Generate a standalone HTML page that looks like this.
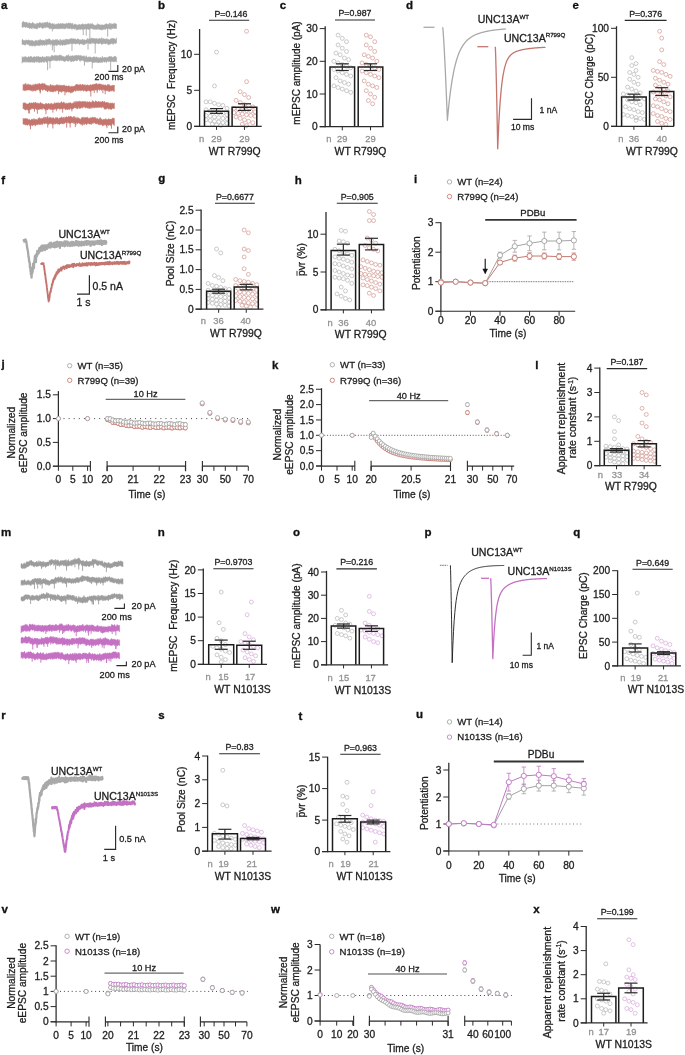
<!DOCTYPE html>
<html><head><meta charset="utf-8"><title>Figure</title>
<style>html,body{margin:0;padding:0;background:#fff;}svg{display:block;filter:blur(0.35px);}text{font-family:"Liberation Sans", Arial, sans-serif;fill:#1e1e1e;stroke:#1e1e1e;stroke-width:0.3px;}</style>
</head><body>
<svg width="685" height="1055" viewBox="0 0 685 1055">
<rect width="685" height="1055" fill="#fff"/>
<text x="1" y="9.4" font-size="11.5" style="fill:#111;stroke:#111" font-weight="bold">a</text>
<path d="M22,22.58 L22.59,22.62 L23.19,21.16 L23.78,21.73 L24.38,22.29 L24.97,22.09 L25.57,22.65 L26.16,22.44 L26.76,21.82 L27.35,23.11 L27.95,23.44 L28.54,23.29 L29.14,22.62 L29.73,22.84 L30.33,23.47 L30.92,23.42 L31.52,23.53 L32.11,22.78 L32.71,22.35 L33.3,22.89 L33.9,23.49 L34.49,23.78 L35.09,24.66 L35.68,23.79 L36.28,23.8 L36.87,23.43 L37.47,23.19 L38.06,23.59 L38.66,23.32 L39.25,22.87 L39.85,22.48 L40.44,22.88 L41.04,22.75 L41.63,23.54 L42.23,23.43 L42.82,22.41 L43.42,23.44 L44.01,22.53 L44.61,22.8 L45.2,23.34 L45.8,22.12 L46.39,22.79 L46.99,22.13 L47.58,21.83 L48.18,23.47 L48.77,23.09 L49.37,22.8 L49.96,22.54 L50.56,23.2 L51.15,24.19 L51.75,23.83 L52.34,23.55 L52.94,23.63 L53.53,24.14 L54.13,23.4 L54.72,24.83 L55.32,24.38 L55.91,24.7 L56.51,23.76 L57.1,24.37 L57.7,24.29 L58.29,23.15 L58.89,24.05 L59.48,24.05 L60.08,23.47 L60.67,23.57 L61.27,23.95 L61.86,23.73 L62.46,23.12 L63.05,24.04 L63.65,23.87 L64.24,24.02 L64.84,23.79 L65.43,23.97 L66.03,23.54 L66.62,23.14 L67.22,23.33 L67.81,24.23 L68.41,22.68 L69,23.95 L69.6,23.08 L70.19,22.98 L70.79,23.22 L71.38,23.58 L71.98,24.29 L72.57,23.05 L73.17,24.89 L73.76,24.88 L74.36,24.31 L74.95,24.22 L75.55,23.99 L76.14,25.01 L76.74,24.69 L77.33,25.39 L77.93,24.42 L78.52,24.97 L79.12,24.64 L79.71,24.03 L80.31,25.35 L80.9,24.53 L81.5,24.6 L82.09,23.81 L82.69,23.9 L83.28,24.43 L83.88,24.14 L84.47,24.59 L85.07,24.48 L85.66,23.81 L86.26,24.42 L86.85,24.18 L87.45,23.99 L88.04,23.5 L88.64,23.59 L89.23,24.15 L89.83,24.42 L90.42,23.38 L91.02,24.48 L91.61,23.94 L92.21,23.37 L92.8,24.37 L93.4,24.78 L93.99,24.66 L94.59,25.85 L95.18,25.01 L95.78,25.39 L96.37,24.89 L96.97,25.31 L97.56,23.57 L98.16,24.27 L98.75,24.55 L99.35,24.8 L99.94,24.59 L100.54,25.14 L101.13,24.83 L101.73,24.9 L102.32,24.75 L102.92,24.92 L103.51,25.11 L104.11,24.91 L104.7,24.86 L105.3,24.12 L105.89,23.82 L106.49,23.79 L107.08,24.18 L107.68,24.76 L108.27,24.11 L108.87,24.18 L109.46,22.97 L110.06,25.25 L110.65,23.38 L111.25,24.77 L111.84,23.49 L112.44,24.16 L113.03,24.11 L113.63,23.72 L114.22,23.39 L114.82,23.13 L115.41,23.61 L116.01,24.27 L116.6,23.92 L116.6,28.13 L116.01,29.04 L115.41,28 L114.82,28.89 L114.22,27.9 L113.63,28.57 L113.03,27.45 L112.44,28.92 L111.84,28.23 L111.25,29.43 L110.65,29.51 L110.06,28.52 L109.46,29.07 L108.87,28.91 L108.27,28.01 L107.68,28.74 L107.08,29.19 L106.49,28.19 L105.89,28.64 L105.3,29.8 L104.7,29.1 L104.11,29.13 L103.51,29.16 L102.92,29.14 L102.32,30.18 L101.73,29.27 L101.13,30.18 L100.54,29.42 L99.94,29.57 L99.35,29.45 L98.75,29.58 L98.16,28.79 L97.56,29.12 L96.97,29.63 L96.37,29.24 L95.78,29.64 L95.18,29.1 L94.59,29.22 L93.99,29.31 L93.4,29.17 L92.8,29.34 L92.21,27.96 L91.61,28.6 L91.02,28.58 L90.42,28.22 L89.83,28.97 L89.23,30.04 L88.64,29.07 L88.04,29.56 L87.45,28.95 L86.85,29.25 L86.26,28.91 L85.66,28.77 L85.07,29.35 L84.47,29.25 L83.88,28.73 L83.28,28.94 L82.69,29.45 L82.09,29.54 L81.5,28.99 L80.9,29.47 L80.31,29.47 L79.71,29.21 L79.12,29.21 L78.52,29.61 L77.93,30.02 L77.33,29.39 L76.74,29.22 L76.14,30.25 L75.55,27.66 L74.95,28.91 L74.36,29.14 L73.76,28.81 L73.17,28.41 L72.57,28.76 L71.98,29.43 L71.38,28.73 L70.79,27.7 L70.19,28.8 L69.6,28.7 L69,27.87 L68.41,28.72 L67.81,28.39 L67.22,28.36 L66.62,27.69 L66.03,27.97 L65.43,28.94 L64.84,28.8 L64.24,28.84 L63.65,28.76 L63.05,28.49 L62.46,28.54 L61.86,28.51 L61.27,28.72 L60.67,28.69 L60.08,28.47 L59.48,28.67 L58.89,29.16 L58.29,28.54 L57.7,28.43 L57.1,29.16 L56.51,28.53 L55.91,29.11 L55.32,28.43 L54.72,28.47 L54.13,28.99 L53.53,29.12 L52.94,29.08 L52.34,27.44 L51.75,28.75 L51.15,27.63 L50.56,28.65 L49.96,29.23 L49.37,28.02 L48.77,27.75 L48.18,27.87 L47.58,27.49 L46.99,26.87 L46.39,27.26 L45.8,27.83 L45.2,27.57 L44.61,27.63 L44.01,27.62 L43.42,27.92 L42.82,28.41 L42.23,28.39 L41.63,28.03 L41.04,26.9 L40.44,27.11 L39.85,27.71 L39.25,27.89 L38.66,27.13 L38.06,27.87 L37.47,28.78 L36.87,28.39 L36.28,29.22 L35.68,28.25 L35.09,28.54 L34.49,28.54 L33.9,27.86 L33.3,28.34 L32.71,28.43 L32.11,26.73 L31.52,28.76 L30.92,28.51 L30.33,28.04 L29.73,28.27 L29.14,28.38 L28.54,27.44 L27.95,28.07 L27.35,27.34 L26.76,26.72 L26.16,27.27 L25.57,27.86 L24.97,26.89 L24.38,26.81 L23.78,27.24 L23.19,26.51 L22.59,27.67 L22,26.71Z" fill="#a9a9a9" stroke="#a9a9a9" stroke-width="0.5"/>
<line x1="52.34" y1="26.44" x2="52.34" y2="31.47" stroke="#a9a9a9" stroke-width="0.9"/>
<line x1="83.28" y1="27.94" x2="83.28" y2="35.01" stroke="#a9a9a9" stroke-width="0.9"/>
<line x1="107.68" y1="27.74" x2="107.68" y2="36.59" stroke="#a9a9a9" stroke-width="0.9"/>
<line x1="89.83" y1="27.97" x2="89.83" y2="38.42" stroke="#a9a9a9" stroke-width="0.9"/>
<line x1="86.26" y1="27.91" x2="86.26" y2="35.66" stroke="#a9a9a9" stroke-width="0.9"/>
<path d="M22,39.78 L22.59,39.34 L23.19,39.99 L23.78,40.59 L24.38,40.55 L24.97,40.71 L25.57,39.92 L26.16,40.38 L26.76,39.86 L27.35,40.58 L27.95,39.88 L28.54,39.88 L29.14,39.98 L29.73,40.85 L30.33,40.66 L30.92,40.59 L31.52,40.14 L32.11,40.89 L32.71,40.14 L33.3,41.63 L33.9,40.9 L34.49,41.13 L35.09,40.97 L35.68,40.2 L36.28,40.23 L36.87,40.74 L37.47,41.41 L38.06,40.03 L38.66,40.13 L39.25,40.42 L39.85,39.55 L40.44,39.52 L41.04,40.13 L41.63,40.37 L42.23,40.03 L42.82,41.04 L43.42,40.1 L44.01,40.21 L44.61,40.74 L45.2,40.65 L45.8,39.14 L46.39,39.55 L46.99,40.32 L47.58,39.13 L48.18,39.24 L48.77,38.97 L49.37,38.92 L49.96,39.17 L50.56,39.9 L51.15,40.51 L51.75,40.81 L52.34,40.18 L52.94,39.27 L53.53,40.17 L54.13,39.99 L54.72,40.36 L55.32,40.03 L55.91,39.31 L56.51,40.3 L57.1,39.13 L57.7,39.99 L58.29,40.41 L58.89,40.49 L59.48,41.11 L60.08,39.09 L60.67,40.38 L61.27,40.41 L61.86,39.93 L62.46,40.43 L63.05,39.41 L63.65,40.37 L64.24,40.33 L64.84,39.49 L65.43,39.49 L66.03,39.56 L66.62,39.09 L67.22,39.82 L67.81,39.12 L68.41,39.63 L69,39.67 L69.6,39.03 L70.19,38.94 L70.79,38.44 L71.38,38.66 L71.98,38.53 L72.57,38.96 L73.17,38.38 L73.76,38.9 L74.36,39.09 L74.95,38.65 L75.55,38.9 L76.14,39.77 L76.74,39.99 L77.33,38.77 L77.93,39.09 L78.52,39.14 L79.12,39.28 L79.71,40.21 L80.31,39.65 L80.9,40.01 L81.5,40.27 L82.09,39.14 L82.69,39.21 L83.28,39.44 L83.88,40.17 L84.47,39.63 L85.07,40.04 L85.66,40.13 L86.26,39.94 L86.85,39.47 L87.45,38.63 L88.04,38.22 L88.64,39.39 L89.23,39.12 L89.83,38.53 L90.42,38.63 L91.02,38.5 L91.61,37.8 L92.21,38.69 L92.8,38.24 L93.4,38.33 L93.99,38.8 L94.59,38.43 L95.18,38.71 L95.78,38.74 L96.37,38.45 L96.97,38.52 L97.56,39.46 L98.16,38.55 L98.75,39.44 L99.35,38.09 L99.94,39.04 L100.54,38.91 L101.13,38.51 L101.73,37.53 L102.32,39.77 L102.92,38.38 L103.51,38.5 L104.11,39.07 L104.7,39.1 L105.3,39.2 L105.89,38.94 L106.49,38.48 L107.08,39.64 L107.68,38.72 L108.27,39.31 L108.87,39.63 L109.46,39.93 L110.06,39.14 L110.65,38.99 L111.25,38.95 L111.84,38.12 L112.44,38.6 L113.03,38.5 L113.63,38.33 L114.22,38.93 L114.82,38.72 L115.41,39.55 L116.01,39.43 L116.6,37.69 L116.6,43.1 L116.01,43.5 L115.41,43.53 L114.82,43 L114.22,43.46 L113.63,43.84 L113.03,44.62 L112.44,43.44 L111.84,43.18 L111.25,43.75 L110.65,44.09 L110.06,44.23 L109.46,44.2 L108.87,44.11 L108.27,45.21 L107.68,43.68 L107.08,43.59 L106.49,43.35 L105.89,44.12 L105.3,44.02 L104.7,43.1 L104.11,43.63 L103.51,42.95 L102.92,44.27 L102.32,43.76 L101.73,44.47 L101.13,44.05 L100.54,42.52 L99.94,43.66 L99.35,43.1 L98.75,43.93 L98.16,43.47 L97.56,43.44 L96.97,43.29 L96.37,43.03 L95.78,43.98 L95.18,43.78 L94.59,43.66 L93.99,42.73 L93.4,43.14 L92.8,43.56 L92.21,42.67 L91.61,42.53 L91.02,44.24 L90.42,43.52 L89.83,44.06 L89.23,43.39 L88.64,43.26 L88.04,42.77 L87.45,42.78 L86.85,43.59 L86.26,43.59 L85.66,43.85 L85.07,43.57 L84.47,44.81 L83.88,45.09 L83.28,44.43 L82.69,44 L82.09,44.47 L81.5,43.63 L80.9,43.46 L80.31,44.12 L79.71,44.12 L79.12,44.9 L78.52,42.4 L77.93,43.96 L77.33,43.06 L76.74,43.87 L76.14,43.74 L75.55,44.34 L74.95,43.24 L74.36,43.39 L73.76,43.4 L73.17,43.89 L72.57,43.61 L71.98,44.05 L71.38,43.34 L70.79,43.86 L70.19,43.51 L69.6,43.82 L69,44.18 L68.41,44.34 L67.81,44.07 L67.22,44.35 L66.62,44.09 L66.03,45.11 L65.43,44.92 L64.84,44.74 L64.24,45.17 L63.65,44.64 L63.05,44.9 L62.46,45.67 L61.86,44.45 L61.27,44.68 L60.67,44.82 L60.08,45.63 L59.48,44.31 L58.89,44.98 L58.29,44.37 L57.7,44.71 L57.1,45.48 L56.51,45.51 L55.91,45.26 L55.32,44.98 L54.72,44.62 L54.13,45.82 L53.53,45.36 L52.94,45.22 L52.34,45.24 L51.75,43.63 L51.15,43.99 L50.56,45.28 L49.96,44.37 L49.37,43.91 L48.77,44.3 L48.18,44.5 L47.58,44.62 L46.99,44.46 L46.39,45.58 L45.8,44 L45.2,45.02 L44.61,45.25 L44.01,45.13 L43.42,44.75 L42.82,44.38 L42.23,45.72 L41.63,44.95 L41.04,44.56 L40.44,45.33 L39.85,45.84 L39.25,45.27 L38.66,45.86 L38.06,44.71 L37.47,45.38 L36.87,45.68 L36.28,45.28 L35.68,44.98 L35.09,46.61 L34.49,46.06 L33.9,45.1 L33.3,46 L32.71,45.06 L32.11,46.44 L31.52,45.34 L30.92,45.94 L30.33,45.23 L29.73,46.12 L29.14,44.6 L28.54,44.68 L27.95,44.44 L27.35,44.33 L26.76,43.6 L26.16,44.57 L25.57,45.06 L24.97,44.86 L24.38,45.04 L23.78,44.57 L23.19,44.74 L22.59,43.99 L22,44.58Z" fill="#a9a9a9" stroke="#a9a9a9" stroke-width="0.5"/>
<line x1="88.04" y1="41.77" x2="88.04" y2="49.71" stroke="#a9a9a9" stroke-width="0.9"/>
<line x1="52.34" y1="44.24" x2="52.34" y2="50.34" stroke="#a9a9a9" stroke-width="0.9"/>
<line x1="95.18" y1="42.78" x2="95.18" y2="53.48" stroke="#a9a9a9" stroke-width="0.9"/>
<line x1="71.98" y1="43.05" x2="71.98" y2="50.98" stroke="#a9a9a9" stroke-width="0.9"/>
<line x1="54.13" y1="44.82" x2="54.13" y2="52.36" stroke="#a9a9a9" stroke-width="0.9"/>
<path d="M22,56.59 L22.59,57.65 L23.19,57.36 L23.78,56.88 L24.38,56.64 L24.97,57.36 L25.57,56.34 L26.16,57.35 L26.76,57.13 L27.35,57.43 L27.95,57.11 L28.54,56.53 L29.14,57.04 L29.73,56.94 L30.33,56.37 L30.92,56.54 L31.52,56.62 L32.11,57.28 L32.71,57.66 L33.3,57.07 L33.9,56.38 L34.49,56.7 L35.09,57.02 L35.68,57.23 L36.28,56.3 L36.87,57.08 L37.47,56.9 L38.06,56.13 L38.66,56.7 L39.25,57.12 L39.85,57.11 L40.44,57.12 L41.04,56.98 L41.63,57.42 L42.23,56.7 L42.82,56.32 L43.42,57.48 L44.01,56.92 L44.61,57.53 L45.2,56.65 L45.8,57.67 L46.39,56.46 L46.99,56.09 L47.58,56.96 L48.18,57.45 L48.77,56.16 L49.37,57.18 L49.96,57.05 L50.56,56.87 L51.15,56.24 L51.75,55.17 L52.34,55.3 L52.94,55.68 L53.53,56.13 L54.13,55.72 L54.72,55.47 L55.32,55.79 L55.91,54.98 L56.51,56.02 L57.1,55.36 L57.7,56.31 L58.29,55.8 L58.89,55.29 L59.48,55.31 L60.08,54.76 L60.67,55.7 L61.27,55.34 L61.86,55.65 L62.46,56.49 L63.05,56.31 L63.65,56.4 L64.24,57.48 L64.84,56.41 L65.43,56.73 L66.03,55.89 L66.62,55.23 L67.22,55.99 L67.81,55.34 L68.41,54.59 L69,56.38 L69.6,56.2 L70.19,55.62 L70.79,56.77 L71.38,56.08 L71.98,55.72 L72.57,55.43 L73.17,56.56 L73.76,55.78 L74.36,55.77 L74.95,55.67 L75.55,55.57 L76.14,55.08 L76.74,55.55 L77.33,55.41 L77.93,56.08 L78.52,55.05 L79.12,55.99 L79.71,55.49 L80.31,55.37 L80.9,55.66 L81.5,55.81 L82.09,55.91 L82.69,56.39 L83.28,56.22 L83.88,55.52 L84.47,56.01 L85.07,57.41 L85.66,56.75 L86.26,55.55 L86.85,56.89 L87.45,57.56 L88.04,57.49 L88.64,56.85 L89.23,56.86 L89.83,57.24 L90.42,57.06 L91.02,57.08 L91.61,58.14 L92.21,57.24 L92.8,58.12 L93.4,56.75 L93.99,57 L94.59,56.8 L95.18,57.65 L95.78,57.09 L96.37,57.01 L96.97,56.92 L97.56,57.66 L98.16,58.13 L98.75,57.31 L99.35,58.12 L99.94,57.76 L100.54,57.36 L101.13,57.75 L101.73,58.25 L102.32,56.25 L102.92,57.55 L103.51,58.15 L104.11,57.21 L104.7,57.57 L105.3,57.6 L105.89,57.39 L106.49,57.39 L107.08,57.76 L107.68,57.46 L108.27,56.97 L108.87,57.09 L109.46,56.16 L110.06,56.44 L110.65,56.66 L111.25,56.74 L111.84,56.46 L112.44,57.41 L113.03,57.06 L113.63,57.37 L114.22,56.18 L114.82,56.58 L115.41,56.35 L116.01,56.7 L116.6,57.59 L116.6,61.83 L116.01,61.76 L115.41,61.61 L114.82,61.32 L114.22,61.89 L113.63,61.76 L113.03,61.91 L112.44,61.13 L111.84,61.67 L111.25,61.28 L110.65,61.77 L110.06,61.86 L109.46,61.37 L108.87,61.48 L108.27,62.05 L107.68,60.43 L107.08,61.46 L106.49,62.6 L105.89,62.19 L105.3,61.25 L104.7,62.34 L104.11,61.89 L103.51,61.45 L102.92,60.97 L102.32,62.99 L101.73,61.94 L101.13,62.32 L100.54,62.19 L99.94,62.95 L99.35,61.8 L98.75,62.88 L98.16,62.4 L97.56,62.42 L96.97,62.35 L96.37,62.26 L95.78,62.37 L95.18,61.9 L94.59,62.17 L93.99,63.07 L93.4,62.25 L92.8,62.73 L92.21,62.2 L91.61,61.53 L91.02,62.11 L90.42,61.25 L89.83,62.06 L89.23,61.44 L88.64,61.78 L88.04,61.81 L87.45,61.81 L86.85,62.44 L86.26,60.94 L85.66,61.52 L85.07,62.01 L84.47,61.21 L83.88,60.71 L83.28,61.08 L82.69,60.4 L82.09,59.87 L81.5,60.43 L80.9,60.22 L80.31,61.53 L79.71,60.99 L79.12,59.9 L78.52,59.51 L77.93,59.86 L77.33,60.66 L76.74,60.76 L76.14,61.07 L75.55,60.06 L74.95,60.45 L74.36,60.94 L73.76,61.06 L73.17,61.8 L72.57,60.64 L71.98,61.48 L71.38,61.49 L70.79,62 L70.19,60.36 L69.6,60.41 L69,60.68 L68.41,61.25 L67.81,61.16 L67.22,60.82 L66.62,60.56 L66.03,60.54 L65.43,61.32 L64.84,61.11 L64.24,61.7 L63.65,60.69 L63.05,61.15 L62.46,60.62 L61.86,59.94 L61.27,60.68 L60.67,59.99 L60.08,60.8 L59.48,60.79 L58.89,60.3 L58.29,59.94 L57.7,60.96 L57.1,60.04 L56.51,61.18 L55.91,60.19 L55.32,60.59 L54.72,60.73 L54.13,60.26 L53.53,60.21 L52.94,60.18 L52.34,60.33 L51.75,60.77 L51.15,61.16 L50.56,60.99 L49.96,60.88 L49.37,61.33 L48.77,61.07 L48.18,60.78 L47.58,61.06 L46.99,61.8 L46.39,62.44 L45.8,61.52 L45.2,61.36 L44.61,61.85 L44.01,62.74 L43.42,61.71 L42.82,61.69 L42.23,61.69 L41.63,62.26 L41.04,62.73 L40.44,61.75 L39.85,62.28 L39.25,62.59 L38.66,62.76 L38.06,61.4 L37.47,61.53 L36.87,62.43 L36.28,61.65 L35.68,61.75 L35.09,61.46 L34.49,62.79 L33.9,61.98 L33.3,62.15 L32.71,62.22 L32.11,62.26 L31.52,61.89 L30.92,61.88 L30.33,62.35 L29.73,62.24 L29.14,62.23 L28.54,62.04 L27.95,62.13 L27.35,61.79 L26.76,62.39 L26.16,61.43 L25.57,61.83 L24.97,62.43 L24.38,61.61 L23.78,61.9 L23.19,62.03 L22.59,62.02 L22,63.23Z" fill="#a9a9a9" stroke="#a9a9a9" stroke-width="0.5"/>
<line x1="49.96" y1="59.88" x2="49.96" y2="68.44" stroke="#a9a9a9" stroke-width="0.9"/>
<line x1="110.65" y1="60.77" x2="110.65" y2="70.18" stroke="#a9a9a9" stroke-width="0.9"/>
<line x1="47.58" y1="60.06" x2="47.58" y2="70.26" stroke="#a9a9a9" stroke-width="0.9"/>
<line x1="84.47" y1="60.21" x2="84.47" y2="65.6" stroke="#a9a9a9" stroke-width="0.9"/>
<line x1="92.21" y1="61.2" x2="92.21" y2="68.45" stroke="#a9a9a9" stroke-width="0.9"/>
<path d="M23,84.28 L23.57,84.89 L24.15,84.42 L24.72,84.26 L25.3,84.29 L25.87,83.07 L26.45,85.6 L27.02,84.46 L27.6,84.98 L28.17,83.69 L28.75,85.26 L29.32,84.64 L29.9,84.73 L30.47,84.9 L31.05,84.55 L31.62,85.65 L32.2,86.01 L32.77,84.47 L33.35,84.79 L33.92,84.89 L34.5,85.28 L35.07,83.68 L35.65,84.37 L36.22,85.11 L36.8,84.03 L37.37,83.8 L37.95,84.66 L38.52,83.91 L39.1,83.2 L39.67,83.82 L40.25,84.34 L40.82,83.92 L41.39,83.89 L41.97,83.55 L42.54,83.15 L43.12,83.42 L43.69,83.98 L44.27,84.07 L44.84,83.42 L45.42,85.28 L45.99,84.68 L46.57,85.27 L47.14,85.37 L47.72,85.91 L48.29,85.33 L48.87,86.53 L49.44,86.31 L50.02,85.37 L50.59,84.14 L51.17,85.25 L51.74,85.79 L52.32,85.44 L52.89,84.92 L53.47,86.02 L54.04,85.3 L54.62,86.38 L55.19,85.19 L55.77,85.99 L56.34,85.33 L56.92,84.43 L57.49,85.1 L58.07,85.08 L58.64,85.95 L59.22,84.63 L59.79,86.02 L60.36,85.45 L60.94,84.91 L61.51,85.69 L62.09,85.05 L62.66,85.67 L63.24,85.24 L63.81,85.25 L64.39,84.92 L64.96,86.13 L65.54,85.96 L66.11,85.92 L66.69,85.84 L67.26,86.61 L67.84,85.94 L68.41,85.84 L68.99,86.05 L69.56,85.88 L70.14,87.14 L70.71,86.62 L71.29,86.26 L71.86,86.22 L72.44,86.21 L73.01,86.72 L73.59,86.36 L74.16,86.12 L74.74,86.35 L75.31,85.15 L75.89,84.55 L76.46,84.34 L77.04,84.44 L77.61,84.59 L78.18,85.32 L78.76,84.45 L79.33,84.96 L79.91,84.47 L80.48,84.15 L81.06,85.37 L81.63,85.38 L82.21,83.97 L82.78,84.56 L83.36,85.3 L83.93,84.58 L84.51,85.47 L85.08,84.53 L85.66,86.17 L86.23,84.83 L86.81,85.48 L87.38,85.04 L87.96,84.66 L88.53,85.51 L89.11,85.7 L89.68,84.94 L90.26,84.52 L90.83,85 L91.41,85.16 L91.98,84.64 L92.56,84.5 L93.13,84.41 L93.71,84.5 L94.28,83.88 L94.86,84.5 L95.43,83.82 L96.01,84.02 L96.58,83.29 L97.15,84.32 L97.73,84.42 L98.3,84.57 L98.88,83.61 L99.45,83.95 L100.03,83.9 L100.6,84.18 L101.18,84.38 L101.75,84.26 L102.33,84.85 L102.9,85.27 L103.48,84.89 L104.05,84.46 L104.63,85.7 L105.2,84.79 L105.78,85.03 L106.35,85.8 L106.93,85.9 L107.5,84.54 L108.08,84.06 L108.65,85.59 L109.23,84.62 L109.8,85.46 L110.38,85.89 L110.95,85.66 L111.53,85.79 L112.1,85.51 L112.68,85.29 L113.25,85.31 L113.83,85.6 L114.4,85.04 L114.4,91.35 L113.83,91.85 L113.25,90.54 L112.68,90.77 L112.1,90.21 L111.53,91.34 L110.95,90.55 L110.38,90.87 L109.8,91.65 L109.23,91.32 L108.65,91.55 L108.08,89.86 L107.5,90.99 L106.93,90.75 L106.35,90.73 L105.78,90.65 L105.2,89.73 L104.63,90.39 L104.05,90.03 L103.48,89.62 L102.9,89.47 L102.33,89.51 L101.75,90.27 L101.18,90.25 L100.6,89.55 L100.03,89.59 L99.45,90.51 L98.88,89.73 L98.3,89.02 L97.73,89.92 L97.15,90.76 L96.58,89.67 L96.01,89.73 L95.43,90.35 L94.86,89.64 L94.28,89.27 L93.71,90.28 L93.13,90.38 L92.56,90.6 L91.98,90.86 L91.41,90.37 L90.83,91.13 L90.26,91.55 L89.68,90.52 L89.11,91.07 L88.53,90.15 L87.96,91.04 L87.38,90.68 L86.81,91.49 L86.23,91.2 L85.66,91.06 L85.08,90.74 L84.51,90.5 L83.93,89.91 L83.36,91.46 L82.78,90.1 L82.21,90.36 L81.63,90.56 L81.06,90.7 L80.48,90.75 L79.91,90.32 L79.33,90.49 L78.76,91.12 L78.18,89.7 L77.61,91.06 L77.04,89.87 L76.46,90.05 L75.89,91.49 L75.31,90.99 L74.74,90.22 L74.16,91.02 L73.59,91.13 L73.01,92.47 L72.44,92.01 L71.86,92.54 L71.29,92.48 L70.71,93.3 L70.14,91.98 L69.56,92.04 L68.99,92.35 L68.41,92.09 L67.84,92.04 L67.26,91.41 L66.69,91.69 L66.11,92.68 L65.54,91.89 L64.96,90.93 L64.39,91.28 L63.81,91.25 L63.24,91.12 L62.66,91.45 L62.09,91.23 L61.51,92.5 L60.94,91.1 L60.36,91.8 L59.79,90.57 L59.22,91.95 L58.64,91.32 L58.07,90.98 L57.49,90.45 L56.92,90.29 L56.34,90.67 L55.77,91.65 L55.19,90.73 L54.62,90.89 L54.04,91.55 L53.47,92.05 L52.89,91.8 L52.32,91.68 L51.74,92.01 L51.17,90.81 L50.59,91.43 L50.02,92.05 L49.44,90.33 L48.87,90.63 L48.29,90.76 L47.72,91.92 L47.14,91.65 L46.57,89.84 L45.99,90.84 L45.42,90.16 L44.84,89.7 L44.27,89.53 L43.69,90 L43.12,89.13 L42.54,90.57 L41.97,89.25 L41.39,89.26 L40.82,89.92 L40.25,89.59 L39.67,90.84 L39.1,89.93 L38.52,89.33 L37.95,90.19 L37.37,89.92 L36.8,89.21 L36.22,90.7 L35.65,90.8 L35.07,90.83 L34.5,90.38 L33.92,90.25 L33.35,91.21 L32.77,89.6 L32.2,91.51 L31.62,90.77 L31.05,90.23 L30.47,90.51 L29.9,89.88 L29.32,90.17 L28.75,89.9 L28.17,89.83 L27.6,89.88 L27.02,90.17 L26.45,90.32 L25.87,90.76 L25.3,89.85 L24.72,90.79 L24.15,90.52 L23.57,89.85 L23,90.62Z" fill="#c4756e" stroke="#c4756e" stroke-width="0.5"/>
<line x1="40.25" y1="88.59" x2="40.25" y2="93.44" stroke="#c4756e" stroke-width="0.9"/>
<line x1="105.2" y1="88.73" x2="105.2" y2="94.26" stroke="#c4756e" stroke-width="0.9"/>
<line x1="58.64" y1="90.32" x2="58.64" y2="94.25" stroke="#c4756e" stroke-width="0.9"/>
<line x1="94.28" y1="88.27" x2="94.28" y2="92.93" stroke="#c4756e" stroke-width="0.9"/>
<line x1="90.83" y1="90.13" x2="90.83" y2="96.58" stroke="#c4756e" stroke-width="0.9"/>
<line x1="97.15" y1="89.76" x2="97.15" y2="92.86" stroke="#c4756e" stroke-width="0.9"/>
<line x1="102.9" y1="88.47" x2="102.9" y2="93.2" stroke="#c4756e" stroke-width="0.9"/>
<line x1="40.25" y1="88.59" x2="40.25" y2="92.33" stroke="#c4756e" stroke-width="0.9"/>
<line x1="64.96" y1="89.93" x2="64.96" y2="95.37" stroke="#c4756e" stroke-width="0.9"/>
<path d="M23,102.81 L23.57,103.53 L24.15,102.49 L24.72,103.08 L25.3,103.04 L25.87,103.48 L26.45,103.69 L27.02,104.12 L27.6,103.94 L28.17,103.96 L28.75,103.76 L29.32,102.84 L29.9,102.73 L30.47,103.83 L31.05,102.64 L31.62,102.98 L32.2,103.36 L32.77,102.96 L33.35,102.62 L33.92,102.37 L34.5,102.82 L35.07,103.57 L35.65,101.91 L36.22,102.8 L36.8,103.45 L37.37,103.23 L37.95,102.97 L38.52,103.39 L39.1,103.49 L39.67,103.68 L40.25,102.35 L40.82,102.84 L41.39,103.42 L41.97,103.56 L42.54,103.63 L43.12,103.93 L43.69,104.25 L44.27,104.01 L44.84,105.21 L45.42,103.54 L45.99,103.8 L46.57,103.18 L47.14,104.29 L47.72,104.02 L48.29,103.86 L48.87,103.08 L49.44,104.68 L50.02,103.87 L50.59,104.1 L51.17,102.95 L51.74,103.69 L52.32,103.85 L52.89,104.45 L53.47,103.77 L54.04,103.89 L54.62,102.44 L55.19,103.2 L55.77,103.28 L56.34,103.1 L56.92,102.81 L57.49,102.74 L58.07,103.54 L58.64,102.51 L59.22,103.07 L59.79,103.14 L60.36,102.63 L60.94,102.93 L61.51,101.52 L62.09,102.46 L62.66,103.34 L63.24,102.38 L63.81,101.79 L64.39,103.64 L64.96,102.58 L65.54,104.21 L66.11,103.54 L66.69,102.9 L67.26,102.98 L67.84,103.89 L68.41,102.98 L68.99,102.84 L69.56,103.02 L70.14,102.82 L70.71,102.63 L71.29,103.47 L71.86,103.75 L72.44,102.83 L73.01,103.44 L73.59,102.95 L74.16,101.48 L74.74,102.6 L75.31,102.95 L75.89,100.98 L76.46,101.95 L77.04,102.33 L77.61,101.34 L78.18,101.83 L78.76,101.53 L79.33,101.14 L79.91,101.43 L80.48,101.44 L81.06,101.76 L81.63,101.67 L82.21,101.44 L82.78,101.39 L83.36,101.45 L83.93,101.99 L84.51,101.19 L85.08,102.58 L85.66,101.29 L86.23,102.96 L86.81,101.82 L87.38,101.77 L87.96,101.72 L88.53,102.28 L89.11,102.12 L89.68,101.43 L90.26,102.16 L90.83,102.2 L91.41,102.06 L91.98,102.61 L92.56,100.49 L93.13,101.64 L93.71,101.28 L94.28,101.92 L94.86,102.72 L95.43,100.85 L96.01,101.07 L96.58,101.39 L97.15,102.06 L97.73,102.16 L98.3,101.08 L98.88,102.08 L99.45,101.67 L100.03,102.35 L100.6,101.83 L101.18,102.02 L101.75,101.81 L102.33,101.2 L102.9,101.26 L103.48,102.18 L104.05,101.57 L104.63,101.65 L105.2,102.11 L105.78,102.69 L106.35,102.83 L106.93,102.06 L107.5,102.49 L108.08,102.99 L108.65,102.64 L109.23,103.55 L109.8,103.18 L110.38,102.76 L110.95,103.55 L111.53,103.04 L112.1,103.74 L112.68,102.69 L113.25,103.54 L113.83,103.81 L114.4,102.91 L114.4,108.91 L113.83,108.35 L113.25,108.55 L112.68,108.29 L112.1,108.6 L111.53,109.57 L110.95,109.04 L110.38,109.44 L109.8,108.44 L109.23,109 L108.65,109.4 L108.08,107.88 L107.5,108.22 L106.93,108.03 L106.35,109.17 L105.78,109.21 L105.2,108.99 L104.63,109.31 L104.05,108.28 L103.48,107.41 L102.9,107.33 L102.33,106.79 L101.75,107.6 L101.18,107.7 L100.6,107.2 L100.03,107.33 L99.45,107.04 L98.88,108.02 L98.3,106.78 L97.73,107.31 L97.15,107.76 L96.58,107.77 L96.01,107.01 L95.43,107.59 L94.86,107.51 L94.28,108.05 L93.71,107.85 L93.13,107.34 L92.56,107.68 L91.98,107.33 L91.41,108.32 L90.83,108.4 L90.26,107.3 L89.68,108.93 L89.11,107.21 L88.53,108.32 L87.96,107.96 L87.38,108.13 L86.81,107.46 L86.23,107.54 L85.66,108.03 L85.08,107.62 L84.51,107.27 L83.93,106.61 L83.36,107.1 L82.78,108.17 L82.21,107.16 L81.63,107.07 L81.06,108.45 L80.48,108.2 L79.91,107.64 L79.33,108.75 L78.76,106.56 L78.18,107.86 L77.61,109.23 L77.04,108.03 L76.46,108.53 L75.89,107.33 L75.31,108.24 L74.74,107.07 L74.16,108.02 L73.59,108.46 L73.01,108.59 L72.44,109.19 L71.86,108.64 L71.29,109.23 L70.71,108.75 L70.14,107.72 L69.56,109.51 L68.99,109.78 L68.41,108.66 L67.84,109.83 L67.26,109.52 L66.69,109.35 L66.11,109.2 L65.54,109.78 L64.96,109.53 L64.39,108.12 L63.81,108.53 L63.24,108.55 L62.66,108.18 L62.09,109.17 L61.51,108.71 L60.94,108.67 L60.36,108.93 L59.79,109.4 L59.22,108.7 L58.64,108.3 L58.07,108.74 L57.49,108.93 L56.92,108.66 L56.34,109.08 L55.77,108.17 L55.19,109.2 L54.62,109.23 L54.04,109.34 L53.47,109.22 L52.89,109.39 L52.32,109.84 L51.74,108.81 L51.17,109.74 L50.59,109.2 L50.02,109.67 L49.44,108.78 L48.87,108.44 L48.29,108.89 L47.72,109.97 L47.14,109.72 L46.57,109.44 L45.99,109.2 L45.42,110.46 L44.84,108.81 L44.27,109.11 L43.69,108.74 L43.12,107.69 L42.54,108.75 L41.97,109.86 L41.39,108.4 L40.82,108.91 L40.25,108.89 L39.67,109.47 L39.1,108.68 L38.52,109.72 L37.95,109.4 L37.37,107.97 L36.8,109.41 L36.22,109.48 L35.65,108.38 L35.07,108.24 L34.5,109.09 L33.92,108.87 L33.35,108.91 L32.77,108.08 L32.2,108.99 L31.62,108.82 L31.05,108.85 L30.47,109.8 L29.9,108.88 L29.32,109.8 L28.75,110.22 L28.17,110.57 L27.6,109.2 L27.02,110.13 L26.45,108.73 L25.87,109.89 L25.3,110.16 L24.72,109.41 L24.15,108.96 L23.57,108.62 L23,109.12Z" fill="#c4756e" stroke="#c4756e" stroke-width="0.5"/>
<line x1="34.5" y1="108.09" x2="34.5" y2="111.69" stroke="#c4756e" stroke-width="0.9"/>
<line x1="28.75" y1="109.22" x2="28.75" y2="113.42" stroke="#c4756e" stroke-width="0.9"/>
<line x1="52.89" y1="108.39" x2="52.89" y2="112.63" stroke="#c4756e" stroke-width="0.9"/>
<line x1="62.66" y1="107.18" x2="62.66" y2="112.65" stroke="#c4756e" stroke-width="0.9"/>
<line x1="37.37" y1="106.97" x2="37.37" y2="113.78" stroke="#c4756e" stroke-width="0.9"/>
<line x1="71.86" y1="107.64" x2="71.86" y2="111.3" stroke="#c4756e" stroke-width="0.9"/>
<line x1="29.32" y1="108.8" x2="29.32" y2="113.43" stroke="#c4756e" stroke-width="0.9"/>
<line x1="45.99" y1="108.2" x2="45.99" y2="114.25" stroke="#c4756e" stroke-width="0.9"/>
<line x1="56.34" y1="108.08" x2="56.34" y2="111.22" stroke="#c4756e" stroke-width="0.9"/>
<path d="M23,118.13 L23.57,119.46 L24.15,118.54 L24.72,118.86 L25.3,118.81 L25.87,118.22 L26.45,118.77 L27.02,118.66 L27.6,118.77 L28.17,119.76 L28.75,119.63 L29.32,119.27 L29.9,119.66 L30.47,120.23 L31.05,119.6 L31.62,119.23 L32.2,119.78 L32.77,119.01 L33.35,118.6 L33.92,120.44 L34.5,118.65 L35.07,119.45 L35.65,119.52 L36.22,119.03 L36.8,120.28 L37.37,120.02 L37.95,119.06 L38.52,117.85 L39.1,118.84 L39.67,117.56 L40.25,118.6 L40.82,118.82 L41.39,118.45 L41.97,118.83 L42.54,118.26 L43.12,117.54 L43.69,117.66 L44.27,118.63 L44.84,116.7 L45.42,118.06 L45.99,116.99 L46.57,119.04 L47.14,116.88 L47.72,116.25 L48.29,118.14 L48.87,118.18 L49.44,117.36 L50.02,117.7 L50.59,117.14 L51.17,117.85 L51.74,118.34 L52.32,118.06 L52.89,117.83 L53.47,117.54 L54.04,118.51 L54.62,118.86 L55.19,118.66 L55.77,117.25 L56.34,118.06 L56.92,117.45 L57.49,117.68 L58.07,118.2 L58.64,119.55 L59.22,118.04 L59.79,118 L60.36,117.64 L60.94,118.12 L61.51,116.73 L62.09,118.01 L62.66,118 L63.24,116.91 L63.81,118.28 L64.39,118.61 L64.96,116.78 L65.54,117.6 L66.11,116.85 L66.69,116.67 L67.26,117.57 L67.84,117.26 L68.41,116.32 L68.99,116.2 L69.56,117.15 L70.14,116.22 L70.71,116.19 L71.29,116.94 L71.86,116.7 L72.44,117.18 L73.01,118.14 L73.59,116.26 L74.16,118.04 L74.74,116.42 L75.31,117.5 L75.89,118.24 L76.46,119 L77.04,116.87 L77.61,118.77 L78.18,117.86 L78.76,118.08 L79.33,118.28 L79.91,119.16 L80.48,119.42 L81.06,118.31 L81.63,117.85 L82.21,117.67 L82.78,116.89 L83.36,117.31 L83.93,118.81 L84.51,117.3 L85.08,117.3 L85.66,117.7 L86.23,117.6 L86.81,117.48 L87.38,117.28 L87.96,117.42 L88.53,118.8 L89.11,118.41 L89.68,118.09 L90.26,117.52 L90.83,118.13 L91.41,118.11 L91.98,117.29 L92.56,117.09 L93.13,117.91 L93.71,117.39 L94.28,117.2 L94.86,117.81 L95.43,117.85 L96.01,117.62 L96.58,119.16 L97.15,118.57 L97.73,118.48 L98.3,119.07 L98.88,119.53 L99.45,118.71 L100.03,117.42 L100.6,118.11 L101.18,118.91 L101.75,119.17 L102.33,120.11 L102.9,119.56 L103.48,119.17 L104.05,119.85 L104.63,119.03 L105.2,119.88 L105.78,118.33 L106.35,120.22 L106.93,119.16 L107.5,119.99 L108.08,119.31 L108.65,118.59 L109.23,119.31 L109.8,119.35 L110.38,119.34 L110.95,119.11 L111.53,119.32 L112.1,118.66 L112.68,117.85 L113.25,118.57 L113.83,118.01 L114.4,118.55 L114.4,125.6 L113.83,125.11 L113.25,124.69 L112.68,122.73 L112.1,124.53 L111.53,124.8 L110.95,124.75 L110.38,125.66 L109.8,124.91 L109.23,124.86 L108.65,125.32 L108.08,125.43 L107.5,124.62 L106.93,125.68 L106.35,126.01 L105.78,125.06 L105.2,124.84 L104.63,124.99 L104.05,124.54 L103.48,125.59 L102.9,125.86 L102.33,125.65 L101.75,124.73 L101.18,124.43 L100.6,124.97 L100.03,124.28 L99.45,124.71 L98.88,124.53 L98.3,124.53 L97.73,124.14 L97.15,122.92 L96.58,123.96 L96.01,123.63 L95.43,123.71 L94.86,123.18 L94.28,122.43 L93.71,123.5 L93.13,122.36 L92.56,123.45 L91.98,123.37 L91.41,124.6 L90.83,124.03 L90.26,123.89 L89.68,123.81 L89.11,124.16 L88.53,123.45 L87.96,122.95 L87.38,123.63 L86.81,124.66 L86.23,124.56 L85.66,123.78 L85.08,123.49 L84.51,124.31 L83.93,125 L83.36,123.36 L82.78,123.89 L82.21,125.66 L81.63,123.65 L81.06,124.47 L80.48,124.13 L79.91,123 L79.33,123.71 L78.76,122.77 L78.18,122.85 L77.61,123.63 L77.04,123.49 L76.46,122.82 L75.89,123.14 L75.31,122.94 L74.74,123.81 L74.16,122.34 L73.59,123.52 L73.01,122.22 L72.44,123.05 L71.86,122.53 L71.29,122.89 L70.71,123.35 L70.14,123.05 L69.56,123.46 L68.99,123.09 L68.41,123.04 L67.84,121.43 L67.26,122.97 L66.69,122.56 L66.11,122.1 L65.54,122.81 L64.96,123.33 L64.39,123.24 L63.81,124.07 L63.24,123.56 L62.66,123.7 L62.09,123.68 L61.51,123.32 L60.94,124.02 L60.36,123.46 L59.79,124.22 L59.22,124.7 L58.64,123.78 L58.07,124.26 L57.49,123.92 L56.92,123.36 L56.34,123.62 L55.77,124.2 L55.19,123.82 L54.62,123.36 L54.04,124.57 L53.47,123.5 L52.89,124.35 L52.32,124.61 L51.74,123.6 L51.17,123.87 L50.59,123.51 L50.02,123.69 L49.44,123.24 L48.87,124.64 L48.29,124.36 L47.72,123.61 L47.14,123.39 L46.57,123.46 L45.99,123.39 L45.42,123.32 L44.84,123.9 L44.27,123.86 L43.69,122.96 L43.12,123.24 L42.54,124.45 L41.97,124.78 L41.39,123.58 L40.82,124.64 L40.25,124.27 L39.67,124.22 L39.1,124.87 L38.52,123.98 L37.95,124.2 L37.37,125.02 L36.8,124.66 L36.22,124.44 L35.65,125.44 L35.07,126.24 L34.5,124.07 L33.92,125.15 L33.35,124.87 L32.77,125.29 L32.2,125.95 L31.62,124.86 L31.05,125.42 L30.47,123.9 L29.9,126.15 L29.32,124.78 L28.75,123.75 L28.17,124.95 L27.6,125.26 L27.02,125.2 L26.45,124.8 L25.87,124.94 L25.3,124.77 L24.72,124.7 L24.15,124.03 L23.57,124.27 L23,124.11Z" fill="#c4756e" stroke="#c4756e" stroke-width="0.5"/>
<line x1="106.93" y1="124.68" x2="106.93" y2="128.21" stroke="#c4756e" stroke-width="0.9"/>
<line x1="111.53" y1="123.8" x2="111.53" y2="128.67" stroke="#c4756e" stroke-width="0.9"/>
<line x1="52.89" y1="123.35" x2="52.89" y2="128.52" stroke="#c4756e" stroke-width="0.9"/>
<line x1="75.31" y1="121.94" x2="75.31" y2="127.1" stroke="#c4756e" stroke-width="0.9"/>
<line x1="70.14" y1="122.05" x2="70.14" y2="127.54" stroke="#c4756e" stroke-width="0.9"/>
<line x1="75.89" y1="122.14" x2="75.89" y2="125.31" stroke="#c4756e" stroke-width="0.9"/>
<line x1="30.47" y1="122.9" x2="30.47" y2="129.31" stroke="#c4756e" stroke-width="0.9"/>
<line x1="66.69" y1="121.56" x2="66.69" y2="127.62" stroke="#c4756e" stroke-width="0.9"/>
<line x1="47.72" y1="122.61" x2="47.72" y2="127.55" stroke="#c4756e" stroke-width="0.9"/>
<path d="M108.4,71.4H117.8V65.1" fill="none" stroke="#2b2b2b" stroke-width="1.15"/>
<text x="122" y="71.8" font-size="8.8">20 pA</text>
<text x="94.6" y="79.7" font-size="8.8">200 ms</text>
<path d="M108.4,132.7H117.8V126.4" fill="none" stroke="#2b2b2b" stroke-width="1.15"/>
<text x="122" y="131.6" font-size="8.8">20 pA</text>
<text x="94.6" y="142.7" font-size="8.8">200 ms</text>
<text x="158" y="9.3" font-size="11.5" style="fill:#111;stroke:#111" font-weight="bold">b</text>
<line x1="199.6" y1="29" x2="199.6" y2="126.9" stroke="#2b2b2b" stroke-width="1.3" />
<line x1="194.1" y1="126.3" x2="199.6" y2="126.3" stroke="#2b2b2b" stroke-width="1" />
<text x="192.1" y="129.97" font-size="10.2" text-anchor="end">0</text>
<line x1="194.1" y1="90.3" x2="199.6" y2="90.3" stroke="#2b2b2b" stroke-width="1" />
<text x="192.1" y="93.97" font-size="10.2" text-anchor="end">5</text>
<line x1="194.1" y1="54.3" x2="199.6" y2="54.3" stroke="#2b2b2b" stroke-width="1" />
<text x="192.1" y="57.97" font-size="10.2" text-anchor="end">10</text>
<rect x="204.5" y="111.18" width="24.1" height="15.12" fill="#fff" stroke="none" stroke-width="0"/>
<rect x="232.1" y="107.29" width="24.7" height="19.01" fill="#fff" stroke="none" stroke-width="0"/>
<circle cx="216.55" cy="52.14" r="1.95" fill="none" stroke="#bdbdbd" stroke-width="0.8"/>
<circle cx="214.44" cy="85.98" r="1.95" fill="none" stroke="#bdbdbd" stroke-width="0.8"/>
<circle cx="206.02" cy="101.82" r="1.95" fill="none" stroke="#bdbdbd" stroke-width="0.8"/>
<circle cx="210.23" cy="101.82" r="1.95" fill="none" stroke="#bdbdbd" stroke-width="0.8"/>
<circle cx="214.44" cy="103.26" r="1.95" fill="none" stroke="#bdbdbd" stroke-width="0.8"/>
<circle cx="218.66" cy="104.7" r="1.95" fill="none" stroke="#bdbdbd" stroke-width="0.8"/>
<circle cx="222.87" cy="105.42" r="1.95" fill="none" stroke="#bdbdbd" stroke-width="0.8"/>
<circle cx="227.08" cy="108.3" r="1.95" fill="none" stroke="#bdbdbd" stroke-width="0.8"/>
<circle cx="206.02" cy="109.74" r="1.95" fill="none" stroke="#bdbdbd" stroke-width="0.8"/>
<circle cx="210.23" cy="111.18" r="1.95" fill="none" stroke="#bdbdbd" stroke-width="0.8"/>
<circle cx="214.44" cy="111.9" r="1.95" fill="none" stroke="#bdbdbd" stroke-width="0.8"/>
<circle cx="218.66" cy="112.62" r="1.95" fill="none" stroke="#bdbdbd" stroke-width="0.8"/>
<circle cx="222.87" cy="113.34" r="1.95" fill="none" stroke="#bdbdbd" stroke-width="0.8"/>
<circle cx="227.08" cy="114.78" r="1.95" fill="none" stroke="#bdbdbd" stroke-width="0.8"/>
<circle cx="206.02" cy="115.5" r="1.95" fill="none" stroke="#bdbdbd" stroke-width="0.8"/>
<circle cx="210.23" cy="116.22" r="1.95" fill="none" stroke="#bdbdbd" stroke-width="0.8"/>
<circle cx="214.44" cy="116.94" r="1.95" fill="none" stroke="#bdbdbd" stroke-width="0.8"/>
<circle cx="218.66" cy="117.66" r="1.95" fill="none" stroke="#bdbdbd" stroke-width="0.8"/>
<circle cx="222.87" cy="118.38" r="1.95" fill="none" stroke="#bdbdbd" stroke-width="0.8"/>
<circle cx="227.08" cy="119.1" r="1.95" fill="none" stroke="#bdbdbd" stroke-width="0.8"/>
<circle cx="206.02" cy="119.82" r="1.95" fill="none" stroke="#bdbdbd" stroke-width="0.8"/>
<circle cx="210.23" cy="120.54" r="1.95" fill="none" stroke="#bdbdbd" stroke-width="0.8"/>
<circle cx="214.44" cy="121.26" r="1.95" fill="none" stroke="#bdbdbd" stroke-width="0.8"/>
<circle cx="218.66" cy="121.98" r="1.95" fill="none" stroke="#bdbdbd" stroke-width="0.8"/>
<circle cx="222.87" cy="122.7" r="1.95" fill="none" stroke="#bdbdbd" stroke-width="0.8"/>
<circle cx="227.08" cy="123.42" r="1.95" fill="none" stroke="#bdbdbd" stroke-width="0.8"/>
<circle cx="212.34" cy="124.14" r="1.95" fill="none" stroke="#bdbdbd" stroke-width="0.8"/>
<circle cx="216.55" cy="124.86" r="1.95" fill="none" stroke="#bdbdbd" stroke-width="0.8"/>
<circle cx="220.76" cy="125.58" r="1.95" fill="none" stroke="#bdbdbd" stroke-width="0.8"/>
<circle cx="246.56" cy="31.26" r="1.95" fill="none" stroke="#d6a29c" stroke-width="0.8"/>
<circle cx="246.56" cy="81.66" r="1.95" fill="none" stroke="#d6a29c" stroke-width="0.8"/>
<circle cx="240.24" cy="91.74" r="1.95" fill="none" stroke="#d6a29c" stroke-width="0.8"/>
<circle cx="244.45" cy="94.62" r="1.95" fill="none" stroke="#d6a29c" stroke-width="0.8"/>
<circle cx="248.66" cy="97.5" r="1.95" fill="none" stroke="#d6a29c" stroke-width="0.8"/>
<circle cx="236.03" cy="100.38" r="1.95" fill="none" stroke="#d6a29c" stroke-width="0.8"/>
<circle cx="240.24" cy="102.54" r="1.95" fill="none" stroke="#d6a29c" stroke-width="0.8"/>
<circle cx="244.45" cy="104.7" r="1.95" fill="none" stroke="#d6a29c" stroke-width="0.8"/>
<circle cx="248.66" cy="105.42" r="1.95" fill="none" stroke="#d6a29c" stroke-width="0.8"/>
<circle cx="252.87" cy="106.86" r="1.95" fill="none" stroke="#d6a29c" stroke-width="0.8"/>
<circle cx="233.92" cy="108.3" r="1.95" fill="none" stroke="#d6a29c" stroke-width="0.8"/>
<circle cx="238.13" cy="109.02" r="1.95" fill="none" stroke="#d6a29c" stroke-width="0.8"/>
<circle cx="242.34" cy="109.74" r="1.95" fill="none" stroke="#d6a29c" stroke-width="0.8"/>
<circle cx="246.56" cy="110.46" r="1.95" fill="none" stroke="#d6a29c" stroke-width="0.8"/>
<circle cx="250.77" cy="111.18" r="1.95" fill="none" stroke="#d6a29c" stroke-width="0.8"/>
<circle cx="254.98" cy="111.9" r="1.95" fill="none" stroke="#d6a29c" stroke-width="0.8"/>
<circle cx="233.92" cy="112.62" r="1.95" fill="none" stroke="#d6a29c" stroke-width="0.8"/>
<circle cx="238.13" cy="113.34" r="1.95" fill="none" stroke="#d6a29c" stroke-width="0.8"/>
<circle cx="242.34" cy="114.06" r="1.95" fill="none" stroke="#d6a29c" stroke-width="0.8"/>
<circle cx="246.56" cy="114.78" r="1.95" fill="none" stroke="#d6a29c" stroke-width="0.8"/>
<circle cx="250.77" cy="115.5" r="1.95" fill="none" stroke="#d6a29c" stroke-width="0.8"/>
<circle cx="254.98" cy="116.22" r="1.95" fill="none" stroke="#d6a29c" stroke-width="0.8"/>
<circle cx="236.03" cy="116.94" r="1.95" fill="none" stroke="#d6a29c" stroke-width="0.8"/>
<circle cx="240.24" cy="118.38" r="1.95" fill="none" stroke="#d6a29c" stroke-width="0.8"/>
<circle cx="244.45" cy="119.82" r="1.95" fill="none" stroke="#d6a29c" stroke-width="0.8"/>
<circle cx="248.66" cy="121.26" r="1.95" fill="none" stroke="#d6a29c" stroke-width="0.8"/>
<circle cx="252.87" cy="122.7" r="1.95" fill="none" stroke="#d6a29c" stroke-width="0.8"/>
<circle cx="242.34" cy="124.14" r="1.95" fill="none" stroke="#d6a29c" stroke-width="0.8"/>
<circle cx="246.56" cy="125.58" r="1.95" fill="none" stroke="#d6a29c" stroke-width="0.8"/>
<path d="M204.5,126.3V111.18H228.6V126.3" fill="none" stroke="#1c1c1c" stroke-width="1.5"/>
<line x1="216.55" y1="113.34" x2="216.55" y2="108.59" stroke="#2b2b2b" stroke-width="1.2" />
<line x1="210.05" y1="108.59" x2="223.05" y2="108.59" stroke="#2b2b2b" stroke-width="1.2" />
<line x1="210.05" y1="113.34" x2="223.05" y2="113.34" stroke="#2b2b2b" stroke-width="1.2" />
<line x1="216.55" y1="126.3" x2="216.55" y2="129.9" stroke="#2b2b2b" stroke-width="1" />
<path d="M232.1,126.3V107.29H256.8V126.3" fill="none" stroke="#1c1c1c" stroke-width="1.5"/>
<line x1="244.45" y1="110.39" x2="244.45" y2="103.76" stroke="#2b2b2b" stroke-width="1.2" />
<line x1="237.95" y1="103.76" x2="250.95" y2="103.76" stroke="#2b2b2b" stroke-width="1.2" />
<line x1="237.95" y1="110.39" x2="250.95" y2="110.39" stroke="#2b2b2b" stroke-width="1.2" />
<line x1="244.45" y1="126.3" x2="244.45" y2="129.9" stroke="#2b2b2b" stroke-width="1" />
<line x1="194.1" y1="126.3" x2="261.7" y2="126.3" stroke="#2b2b2b" stroke-width="1.3" />
<line x1="209" y1="20.3" x2="249.2" y2="20.3" stroke="#2b2b2b" stroke-width="1.1" />
<text x="230.9" y="16.6" font-size="8.8" text-anchor="middle">P=0.146</text>
<text x="199" y="142.18" font-size="9.4" style="fill:#929292;stroke:#929292">n</text>
<text x="216.5" y="142.18" font-size="9.4" text-anchor="middle" style="fill:#929292;stroke:#929292">29</text>
<text x="244.5" y="142.18" font-size="9.4" text-anchor="middle" style="fill:#929292;stroke:#929292">29</text>
<text x="234.7" y="154.95" font-size="10.4" text-anchor="middle">WT R799Q</text>
<text x="174.6" y="75" font-size="10" text-anchor="middle" transform="rotate(-90 174.6 75)">mEPSC&#160; Frequency (Hz)</text>
<text x="279.7" y="9.3" font-size="11.5" style="fill:#111;stroke:#111" font-weight="bold">c</text>
<line x1="325.2" y1="26.2" x2="325.2" y2="127.3" stroke="#2b2b2b" stroke-width="1.3" />
<line x1="319.7" y1="126.7" x2="325.2" y2="126.7" stroke="#2b2b2b" stroke-width="1" />
<text x="317.7" y="130.37" font-size="10.2" text-anchor="end">0</text>
<line x1="319.7" y1="94" x2="325.2" y2="94" stroke="#2b2b2b" stroke-width="1" />
<text x="317.7" y="97.67" font-size="10.2" text-anchor="end">10</text>
<line x1="319.7" y1="61.3" x2="325.2" y2="61.3" stroke="#2b2b2b" stroke-width="1" />
<text x="317.7" y="64.97" font-size="10.2" text-anchor="end">20</text>
<line x1="319.7" y1="28.6" x2="325.2" y2="28.6" stroke="#2b2b2b" stroke-width="1" />
<text x="317.7" y="32.27" font-size="10.2" text-anchor="end">30</text>
<rect x="330" y="66.99" width="24.6" height="59.71" fill="#fff" stroke="none" stroke-width="0"/>
<rect x="358.2" y="66.99" width="24.6" height="59.71" fill="#fff" stroke="none" stroke-width="0"/>
<circle cx="338.09" cy="35.14" r="1.95" fill="none" stroke="#bdbdbd" stroke-width="0.8"/>
<circle cx="342.3" cy="38.41" r="1.95" fill="none" stroke="#bdbdbd" stroke-width="0.8"/>
<circle cx="346.51" cy="41.68" r="1.95" fill="none" stroke="#bdbdbd" stroke-width="0.8"/>
<circle cx="338.09" cy="44.95" r="1.95" fill="none" stroke="#bdbdbd" stroke-width="0.8"/>
<circle cx="342.3" cy="48.22" r="1.95" fill="none" stroke="#bdbdbd" stroke-width="0.8"/>
<circle cx="346.51" cy="51.49" r="1.95" fill="none" stroke="#bdbdbd" stroke-width="0.8"/>
<circle cx="335.98" cy="53.12" r="1.95" fill="none" stroke="#bdbdbd" stroke-width="0.8"/>
<circle cx="340.19" cy="54.76" r="1.95" fill="none" stroke="#bdbdbd" stroke-width="0.8"/>
<circle cx="344.41" cy="58.03" r="1.95" fill="none" stroke="#bdbdbd" stroke-width="0.8"/>
<circle cx="348.62" cy="59.67" r="1.95" fill="none" stroke="#bdbdbd" stroke-width="0.8"/>
<circle cx="333.88" cy="61.3" r="1.95" fill="none" stroke="#bdbdbd" stroke-width="0.8"/>
<circle cx="338.09" cy="62.94" r="1.95" fill="none" stroke="#bdbdbd" stroke-width="0.8"/>
<circle cx="342.3" cy="64.57" r="1.95" fill="none" stroke="#bdbdbd" stroke-width="0.8"/>
<circle cx="346.51" cy="66.21" r="1.95" fill="none" stroke="#bdbdbd" stroke-width="0.8"/>
<circle cx="350.72" cy="67.84" r="1.95" fill="none" stroke="#bdbdbd" stroke-width="0.8"/>
<circle cx="333.88" cy="69.47" r="1.95" fill="none" stroke="#bdbdbd" stroke-width="0.8"/>
<circle cx="338.09" cy="71.11" r="1.95" fill="none" stroke="#bdbdbd" stroke-width="0.8"/>
<circle cx="342.3" cy="72.75" r="1.95" fill="none" stroke="#bdbdbd" stroke-width="0.8"/>
<circle cx="346.51" cy="74.38" r="1.95" fill="none" stroke="#bdbdbd" stroke-width="0.8"/>
<circle cx="350.72" cy="76.02" r="1.95" fill="none" stroke="#bdbdbd" stroke-width="0.8"/>
<circle cx="335.98" cy="77.65" r="1.95" fill="none" stroke="#bdbdbd" stroke-width="0.8"/>
<circle cx="340.19" cy="80.92" r="1.95" fill="none" stroke="#bdbdbd" stroke-width="0.8"/>
<circle cx="344.41" cy="82.56" r="1.95" fill="none" stroke="#bdbdbd" stroke-width="0.8"/>
<circle cx="348.62" cy="84.19" r="1.95" fill="none" stroke="#bdbdbd" stroke-width="0.8"/>
<circle cx="333.88" cy="85.83" r="1.95" fill="none" stroke="#bdbdbd" stroke-width="0.8"/>
<circle cx="338.09" cy="87.46" r="1.95" fill="none" stroke="#bdbdbd" stroke-width="0.8"/>
<circle cx="342.3" cy="89.09" r="1.95" fill="none" stroke="#bdbdbd" stroke-width="0.8"/>
<circle cx="346.51" cy="90.73" r="1.95" fill="none" stroke="#bdbdbd" stroke-width="0.8"/>
<circle cx="350.72" cy="92.37" r="1.95" fill="none" stroke="#bdbdbd" stroke-width="0.8"/>
<circle cx="366.29" cy="35.14" r="1.95" fill="none" stroke="#d6a29c" stroke-width="0.8"/>
<circle cx="370.5" cy="36.78" r="1.95" fill="none" stroke="#d6a29c" stroke-width="0.8"/>
<circle cx="374.71" cy="41.68" r="1.95" fill="none" stroke="#d6a29c" stroke-width="0.8"/>
<circle cx="366.29" cy="44.95" r="1.95" fill="none" stroke="#d6a29c" stroke-width="0.8"/>
<circle cx="370.5" cy="48.22" r="1.95" fill="none" stroke="#d6a29c" stroke-width="0.8"/>
<circle cx="374.71" cy="51.49" r="1.95" fill="none" stroke="#d6a29c" stroke-width="0.8"/>
<circle cx="364.18" cy="54.76" r="1.95" fill="none" stroke="#d6a29c" stroke-width="0.8"/>
<circle cx="368.39" cy="56.39" r="1.95" fill="none" stroke="#d6a29c" stroke-width="0.8"/>
<circle cx="372.61" cy="58.03" r="1.95" fill="none" stroke="#d6a29c" stroke-width="0.8"/>
<circle cx="376.82" cy="61.3" r="1.95" fill="none" stroke="#d6a29c" stroke-width="0.8"/>
<circle cx="362.08" cy="62.94" r="1.95" fill="none" stroke="#d6a29c" stroke-width="0.8"/>
<circle cx="366.29" cy="64.57" r="1.95" fill="none" stroke="#d6a29c" stroke-width="0.8"/>
<circle cx="370.5" cy="66.21" r="1.95" fill="none" stroke="#d6a29c" stroke-width="0.8"/>
<circle cx="374.71" cy="67.84" r="1.95" fill="none" stroke="#d6a29c" stroke-width="0.8"/>
<circle cx="378.92" cy="69.47" r="1.95" fill="none" stroke="#d6a29c" stroke-width="0.8"/>
<circle cx="362.08" cy="71.11" r="1.95" fill="none" stroke="#d6a29c" stroke-width="0.8"/>
<circle cx="366.29" cy="72.75" r="1.95" fill="none" stroke="#d6a29c" stroke-width="0.8"/>
<circle cx="370.5" cy="74.38" r="1.95" fill="none" stroke="#d6a29c" stroke-width="0.8"/>
<circle cx="374.71" cy="76.02" r="1.95" fill="none" stroke="#d6a29c" stroke-width="0.8"/>
<circle cx="378.92" cy="77.65" r="1.95" fill="none" stroke="#d6a29c" stroke-width="0.8"/>
<circle cx="364.18" cy="80.92" r="1.95" fill="none" stroke="#d6a29c" stroke-width="0.8"/>
<circle cx="368.39" cy="84.19" r="1.95" fill="none" stroke="#d6a29c" stroke-width="0.8"/>
<circle cx="372.61" cy="85.83" r="1.95" fill="none" stroke="#d6a29c" stroke-width="0.8"/>
<circle cx="376.82" cy="87.46" r="1.95" fill="none" stroke="#d6a29c" stroke-width="0.8"/>
<circle cx="366.29" cy="90.73" r="1.95" fill="none" stroke="#d6a29c" stroke-width="0.8"/>
<circle cx="370.5" cy="94" r="1.95" fill="none" stroke="#d6a29c" stroke-width="0.8"/>
<circle cx="374.71" cy="97.27" r="1.95" fill="none" stroke="#d6a29c" stroke-width="0.8"/>
<circle cx="368.39" cy="100.54" r="1.95" fill="none" stroke="#d6a29c" stroke-width="0.8"/>
<circle cx="372.61" cy="103.81" r="1.95" fill="none" stroke="#d6a29c" stroke-width="0.8"/>
<path d="M330,126.7V66.99H354.6V126.7" fill="none" stroke="#1c1c1c" stroke-width="1.5"/>
<line x1="342.3" y1="70.49" x2="342.3" y2="63.79" stroke="#2b2b2b" stroke-width="1.2" />
<line x1="335.8" y1="63.79" x2="348.8" y2="63.79" stroke="#2b2b2b" stroke-width="1.2" />
<line x1="335.8" y1="70.49" x2="348.8" y2="70.49" stroke="#2b2b2b" stroke-width="1.2" />
<line x1="342.3" y1="126.7" x2="342.3" y2="130.3" stroke="#2b2b2b" stroke-width="1" />
<path d="M358.2,126.7V66.99H382.8V126.7" fill="none" stroke="#1c1c1c" stroke-width="1.5"/>
<line x1="370.5" y1="70.49" x2="370.5" y2="63.79" stroke="#2b2b2b" stroke-width="1.2" />
<line x1="364" y1="63.79" x2="377" y2="63.79" stroke="#2b2b2b" stroke-width="1.2" />
<line x1="364" y1="70.49" x2="377" y2="70.49" stroke="#2b2b2b" stroke-width="1.2" />
<line x1="370.5" y1="126.7" x2="370.5" y2="130.3" stroke="#2b2b2b" stroke-width="1" />
<line x1="319.7" y1="126.7" x2="383.6" y2="126.7" stroke="#2b2b2b" stroke-width="1.3" />
<line x1="335" y1="20" x2="375" y2="20" stroke="#2b2b2b" stroke-width="1.1" />
<text x="355" y="16.3" font-size="8.8" text-anchor="middle">P=0.987</text>
<text x="326.3" y="142.38" font-size="9.4" style="fill:#929292;stroke:#929292">n</text>
<text x="342.3" y="142.38" font-size="9.4" text-anchor="middle" style="fill:#929292;stroke:#929292">29</text>
<text x="370.5" y="142.38" font-size="9.4" text-anchor="middle" style="fill:#929292;stroke:#929292">29</text>
<text x="360.5" y="154.95" font-size="10.4" text-anchor="middle">WT R799Q</text>
<text x="299.6" y="73" font-size="10" text-anchor="middle" transform="rotate(-90 299.6 73)">mEPSC amplitude (pA)</text>
<text x="406" y="9.3" font-size="11.5" style="fill:#111;stroke:#111" font-weight="bold">d</text>
<polyline points="423.5,27.3 434.5,27.3" fill="none" stroke="#a9a9a9" stroke-width="1.3" stroke-linejoin="round" />
<polyline points="442.7,27.3 443.13,31.42 443.55,37.44 443.98,44.48 444.41,52.27 444.84,60.67 445.26,69.59 445.69,78.98 446.12,88.77 446.55,98.95 446.97,109.46 447.4,120.3 447.4,120.3 448.14,112.14 448.88,104.79 449.62,98.16 450.36,92.19 451.1,86.79 451.84,81.92 452.57,77.52 453.31,73.54 454.05,69.94 454.79,66.67 455.53,63.71 456.27,61.02 457.01,58.58 457.75,56.36 458.49,54.34 459.23,52.5 459.97,50.82 460.71,49.29 461.45,47.88 462.18,46.6 462.92,45.42 463.66,44.34 464.4,43.34 465.14,42.42 465.88,41.58 466.62,40.8 467.36,40.07 468.1,39.4 468.84,38.78 469.58,38.21 470.32,37.67 471.06,37.17 471.79,36.7 472.53,36.27 473.27,35.86 474.01,35.47 474.75,35.11 475.49,34.77 476.23,34.45 476.97,34.15 477.71,33.87 478.45,33.6 479.19,33.35 479.93,33.11 480.67,32.88 481.41,32.66 482.14,32.45 482.88,32.26 483.62,32.07 484.36,31.89 485.1,31.72 485.84,31.56 486.58,31.4 487.32,31.25 488.06,31.11 488.8,30.97 489.54,30.84 490.28,30.72 491.02,30.6 491.75,30.48 492.49,30.37 493.23,30.26 493.97,30.16 494.71,30.06 495.45,29.97 496.19,29.87 496.93,29.79 497.67,29.7 498.41,29.62 499.15,29.54 499.89,29.46 500.63,29.39 501.36,29.32 502.1,29.25 502.84,29.19 503.58,29.12 504.32,29.06 505.06,29 505.8,28.95" fill="none" stroke="#a9a9a9" stroke-width="1.3" stroke-linejoin="round" />
<polyline points="477.3,46.7 488.3,46.7" fill="none" stroke="#c4756e" stroke-width="1.3" stroke-linejoin="round" />
<polyline points="495.3,46.7 495.52,51.22 495.74,57.83 495.95,65.56 496.17,74.11 496.39,83.33 496.61,93.13 496.83,103.43 497.05,114.19 497.26,125.36 497.48,136.9 497.7,148.8 497.7,148.8 498.31,134.05 498.91,121.62 499.52,111.15 500.12,102.32 500.73,94.86 501.33,88.56 501.94,83.22 502.54,78.69 503.15,74.85 503.75,71.57 504.36,68.78 504.96,66.39 505.57,64.35 506.17,62.59 506.78,61.08 507.38,59.77 507.99,58.63 508.59,57.64 509.2,56.77 509.8,56.01 510.41,55.33 511.01,54.74 511.62,54.2 512.22,53.73 512.83,53.3 513.43,52.92 514.04,52.56 514.64,52.24 515.25,51.95 515.85,51.68 516.46,51.43 517.06,51.2 517.67,50.99 518.27,50.79 518.88,50.6 519.48,50.43 520.09,50.26 520.69,50.11 521.3,49.96 521.9,49.82 522.51,49.69 523.11,49.56 523.72,49.44 524.32,49.33 524.93,49.22 525.53,49.12 526.14,49.02 526.74,48.93 527.35,48.84 527.95,48.75 528.56,48.67 529.16,48.59 529.77,48.51 530.37,48.44 530.98,48.37 531.58,48.3 532.19,48.24 532.79,48.18 533.4,48.12 534,48.06 534.61,48.01 535.21,47.96 535.82,47.91 536.42,47.86 537.03,47.81 537.63,47.77 538.24,47.73 538.84,47.69 539.45,47.65 540.05,47.61 540.66,47.57 541.26,47.54 541.87,47.51 542.47,47.47 543.08,47.44 543.68,47.41 544.29,47.39 544.89,47.36 545.5,47.33" fill="none" stroke="#c4756e" stroke-width="1.3" stroke-linejoin="round" />
<text x="477.7" y="22.9" font-size="10.6">UNC13A<tspan font-size="6.2" dy="-4.2">WT</tspan></text>
<text x="503.9" y="41.6" font-size="10.6">UNC13A<tspan font-size="6.2" dy="-4.2">R799Q</tspan></text>
<path d="M513.1,119.3H531.5V98.3" fill="none" stroke="#2b2b2b" stroke-width="1.15"/>
<text x="539.6" y="112.8" font-size="8.6">1 nA</text>
<text x="510.9" y="130.3" font-size="8.6">10 ms</text>
<text x="572.6" y="9.3" font-size="11.5" style="fill:#111;stroke:#111" font-weight="bold">e</text>
<line x1="616.5" y1="26.2" x2="616.5" y2="126.9" stroke="#2b2b2b" stroke-width="1.3" />
<line x1="611" y1="126.3" x2="616.5" y2="126.3" stroke="#2b2b2b" stroke-width="1" />
<text x="609" y="129.97" font-size="10.2" text-anchor="end">0</text>
<line x1="611" y1="77.3" x2="616.5" y2="77.3" stroke="#2b2b2b" stroke-width="1" />
<text x="609" y="80.97" font-size="10.2" text-anchor="end">50</text>
<line x1="611" y1="28.3" x2="616.5" y2="28.3" stroke="#2b2b2b" stroke-width="1" />
<text x="609" y="31.97" font-size="10.2" text-anchor="end">100</text>
<rect x="621.6" y="97.1" width="24.6" height="29.2" fill="#fff" stroke="none" stroke-width="0"/>
<rect x="649.6" y="91.61" width="24.2" height="34.69" fill="#fff" stroke="none" stroke-width="0"/>
<circle cx="631.79" cy="57.7" r="1.95" fill="none" stroke="#bdbdbd" stroke-width="0.8"/>
<circle cx="636.01" cy="63.58" r="1.95" fill="none" stroke="#bdbdbd" stroke-width="0.8"/>
<circle cx="631.79" cy="65.54" r="1.95" fill="none" stroke="#bdbdbd" stroke-width="0.8"/>
<circle cx="636.01" cy="70.44" r="1.95" fill="none" stroke="#bdbdbd" stroke-width="0.8"/>
<circle cx="629.69" cy="72.4" r="1.95" fill="none" stroke="#bdbdbd" stroke-width="0.8"/>
<circle cx="633.9" cy="74.36" r="1.95" fill="none" stroke="#bdbdbd" stroke-width="0.8"/>
<circle cx="638.11" cy="77.3" r="1.95" fill="none" stroke="#bdbdbd" stroke-width="0.8"/>
<circle cx="629.69" cy="79.26" r="1.95" fill="none" stroke="#bdbdbd" stroke-width="0.8"/>
<circle cx="633.9" cy="82.2" r="1.95" fill="none" stroke="#bdbdbd" stroke-width="0.8"/>
<circle cx="638.11" cy="84.16" r="1.95" fill="none" stroke="#bdbdbd" stroke-width="0.8"/>
<circle cx="627.58" cy="87.1" r="1.95" fill="none" stroke="#bdbdbd" stroke-width="0.8"/>
<circle cx="631.79" cy="89.06" r="1.95" fill="none" stroke="#bdbdbd" stroke-width="0.8"/>
<circle cx="636.01" cy="91.02" r="1.95" fill="none" stroke="#bdbdbd" stroke-width="0.8"/>
<circle cx="640.22" cy="92.98" r="1.95" fill="none" stroke="#bdbdbd" stroke-width="0.8"/>
<circle cx="623.37" cy="93.96" r="1.95" fill="none" stroke="#bdbdbd" stroke-width="0.8"/>
<circle cx="627.58" cy="94.94" r="1.95" fill="none" stroke="#bdbdbd" stroke-width="0.8"/>
<circle cx="631.79" cy="95.92" r="1.95" fill="none" stroke="#bdbdbd" stroke-width="0.8"/>
<circle cx="636.01" cy="96.9" r="1.95" fill="none" stroke="#bdbdbd" stroke-width="0.8"/>
<circle cx="640.22" cy="97.88" r="1.95" fill="none" stroke="#bdbdbd" stroke-width="0.8"/>
<circle cx="644.43" cy="98.86" r="1.95" fill="none" stroke="#bdbdbd" stroke-width="0.8"/>
<circle cx="627.58" cy="99.84" r="1.95" fill="none" stroke="#bdbdbd" stroke-width="0.8"/>
<circle cx="631.79" cy="101.8" r="1.95" fill="none" stroke="#bdbdbd" stroke-width="0.8"/>
<circle cx="636.01" cy="102.78" r="1.95" fill="none" stroke="#bdbdbd" stroke-width="0.8"/>
<circle cx="640.22" cy="104.74" r="1.95" fill="none" stroke="#bdbdbd" stroke-width="0.8"/>
<circle cx="625.48" cy="106.7" r="1.95" fill="none" stroke="#bdbdbd" stroke-width="0.8"/>
<circle cx="629.69" cy="108.66" r="1.95" fill="none" stroke="#bdbdbd" stroke-width="0.8"/>
<circle cx="633.9" cy="109.64" r="1.95" fill="none" stroke="#bdbdbd" stroke-width="0.8"/>
<circle cx="638.11" cy="111.6" r="1.95" fill="none" stroke="#bdbdbd" stroke-width="0.8"/>
<circle cx="642.32" cy="112.58" r="1.95" fill="none" stroke="#bdbdbd" stroke-width="0.8"/>
<circle cx="623.37" cy="114.54" r="1.95" fill="none" stroke="#bdbdbd" stroke-width="0.8"/>
<circle cx="627.58" cy="115.52" r="1.95" fill="none" stroke="#bdbdbd" stroke-width="0.8"/>
<circle cx="631.79" cy="116.5" r="1.95" fill="none" stroke="#bdbdbd" stroke-width="0.8"/>
<circle cx="636.01" cy="117.48" r="1.95" fill="none" stroke="#bdbdbd" stroke-width="0.8"/>
<circle cx="640.22" cy="118.46" r="1.95" fill="none" stroke="#bdbdbd" stroke-width="0.8"/>
<circle cx="644.43" cy="119.44" r="1.95" fill="none" stroke="#bdbdbd" stroke-width="0.8"/>
<circle cx="636.01" cy="120.42" r="1.95" fill="none" stroke="#bdbdbd" stroke-width="0.8"/>
<circle cx="659.59" cy="31.24" r="1.95" fill="none" stroke="#d6a29c" stroke-width="0.8"/>
<circle cx="661.7" cy="38.1" r="1.95" fill="none" stroke="#d6a29c" stroke-width="0.8"/>
<circle cx="661.7" cy="49.86" r="1.95" fill="none" stroke="#d6a29c" stroke-width="0.8"/>
<circle cx="659.59" cy="61.62" r="1.95" fill="none" stroke="#d6a29c" stroke-width="0.8"/>
<circle cx="663.81" cy="64.56" r="1.95" fill="none" stroke="#d6a29c" stroke-width="0.8"/>
<circle cx="653.28" cy="70.44" r="1.95" fill="none" stroke="#d6a29c" stroke-width="0.8"/>
<circle cx="657.49" cy="71.42" r="1.95" fill="none" stroke="#d6a29c" stroke-width="0.8"/>
<circle cx="661.7" cy="72.4" r="1.95" fill="none" stroke="#d6a29c" stroke-width="0.8"/>
<circle cx="665.91" cy="74.36" r="1.95" fill="none" stroke="#d6a29c" stroke-width="0.8"/>
<circle cx="670.12" cy="76.32" r="1.95" fill="none" stroke="#d6a29c" stroke-width="0.8"/>
<circle cx="655.38" cy="78.28" r="1.95" fill="none" stroke="#d6a29c" stroke-width="0.8"/>
<circle cx="659.59" cy="80.24" r="1.95" fill="none" stroke="#d6a29c" stroke-width="0.8"/>
<circle cx="663.81" cy="82.2" r="1.95" fill="none" stroke="#d6a29c" stroke-width="0.8"/>
<circle cx="668.02" cy="84.16" r="1.95" fill="none" stroke="#d6a29c" stroke-width="0.8"/>
<circle cx="655.38" cy="85.14" r="1.95" fill="none" stroke="#d6a29c" stroke-width="0.8"/>
<circle cx="659.59" cy="87.1" r="1.95" fill="none" stroke="#d6a29c" stroke-width="0.8"/>
<circle cx="663.81" cy="89.06" r="1.95" fill="none" stroke="#d6a29c" stroke-width="0.8"/>
<circle cx="668.02" cy="91.02" r="1.95" fill="none" stroke="#d6a29c" stroke-width="0.8"/>
<circle cx="653.28" cy="92" r="1.95" fill="none" stroke="#d6a29c" stroke-width="0.8"/>
<circle cx="657.49" cy="92.98" r="1.95" fill="none" stroke="#d6a29c" stroke-width="0.8"/>
<circle cx="661.7" cy="93.96" r="1.95" fill="none" stroke="#d6a29c" stroke-width="0.8"/>
<circle cx="665.91" cy="95.92" r="1.95" fill="none" stroke="#d6a29c" stroke-width="0.8"/>
<circle cx="670.12" cy="96.9" r="1.95" fill="none" stroke="#d6a29c" stroke-width="0.8"/>
<circle cx="655.38" cy="98.86" r="1.95" fill="none" stroke="#d6a29c" stroke-width="0.8"/>
<circle cx="659.59" cy="99.84" r="1.95" fill="none" stroke="#d6a29c" stroke-width="0.8"/>
<circle cx="663.81" cy="101.8" r="1.95" fill="none" stroke="#d6a29c" stroke-width="0.8"/>
<circle cx="668.02" cy="103.76" r="1.95" fill="none" stroke="#d6a29c" stroke-width="0.8"/>
<circle cx="653.28" cy="105.72" r="1.95" fill="none" stroke="#d6a29c" stroke-width="0.8"/>
<circle cx="657.49" cy="106.7" r="1.95" fill="none" stroke="#d6a29c" stroke-width="0.8"/>
<circle cx="661.7" cy="108.66" r="1.95" fill="none" stroke="#d6a29c" stroke-width="0.8"/>
<circle cx="665.91" cy="110.62" r="1.95" fill="none" stroke="#d6a29c" stroke-width="0.8"/>
<circle cx="670.12" cy="111.6" r="1.95" fill="none" stroke="#d6a29c" stroke-width="0.8"/>
<circle cx="653.28" cy="113.56" r="1.95" fill="none" stroke="#d6a29c" stroke-width="0.8"/>
<circle cx="657.49" cy="115.52" r="1.95" fill="none" stroke="#d6a29c" stroke-width="0.8"/>
<circle cx="661.7" cy="116.5" r="1.95" fill="none" stroke="#d6a29c" stroke-width="0.8"/>
<circle cx="665.91" cy="118.46" r="1.95" fill="none" stroke="#d6a29c" stroke-width="0.8"/>
<circle cx="670.12" cy="119.44" r="1.95" fill="none" stroke="#d6a29c" stroke-width="0.8"/>
<circle cx="657.49" cy="121.4" r="1.95" fill="none" stroke="#d6a29c" stroke-width="0.8"/>
<circle cx="661.7" cy="123.36" r="1.95" fill="none" stroke="#d6a29c" stroke-width="0.8"/>
<circle cx="665.91" cy="124.34" r="1.95" fill="none" stroke="#d6a29c" stroke-width="0.8"/>
<path d="M621.6,126.3V97.1H646.2V126.3" fill="none" stroke="#1c1c1c" stroke-width="1.5"/>
<line x1="633.9" y1="100.04" x2="633.9" y2="94.16" stroke="#2b2b2b" stroke-width="1.2" />
<line x1="627.4" y1="94.16" x2="640.4" y2="94.16" stroke="#2b2b2b" stroke-width="1.2" />
<line x1="627.4" y1="100.04" x2="640.4" y2="100.04" stroke="#2b2b2b" stroke-width="1.2" />
<line x1="633.9" y1="126.3" x2="633.9" y2="129.9" stroke="#2b2b2b" stroke-width="1" />
<path d="M649.6,126.3V91.61H673.8V126.3" fill="none" stroke="#1c1c1c" stroke-width="1.5"/>
<line x1="661.7" y1="95.53" x2="661.7" y2="87.69" stroke="#2b2b2b" stroke-width="1.2" />
<line x1="655.2" y1="87.69" x2="668.2" y2="87.69" stroke="#2b2b2b" stroke-width="1.2" />
<line x1="655.2" y1="95.53" x2="668.2" y2="95.53" stroke="#2b2b2b" stroke-width="1.2" />
<line x1="661.7" y1="126.3" x2="661.7" y2="129.9" stroke="#2b2b2b" stroke-width="1" />
<line x1="611" y1="126.3" x2="674" y2="126.3" stroke="#2b2b2b" stroke-width="1.3" />
<line x1="624.7" y1="20.4" x2="666.6" y2="20.4" stroke="#2b2b2b" stroke-width="1.1" />
<text x="645.65" y="16.7" font-size="8.8" text-anchor="middle">P=0.376</text>
<text x="618.2" y="142.38" font-size="9.4" style="fill:#929292;stroke:#929292">n</text>
<text x="633.9" y="142.38" font-size="9.4" text-anchor="middle" style="fill:#929292;stroke:#929292">36</text>
<text x="661.7" y="142.38" font-size="9.4" text-anchor="middle" style="fill:#929292;stroke:#929292">40</text>
<text x="652" y="154.95" font-size="10.4" text-anchor="middle">WT R799Q</text>
<text x="592.6" y="76.1" font-size="10" text-anchor="middle" transform="rotate(-90 592.6 76.1)">EPSC Charge (pC)</text>
<text x="1.2" y="184" font-size="11.5" style="fill:#111;stroke:#111" font-weight="bold">f</text>
<polyline points="23.4,240.26 23.52,240.31 23.64,240.55 23.76,240.05 23.87,240.38 23.99,240.06 24.11,240.06 24.23,241.55 24.35,240.1 24.47,240.45 24.59,240.66 24.7,240.43 24.82,239.94 24.94,239.98 25.06,241.18 25.18,240.31 25.3,239.5 25.42,240.53 25.53,240.17 25.65,240.1 25.77,239.97 25.89,241.37 26.01,242.04 26.13,240.76 26.25,241.6 26.36,242.2 26.48,242.45 26.6,243.75 26.72,244.89 26.84,244.94 26.96,246.27 27.08,247.13 27.2,248.19 27.31,248.03 27.43,248.55 27.55,249.46 27.67,250.38 27.79,250.27 27.91,251.13 28.03,251.92 28.14,253.54 28.26,254.26 28.38,254.61 28.5,257.14 28.62,256.4 28.74,257.15 28.86,257.83 28.97,260.14 29.09,261.06 29.21,260.35 29.33,261.95 29.45,262.91 29.57,262.23 29.69,262.76 29.8,263.81 29.92,267.66 30.04,266.85 30.16,267.72 30.28,268.2 30.4,268.83 30.52,271.45 30.63,270.25 30.75,271.99 30.87,274.39 30.99,273.22 31.11,274.28 31.23,274.96 31.35,275.18 31.46,275.63 31.58,277.71 31.7,273.97 31.82,273.92 31.94,270.77 32.06,267.97 32.18,273.68 32.29,268.33 32.41,269.48 32.53,269.1 32.65,271.99 32.77,266.2 32.89,269.53 33.01,263.82 33.13,268.27 33.24,268.41 33.36,266.29 33.48,265.94 33.6,265.16 33.72,266.06 33.84,262.79 33.96,268.11 34.07,262.05 34.19,262.25 34.31,261.67 34.43,261.55 34.55,259.86 34.67,260.12 34.79,257.18 34.9,256.18 35.02,257.1 35.14,259.62 35.26,261.58 35.38,255.68 35.5,257.95 35.62,255.25 35.73,258.84 35.85,256.65 35.97,262.14 36.09,255.4 36.21,258.57 36.33,255.75 36.45,255.45 36.56,256.68 36.68,253.54 36.8,256.57 36.92,254.03 37.04,255.79 37.16,255.63 37.28,250.86 37.39,252.92 37.51,253.81 37.63,252.56 37.75,254.17 37.87,253.73 37.99,252.51 38.11,253.96 38.22,252.61 38.34,251.46 38.46,253.65 38.58,251.77 38.7,253.19 38.82,250.73 38.94,250.72 39.05,250.66 39.17,251.32 39.29,248.05 39.41,251.37 39.53,250.36 39.65,250.04 39.77,248.36 39.89,250.43 40,250.51 40.12,251.25 40.24,249.71 40.36,250.57 40.48,250.55 40.6,248.89 40.72,249.63 40.83,246.73 40.95,247.38 41.07,249.6 41.19,249.55 41.31,248.57 41.43,248.9 41.55,250.69 41.66,246.9 41.78,249.15 41.9,245.67 42.02,247.36 42.14,248.99 42.26,248.16 42.38,246.58 42.49,250.7 42.61,246.23 42.73,245.67 42.85,248.06 42.97,246.44 43.09,248.85 43.21,247.55 43.32,247.9 43.44,248.21 43.56,249.04 43.68,247.55 43.8,246.83 43.92,246.26 44.04,247.05 44.15,247.97 44.27,247.77 44.39,245.5 44.51,247.48 44.63,245.8 44.75,246.19 44.87,250.19 44.98,245.9 45.1,248.78 45.22,245.74 45.34,248.23 45.46,246.56 45.58,246.8 45.7,249.21 45.82,247.28 45.93,245.82 46.05,245.56 46.17,245.46 46.29,248.39 46.41,247.59 46.53,245.56 46.65,246.39 46.76,248.66 46.88,246.35 47,245.68 47.12,248.78 47.24,246.45 47.36,246.4 47.48,247.96 47.59,248.09 47.71,247.59 47.83,244.99 47.95,244.93 48.07,245.17 48.19,246.33 48.31,244.74 48.42,246.68 48.54,244.4 48.66,245.55 48.78,245.66 48.9,246.55 49.02,244.26 49.14,245.69 49.25,247.32 49.37,246.59 49.49,243.51 49.61,246.61 49.73,247.16 49.85,244.46 49.97,243.35 50.08,244.68 50.2,246.04 50.32,242.87 50.44,245.28 50.56,247.61 50.68,244.56 50.8,246.01 50.91,246.16 51.03,244.81 51.15,242.61 51.27,245.86 51.39,245.3 51.51,246.58 51.63,243.92 51.74,246.45 51.86,245.96 51.98,244.81 52.1,245.93 52.22,244.21 52.34,246.61 52.46,246.11 52.58,246.16 52.69,245.46 52.81,244.78 52.93,243.57 53.05,245.58 53.17,245.73 53.29,245.59 53.41,244.76 53.52,246.85 53.64,243.52 53.76,246.09 53.88,245.09 54,244.25 54.12,242.76 54.24,243.68 54.35,244.38 54.47,244.45 54.59,246.39 54.71,247.34 54.83,244.38 54.95,246.51 55.07,243.49 55.18,244.53 55.3,245.51 55.42,245.78 55.54,244.05 55.66,242.95 55.78,242.29 55.9,242.71 56.01,244.04 56.13,245.42 56.25,246.2 56.37,244.94 56.49,246.86 56.61,243.47 56.73,243.96 56.84,245.8 56.96,244.66 57.08,243.25 57.2,241.7 57.32,244.77 57.44,244.17 57.56,244.64 57.67,242.7 57.79,245.85 57.91,245.34 58.03,244.43 58.15,242.45 58.27,244.24 58.39,246.19 58.51,245.46 58.62,243.33 58.74,245.12 58.86,246.17 58.98,245.47 59.1,243.98 59.22,243.04 59.34,244.69 59.45,244.2 59.57,245.89 59.69,242.27 59.81,242.46 59.93,247.97 60.05,245.33 60.17,245.9 60.28,246.13 60.4,243.01 60.52,242.9 60.64,246.08 60.76,242.87 60.88,245.36 61,244.03 61.11,243.38 61.23,242.15 61.35,245.15 61.47,244.83 61.59,244.45 61.71,243.83 61.83,242.45 61.94,245.14 62.06,242.78 62.18,245.57 62.3,243 62.42,244.02 62.54,244.19 62.66,245.3 62.77,245.46 62.89,244.68 63.01,243.47 63.13,245.09 63.25,242.85 63.37,245.29 63.49,245.45 63.6,243.14 63.72,245.51 63.84,243.37 63.96,242.81 64.08,245.07 64.2,245.37 64.32,243.39 64.43,242.2 64.55,241.31 64.67,246.31 64.79,243.87 64.91,244.75 65.03,245.86 65.15,243.26 65.27,242.12 65.38,244 65.5,244.04 65.62,244.23 65.74,243.44 65.86,244.1 65.98,241.34 66.1,243.65 66.21,243.47 66.33,243.41 66.45,244.36 66.57,243.09 66.69,242.4 66.81,242.75 66.93,244.11 67.04,243.83 67.16,243.68 67.28,243.25 67.4,245.06 67.52,245.82 67.64,241.73 67.76,243.33 67.87,243.87 67.99,243.3 68.11,242.4 68.23,243.63 68.35,242.94 68.47,242.81 68.59,244.36 68.7,245.29 68.82,244.33 68.94,245.02 69.06,242.96 69.18,244.59 69.3,243.91 69.42,243.86 69.53,243.87 69.65,244.98 69.77,242.57 69.89,243.57 70.01,246.02 70.13,243.7 70.25,243.11 70.36,245.45 70.48,242.5 70.6,242.55 70.72,245.69 70.84,243.95 70.96,244.28 71.08,245.4 71.19,244.54 71.31,243.73 71.43,243.92 71.55,244.78 71.67,242.02 71.79,243.96 71.91,242.36 72.03,243.55 72.14,242.49 72.26,245.74 72.38,243.42 72.5,244.97 72.62,243.72 72.74,243.59 72.86,243.61 72.97,241.83 73.09,245.06 73.21,245.24 73.33,244.14 73.45,244.27 73.57,244.04 73.69,244.55 73.8,243.91 73.92,244.34 74.04,242.63 74.16,243.62 74.28,242.94 74.4,244.03 74.52,244.07 74.63,243.21 74.75,245.38 74.87,243.32 74.99,243.23 75.11,243.48 75.23,244.72 75.35,243.73 75.46,243.96 75.58,244.87 75.7,242.52 75.82,241.25 75.94,242.79 76.06,243.25 76.18,244.58 76.29,244.42 76.41,242.96 76.53,242.87 76.65,243.75 76.77,241.49 76.89,245.15 77.01,242.6 77.12,243.27 77.24,242.34 77.36,243 77.48,243.47 77.6,243.62 77.72,245.08 77.84,244.89 77.96,244.88 78.07,243.54 78.19,243.97 78.31,242.88 78.43,243.45 78.55,241.76 78.67,245.75 78.79,242.87 78.9,243.38 79.02,243.51 79.14,243.55 79.26,241.99 79.38,243.97 79.5,243.52 79.62,244.9 79.73,242.22 79.85,243.65 79.97,244.03 80.09,243.74 80.21,244.35 80.33,242.28 80.45,245.1 80.56,243.84 80.68,242.84 80.8,243.51 80.92,244.27 81.04,242.35 81.16,244.55 81.28,245.65 81.39,243.8 81.51,242.3 81.63,241.61 81.75,244.44 81.87,244.42 81.99,242.16 82.11,243.52 82.22,243.69 82.34,243.75 82.46,242.28 82.58,243.08 82.7,242.9 82.82,243.74 82.94,244.98 83.05,242.92 83.17,244.15 83.29,243.48 83.41,243.71 83.53,242.24 83.65,243.86 83.77,244.26 83.88,242.43 84,244.77 84.12,242.54 84.24,245.09 84.36,241.88 84.48,243.83 84.6,244.64 84.72,243.59 84.83,244.31 84.95,243.58 85.07,241.51 85.19,244.02 85.31,243.32 85.43,244.22 85.55,242.12 85.66,241.59 85.78,243.5 85.9,242.37 86.02,244.2 86.14,243.14 86.26,244.25 86.38,242.35 86.49,242.37 86.61,244.77 86.73,241.08 86.85,242.99 86.97,243.87 87.09,243 87.21,241.83 87.32,244.64 87.44,243.29 87.56,243.55 87.68,243.05 87.8,243.83 87.92,241.06 88.04,241.83 88.15,244.31 88.27,242.25 88.39,244.26 88.51,242.44 88.63,241.49 88.75,242.41 88.87,242.8 88.98,243.26 89.1,242.91 89.22,242.8 89.34,243.14 89.46,244.21 89.58,242.15 89.7,241.86 89.81,244.01 89.93,242.89 90.05,243.13 90.17,242.17 90.29,241.86 90.41,243.01 90.53,245.95 90.65,244.21 90.76,243.2 90.88,243.49 91,243.07 91.12,242.65 91.24,241.53 91.36,242.81 91.48,243.18 91.59,243.15 91.71,243.21 91.83,243.2 91.95,242.2 92.07,243.86 92.19,244.41 92.31,243.07 92.42,241.81 92.54,242.39 92.66,243.61 92.78,242.59 92.9,241.45 93.02,244.5 93.14,243.62 93.25,243.45 93.37,241.88 93.49,243.1 93.61,243.11 93.73,243.57 93.85,242.49 93.97,242.58 94.08,244.28 94.2,244.8 94.32,242.83 94.44,244.44 94.56,242.41 94.68,242.57 94.8,243.38 94.91,243.18 95.03,241.41 95.15,242.96 95.27,242.98 95.39,244.18 95.51,241.73 95.63,242 95.74,243.78 95.86,243.43 95.98,242.53 96.1,242.28 96.22,242.91 96.34,242.55 96.46,242.76 96.57,242.09 96.69,241.52 96.81,242.02 96.93,242.89 97.05,241.14 97.17,242.6 97.29,241.4 97.41,241.72 97.52,243.76 97.64,240.94 97.76,243.6 97.88,243.22 98,242.97 98.12,243.58 98.24,243.42 98.35,241.71 98.47,242.73 98.59,242.59 98.71,241.65 98.83,241.38 98.95,242.11 99.07,241.66 99.18,240.95 99.3,243.47 99.42,242.29 99.54,244.08 99.66,241.61 99.78,241.13 99.9,241.16 100.01,242.61 100.13,241.8 100.25,243.63 100.37,242.63 100.49,243.75 100.61,243.29 100.73,243.19 100.84,242.28 100.96,240.34 101.08,243.61 101.2,243.58 101.32,242.72 101.44,242.33 101.56,240.64 101.67,242.99 101.79,241.54 101.91,245.06 102.03,242.83 102.15,243.03 102.27,242.74 102.39,241.74 102.5,241.74 102.62,242.4 102.74,241.39 102.86,241.2 102.98,242.86 103.1,241.23 103.22,244.01 103.34,242.73 103.45,242.76 103.57,241.91 103.69,242.86 103.81,241.87 103.93,241.8 104.05,241.34 104.17,241.97 104.28,241.36 104.4,242.62 104.52,243.35 104.64,240.94 104.76,241.02 104.88,241.85 105,241.95 105.11,243.95 105.23,242.02 105.35,242.39 105.47,242.36 105.59,242.66 105.71,243.97 105.83,241.09 105.94,242.69 106.06,241.88 106.18,242.91 106.3,241.72" fill="none" stroke="#a9a9a9" stroke-width="2.3" stroke-linejoin="round" />
<polyline points="40.9,263.38 41.03,263.82 41.15,263.69 41.28,263.52 41.41,263.76 41.53,263.69 41.66,263.99 41.79,264.05 41.92,263.41 42.04,263.27 42.17,263.27 42.3,264.14 42.42,264.1 42.55,263.65 42.68,263.31 42.8,263.54 42.93,264 43.06,263.62 43.18,263.47 43.31,263.8 43.44,263.67 43.56,263.45 43.69,264.7 43.82,265.11 43.95,266.11 44.07,266.68 44.2,267.53 44.33,268.22 44.45,269.96 44.58,270.66 44.71,270.79 44.83,272.7 44.96,274.55 45.09,273.63 45.21,274.77 45.34,275.03 45.47,276.79 45.6,277.89 45.72,279.36 45.85,279.35 45.98,281.02 46.1,281.28 46.23,282.46 46.36,283.52 46.48,283.72 46.61,285.11 46.74,285.76 46.86,287.9 46.99,288.49 47.12,289.59 47.24,290.5 47.37,290.99 47.5,292.54 47.63,293.42 47.75,293.93 47.88,295.39 48.01,297.21 48.13,298.16 48.26,298.33 48.39,299.47 48.51,299.64 48.64,301.45 48.77,300.19 48.89,299.68 49.02,300.41 49.15,297.58 49.28,299.63 49.4,297.26 49.53,297.68 49.66,296.68 49.78,294.49 49.91,293.99 50.04,292.91 50.16,293.21 50.29,292.07 50.42,291.29 50.54,292.51 50.67,291.81 50.8,291.5 50.92,289.63 51.05,288.45 51.18,289.28 51.31,287.96 51.43,287.38 51.56,288.19 51.69,287.01 51.81,284.98 51.94,283.9 52.07,284.46 52.19,283.92 52.32,284.19 52.45,284.63 52.57,283.29 52.7,282.61 52.83,280.94 52.96,281.31 53.08,282.37 53.21,281.03 53.34,279.55 53.46,280.53 53.59,278.63 53.72,278.84 53.84,278.32 53.97,279.53 54.1,277.86 54.22,278.96 54.35,279.28 54.48,277.69 54.6,277.08 54.73,276.08 54.86,278.37 54.99,276.47 55.11,276.69 55.24,276.02 55.37,275.45 55.49,275.77 55.62,274.17 55.75,276.47 55.87,274.29 56,274.48 56.13,274.32 56.25,273.92 56.38,274.93 56.51,272.22 56.64,273.8 56.76,274.45 56.89,272.83 57.02,272.58 57.14,273.82 57.27,272.46 57.4,271.24 57.52,273.59 57.65,273.2 57.78,271.14 57.9,272.73 58.03,272.01 58.16,271.06 58.28,269.49 58.41,271.45 58.54,272.19 58.67,270.45 58.79,270.24 58.92,270.41 59.05,270.25 59.17,270.84 59.3,271.6 59.43,269.55 59.55,270.43 59.68,270.84 59.81,269.76 59.93,270.5 60.06,269.72 60.19,270.1 60.32,269.08 60.44,268.67 60.57,270.19 60.7,270.02 60.82,268.84 60.95,269.3 61.08,267.57 61.2,268.44 61.33,268.32 61.46,270.62 61.58,268.38 61.71,268.9 61.84,269.47 61.96,268.37 62.09,268.29 62.22,268.32 62.35,268.7 62.47,268.3 62.6,267.67 62.73,267.24 62.85,267.05 62.98,267.51 63.11,267.34 63.23,266.53 63.36,267.99 63.49,267.66 63.61,267.38 63.74,268.2 63.87,268.07 63.99,267.77 64.12,267.33 64.25,267.28 64.38,267.38 64.5,268.94 64.63,266.8 64.76,267.26 64.88,266.98 65.01,267.11 65.14,267.71 65.26,267.08 65.39,267.01 65.52,266.22 65.64,266.19 65.77,266.87 65.9,266.87 66.03,267.39 66.15,265.6 66.28,267.02 66.41,267.02 66.53,265.7 66.66,266.48 66.79,268.19 66.91,266.13 67.04,265.17 67.17,266.37 67.29,265.08 67.42,266.21 67.55,266.31 67.67,266.47 67.8,266.84 67.93,266.43 68.06,266.31 68.18,266 68.31,265.46 68.44,266.64 68.56,265.84 68.69,265.34 68.82,267.15 68.94,265.85 69.07,265.08 69.2,266.51 69.32,265.77 69.45,265.54 69.58,266.93 69.71,266.6 69.83,266.08 69.96,266.19 70.09,265.44 70.21,265.41 70.34,266.63 70.47,266.37 70.59,266.63 70.72,265.69 70.85,266.51 70.97,265.94 71.1,266.48 71.23,265.24 71.35,265.81 71.48,264.83 71.61,265.5 71.74,264.35 71.86,266.21 71.99,265.14 72.12,264.69 72.24,265.39 72.37,265.68 72.5,266.04 72.62,264.06 72.75,266.56 72.88,264.77 73,265.3 73.13,264.57 73.26,267.21 73.39,265.18 73.51,264.58 73.64,264.67 73.77,264.47 73.89,265.77 74.02,265.73 74.15,264.61 74.27,263.78 74.4,265.11 74.53,264.9 74.65,265.7 74.78,264.84 74.91,265.11 75.03,265.15 75.16,264.72 75.29,265.81 75.42,265.63 75.54,265.23 75.67,265 75.8,265.59 75.92,264.99 76.05,265.26 76.18,265.98 76.3,264.99 76.43,264.38 76.56,264.78 76.68,264.96 76.81,263.85 76.94,264.08 77.07,264.49 77.19,265.06 77.32,264.37 77.45,265.41 77.57,265.24 77.7,264.11 77.83,264.37 77.95,264.79 78.08,265.11 78.21,265.01 78.33,265.18 78.46,265.54 78.59,264.86 78.71,265.61 78.84,264.91 78.97,263.94 79.1,264.58 79.22,264.74 79.35,264.79 79.48,263.31 79.6,264.4 79.73,264.74 79.86,264.65 79.98,264.3 80.11,264.16 80.24,266.01 80.36,264.27 80.49,264.36 80.62,264.66 80.75,264.76 80.87,265.15 81,265.51 81.13,264.86 81.25,265.9 81.38,264.63 81.51,264.23 81.63,265.64 81.76,264.67 81.89,264.8 82.01,264.29 82.14,264.73 82.27,265.26 82.39,265.49 82.52,263.28 82.65,264.64 82.78,264.73 82.9,263.56 83.03,264.27 83.16,263.95 83.28,265.57 83.41,264.47 83.54,263.87 83.66,264.88 83.79,265.09 83.92,264.42 84.04,264.01 84.17,263.61 84.3,264.6 84.43,264.68 84.55,264.79 84.68,265.34 84.81,263.39 84.93,264.26 85.06,264.73 85.19,265.37 85.31,264.75 85.44,264.64 85.57,263.88 85.69,264.51 85.82,264.06 85.95,263.32 86.07,263.29 86.2,265.47 86.33,264.38 86.46,263.57 86.58,263.26 86.71,263.3 86.84,264.69 86.96,263.29 87.09,264.18 87.22,265.26 87.34,264.51 87.47,265.56 87.6,263.94 87.72,264.6 87.85,264.47 87.98,264.45 88.11,264.38 88.23,264.69 88.36,264.54 88.49,262.87 88.61,264.43 88.74,264.25 88.87,263.15 88.99,264.42 89.12,264.04 89.25,264.15 89.37,264.2 89.5,264.15 89.63,264.5 89.75,263.9 89.88,263.32 90.01,264.06 90.14,264.58 90.26,263.37 90.39,263.61 90.52,264.02 90.64,263.56 90.77,265.26 90.9,263.93 91.02,262.83 91.15,264.47 91.28,263.63 91.4,263.01 91.53,264.01 91.66,263.84 91.79,263.55 91.91,263.41 92.04,264.44 92.17,263.56 92.29,263.41 92.42,263.75 92.55,263.32 92.67,264.89 92.8,263.98 92.93,263.34 93.05,264.45 93.18,264.21 93.31,264.69 93.43,264.38 93.56,263.26 93.69,264.38 93.82,263.47 93.94,263.93 94.07,264.3 94.2,264.59 94.32,263.93 94.45,262.8 94.58,263.93 94.7,263.86 94.83,264.48 94.96,264.8 95.08,264.27 95.21,263.65 95.34,263.5 95.47,264.75 95.59,264.07 95.72,263.77 95.85,265.5 95.97,264.47 96.1,263.97 96.23,263.35 96.35,262.96 96.48,263.55 96.61,264.16 96.73,264.72 96.86,264.39 96.99,263.37 97.11,264.19 97.24,265.04 97.37,263.5 97.5,264.37 97.62,263.32 97.75,263.83 97.88,264.41 98,265.05 98.13,264.56 98.26,263.22 98.38,263.33 98.51,263.86 98.64,264.5 98.76,263.97 98.89,264.33 99.02,263.45 99.15,264.56 99.27,263.65 99.4,264.05 99.53,262.98 99.65,264.09 99.78,264.49 99.91,263.8 100.03,263.64 100.16,263.21 100.29,263.08 100.41,262.93 100.54,263.22 100.67,264.49 100.79,264.59 100.92,263.51 101.05,264.4 101.18,263.22 101.3,264.21 101.43,264.18 101.56,263.42 101.68,264.09 101.81,263.08 101.94,262.72 102.06,263.28 102.19,263.43 102.32,264.12 102.44,264.16 102.57,264.04 102.7,264.19 102.83,264.21 102.95,264.25 103.08,263.48 103.21,264.06 103.33,263.01 103.46,263.46 103.59,263.4 103.71,264.01 103.84,263.83 103.97,264.05 104.09,262.66 104.22,263.9 104.35,263.96 104.47,263.76 104.6,262.77 104.73,264.64 104.86,263.67 104.98,263.97 105.11,262.9 105.24,263.42 105.36,263.59 105.49,264.15 105.62,262.9 105.74,263.52 105.87,263.48 106,263.87 106.12,262.27 106.25,264.1 106.38,263.26 106.51,263.48 106.63,263.46 106.76,264.31 106.89,263.65 107.01,263.12 107.14,263.17 107.27,262.92 107.39,262.22 107.52,262.04 107.65,263.62 107.77,264.03 107.9,263.24 108.03,264.14 108.15,263.58 108.28,263.76 108.41,263.49 108.54,262.75 108.66,262.84 108.79,264.33 108.92,263.22 109.04,262.87 109.17,263.27 109.3,263.41 109.42,261.72 109.55,263.07 109.68,263.18 109.8,263.7 109.93,264.25 110.06,264.03 110.18,262.54 110.31,264.04 110.44,262.97 110.57,262.29 110.69,262.65 110.82,263.01 110.95,263.04 111.07,263.49 111.2,263.15 111.33,263.53 111.45,263.14 111.58,263.6 111.71,263.64 111.83,263.1 111.96,262.7 112.09,263 112.22,263.61 112.34,264.31 112.47,263.32 112.6,263.91 112.72,262.37 112.85,262.99 112.98,263.3 113.1,262.93 113.23,262.98 113.36,263.69 113.48,263.73 113.61,262.5 113.74,262.73 113.86,262.5 113.99,263.31 114.12,263.83 114.25,262.27 114.37,263.4 114.5,262.5 114.63,263.22 114.75,262.21 114.88,263.77 115.01,262.54 115.13,262.81 115.26,262.61 115.39,262.73 115.51,263.07 115.64,263.85 115.77,263.84 115.9,263.31 116.02,263.23 116.15,262.21 116.28,262.85 116.4,262.67 116.53,263.48 116.66,263.46 116.78,263.7 116.91,263.15 117.04,263.52 117.16,262.57 117.29,261.67 117.42,263.19 117.54,262.5 117.67,263.24 117.8,263.27 117.93,263.43 118.05,262.29 118.18,263.72 118.31,263.22 118.43,263.15 118.56,263.06 118.69,262.16 118.81,263.69 118.94,264.2 119.07,262.26 119.19,263.44 119.32,262.8 119.45,263.76 119.58,263.66 119.7,262.87 119.83,263.45 119.96,263.77 120.08,262.59 120.21,262.83 120.34,262.86 120.46,263.1 120.59,261.9 120.72,263.07 120.84,262.87 120.97,262.82 121.1,262.52 121.22,262.17 121.35,262.62 121.48,263.25 121.61,262.15 121.73,263.73 121.86,261.91 121.99,262.68 122.11,262.6 122.24,263.74 122.37,262.79 122.49,262.86 122.62,262.06 122.75,263.68 122.87,262.47 123,263.28 123.13,263.31 123.26,262.79 123.38,263.79 123.51,261.98 123.64,262.92 123.76,263.72 123.89,262.36 124.02,262.45 124.14,263.77 124.27,262.95 124.4,261.77 124.52,262.52 124.65,263.03 124.78,262.22 124.9,263.11 125.03,262.48 125.16,263.06 125.29,262.97 125.41,262.49 125.54,263.98 125.67,262.19 125.79,262.41 125.92,262.96 126.05,263.27 126.17,262.81 126.3,262.39 126.43,262.7 126.55,262.25 126.68,263.71 126.81,262.1 126.94,262.33 127.06,263.08 127.19,262.83 127.32,262.15 127.44,262.15 127.57,262.98 127.7,262.57 127.82,263.25 127.95,262.85 128.08,262.35 128.2,262.4 128.33,261.8 128.46,262.62 128.58,263.15 128.71,262.7 128.84,262.92 128.97,263.44 129.09,263.39 129.22,262.24 129.35,261.53 129.47,262.71 129.6,262.19" fill="none" stroke="#c4756e" stroke-width="1.9" stroke-linejoin="round" />
<text x="58.4" y="238.3" font-size="10.6">UNC13A<tspan font-size="6.2" dy="-4.2">WT</tspan></text>
<text x="79.9" y="259.3" font-size="10.6">UNC13A<tspan font-size="6.2" dy="-4.2">R799Q</tspan></text>
<path d="M77,294.1H89.4V275.3" fill="none" stroke="#2b2b2b" stroke-width="1.2"/>
<text x="92.6" y="290.2" font-size="10.5">0.5 nA</text>
<text x="76.4" y="306.3" font-size="10.5">1 s</text>
<text x="158.2" y="182.2" font-size="11.5" style="fill:#111;stroke:#111" font-weight="bold">g</text>
<line x1="201.1" y1="209.5" x2="201.1" y2="309.8" stroke="#2b2b2b" stroke-width="1.3" />
<line x1="195.6" y1="309.2" x2="201.1" y2="309.2" stroke="#2b2b2b" stroke-width="1" />
<text x="193.6" y="312.87" font-size="10.2" text-anchor="end">0</text>
<line x1="195.6" y1="289.4" x2="201.1" y2="289.4" stroke="#2b2b2b" stroke-width="1" />
<text x="193.6" y="293.07" font-size="10.2" text-anchor="end">0.5</text>
<line x1="195.6" y1="269.6" x2="201.1" y2="269.6" stroke="#2b2b2b" stroke-width="1" />
<text x="193.6" y="273.27" font-size="10.2" text-anchor="end">1.0</text>
<line x1="195.6" y1="249.8" x2="201.1" y2="249.8" stroke="#2b2b2b" stroke-width="1" />
<text x="193.6" y="253.47" font-size="10.2" text-anchor="end">1.5</text>
<line x1="195.6" y1="230" x2="201.1" y2="230" stroke="#2b2b2b" stroke-width="1" />
<text x="193.6" y="233.67" font-size="10.2" text-anchor="end">2.0</text>
<line x1="195.6" y1="210.2" x2="201.1" y2="210.2" stroke="#2b2b2b" stroke-width="1" />
<text x="193.6" y="213.87" font-size="10.2" text-anchor="end">2.5</text>
<rect x="206.6" y="291.18" width="24.1" height="18.02" fill="#fff" stroke="none" stroke-width="0"/>
<rect x="234.2" y="287.1" width="24.1" height="22.1" fill="#fff" stroke="none" stroke-width="0"/>
<circle cx="216.54" cy="249.01" r="1.95" fill="none" stroke="#bdbdbd" stroke-width="0.8"/>
<circle cx="220.76" cy="252.97" r="1.95" fill="none" stroke="#bdbdbd" stroke-width="0.8"/>
<circle cx="214.44" cy="275.54" r="1.95" fill="none" stroke="#bdbdbd" stroke-width="0.8"/>
<circle cx="218.65" cy="277.52" r="1.95" fill="none" stroke="#bdbdbd" stroke-width="0.8"/>
<circle cx="222.86" cy="280.69" r="1.95" fill="none" stroke="#bdbdbd" stroke-width="0.8"/>
<circle cx="208.12" cy="283.46" r="1.95" fill="none" stroke="#bdbdbd" stroke-width="0.8"/>
<circle cx="212.33" cy="285.44" r="1.95" fill="none" stroke="#bdbdbd" stroke-width="0.8"/>
<circle cx="216.54" cy="286.23" r="1.95" fill="none" stroke="#bdbdbd" stroke-width="0.8"/>
<circle cx="220.76" cy="287.42" r="1.95" fill="none" stroke="#bdbdbd" stroke-width="0.8"/>
<circle cx="224.97" cy="288.61" r="1.95" fill="none" stroke="#bdbdbd" stroke-width="0.8"/>
<circle cx="229.18" cy="289.4" r="1.95" fill="none" stroke="#bdbdbd" stroke-width="0.8"/>
<circle cx="208.12" cy="290.19" r="1.95" fill="none" stroke="#bdbdbd" stroke-width="0.8"/>
<circle cx="212.33" cy="291.38" r="1.95" fill="none" stroke="#bdbdbd" stroke-width="0.8"/>
<circle cx="216.54" cy="292.17" r="1.95" fill="none" stroke="#bdbdbd" stroke-width="0.8"/>
<circle cx="220.76" cy="292.57" r="1.95" fill="none" stroke="#bdbdbd" stroke-width="0.8"/>
<circle cx="224.97" cy="293.36" r="1.95" fill="none" stroke="#bdbdbd" stroke-width="0.8"/>
<circle cx="229.18" cy="294.15" r="1.95" fill="none" stroke="#bdbdbd" stroke-width="0.8"/>
<circle cx="208.12" cy="294.94" r="1.95" fill="none" stroke="#bdbdbd" stroke-width="0.8"/>
<circle cx="212.33" cy="295.34" r="1.95" fill="none" stroke="#bdbdbd" stroke-width="0.8"/>
<circle cx="216.54" cy="296.13" r="1.95" fill="none" stroke="#bdbdbd" stroke-width="0.8"/>
<circle cx="220.76" cy="296.53" r="1.95" fill="none" stroke="#bdbdbd" stroke-width="0.8"/>
<circle cx="224.97" cy="297.32" r="1.95" fill="none" stroke="#bdbdbd" stroke-width="0.8"/>
<circle cx="229.18" cy="298.11" r="1.95" fill="none" stroke="#bdbdbd" stroke-width="0.8"/>
<circle cx="208.12" cy="298.51" r="1.95" fill="none" stroke="#bdbdbd" stroke-width="0.8"/>
<circle cx="212.33" cy="299.3" r="1.95" fill="none" stroke="#bdbdbd" stroke-width="0.8"/>
<circle cx="216.54" cy="300.09" r="1.95" fill="none" stroke="#bdbdbd" stroke-width="0.8"/>
<circle cx="220.76" cy="300.49" r="1.95" fill="none" stroke="#bdbdbd" stroke-width="0.8"/>
<circle cx="224.97" cy="301.28" r="1.95" fill="none" stroke="#bdbdbd" stroke-width="0.8"/>
<circle cx="229.18" cy="302.07" r="1.95" fill="none" stroke="#bdbdbd" stroke-width="0.8"/>
<circle cx="208.12" cy="302.47" r="1.95" fill="none" stroke="#bdbdbd" stroke-width="0.8"/>
<circle cx="212.33" cy="303.26" r="1.95" fill="none" stroke="#bdbdbd" stroke-width="0.8"/>
<circle cx="216.54" cy="304.05" r="1.95" fill="none" stroke="#bdbdbd" stroke-width="0.8"/>
<circle cx="220.76" cy="304.45" r="1.95" fill="none" stroke="#bdbdbd" stroke-width="0.8"/>
<circle cx="224.97" cy="305.24" r="1.95" fill="none" stroke="#bdbdbd" stroke-width="0.8"/>
<circle cx="229.18" cy="306.03" r="1.95" fill="none" stroke="#bdbdbd" stroke-width="0.8"/>
<circle cx="218.65" cy="307.22" r="1.95" fill="none" stroke="#bdbdbd" stroke-width="0.8"/>
<circle cx="244.14" cy="230" r="1.95" fill="none" stroke="#d6a29c" stroke-width="0.8"/>
<circle cx="248.36" cy="232.77" r="1.95" fill="none" stroke="#d6a29c" stroke-width="0.8"/>
<circle cx="244.14" cy="249.01" r="1.95" fill="none" stroke="#d6a29c" stroke-width="0.8"/>
<circle cx="248.36" cy="250.59" r="1.95" fill="none" stroke="#d6a29c" stroke-width="0.8"/>
<circle cx="244.14" cy="256.93" r="1.95" fill="none" stroke="#d6a29c" stroke-width="0.8"/>
<circle cx="244.14" cy="268.81" r="1.95" fill="none" stroke="#d6a29c" stroke-width="0.8"/>
<circle cx="248.36" cy="274.35" r="1.95" fill="none" stroke="#d6a29c" stroke-width="0.8"/>
<circle cx="235.72" cy="279.5" r="1.95" fill="none" stroke="#d6a29c" stroke-width="0.8"/>
<circle cx="239.93" cy="280.69" r="1.95" fill="none" stroke="#d6a29c" stroke-width="0.8"/>
<circle cx="244.14" cy="281.48" r="1.95" fill="none" stroke="#d6a29c" stroke-width="0.8"/>
<circle cx="248.36" cy="282.27" r="1.95" fill="none" stroke="#d6a29c" stroke-width="0.8"/>
<circle cx="252.57" cy="283.46" r="1.95" fill="none" stroke="#d6a29c" stroke-width="0.8"/>
<circle cx="256.78" cy="284.65" r="1.95" fill="none" stroke="#d6a29c" stroke-width="0.8"/>
<circle cx="235.72" cy="285.44" r="1.95" fill="none" stroke="#d6a29c" stroke-width="0.8"/>
<circle cx="239.93" cy="286.23" r="1.95" fill="none" stroke="#d6a29c" stroke-width="0.8"/>
<circle cx="244.14" cy="287.42" r="1.95" fill="none" stroke="#d6a29c" stroke-width="0.8"/>
<circle cx="248.36" cy="288.21" r="1.95" fill="none" stroke="#d6a29c" stroke-width="0.8"/>
<circle cx="252.57" cy="289.4" r="1.95" fill="none" stroke="#d6a29c" stroke-width="0.8"/>
<circle cx="256.78" cy="290.19" r="1.95" fill="none" stroke="#d6a29c" stroke-width="0.8"/>
<circle cx="235.72" cy="290.98" r="1.95" fill="none" stroke="#d6a29c" stroke-width="0.8"/>
<circle cx="239.93" cy="291.78" r="1.95" fill="none" stroke="#d6a29c" stroke-width="0.8"/>
<circle cx="244.14" cy="292.57" r="1.95" fill="none" stroke="#d6a29c" stroke-width="0.8"/>
<circle cx="248.36" cy="293.36" r="1.95" fill="none" stroke="#d6a29c" stroke-width="0.8"/>
<circle cx="252.57" cy="294.15" r="1.95" fill="none" stroke="#d6a29c" stroke-width="0.8"/>
<circle cx="256.78" cy="294.94" r="1.95" fill="none" stroke="#d6a29c" stroke-width="0.8"/>
<circle cx="235.72" cy="295.74" r="1.95" fill="none" stroke="#d6a29c" stroke-width="0.8"/>
<circle cx="239.93" cy="296.53" r="1.95" fill="none" stroke="#d6a29c" stroke-width="0.8"/>
<circle cx="244.14" cy="297.32" r="1.95" fill="none" stroke="#d6a29c" stroke-width="0.8"/>
<circle cx="248.36" cy="298.11" r="1.95" fill="none" stroke="#d6a29c" stroke-width="0.8"/>
<circle cx="252.57" cy="298.9" r="1.95" fill="none" stroke="#d6a29c" stroke-width="0.8"/>
<circle cx="256.78" cy="299.7" r="1.95" fill="none" stroke="#d6a29c" stroke-width="0.8"/>
<circle cx="235.72" cy="300.49" r="1.95" fill="none" stroke="#d6a29c" stroke-width="0.8"/>
<circle cx="239.93" cy="301.28" r="1.95" fill="none" stroke="#d6a29c" stroke-width="0.8"/>
<circle cx="244.14" cy="302.07" r="1.95" fill="none" stroke="#d6a29c" stroke-width="0.8"/>
<circle cx="248.36" cy="302.86" r="1.95" fill="none" stroke="#d6a29c" stroke-width="0.8"/>
<circle cx="252.57" cy="303.66" r="1.95" fill="none" stroke="#d6a29c" stroke-width="0.8"/>
<circle cx="256.78" cy="304.45" r="1.95" fill="none" stroke="#d6a29c" stroke-width="0.8"/>
<circle cx="242.04" cy="305.24" r="1.95" fill="none" stroke="#d6a29c" stroke-width="0.8"/>
<circle cx="246.25" cy="306.03" r="1.95" fill="none" stroke="#d6a29c" stroke-width="0.8"/>
<circle cx="250.46" cy="307.22" r="1.95" fill="none" stroke="#d6a29c" stroke-width="0.8"/>
<path d="M206.6,309.2V291.18H230.7V309.2" fill="none" stroke="#1c1c1c" stroke-width="1.5"/>
<line x1="218.65" y1="293.16" x2="218.65" y2="289.2" stroke="#2b2b2b" stroke-width="1.2" />
<line x1="212.15" y1="289.2" x2="225.15" y2="289.2" stroke="#2b2b2b" stroke-width="1.2" />
<line x1="212.15" y1="293.16" x2="225.15" y2="293.16" stroke="#2b2b2b" stroke-width="1.2" />
<line x1="218.65" y1="309.2" x2="218.65" y2="312.8" stroke="#2b2b2b" stroke-width="1" />
<path d="M234.2,309.2V287.1H258.3V309.2" fill="none" stroke="#1c1c1c" stroke-width="1.5"/>
<line x1="246.25" y1="289.88" x2="246.25" y2="284.33" stroke="#2b2b2b" stroke-width="1.2" />
<line x1="239.75" y1="284.33" x2="252.75" y2="284.33" stroke="#2b2b2b" stroke-width="1.2" />
<line x1="239.75" y1="289.88" x2="252.75" y2="289.88" stroke="#2b2b2b" stroke-width="1.2" />
<line x1="246.25" y1="309.2" x2="246.25" y2="312.8" stroke="#2b2b2b" stroke-width="1" />
<line x1="195.6" y1="309.2" x2="263.4" y2="309.2" stroke="#2b2b2b" stroke-width="1.3" />
<line x1="215" y1="203.3" x2="254.8" y2="203.3" stroke="#2b2b2b" stroke-width="1.1" />
<text x="234.9" y="199.6" font-size="8.8" text-anchor="middle">P=0.6677</text>
<text x="200.7" y="324.28" font-size="9.4" style="fill:#929292;stroke:#929292">n</text>
<text x="218.5" y="324.28" font-size="9.4" text-anchor="middle" style="fill:#929292;stroke:#929292">36</text>
<text x="245.6" y="324.28" font-size="9.4" text-anchor="middle" style="fill:#929292;stroke:#929292">40</text>
<text x="236" y="337.25" font-size="10.4" text-anchor="middle">WT R799Q</text>
<text x="174.07" y="253.5" font-size="10.2" text-anchor="middle" transform="rotate(-90 174.07 253.5)">Pool Size (nC)</text>
<text x="294.7" y="183.5" font-size="11.5" style="fill:#111;stroke:#111" font-weight="bold">h</text>
<line x1="326" y1="212.1" x2="326" y2="310.4" stroke="#2b2b2b" stroke-width="1.3" />
<line x1="320.5" y1="309.8" x2="326" y2="309.8" stroke="#2b2b2b" stroke-width="1" />
<text x="318.5" y="313.47" font-size="10.2" text-anchor="end">0</text>
<line x1="320.5" y1="272" x2="326" y2="272" stroke="#2b2b2b" stroke-width="1" />
<text x="318.5" y="275.67" font-size="10.2" text-anchor="end">5</text>
<line x1="320.5" y1="234.2" x2="326" y2="234.2" stroke="#2b2b2b" stroke-width="1" />
<text x="318.5" y="237.87" font-size="10.2" text-anchor="end">10</text>
<rect x="331.1" y="250.53" width="24.5" height="59.27" fill="#fff" stroke="none" stroke-width="0"/>
<rect x="359.3" y="244.41" width="24.3" height="65.39" fill="#fff" stroke="none" stroke-width="0"/>
<circle cx="341.24" cy="230.42" r="1.95" fill="none" stroke="#bdbdbd" stroke-width="0.8"/>
<circle cx="345.46" cy="231.18" r="1.95" fill="none" stroke="#bdbdbd" stroke-width="0.8"/>
<circle cx="339.14" cy="241" r="1.95" fill="none" stroke="#bdbdbd" stroke-width="0.8"/>
<circle cx="343.35" cy="241.76" r="1.95" fill="none" stroke="#bdbdbd" stroke-width="0.8"/>
<circle cx="347.56" cy="243.27" r="1.95" fill="none" stroke="#bdbdbd" stroke-width="0.8"/>
<circle cx="334.93" cy="249.32" r="1.95" fill="none" stroke="#bdbdbd" stroke-width="0.8"/>
<circle cx="339.14" cy="250.83" r="1.95" fill="none" stroke="#bdbdbd" stroke-width="0.8"/>
<circle cx="343.35" cy="252.34" r="1.95" fill="none" stroke="#bdbdbd" stroke-width="0.8"/>
<circle cx="347.56" cy="253.86" r="1.95" fill="none" stroke="#bdbdbd" stroke-width="0.8"/>
<circle cx="351.77" cy="255.37" r="1.95" fill="none" stroke="#bdbdbd" stroke-width="0.8"/>
<circle cx="334.93" cy="256.88" r="1.95" fill="none" stroke="#bdbdbd" stroke-width="0.8"/>
<circle cx="339.14" cy="258.39" r="1.95" fill="none" stroke="#bdbdbd" stroke-width="0.8"/>
<circle cx="343.35" cy="259.15" r="1.95" fill="none" stroke="#bdbdbd" stroke-width="0.8"/>
<circle cx="347.56" cy="260.66" r="1.95" fill="none" stroke="#bdbdbd" stroke-width="0.8"/>
<circle cx="351.77" cy="262.17" r="1.95" fill="none" stroke="#bdbdbd" stroke-width="0.8"/>
<circle cx="334.93" cy="263.68" r="1.95" fill="none" stroke="#bdbdbd" stroke-width="0.8"/>
<circle cx="339.14" cy="264.44" r="1.95" fill="none" stroke="#bdbdbd" stroke-width="0.8"/>
<circle cx="343.35" cy="265.95" r="1.95" fill="none" stroke="#bdbdbd" stroke-width="0.8"/>
<circle cx="347.56" cy="267.46" r="1.95" fill="none" stroke="#bdbdbd" stroke-width="0.8"/>
<circle cx="351.77" cy="268.98" r="1.95" fill="none" stroke="#bdbdbd" stroke-width="0.8"/>
<circle cx="334.93" cy="270.49" r="1.95" fill="none" stroke="#bdbdbd" stroke-width="0.8"/>
<circle cx="339.14" cy="272" r="1.95" fill="none" stroke="#bdbdbd" stroke-width="0.8"/>
<circle cx="343.35" cy="273.51" r="1.95" fill="none" stroke="#bdbdbd" stroke-width="0.8"/>
<circle cx="347.56" cy="275.02" r="1.95" fill="none" stroke="#bdbdbd" stroke-width="0.8"/>
<circle cx="351.77" cy="275.78" r="1.95" fill="none" stroke="#bdbdbd" stroke-width="0.8"/>
<circle cx="334.93" cy="277.29" r="1.95" fill="none" stroke="#bdbdbd" stroke-width="0.8"/>
<circle cx="339.14" cy="278.05" r="1.95" fill="none" stroke="#bdbdbd" stroke-width="0.8"/>
<circle cx="343.35" cy="278.8" r="1.95" fill="none" stroke="#bdbdbd" stroke-width="0.8"/>
<circle cx="347.56" cy="280.32" r="1.95" fill="none" stroke="#bdbdbd" stroke-width="0.8"/>
<circle cx="351.77" cy="283.34" r="1.95" fill="none" stroke="#bdbdbd" stroke-width="0.8"/>
<circle cx="341.24" cy="287.12" r="1.95" fill="none" stroke="#bdbdbd" stroke-width="0.8"/>
<circle cx="345.46" cy="290.9" r="1.95" fill="none" stroke="#bdbdbd" stroke-width="0.8"/>
<circle cx="337.03" cy="293.92" r="1.95" fill="none" stroke="#bdbdbd" stroke-width="0.8"/>
<circle cx="341.24" cy="296.19" r="1.95" fill="none" stroke="#bdbdbd" stroke-width="0.8"/>
<circle cx="345.46" cy="298.46" r="1.95" fill="none" stroke="#bdbdbd" stroke-width="0.8"/>
<circle cx="349.67" cy="299.97" r="1.95" fill="none" stroke="#bdbdbd" stroke-width="0.8"/>
<circle cx="369.34" cy="211.52" r="1.95" fill="none" stroke="#d6a29c" stroke-width="0.8"/>
<circle cx="373.56" cy="214.54" r="1.95" fill="none" stroke="#d6a29c" stroke-width="0.8"/>
<circle cx="369.34" cy="220.59" r="1.95" fill="none" stroke="#d6a29c" stroke-width="0.8"/>
<circle cx="373.56" cy="220.59" r="1.95" fill="none" stroke="#d6a29c" stroke-width="0.8"/>
<circle cx="367.24" cy="237.98" r="1.95" fill="none" stroke="#d6a29c" stroke-width="0.8"/>
<circle cx="371.45" cy="240.25" r="1.95" fill="none" stroke="#d6a29c" stroke-width="0.8"/>
<circle cx="375.66" cy="243.27" r="1.95" fill="none" stroke="#d6a29c" stroke-width="0.8"/>
<circle cx="365.13" cy="245.54" r="1.95" fill="none" stroke="#d6a29c" stroke-width="0.8"/>
<circle cx="369.34" cy="247.81" r="1.95" fill="none" stroke="#d6a29c" stroke-width="0.8"/>
<circle cx="373.56" cy="249.32" r="1.95" fill="none" stroke="#d6a29c" stroke-width="0.8"/>
<circle cx="377.77" cy="250.83" r="1.95" fill="none" stroke="#d6a29c" stroke-width="0.8"/>
<circle cx="363.03" cy="259.9" r="1.95" fill="none" stroke="#d6a29c" stroke-width="0.8"/>
<circle cx="367.24" cy="261.42" r="1.95" fill="none" stroke="#d6a29c" stroke-width="0.8"/>
<circle cx="371.45" cy="262.93" r="1.95" fill="none" stroke="#d6a29c" stroke-width="0.8"/>
<circle cx="375.66" cy="264.44" r="1.95" fill="none" stroke="#d6a29c" stroke-width="0.8"/>
<circle cx="379.87" cy="265.2" r="1.95" fill="none" stroke="#d6a29c" stroke-width="0.8"/>
<circle cx="360.92" cy="266.71" r="1.95" fill="none" stroke="#d6a29c" stroke-width="0.8"/>
<circle cx="365.13" cy="268.22" r="1.95" fill="none" stroke="#d6a29c" stroke-width="0.8"/>
<circle cx="369.34" cy="269.73" r="1.95" fill="none" stroke="#d6a29c" stroke-width="0.8"/>
<circle cx="373.56" cy="271.24" r="1.95" fill="none" stroke="#d6a29c" stroke-width="0.8"/>
<circle cx="377.77" cy="272" r="1.95" fill="none" stroke="#d6a29c" stroke-width="0.8"/>
<circle cx="381.98" cy="272.76" r="1.95" fill="none" stroke="#d6a29c" stroke-width="0.8"/>
<circle cx="360.92" cy="273.51" r="1.95" fill="none" stroke="#d6a29c" stroke-width="0.8"/>
<circle cx="365.13" cy="274.27" r="1.95" fill="none" stroke="#d6a29c" stroke-width="0.8"/>
<circle cx="369.34" cy="275.02" r="1.95" fill="none" stroke="#d6a29c" stroke-width="0.8"/>
<circle cx="373.56" cy="275.78" r="1.95" fill="none" stroke="#d6a29c" stroke-width="0.8"/>
<circle cx="377.77" cy="276.54" r="1.95" fill="none" stroke="#d6a29c" stroke-width="0.8"/>
<circle cx="381.98" cy="277.29" r="1.95" fill="none" stroke="#d6a29c" stroke-width="0.8"/>
<circle cx="363.03" cy="278.05" r="1.95" fill="none" stroke="#d6a29c" stroke-width="0.8"/>
<circle cx="367.24" cy="279.56" r="1.95" fill="none" stroke="#d6a29c" stroke-width="0.8"/>
<circle cx="371.45" cy="281.07" r="1.95" fill="none" stroke="#d6a29c" stroke-width="0.8"/>
<circle cx="375.66" cy="282.58" r="1.95" fill="none" stroke="#d6a29c" stroke-width="0.8"/>
<circle cx="379.87" cy="284.1" r="1.95" fill="none" stroke="#d6a29c" stroke-width="0.8"/>
<circle cx="363.03" cy="284.85" r="1.95" fill="none" stroke="#d6a29c" stroke-width="0.8"/>
<circle cx="367.24" cy="285.61" r="1.95" fill="none" stroke="#d6a29c" stroke-width="0.8"/>
<circle cx="371.45" cy="287.12" r="1.95" fill="none" stroke="#d6a29c" stroke-width="0.8"/>
<circle cx="375.66" cy="288.63" r="1.95" fill="none" stroke="#d6a29c" stroke-width="0.8"/>
<circle cx="379.87" cy="290.9" r="1.95" fill="none" stroke="#d6a29c" stroke-width="0.8"/>
<circle cx="369.34" cy="293.17" r="1.95" fill="none" stroke="#d6a29c" stroke-width="0.8"/>
<circle cx="373.56" cy="295.44" r="1.95" fill="none" stroke="#d6a29c" stroke-width="0.8"/>
<path d="M331.1,309.8V250.53H355.6V309.8" fill="none" stroke="#1c1c1c" stroke-width="1.5"/>
<line x1="343.35" y1="255.07" x2="343.35" y2="244.18" stroke="#2b2b2b" stroke-width="1.2" />
<line x1="336.85" y1="244.18" x2="349.85" y2="244.18" stroke="#2b2b2b" stroke-width="1.2" />
<line x1="336.85" y1="255.07" x2="349.85" y2="255.07" stroke="#2b2b2b" stroke-width="1.2" />
<line x1="343.35" y1="309.8" x2="343.35" y2="313.4" stroke="#2b2b2b" stroke-width="1" />
<path d="M359.3,309.8V244.41H383.6V309.8" fill="none" stroke="#1c1c1c" stroke-width="1.5"/>
<line x1="371.45" y1="249.92" x2="371.45" y2="238.28" stroke="#2b2b2b" stroke-width="1.2" />
<line x1="364.95" y1="238.28" x2="377.95" y2="238.28" stroke="#2b2b2b" stroke-width="1.2" />
<line x1="364.95" y1="249.92" x2="377.95" y2="249.92" stroke="#2b2b2b" stroke-width="1.2" />
<line x1="371.45" y1="309.8" x2="371.45" y2="313.4" stroke="#2b2b2b" stroke-width="1" />
<line x1="320.5" y1="309.8" x2="384.6" y2="309.8" stroke="#2b2b2b" stroke-width="1.3" />
<line x1="336.8" y1="203.3" x2="377.7" y2="203.3" stroke="#2b2b2b" stroke-width="1.1" />
<text x="357.25" y="199.6" font-size="8.8" text-anchor="middle">P=0.905</text>
<text x="327.4" y="325.88" font-size="9.4" style="fill:#929292;stroke:#929292">n</text>
<text x="343.4" y="325.88" font-size="9.4" text-anchor="middle" style="fill:#929292;stroke:#929292">36</text>
<text x="371" y="325.88" font-size="9.4" text-anchor="middle" style="fill:#929292;stroke:#929292">40</text>
<text x="360.75" y="338.45" font-size="10.4" text-anchor="middle">WT R799Q</text>
<text x="305.17" y="259.6" font-size="10.2" text-anchor="middle" transform="rotate(-90 305.17 259.6)">pvr (%)</text>
<line x1="297.01" y1="275.83" x2="297.01" y2="270.93" stroke="#1e1e1e" stroke-width="0.9" />
<text x="414" y="183.4" font-size="11.5" style="fill:#111;stroke:#111" font-weight="bold">i</text>
<line x1="440.9" y1="222.2" x2="440.9" y2="311.8" stroke="#2b2b2b" stroke-width="1.25" />
<line x1="435.4" y1="311.2" x2="440.9" y2="311.2" stroke="#2b2b2b" stroke-width="1" />
<text x="433.4" y="314.87" font-size="10.2" text-anchor="end">0</text>
<line x1="435.4" y1="281.7" x2="440.9" y2="281.7" stroke="#2b2b2b" stroke-width="1" />
<text x="433.4" y="285.37" font-size="10.2" text-anchor="end">1</text>
<line x1="435.4" y1="252.2" x2="440.9" y2="252.2" stroke="#2b2b2b" stroke-width="1" />
<text x="433.4" y="255.87" font-size="10.2" text-anchor="end">2</text>
<line x1="435.4" y1="222.7" x2="440.9" y2="222.7" stroke="#2b2b2b" stroke-width="1" />
<text x="433.4" y="226.37" font-size="10.2" text-anchor="end">3</text>
<line x1="435.4" y1="311.2" x2="575.2" y2="311.2" stroke="#2b2b2b" stroke-width="1.1" />
<line x1="440.9" y1="311.2" x2="440.9" y2="315.8" stroke="#2b2b2b" stroke-width="1" />
<text x="440.9" y="323.67" font-size="10.2" text-anchor="middle">0</text>
<line x1="470.45" y1="311.2" x2="470.45" y2="315.8" stroke="#2b2b2b" stroke-width="1" />
<text x="470.45" y="323.67" font-size="10.2" text-anchor="middle">20</text>
<line x1="500" y1="311.2" x2="500" y2="315.8" stroke="#2b2b2b" stroke-width="1" />
<text x="500" y="323.67" font-size="10.2" text-anchor="middle">40</text>
<line x1="529.55" y1="311.2" x2="529.55" y2="315.8" stroke="#2b2b2b" stroke-width="1" />
<text x="529.55" y="323.67" font-size="10.2" text-anchor="middle">60</text>
<line x1="559.1" y1="311.2" x2="559.1" y2="315.8" stroke="#2b2b2b" stroke-width="1" />
<text x="559.1" y="323.67" font-size="10.2" text-anchor="middle">80</text>
<text x="508" y="337.1" font-size="10.2" text-anchor="middle">Time (s)</text>
<text x="419.67" y="263.2" font-size="10.2" text-anchor="middle" transform="rotate(-90 419.67 263.2)">Potentiation</text>
<line x1="485.22" y1="281.7" x2="573.88" y2="281.7" stroke="#666" stroke-width="1" stroke-dasharray="0.9 0.8"/>
<line x1="485.22" y1="219.9" x2="576.6" y2="219.9" stroke="#333" stroke-width="1.9" />
<text x="532.8" y="215.9" font-size="9.6" text-anchor="middle">PDBu</text>
<circle cx="449.5" cy="181.9" r="2.2" fill="#fff" stroke="#a3a3a3" stroke-width="0.85"/>
<text x="457.3" y="185.26" font-size="9.6">WT (n=24)</text>
<circle cx="449.5" cy="196.5" r="2.2" fill="#fff" stroke="#c5786f" stroke-width="0.85"/>
<text x="457.3" y="199.86" font-size="9.6">R799Q (n=24)</text>
<polyline points="440.9,281.7 455.67,281.7 470.45,282.58 485.22,283.18 500,255.15 514.77,246.3 529.55,243.35 544.32,240.99 559.1,240.99 573.88,240.4" fill="none" stroke="#a3a3a3" stroke-width="1" stroke-linejoin="round" />
<polyline points="440.9,282.58 455.67,281.7 470.45,282.58 485.22,283.18 500,262.52 514.77,258.1 529.55,256.03 544.32,256.03 559.1,256.62 573.88,256.62" fill="none" stroke="#c5786f" stroke-width="1" stroke-linejoin="round" />
<path d="M440.9,280.81V282.58M438.7,280.81H443.1M438.7,282.58H443.1" stroke="#a3a3a3" stroke-width="0.8" fill="none"/>
<path d="M455.67,281.11V282.29M453.47,281.11H457.87M453.47,282.29H457.87" stroke="#a3a3a3" stroke-width="0.8" fill="none"/>
<path d="M470.45,282V283.18M468.25,282H472.65M468.25,283.18H472.65" stroke="#a3a3a3" stroke-width="0.8" fill="none"/>
<path d="M485.22,282.58V283.76M483.02,282.58H487.42M483.02,283.76H487.42" stroke="#a3a3a3" stroke-width="0.8" fill="none"/>
<path d="M500,252.2V258.1M497.8,252.2H502.2M497.8,258.1H502.2" stroke="#a3a3a3" stroke-width="0.8" fill="none"/>
<path d="M514.77,240.4V252.2M512.57,240.4H516.98M512.57,252.2H516.98" stroke="#a3a3a3" stroke-width="0.8" fill="none"/>
<path d="M529.55,235.97V250.72M527.35,235.97H531.75M527.35,250.72H531.75" stroke="#a3a3a3" stroke-width="0.8" fill="none"/>
<path d="M544.32,232.14V249.84M542.12,232.14H546.52M542.12,249.84H546.52" stroke="#a3a3a3" stroke-width="0.8" fill="none"/>
<path d="M559.1,232.14V249.84M556.9,232.14H561.3M556.9,249.84H561.3" stroke="#a3a3a3" stroke-width="0.8" fill="none"/>
<path d="M573.88,231.55V249.25M571.67,231.55H576.08M571.67,249.25H576.08" stroke="#a3a3a3" stroke-width="0.8" fill="none"/>
<path d="M440.9,281.7V283.47M438.7,281.7H443.1M438.7,283.47H443.1" stroke="#c5786f" stroke-width="0.8" fill="none"/>
<path d="M455.67,281.11V282.29M453.47,281.11H457.87M453.47,282.29H457.87" stroke="#c5786f" stroke-width="0.8" fill="none"/>
<path d="M470.45,282V283.18M468.25,282H472.65M468.25,283.18H472.65" stroke="#c5786f" stroke-width="0.8" fill="none"/>
<path d="M485.22,282.58V283.76M483.02,282.58H487.42M483.02,283.76H487.42" stroke="#c5786f" stroke-width="0.8" fill="none"/>
<path d="M500,260.46V264.59M497.8,260.46H502.2M497.8,264.59H502.2" stroke="#c5786f" stroke-width="0.8" fill="none"/>
<path d="M514.77,255.15V261.05M512.57,255.15H516.98M512.57,261.05H516.98" stroke="#c5786f" stroke-width="0.8" fill="none"/>
<path d="M529.55,252.79V259.28M527.35,252.79H531.75M527.35,259.28H531.75" stroke="#c5786f" stroke-width="0.8" fill="none"/>
<path d="M544.32,253.08V258.99M542.12,253.08H546.52M542.12,258.99H546.52" stroke="#c5786f" stroke-width="0.8" fill="none"/>
<path d="M559.1,253.67V259.57M556.9,253.67H561.3M556.9,259.57H561.3" stroke="#c5786f" stroke-width="0.8" fill="none"/>
<path d="M573.88,253.08V260.16M571.67,253.08H576.08M571.67,260.16H576.08" stroke="#c5786f" stroke-width="0.8" fill="none"/>
<circle cx="440.9" cy="281.7" r="2.6" fill="#fff" stroke="#a3a3a3" stroke-width="0.95"/>
<circle cx="455.67" cy="281.7" r="2.6" fill="#fff" stroke="#a3a3a3" stroke-width="0.95"/>
<circle cx="470.45" cy="282.58" r="2.6" fill="#fff" stroke="#a3a3a3" stroke-width="0.95"/>
<circle cx="485.22" cy="283.18" r="2.6" fill="#fff" stroke="#a3a3a3" stroke-width="0.95"/>
<circle cx="500" cy="255.15" r="2.6" fill="#fff" stroke="#a3a3a3" stroke-width="0.95"/>
<circle cx="514.77" cy="246.3" r="2.6" fill="#fff" stroke="#a3a3a3" stroke-width="0.95"/>
<circle cx="529.55" cy="243.35" r="2.6" fill="#fff" stroke="#a3a3a3" stroke-width="0.95"/>
<circle cx="544.32" cy="240.99" r="2.6" fill="#fff" stroke="#a3a3a3" stroke-width="0.95"/>
<circle cx="559.1" cy="240.99" r="2.6" fill="#fff" stroke="#a3a3a3" stroke-width="0.95"/>
<circle cx="573.88" cy="240.4" r="2.6" fill="#fff" stroke="#a3a3a3" stroke-width="0.95"/>
<circle cx="440.9" cy="282.58" r="2.6" fill="#fff" stroke="#c5786f" stroke-width="0.95"/>
<circle cx="455.67" cy="281.7" r="2.6" fill="#fff" stroke="#c5786f" stroke-width="0.95"/>
<circle cx="470.45" cy="282.58" r="2.6" fill="#fff" stroke="#c5786f" stroke-width="0.95"/>
<circle cx="485.22" cy="283.18" r="2.6" fill="#fff" stroke="#c5786f" stroke-width="0.95"/>
<circle cx="500" cy="262.52" r="2.6" fill="#fff" stroke="#c5786f" stroke-width="0.95"/>
<circle cx="514.77" cy="258.1" r="2.6" fill="#fff" stroke="#c5786f" stroke-width="0.95"/>
<circle cx="529.55" cy="256.03" r="2.6" fill="#fff" stroke="#c5786f" stroke-width="0.95"/>
<circle cx="544.32" cy="256.03" r="2.6" fill="#fff" stroke="#c5786f" stroke-width="0.95"/>
<circle cx="559.1" cy="256.62" r="2.6" fill="#fff" stroke="#c5786f" stroke-width="0.95"/>
<circle cx="573.88" cy="256.62" r="2.6" fill="#fff" stroke="#c5786f" stroke-width="0.95"/>
<line x1="485.2" y1="258.7" x2="485.2" y2="270.9" stroke="#111" stroke-width="1.1" />
<path d="M482.8,268.9L485.2,273.9L487.6,268.9Z" fill="#111" stroke="#111" stroke-width="0.4"/>
<text x="1.5" y="368.3" font-size="11.5" style="fill:#111;stroke:#111" font-weight="bold">j</text>
<line x1="58.4" y1="391.1" x2="58.4" y2="466.8" stroke="#2b2b2b" stroke-width="1.25" />
<line x1="52.9" y1="466.2" x2="58.4" y2="466.2" stroke="#2b2b2b" stroke-width="1" />
<text x="50.9" y="469.87" font-size="10.2" text-anchor="end">0.0</text>
<line x1="52.9" y1="442.4" x2="58.4" y2="442.4" stroke="#2b2b2b" stroke-width="1" />
<text x="50.9" y="446.07" font-size="10.2" text-anchor="end">0.5</text>
<line x1="52.9" y1="418.6" x2="58.4" y2="418.6" stroke="#2b2b2b" stroke-width="1" />
<text x="50.9" y="422.27" font-size="10.2" text-anchor="end">1.0</text>
<line x1="52.9" y1="394.8" x2="58.4" y2="394.8" stroke="#2b2b2b" stroke-width="1" />
<text x="50.9" y="398.47" font-size="10.2" text-anchor="end">1.5</text>
<line x1="52.9" y1="466.2" x2="58.4" y2="466.2" stroke="#2b2b2b" stroke-width="1.1" />
<line x1="58.4" y1="466.2" x2="90.5" y2="466.2" stroke="#2b2b2b" stroke-width="1.25" />
<line x1="90.4" y1="461" x2="90.4" y2="471.2" stroke="#2b2b2b" stroke-width="1.1" />
<line x1="58.4" y1="466.2" x2="58.4" y2="470.8" stroke="#2b2b2b" stroke-width="1" />
<text x="58.4" y="482.57" font-size="10.2" text-anchor="middle">0</text>
<line x1="72.8" y1="466.2" x2="72.8" y2="470.8" stroke="#2b2b2b" stroke-width="1" />
<text x="72.8" y="482.57" font-size="10.2" text-anchor="middle">5</text>
<line x1="87.6" y1="466.2" x2="87.6" y2="470.8" stroke="#2b2b2b" stroke-width="1" />
<text x="87.6" y="482.57" font-size="10.2" text-anchor="middle">10</text>
<line x1="107.1" y1="466.2" x2="185.6" y2="466.2" stroke="#2b2b2b" stroke-width="1.25" />
<line x1="107.1" y1="461" x2="107.1" y2="471.2" stroke="#2b2b2b" stroke-width="1.1" />
<line x1="185.6" y1="461" x2="185.6" y2="471.2" stroke="#2b2b2b" stroke-width="1.1" />
<line x1="107.1" y1="466.2" x2="107.1" y2="470.8" stroke="#2b2b2b" stroke-width="1" />
<text x="107.1" y="482.57" font-size="10.2" text-anchor="middle">20</text>
<line x1="133.1" y1="466.2" x2="133.1" y2="470.8" stroke="#2b2b2b" stroke-width="1" />
<text x="133.1" y="482.57" font-size="10.2" text-anchor="middle">21</text>
<line x1="159.2" y1="466.2" x2="159.2" y2="470.8" stroke="#2b2b2b" stroke-width="1" />
<text x="159.2" y="482.57" font-size="10.2" text-anchor="middle">22</text>
<line x1="185.4" y1="466.2" x2="185.4" y2="470.8" stroke="#2b2b2b" stroke-width="1" />
<text x="185.4" y="482.57" font-size="10.2" text-anchor="middle">23</text>
<line x1="202.4" y1="466.2" x2="248.3" y2="466.2" stroke="#2b2b2b" stroke-width="1.25" />
<line x1="202.4" y1="461" x2="202.4" y2="471.2" stroke="#2b2b2b" stroke-width="1.1" />
<line x1="202.4" y1="466.2" x2="202.4" y2="470.8" stroke="#2b2b2b" stroke-width="1" />
<text x="202.4" y="482.57" font-size="10.2" text-anchor="middle">30</text>
<line x1="213.9" y1="466.2" x2="213.9" y2="470.8" stroke="#2b2b2b" stroke-width="1" />
<line x1="225.3" y1="466.2" x2="225.3" y2="470.8" stroke="#2b2b2b" stroke-width="1" />
<text x="225.3" y="482.57" font-size="10.2" text-anchor="middle">50</text>
<line x1="236.8" y1="466.2" x2="236.8" y2="470.8" stroke="#2b2b2b" stroke-width="1" />
<line x1="248.3" y1="466.2" x2="248.3" y2="470.8" stroke="#2b2b2b" stroke-width="1" />
<text x="248.3" y="482.57" font-size="10.2" text-anchor="middle">70</text>
<text x="147" y="498.3" font-size="10.2" text-anchor="middle">Time (s)</text>
<text x="15.37" y="432.7" font-size="10.2" text-anchor="middle" transform="rotate(-90 15.37 432.7)">Normalized</text>
<text x="27.07" y="432.7" font-size="10.2" text-anchor="middle" transform="rotate(-90 27.07 432.7)">eEPSC amplitude</text>
<line x1="58.4" y1="418.6" x2="252" y2="418.6" stroke="#444" stroke-width="1" stroke-dasharray="1 4.1"/>
<line x1="105.7" y1="399.3" x2="185.4" y2="399.3" stroke="#444" stroke-width="1" />
<text x="145.55" y="397.31" font-size="9.2" text-anchor="middle">10 Hz</text>
<circle cx="69.7" cy="365.7" r="2.2" fill="#fff" stroke="#a3a3a3" stroke-width="0.85"/>
<text x="77.5" y="369.06" font-size="9.6">WT (n=35)</text>
<circle cx="69.7" cy="380.3" r="2.2" fill="#fff" stroke="#c5786f" stroke-width="0.85"/>
<text x="77.5" y="383.66" font-size="9.6">R799Q (n=39)</text>
<path d="M107.4,417.65V421.46M105.9,417.65H108.9M105.9,421.46H108.9" stroke="#c5786f" stroke-width="0.7" fill="none"/>
<path d="M110.09,418.54V422.34M108.59,418.54H111.59M108.59,422.34H111.59" stroke="#c5786f" stroke-width="0.7" fill="none"/>
<path d="M112.78,420.41V424.22M111.28,420.41H114.28M111.28,424.22H114.28" stroke="#c5786f" stroke-width="0.7" fill="none"/>
<path d="M115.47,420.56V424.36M113.97,420.56H116.97M113.97,424.36H116.97" stroke="#c5786f" stroke-width="0.7" fill="none"/>
<path d="M118.16,421.48V425.29M116.66,421.48H119.66M116.66,425.29H119.66" stroke="#c5786f" stroke-width="0.7" fill="none"/>
<path d="M120.85,422.64V426.45M119.35,422.64H122.35M119.35,426.45H122.35" stroke="#c5786f" stroke-width="0.7" fill="none"/>
<path d="M123.54,422.31V426.12M122.04,422.31H125.04M122.04,426.12H125.04" stroke="#c5786f" stroke-width="0.7" fill="none"/>
<path d="M126.23,423.4V427.21M124.73,423.4H127.73M124.73,427.21H127.73" stroke="#c5786f" stroke-width="0.7" fill="none"/>
<path d="M128.92,423.81V427.62M127.42,423.81H130.42M127.42,427.62H130.42" stroke="#c5786f" stroke-width="0.7" fill="none"/>
<path d="M131.61,423.48V427.28M130.11,423.48H133.11M130.11,427.28H133.11" stroke="#c5786f" stroke-width="0.7" fill="none"/>
<path d="M134.3,424.61V428.42M132.8,424.61H135.8M132.8,428.42H135.8" stroke="#c5786f" stroke-width="0.7" fill="none"/>
<path d="M136.99,424.37V428.18M135.49,424.37H138.49M135.49,428.18H138.49" stroke="#c5786f" stroke-width="0.7" fill="none"/>
<path d="M139.68,424.35V428.16M138.18,424.35H141.18M138.18,428.16H141.18" stroke="#c5786f" stroke-width="0.7" fill="none"/>
<path d="M142.37,425.29V429.1M140.87,425.29H143.87M140.87,429.1H143.87" stroke="#c5786f" stroke-width="0.7" fill="none"/>
<path d="M145.06,424.62V428.43M143.56,424.62H146.56M143.56,428.43H146.56" stroke="#c5786f" stroke-width="0.7" fill="none"/>
<path d="M147.74,425.05V428.86M146.24,425.05H149.24M146.24,428.86H149.24" stroke="#c5786f" stroke-width="0.7" fill="none"/>
<path d="M150.43,425.55V429.36M148.93,425.55H151.93M148.93,429.36H151.93" stroke="#c5786f" stroke-width="0.7" fill="none"/>
<path d="M153.12,424.79V428.6M151.62,424.79H154.62M151.62,428.6H154.62" stroke="#c5786f" stroke-width="0.7" fill="none"/>
<path d="M155.81,425.59V429.4M154.31,425.59H157.31M154.31,429.4H157.31" stroke="#c5786f" stroke-width="0.7" fill="none"/>
<path d="M158.5,425.53V429.34M157,425.53H160M157,429.34H160" stroke="#c5786f" stroke-width="0.7" fill="none"/>
<path d="M161.19,425.02V428.83M159.69,425.02H162.69M159.69,428.83H162.69" stroke="#c5786f" stroke-width="0.7" fill="none"/>
<path d="M163.88,425.94V429.74M162.38,425.94H165.38M162.38,429.74H165.38" stroke="#c5786f" stroke-width="0.7" fill="none"/>
<path d="M166.57,425.38V429.18M165.07,425.38H168.07M165.07,429.18H168.07" stroke="#c5786f" stroke-width="0.7" fill="none"/>
<path d="M169.26,425.33V429.14M167.76,425.33H170.76M167.76,429.14H170.76" stroke="#c5786f" stroke-width="0.7" fill="none"/>
<path d="M171.95,426.06V429.86M170.45,426.06H173.45M170.45,429.86H173.45" stroke="#c5786f" stroke-width="0.7" fill="none"/>
<path d="M174.64,425.23V429.03M173.14,425.23H176.14M173.14,429.03H176.14" stroke="#c5786f" stroke-width="0.7" fill="none"/>
<path d="M177.33,425.69V429.49M175.83,425.69H178.83M175.83,429.49H178.83" stroke="#c5786f" stroke-width="0.7" fill="none"/>
<path d="M180.02,425.97V429.78M178.52,425.97H181.52M178.52,429.78H181.52" stroke="#c5786f" stroke-width="0.7" fill="none"/>
<path d="M182.71,425.19V429M181.21,425.19H184.21M181.21,429H184.21" stroke="#c5786f" stroke-width="0.7" fill="none"/>
<path d="M185.4,425.99V429.8M183.9,425.99H186.9M183.9,429.8H186.9" stroke="#c5786f" stroke-width="0.7" fill="none"/>
<path d="M107.4,416.7V420.5M105.9,416.7H108.9M105.9,420.5H108.9" stroke="#a3a3a3" stroke-width="0.7" fill="none"/>
<path d="M110.09,416.9V420.7M108.59,416.9H111.59M108.59,420.7H111.59" stroke="#a3a3a3" stroke-width="0.7" fill="none"/>
<path d="M112.78,418.08V421.89M111.28,418.08H114.28M111.28,421.89H114.28" stroke="#a3a3a3" stroke-width="0.7" fill="none"/>
<path d="M115.47,418.92V422.73M113.97,418.92H116.97M113.97,422.73H116.97" stroke="#a3a3a3" stroke-width="0.7" fill="none"/>
<path d="M118.16,418.71V422.52M116.66,418.71H119.66M116.66,422.52H119.66" stroke="#a3a3a3" stroke-width="0.7" fill="none"/>
<path d="M120.85,418.97V422.78M119.35,418.97H122.35M119.35,422.78H122.35" stroke="#a3a3a3" stroke-width="0.7" fill="none"/>
<path d="M123.54,420.04V423.85M122.04,420.04H125.04M122.04,423.85H125.04" stroke="#a3a3a3" stroke-width="0.7" fill="none"/>
<path d="M126.23,420.32V424.13M124.73,420.32H127.73M124.73,424.13H127.73" stroke="#a3a3a3" stroke-width="0.7" fill="none"/>
<path d="M128.92,419.9V423.71M127.42,419.9H130.42M127.42,423.71H130.42" stroke="#a3a3a3" stroke-width="0.7" fill="none"/>
<path d="M131.61,420.36V424.17M130.11,420.36H133.11M130.11,424.17H133.11" stroke="#a3a3a3" stroke-width="0.7" fill="none"/>
<path d="M134.3,421.23V425.04M132.8,421.23H135.8M132.8,425.04H135.8" stroke="#a3a3a3" stroke-width="0.7" fill="none"/>
<path d="M136.99,421.03V424.84M135.49,421.03H138.49M135.49,424.84H138.49" stroke="#a3a3a3" stroke-width="0.7" fill="none"/>
<path d="M139.68,420.66V424.47M138.18,420.66H141.18M138.18,424.47H141.18" stroke="#a3a3a3" stroke-width="0.7" fill="none"/>
<path d="M142.37,421.33V425.14M140.87,421.33H143.87M140.87,425.14H143.87" stroke="#a3a3a3" stroke-width="0.7" fill="none"/>
<path d="M145.06,421.88V425.69M143.56,421.88H146.56M143.56,425.69H146.56" stroke="#a3a3a3" stroke-width="0.7" fill="none"/>
<path d="M147.74,421.36V425.17M146.24,421.36H149.24M146.24,425.17H149.24" stroke="#a3a3a3" stroke-width="0.7" fill="none"/>
<path d="M150.43,421.22V425.02M148.93,421.22H151.93M148.93,425.02H151.93" stroke="#a3a3a3" stroke-width="0.7" fill="none"/>
<path d="M153.12,422V425.81M151.62,422H154.62M151.62,425.81H154.62" stroke="#a3a3a3" stroke-width="0.7" fill="none"/>
<path d="M155.81,422.15V425.96M154.31,422.15H157.31M154.31,425.96H157.31" stroke="#a3a3a3" stroke-width="0.7" fill="none"/>
<path d="M158.5,421.51V425.32M157,421.51H160M157,425.32H160" stroke="#a3a3a3" stroke-width="0.7" fill="none"/>
<path d="M161.19,421.69V425.5M159.69,421.69H162.69M159.69,425.5H162.69" stroke="#a3a3a3" stroke-width="0.7" fill="none"/>
<path d="M163.88,422.43V426.24M162.38,422.43H165.38M162.38,426.24H165.38" stroke="#a3a3a3" stroke-width="0.7" fill="none"/>
<path d="M166.57,422.18V425.99M165.07,422.18H168.07M165.07,425.99H168.07" stroke="#a3a3a3" stroke-width="0.7" fill="none"/>
<path d="M169.26,421.62V425.42M167.76,421.62H170.76M167.76,425.42H170.76" stroke="#a3a3a3" stroke-width="0.7" fill="none"/>
<path d="M171.95,422.1V425.91M170.45,422.1H173.45M170.45,425.91H173.45" stroke="#a3a3a3" stroke-width="0.7" fill="none"/>
<path d="M174.64,422.63V426.44M173.14,422.63H176.14M173.14,426.44H176.14" stroke="#a3a3a3" stroke-width="0.7" fill="none"/>
<path d="M177.33,422.08V425.89M175.83,422.08H178.83M175.83,425.89H178.83" stroke="#a3a3a3" stroke-width="0.7" fill="none"/>
<path d="M180.02,421.76V425.57M178.52,421.76H181.52M178.52,425.57H181.52" stroke="#a3a3a3" stroke-width="0.7" fill="none"/>
<path d="M182.71,422.45V426.26M181.21,422.45H184.21M181.21,426.26H184.21" stroke="#a3a3a3" stroke-width="0.7" fill="none"/>
<path d="M185.4,422.65V426.46M183.9,422.65H186.9M183.9,426.46H186.9" stroke="#a3a3a3" stroke-width="0.7" fill="none"/>
<path d="M202.2,402.42V405.27M200.7,402.42H203.7M200.7,405.27H203.7" stroke="#c5786f" stroke-width="0.7" fill="none"/>
<path d="M202.2,401.46V404.32M200.7,401.46H203.7M200.7,404.32H203.7" stroke="#a3a3a3" stroke-width="0.7" fill="none"/>
<path d="M209.88,411.94V414.79M208.38,411.94H211.38M208.38,414.79H211.38" stroke="#c5786f" stroke-width="0.7" fill="none"/>
<path d="M209.88,410.98V413.84M208.38,410.98H211.38M208.38,413.84H211.38" stroke="#a3a3a3" stroke-width="0.7" fill="none"/>
<path d="M217.57,417.17V420.03M216.07,417.17H219.07M216.07,420.03H219.07" stroke="#c5786f" stroke-width="0.7" fill="none"/>
<path d="M217.57,416.22V419.08M216.07,416.22H219.07M216.07,419.08H219.07" stroke="#a3a3a3" stroke-width="0.7" fill="none"/>
<path d="M225.25,418.6V421.46M223.75,418.6H226.75M223.75,421.46H226.75" stroke="#c5786f" stroke-width="0.7" fill="none"/>
<path d="M225.25,417.65V420.5M223.75,417.65H226.75M223.75,420.5H226.75" stroke="#a3a3a3" stroke-width="0.7" fill="none"/>
<path d="M232.93,419.08V421.93M231.43,419.08H234.43M231.43,421.93H234.43" stroke="#c5786f" stroke-width="0.7" fill="none"/>
<path d="M232.93,418.12V420.98M231.43,418.12H234.43M231.43,420.98H234.43" stroke="#a3a3a3" stroke-width="0.7" fill="none"/>
<path d="M240.62,420.98V423.84M239.12,420.98H242.12M239.12,423.84H242.12" stroke="#c5786f" stroke-width="0.7" fill="none"/>
<path d="M240.62,420.03V422.88M239.12,420.03H242.12M239.12,422.88H242.12" stroke="#a3a3a3" stroke-width="0.7" fill="none"/>
<path d="M248.3,421.46V424.31M246.8,421.46H249.8M246.8,424.31H249.8" stroke="#c5786f" stroke-width="0.7" fill="none"/>
<path d="M248.3,420.5V423.36M246.8,420.5H249.8M246.8,423.36H249.8" stroke="#a3a3a3" stroke-width="0.7" fill="none"/>
<circle cx="58.4" cy="418.6" r="2.05" fill="#fff" stroke="#c5786f" stroke-width="0.85"/>
<circle cx="58.4" cy="418.6" r="2.05" fill="#fff" stroke="#a3a3a3" stroke-width="0.85"/>
<circle cx="87.6" cy="418.6" r="2.05" fill="#fff" stroke="#c5786f" stroke-width="0.85"/>
<circle cx="87.6" cy="418.6" r="2.05" fill="#fff" stroke="#a3a3a3" stroke-width="0.85"/>
<circle cx="107.4" cy="419.55" r="2.05" fill="#fff" stroke="#c5786f" stroke-width="0.85"/>
<circle cx="110.09" cy="420.44" r="2.05" fill="#fff" stroke="#c5786f" stroke-width="0.85"/>
<circle cx="112.78" cy="422.32" r="2.05" fill="#fff" stroke="#c5786f" stroke-width="0.85"/>
<circle cx="115.47" cy="422.46" r="2.05" fill="#fff" stroke="#c5786f" stroke-width="0.85"/>
<circle cx="118.16" cy="423.38" r="2.05" fill="#fff" stroke="#c5786f" stroke-width="0.85"/>
<circle cx="120.85" cy="424.54" r="2.05" fill="#fff" stroke="#c5786f" stroke-width="0.85"/>
<circle cx="123.54" cy="424.22" r="2.05" fill="#fff" stroke="#c5786f" stroke-width="0.85"/>
<circle cx="126.23" cy="425.31" r="2.05" fill="#fff" stroke="#c5786f" stroke-width="0.85"/>
<circle cx="128.92" cy="425.72" r="2.05" fill="#fff" stroke="#c5786f" stroke-width="0.85"/>
<circle cx="131.61" cy="425.38" r="2.05" fill="#fff" stroke="#c5786f" stroke-width="0.85"/>
<circle cx="134.3" cy="426.52" r="2.05" fill="#fff" stroke="#c5786f" stroke-width="0.85"/>
<circle cx="136.99" cy="426.27" r="2.05" fill="#fff" stroke="#c5786f" stroke-width="0.85"/>
<circle cx="139.68" cy="426.25" r="2.05" fill="#fff" stroke="#c5786f" stroke-width="0.85"/>
<circle cx="142.37" cy="427.19" r="2.05" fill="#fff" stroke="#c5786f" stroke-width="0.85"/>
<circle cx="145.06" cy="426.52" r="2.05" fill="#fff" stroke="#c5786f" stroke-width="0.85"/>
<circle cx="147.74" cy="426.95" r="2.05" fill="#fff" stroke="#c5786f" stroke-width="0.85"/>
<circle cx="150.43" cy="427.45" r="2.05" fill="#fff" stroke="#c5786f" stroke-width="0.85"/>
<circle cx="153.12" cy="426.7" r="2.05" fill="#fff" stroke="#c5786f" stroke-width="0.85"/>
<circle cx="155.81" cy="427.49" r="2.05" fill="#fff" stroke="#c5786f" stroke-width="0.85"/>
<circle cx="158.5" cy="427.44" r="2.05" fill="#fff" stroke="#c5786f" stroke-width="0.85"/>
<circle cx="161.19" cy="426.93" r="2.05" fill="#fff" stroke="#c5786f" stroke-width="0.85"/>
<circle cx="163.88" cy="427.84" r="2.05" fill="#fff" stroke="#c5786f" stroke-width="0.85"/>
<circle cx="166.57" cy="427.28" r="2.05" fill="#fff" stroke="#c5786f" stroke-width="0.85"/>
<circle cx="169.26" cy="427.24" r="2.05" fill="#fff" stroke="#c5786f" stroke-width="0.85"/>
<circle cx="171.95" cy="427.96" r="2.05" fill="#fff" stroke="#c5786f" stroke-width="0.85"/>
<circle cx="174.64" cy="427.13" r="2.05" fill="#fff" stroke="#c5786f" stroke-width="0.85"/>
<circle cx="177.33" cy="427.59" r="2.05" fill="#fff" stroke="#c5786f" stroke-width="0.85"/>
<circle cx="180.02" cy="427.87" r="2.05" fill="#fff" stroke="#c5786f" stroke-width="0.85"/>
<circle cx="182.71" cy="427.09" r="2.05" fill="#fff" stroke="#c5786f" stroke-width="0.85"/>
<circle cx="185.4" cy="427.9" r="2.05" fill="#fff" stroke="#c5786f" stroke-width="0.85"/>
<circle cx="107.4" cy="418.6" r="2.05" fill="#fff" stroke="#a3a3a3" stroke-width="0.85"/>
<circle cx="110.09" cy="418.8" r="2.05" fill="#fff" stroke="#a3a3a3" stroke-width="0.85"/>
<circle cx="112.78" cy="419.99" r="2.05" fill="#fff" stroke="#a3a3a3" stroke-width="0.85"/>
<circle cx="115.47" cy="420.83" r="2.05" fill="#fff" stroke="#a3a3a3" stroke-width="0.85"/>
<circle cx="118.16" cy="420.61" r="2.05" fill="#fff" stroke="#a3a3a3" stroke-width="0.85"/>
<circle cx="120.85" cy="420.87" r="2.05" fill="#fff" stroke="#a3a3a3" stroke-width="0.85"/>
<circle cx="123.54" cy="421.95" r="2.05" fill="#fff" stroke="#a3a3a3" stroke-width="0.85"/>
<circle cx="126.23" cy="422.23" r="2.05" fill="#fff" stroke="#a3a3a3" stroke-width="0.85"/>
<circle cx="128.92" cy="421.8" r="2.05" fill="#fff" stroke="#a3a3a3" stroke-width="0.85"/>
<circle cx="131.61" cy="422.27" r="2.05" fill="#fff" stroke="#a3a3a3" stroke-width="0.85"/>
<circle cx="134.3" cy="423.13" r="2.05" fill="#fff" stroke="#a3a3a3" stroke-width="0.85"/>
<circle cx="136.99" cy="422.94" r="2.05" fill="#fff" stroke="#a3a3a3" stroke-width="0.85"/>
<circle cx="139.68" cy="422.56" r="2.05" fill="#fff" stroke="#a3a3a3" stroke-width="0.85"/>
<circle cx="142.37" cy="423.24" r="2.05" fill="#fff" stroke="#a3a3a3" stroke-width="0.85"/>
<circle cx="145.06" cy="423.78" r="2.05" fill="#fff" stroke="#a3a3a3" stroke-width="0.85"/>
<circle cx="147.74" cy="423.27" r="2.05" fill="#fff" stroke="#a3a3a3" stroke-width="0.85"/>
<circle cx="150.43" cy="423.12" r="2.05" fill="#fff" stroke="#a3a3a3" stroke-width="0.85"/>
<circle cx="153.12" cy="423.91" r="2.05" fill="#fff" stroke="#a3a3a3" stroke-width="0.85"/>
<circle cx="155.81" cy="424.06" r="2.05" fill="#fff" stroke="#a3a3a3" stroke-width="0.85"/>
<circle cx="158.5" cy="423.41" r="2.05" fill="#fff" stroke="#a3a3a3" stroke-width="0.85"/>
<circle cx="161.19" cy="423.59" r="2.05" fill="#fff" stroke="#a3a3a3" stroke-width="0.85"/>
<circle cx="163.88" cy="424.33" r="2.05" fill="#fff" stroke="#a3a3a3" stroke-width="0.85"/>
<circle cx="166.57" cy="424.09" r="2.05" fill="#fff" stroke="#a3a3a3" stroke-width="0.85"/>
<circle cx="169.26" cy="423.52" r="2.05" fill="#fff" stroke="#a3a3a3" stroke-width="0.85"/>
<circle cx="171.95" cy="424.01" r="2.05" fill="#fff" stroke="#a3a3a3" stroke-width="0.85"/>
<circle cx="174.64" cy="424.54" r="2.05" fill="#fff" stroke="#a3a3a3" stroke-width="0.85"/>
<circle cx="177.33" cy="423.99" r="2.05" fill="#fff" stroke="#a3a3a3" stroke-width="0.85"/>
<circle cx="180.02" cy="423.67" r="2.05" fill="#fff" stroke="#a3a3a3" stroke-width="0.85"/>
<circle cx="182.71" cy="424.36" r="2.05" fill="#fff" stroke="#a3a3a3" stroke-width="0.85"/>
<circle cx="185.4" cy="424.55" r="2.05" fill="#fff" stroke="#a3a3a3" stroke-width="0.85"/>
<circle cx="202.2" cy="403.84" r="2.05" fill="#fff" stroke="#c5786f" stroke-width="0.85"/>
<circle cx="202.2" cy="402.89" r="2.05" fill="#fff" stroke="#a3a3a3" stroke-width="0.85"/>
<circle cx="209.88" cy="413.36" r="2.05" fill="#fff" stroke="#c5786f" stroke-width="0.85"/>
<circle cx="209.88" cy="412.41" r="2.05" fill="#fff" stroke="#a3a3a3" stroke-width="0.85"/>
<circle cx="217.57" cy="418.6" r="2.05" fill="#fff" stroke="#c5786f" stroke-width="0.85"/>
<circle cx="217.57" cy="417.65" r="2.05" fill="#fff" stroke="#a3a3a3" stroke-width="0.85"/>
<circle cx="225.25" cy="420.03" r="2.05" fill="#fff" stroke="#c5786f" stroke-width="0.85"/>
<circle cx="225.25" cy="419.08" r="2.05" fill="#fff" stroke="#a3a3a3" stroke-width="0.85"/>
<circle cx="232.93" cy="420.5" r="2.05" fill="#fff" stroke="#c5786f" stroke-width="0.85"/>
<circle cx="232.93" cy="419.55" r="2.05" fill="#fff" stroke="#a3a3a3" stroke-width="0.85"/>
<circle cx="240.62" cy="422.41" r="2.05" fill="#fff" stroke="#c5786f" stroke-width="0.85"/>
<circle cx="240.62" cy="421.46" r="2.05" fill="#fff" stroke="#a3a3a3" stroke-width="0.85"/>
<circle cx="248.3" cy="422.88" r="2.05" fill="#fff" stroke="#c5786f" stroke-width="0.85"/>
<circle cx="248.3" cy="421.93" r="2.05" fill="#fff" stroke="#a3a3a3" stroke-width="0.85"/>
<text x="271.9" y="368.6" font-size="11.5" style="fill:#111;stroke:#111" font-weight="bold">k</text>
<line x1="321.5" y1="388.2" x2="321.5" y2="466.6" stroke="#2b2b2b" stroke-width="1.25" />
<line x1="316" y1="466" x2="321.5" y2="466" stroke="#2b2b2b" stroke-width="1" />
<text x="314" y="469.67" font-size="10.2" text-anchor="end">0.0</text>
<line x1="316" y1="450.65" x2="321.5" y2="450.65" stroke="#2b2b2b" stroke-width="1" />
<text x="314" y="454.32" font-size="10.2" text-anchor="end">0.5</text>
<line x1="316" y1="435.3" x2="321.5" y2="435.3" stroke="#2b2b2b" stroke-width="1" />
<text x="314" y="438.97" font-size="10.2" text-anchor="end">1.0</text>
<line x1="316" y1="419.95" x2="321.5" y2="419.95" stroke="#2b2b2b" stroke-width="1" />
<text x="314" y="423.62" font-size="10.2" text-anchor="end">1.5</text>
<line x1="316" y1="404.6" x2="321.5" y2="404.6" stroke="#2b2b2b" stroke-width="1" />
<text x="314" y="408.27" font-size="10.2" text-anchor="end">2.0</text>
<line x1="316" y1="389.25" x2="321.5" y2="389.25" stroke="#2b2b2b" stroke-width="1" />
<text x="314" y="392.92" font-size="10.2" text-anchor="end">2.5</text>
<line x1="316" y1="466" x2="321.5" y2="466" stroke="#2b2b2b" stroke-width="1.1" />
<line x1="321.5" y1="466" x2="354.8" y2="466" stroke="#2b2b2b" stroke-width="1.25" />
<line x1="354.8" y1="460.8" x2="354.8" y2="471" stroke="#2b2b2b" stroke-width="1.1" />
<line x1="321.5" y1="466" x2="321.5" y2="470.6" stroke="#2b2b2b" stroke-width="1" />
<text x="321.5" y="483.27" font-size="10.2" text-anchor="middle">0</text>
<line x1="337" y1="466" x2="337" y2="470.6" stroke="#2b2b2b" stroke-width="1" />
<text x="337" y="483.27" font-size="10.2" text-anchor="middle">5</text>
<line x1="352.2" y1="466" x2="352.2" y2="470.6" stroke="#2b2b2b" stroke-width="1" />
<text x="352.2" y="483.27" font-size="10.2" text-anchor="middle">10</text>
<line x1="371.1" y1="466" x2="450.5" y2="466" stroke="#2b2b2b" stroke-width="1.25" />
<line x1="371.1" y1="460.8" x2="371.1" y2="471" stroke="#2b2b2b" stroke-width="1.1" />
<line x1="450.5" y1="460.8" x2="450.5" y2="471" stroke="#2b2b2b" stroke-width="1.1" />
<line x1="371.1" y1="466" x2="371.1" y2="470.6" stroke="#2b2b2b" stroke-width="1" />
<text x="371.1" y="483.27" font-size="10.2" text-anchor="middle">20</text>
<line x1="411.1" y1="466" x2="411.1" y2="470.6" stroke="#2b2b2b" stroke-width="1" />
<text x="411.1" y="483.27" font-size="10.2" text-anchor="middle">20.5</text>
<line x1="450.5" y1="466" x2="450.5" y2="470.6" stroke="#2b2b2b" stroke-width="1" />
<text x="450.5" y="483.27" font-size="10.2" text-anchor="middle">21</text>
<line x1="467.4" y1="466" x2="514.2" y2="466" stroke="#2b2b2b" stroke-width="1.25" />
<line x1="467.4" y1="460.8" x2="467.4" y2="471" stroke="#2b2b2b" stroke-width="1.1" />
<line x1="472.4" y1="466" x2="472.4" y2="470.6" stroke="#2b2b2b" stroke-width="1" />
<text x="472.4" y="483.27" font-size="10.2" text-anchor="middle">30</text>
<line x1="482.6" y1="466" x2="482.6" y2="470.6" stroke="#2b2b2b" stroke-width="1" />
<line x1="492.8" y1="466" x2="492.8" y2="470.6" stroke="#2b2b2b" stroke-width="1" />
<text x="492.8" y="483.27" font-size="10.2" text-anchor="middle">50</text>
<line x1="502.3" y1="466" x2="502.3" y2="470.6" stroke="#2b2b2b" stroke-width="1" />
<line x1="511.8" y1="466" x2="511.8" y2="470.6" stroke="#2b2b2b" stroke-width="1" />
<text x="511.8" y="483.27" font-size="10.2" text-anchor="middle">70</text>
<text x="412" y="498.3" font-size="10.2" text-anchor="middle">Time (s)</text>
<text x="281.37" y="434.6" font-size="10.2" text-anchor="middle" transform="rotate(-90 281.37 434.6)">Normalized</text>
<text x="293.07" y="434.6" font-size="10.2" text-anchor="middle" transform="rotate(-90 293.07 434.6)">eEPSC amplitude</text>
<line x1="321.5" y1="435.3" x2="512" y2="435.3" stroke="#555" stroke-width="1" stroke-dasharray="1 1.8"/>
<line x1="369.1" y1="400.7" x2="448.2" y2="400.7" stroke="#444" stroke-width="1" />
<text x="408.65" y="398.71" font-size="9.2" text-anchor="middle">40 Hz</text>
<circle cx="332.3" cy="364.8" r="2.2" fill="#fff" stroke="#a3a3a3" stroke-width="0.85"/>
<text x="340.1" y="368.16" font-size="9.6">WT (n=33)</text>
<circle cx="332.3" cy="380.3" r="2.2" fill="#fff" stroke="#c5786f" stroke-width="0.85"/>
<text x="340.1" y="383.66" font-size="9.6">R799Q (n=36)</text>
<path d="M371.2,434.38V436.22M369.7,434.38H372.7M369.7,436.22H372.7" stroke="#c5786f" stroke-width="0.7" fill="none"/>
<path d="M373.23,434.07V435.91M371.73,434.07H374.73M371.73,435.91H374.73" stroke="#c5786f" stroke-width="0.7" fill="none"/>
<path d="M375.26,437.33V439.17M373.76,437.33H376.76M373.76,439.17H376.76" stroke="#c5786f" stroke-width="0.7" fill="none"/>
<path d="M377.28,440.1V441.94M375.78,440.1H378.78M375.78,441.94H378.78" stroke="#c5786f" stroke-width="0.7" fill="none"/>
<path d="M379.31,442.45V444.3M377.81,442.45H380.81M377.81,444.3H380.81" stroke="#c5786f" stroke-width="0.7" fill="none"/>
<path d="M381.34,444.47V446.31M379.84,444.47H382.84M379.84,446.31H382.84" stroke="#c5786f" stroke-width="0.7" fill="none"/>
<path d="M383.37,446.19V448.03M381.87,446.19H384.87M381.87,448.03H384.87" stroke="#c5786f" stroke-width="0.7" fill="none"/>
<path d="M385.4,447.67V449.51M383.9,447.67H386.9M383.9,449.51H386.9" stroke="#c5786f" stroke-width="0.7" fill="none"/>
<path d="M387.43,448.95V450.79M385.93,448.95H388.93M385.93,450.79H388.93" stroke="#c5786f" stroke-width="0.7" fill="none"/>
<path d="M389.45,450.05V451.89M387.95,450.05H390.95M387.95,451.89H390.95" stroke="#c5786f" stroke-width="0.7" fill="none"/>
<path d="M391.48,451.01V452.85M389.98,451.01H392.98M389.98,452.85H392.98" stroke="#c5786f" stroke-width="0.7" fill="none"/>
<path d="M393.51,451.84V453.68M392.01,451.84H395.01M392.01,453.68H395.01" stroke="#c5786f" stroke-width="0.7" fill="none"/>
<path d="M395.54,452.57V454.41M394.04,452.57H397.04M394.04,454.41H397.04" stroke="#c5786f" stroke-width="0.7" fill="none"/>
<path d="M397.57,453.21V455.05M396.07,453.21H399.07M396.07,455.05H399.07" stroke="#c5786f" stroke-width="0.7" fill="none"/>
<path d="M399.59,453.77V455.61M398.09,453.77H401.09M398.09,455.61H401.09" stroke="#c5786f" stroke-width="0.7" fill="none"/>
<path d="M401.62,454.27V456.11M400.12,454.27H403.12M400.12,456.11H403.12" stroke="#c5786f" stroke-width="0.7" fill="none"/>
<path d="M403.65,454.71V456.55M402.15,454.71H405.15M402.15,456.55H405.15" stroke="#c5786f" stroke-width="0.7" fill="none"/>
<path d="M405.68,455.11V456.95M404.18,455.11H407.18M404.18,456.95H407.18" stroke="#c5786f" stroke-width="0.7" fill="none"/>
<path d="M407.71,455.46V457.3M406.21,455.46H409.21M406.21,457.3H409.21" stroke="#c5786f" stroke-width="0.7" fill="none"/>
<path d="M409.74,455.78V457.62M408.24,455.78H411.24M408.24,457.62H411.24" stroke="#c5786f" stroke-width="0.7" fill="none"/>
<path d="M411.76,456.07V457.91M410.26,456.07H413.26M410.26,457.91H413.26" stroke="#c5786f" stroke-width="0.7" fill="none"/>
<path d="M413.79,456.33V458.18M412.29,456.33H415.29M412.29,458.18H415.29" stroke="#c5786f" stroke-width="0.7" fill="none"/>
<path d="M415.82,456.57V458.42M414.32,456.57H417.32M414.32,458.42H417.32" stroke="#c5786f" stroke-width="0.7" fill="none"/>
<path d="M417.85,456.79V458.63M416.35,456.79H419.35M416.35,458.63H419.35" stroke="#c5786f" stroke-width="0.7" fill="none"/>
<path d="M419.88,456.99V458.83M418.38,456.99H421.38M418.38,458.83H421.38" stroke="#c5786f" stroke-width="0.7" fill="none"/>
<path d="M421.91,457.18V459.02M420.41,457.18H423.41M420.41,459.02H423.41" stroke="#c5786f" stroke-width="0.7" fill="none"/>
<path d="M423.93,457.35V459.19M422.43,457.35H425.43M422.43,459.19H425.43" stroke="#c5786f" stroke-width="0.7" fill="none"/>
<path d="M425.96,457.51V459.35M424.46,457.51H427.46M424.46,459.35H427.46" stroke="#c5786f" stroke-width="0.7" fill="none"/>
<path d="M427.99,457.65V459.5M426.49,457.65H429.49M426.49,459.5H429.49" stroke="#c5786f" stroke-width="0.7" fill="none"/>
<path d="M430.02,457.79V459.63M428.52,457.79H431.52M428.52,459.63H431.52" stroke="#c5786f" stroke-width="0.7" fill="none"/>
<path d="M432.05,457.92V459.76M430.55,457.92H433.55M430.55,459.76H433.55" stroke="#c5786f" stroke-width="0.7" fill="none"/>
<path d="M434.07,458.04V459.88M432.57,458.04H435.57M432.57,459.88H435.57" stroke="#c5786f" stroke-width="0.7" fill="none"/>
<path d="M436.1,458.15V459.99M434.6,458.15H437.6M434.6,459.99H437.6" stroke="#c5786f" stroke-width="0.7" fill="none"/>
<path d="M438.13,458.26V460.1M436.63,458.26H439.63M436.63,460.1H439.63" stroke="#c5786f" stroke-width="0.7" fill="none"/>
<path d="M440.16,458.36V460.2M438.66,458.36H441.66M438.66,460.2H441.66" stroke="#c5786f" stroke-width="0.7" fill="none"/>
<path d="M442.19,458.45V460.29M440.69,458.45H443.69M440.69,460.29H443.69" stroke="#c5786f" stroke-width="0.7" fill="none"/>
<path d="M444.22,458.54V460.38M442.72,458.54H445.72M442.72,460.38H445.72" stroke="#c5786f" stroke-width="0.7" fill="none"/>
<path d="M446.24,458.62V460.46M444.74,458.62H447.74M444.74,460.46H447.74" stroke="#c5786f" stroke-width="0.7" fill="none"/>
<path d="M448.27,458.7V460.54M446.77,458.7H449.77M446.77,460.54H449.77" stroke="#c5786f" stroke-width="0.7" fill="none"/>
<path d="M450.3,458.77V460.61M448.8,458.77H451.8M448.8,460.61H451.8" stroke="#c5786f" stroke-width="0.7" fill="none"/>
<path d="M371.2,436.53V438.37M369.7,436.53H372.7M369.7,438.37H372.7" stroke="#a3a3a3" stroke-width="0.7" fill="none"/>
<path d="M373.23,432.23V434.07M371.73,432.23H374.73M371.73,434.07H374.73" stroke="#a3a3a3" stroke-width="0.7" fill="none"/>
<path d="M375.26,435.27V437.11M373.76,435.27H376.76M373.76,437.11H376.76" stroke="#a3a3a3" stroke-width="0.7" fill="none"/>
<path d="M377.28,437.9V439.74M375.78,437.9H378.78M375.78,439.74H378.78" stroke="#a3a3a3" stroke-width="0.7" fill="none"/>
<path d="M379.31,440.17V442.01M377.81,440.17H380.81M377.81,442.01H380.81" stroke="#a3a3a3" stroke-width="0.7" fill="none"/>
<path d="M381.34,442.13V443.97M379.84,442.13H382.84M379.84,443.97H382.84" stroke="#a3a3a3" stroke-width="0.7" fill="none"/>
<path d="M383.37,443.84V445.68M381.87,443.84H384.87M381.87,445.68H384.87" stroke="#a3a3a3" stroke-width="0.7" fill="none"/>
<path d="M385.4,445.32V447.16M383.9,445.32H386.9M383.9,447.16H386.9" stroke="#a3a3a3" stroke-width="0.7" fill="none"/>
<path d="M387.43,446.62V448.46M385.93,446.62H388.93M385.93,448.46H388.93" stroke="#a3a3a3" stroke-width="0.7" fill="none"/>
<path d="M389.45,447.75V449.59M387.95,447.75H390.95M387.95,449.59H390.95" stroke="#a3a3a3" stroke-width="0.7" fill="none"/>
<path d="M391.48,448.75V450.59M389.98,448.75H392.98M389.98,450.59H392.98" stroke="#a3a3a3" stroke-width="0.7" fill="none"/>
<path d="M393.51,449.63V451.47M392.01,449.63H395.01M392.01,451.47H395.01" stroke="#a3a3a3" stroke-width="0.7" fill="none"/>
<path d="M395.54,450.4V452.24M394.04,450.4H397.04M394.04,452.24H397.04" stroke="#a3a3a3" stroke-width="0.7" fill="none"/>
<path d="M397.57,451.09V452.93M396.07,451.09H399.07M396.07,452.93H399.07" stroke="#a3a3a3" stroke-width="0.7" fill="none"/>
<path d="M399.59,451.7V453.54M398.09,451.7H401.09M398.09,453.54H401.09" stroke="#a3a3a3" stroke-width="0.7" fill="none"/>
<path d="M401.62,452.25V454.09M400.12,452.25H403.12M400.12,454.09H403.12" stroke="#a3a3a3" stroke-width="0.7" fill="none"/>
<path d="M403.65,452.74V454.58M402.15,452.74H405.15M402.15,454.58H405.15" stroke="#a3a3a3" stroke-width="0.7" fill="none"/>
<path d="M405.68,453.18V455.02M404.18,453.18H407.18M404.18,455.02H407.18" stroke="#a3a3a3" stroke-width="0.7" fill="none"/>
<path d="M407.71,453.57V455.42M406.21,453.57H409.21M406.21,455.42H409.21" stroke="#a3a3a3" stroke-width="0.7" fill="none"/>
<path d="M409.74,453.94V455.78M408.24,453.94H411.24M408.24,455.78H411.24" stroke="#a3a3a3" stroke-width="0.7" fill="none"/>
<path d="M411.76,454.26V456.1M410.26,454.26H413.26M410.26,456.1H413.26" stroke="#a3a3a3" stroke-width="0.7" fill="none"/>
<path d="M413.79,454.56V456.4M412.29,454.56H415.29M412.29,456.4H415.29" stroke="#a3a3a3" stroke-width="0.7" fill="none"/>
<path d="M415.82,454.84V456.68M414.32,454.84H417.32M414.32,456.68H417.32" stroke="#a3a3a3" stroke-width="0.7" fill="none"/>
<path d="M417.85,455.09V456.93M416.35,455.09H419.35M416.35,456.93H419.35" stroke="#a3a3a3" stroke-width="0.7" fill="none"/>
<path d="M419.88,455.32V457.16M418.38,455.32H421.38M418.38,457.16H421.38" stroke="#a3a3a3" stroke-width="0.7" fill="none"/>
<path d="M421.91,455.53V457.38M420.41,455.53H423.41M420.41,457.38H423.41" stroke="#a3a3a3" stroke-width="0.7" fill="none"/>
<path d="M423.93,455.73V457.57M422.43,455.73H425.43M422.43,457.57H425.43" stroke="#a3a3a3" stroke-width="0.7" fill="none"/>
<path d="M425.96,455.92V457.76M424.46,455.92H427.46M424.46,457.76H427.46" stroke="#a3a3a3" stroke-width="0.7" fill="none"/>
<path d="M427.99,456.09V457.93M426.49,456.09H429.49M426.49,457.93H429.49" stroke="#a3a3a3" stroke-width="0.7" fill="none"/>
<path d="M430.02,456.25V458.09M428.52,456.25H431.52M428.52,458.09H431.52" stroke="#a3a3a3" stroke-width="0.7" fill="none"/>
<path d="M432.05,456.4V458.24M430.55,456.4H433.55M430.55,458.24H433.55" stroke="#a3a3a3" stroke-width="0.7" fill="none"/>
<path d="M434.07,456.54V458.38M432.57,456.54H435.57M432.57,458.38H435.57" stroke="#a3a3a3" stroke-width="0.7" fill="none"/>
<path d="M436.1,456.67V458.52M434.6,456.67H437.6M434.6,458.52H437.6" stroke="#a3a3a3" stroke-width="0.7" fill="none"/>
<path d="M438.13,456.8V458.64M436.63,456.8H439.63M436.63,458.64H439.63" stroke="#a3a3a3" stroke-width="0.7" fill="none"/>
<path d="M440.16,456.92V458.76M438.66,456.92H441.66M438.66,458.76H441.66" stroke="#a3a3a3" stroke-width="0.7" fill="none"/>
<path d="M442.19,457.03V458.87M440.69,457.03H443.69M440.69,458.87H443.69" stroke="#a3a3a3" stroke-width="0.7" fill="none"/>
<path d="M444.22,457.13V458.97M442.72,457.13H445.72M442.72,458.97H445.72" stroke="#a3a3a3" stroke-width="0.7" fill="none"/>
<path d="M446.24,457.23V459.07M444.74,457.23H447.74M444.74,459.07H447.74" stroke="#a3a3a3" stroke-width="0.7" fill="none"/>
<path d="M448.27,457.33V459.17M446.77,457.33H449.77M446.77,459.17H449.77" stroke="#a3a3a3" stroke-width="0.7" fill="none"/>
<path d="M450.3,457.42V459.26M448.8,457.42H451.8M448.8,459.26H451.8" stroke="#a3a3a3" stroke-width="0.7" fill="none"/>
<path d="M467.4,410.74V414.42M465.9,410.74H468.9M465.9,414.42H468.9" stroke="#c5786f" stroke-width="0.7" fill="none"/>
<path d="M467.4,402.76V406.44M465.9,402.76H468.9M465.9,406.44H468.9" stroke="#a3a3a3" stroke-width="0.7" fill="none"/>
<path d="M477.4,420.26V423.94M475.9,420.26H478.9M475.9,423.94H478.9" stroke="#c5786f" stroke-width="0.7" fill="none"/>
<path d="M477.4,420.26V423.94M475.9,420.26H478.9M475.9,423.94H478.9" stroke="#a3a3a3" stroke-width="0.7" fill="none"/>
<path d="M487,428.24V431.92M485.5,428.24H488.5M485.5,431.92H488.5" stroke="#c5786f" stroke-width="0.7" fill="none"/>
<path d="M487,428.24V431.92M485.5,428.24H488.5M485.5,431.92H488.5" stroke="#a3a3a3" stroke-width="0.7" fill="none"/>
<path d="M496.6,431.92V435.61M495.1,431.92H498.1M495.1,435.61H498.1" stroke="#c5786f" stroke-width="0.7" fill="none"/>
<path d="M496.6,431.92V435.61M495.1,431.92H498.1M495.1,435.61H498.1" stroke="#a3a3a3" stroke-width="0.7" fill="none"/>
<path d="M507.4,433.46V437.14M505.9,433.46H508.9M505.9,437.14H508.9" stroke="#c5786f" stroke-width="0.7" fill="none"/>
<path d="M507.4,433.46V437.14M505.9,433.46H508.9M505.9,437.14H508.9" stroke="#a3a3a3" stroke-width="0.7" fill="none"/>
<circle cx="321.5" cy="435.3" r="2" fill="#fff" stroke="#c5786f" stroke-width="0.85"/>
<circle cx="321.5" cy="435.3" r="2" fill="#fff" stroke="#a3a3a3" stroke-width="0.85"/>
<circle cx="352.2" cy="435.3" r="2" fill="#fff" stroke="#c5786f" stroke-width="0.85"/>
<circle cx="352.2" cy="435.3" r="2" fill="#fff" stroke="#a3a3a3" stroke-width="0.85"/>
<circle cx="371.2" cy="435.3" r="2" fill="#fff" stroke="#c5786f" stroke-width="0.85"/>
<circle cx="373.23" cy="434.99" r="2" fill="#fff" stroke="#c5786f" stroke-width="0.85"/>
<circle cx="375.26" cy="438.25" r="2" fill="#fff" stroke="#c5786f" stroke-width="0.85"/>
<circle cx="377.28" cy="441.02" r="2" fill="#fff" stroke="#c5786f" stroke-width="0.85"/>
<circle cx="379.31" cy="443.37" r="2" fill="#fff" stroke="#c5786f" stroke-width="0.85"/>
<circle cx="381.34" cy="445.39" r="2" fill="#fff" stroke="#c5786f" stroke-width="0.85"/>
<circle cx="383.37" cy="447.11" r="2" fill="#fff" stroke="#c5786f" stroke-width="0.85"/>
<circle cx="385.4" cy="448.59" r="2" fill="#fff" stroke="#c5786f" stroke-width="0.85"/>
<circle cx="387.43" cy="449.87" r="2" fill="#fff" stroke="#c5786f" stroke-width="0.85"/>
<circle cx="389.45" cy="450.97" r="2" fill="#fff" stroke="#c5786f" stroke-width="0.85"/>
<circle cx="391.48" cy="451.93" r="2" fill="#fff" stroke="#c5786f" stroke-width="0.85"/>
<circle cx="393.51" cy="452.76" r="2" fill="#fff" stroke="#c5786f" stroke-width="0.85"/>
<circle cx="395.54" cy="453.49" r="2" fill="#fff" stroke="#c5786f" stroke-width="0.85"/>
<circle cx="397.57" cy="454.13" r="2" fill="#fff" stroke="#c5786f" stroke-width="0.85"/>
<circle cx="399.59" cy="454.69" r="2" fill="#fff" stroke="#c5786f" stroke-width="0.85"/>
<circle cx="401.62" cy="455.19" r="2" fill="#fff" stroke="#c5786f" stroke-width="0.85"/>
<circle cx="403.65" cy="455.63" r="2" fill="#fff" stroke="#c5786f" stroke-width="0.85"/>
<circle cx="405.68" cy="456.03" r="2" fill="#fff" stroke="#c5786f" stroke-width="0.85"/>
<circle cx="407.71" cy="456.38" r="2" fill="#fff" stroke="#c5786f" stroke-width="0.85"/>
<circle cx="409.74" cy="456.7" r="2" fill="#fff" stroke="#c5786f" stroke-width="0.85"/>
<circle cx="411.76" cy="456.99" r="2" fill="#fff" stroke="#c5786f" stroke-width="0.85"/>
<circle cx="413.79" cy="457.25" r="2" fill="#fff" stroke="#c5786f" stroke-width="0.85"/>
<circle cx="415.82" cy="457.49" r="2" fill="#fff" stroke="#c5786f" stroke-width="0.85"/>
<circle cx="417.85" cy="457.71" r="2" fill="#fff" stroke="#c5786f" stroke-width="0.85"/>
<circle cx="419.88" cy="457.91" r="2" fill="#fff" stroke="#c5786f" stroke-width="0.85"/>
<circle cx="421.91" cy="458.1" r="2" fill="#fff" stroke="#c5786f" stroke-width="0.85"/>
<circle cx="423.93" cy="458.27" r="2" fill="#fff" stroke="#c5786f" stroke-width="0.85"/>
<circle cx="425.96" cy="458.43" r="2" fill="#fff" stroke="#c5786f" stroke-width="0.85"/>
<circle cx="427.99" cy="458.58" r="2" fill="#fff" stroke="#c5786f" stroke-width="0.85"/>
<circle cx="430.02" cy="458.71" r="2" fill="#fff" stroke="#c5786f" stroke-width="0.85"/>
<circle cx="432.05" cy="458.84" r="2" fill="#fff" stroke="#c5786f" stroke-width="0.85"/>
<circle cx="434.07" cy="458.96" r="2" fill="#fff" stroke="#c5786f" stroke-width="0.85"/>
<circle cx="436.1" cy="459.07" r="2" fill="#fff" stroke="#c5786f" stroke-width="0.85"/>
<circle cx="438.13" cy="459.18" r="2" fill="#fff" stroke="#c5786f" stroke-width="0.85"/>
<circle cx="440.16" cy="459.28" r="2" fill="#fff" stroke="#c5786f" stroke-width="0.85"/>
<circle cx="442.19" cy="459.37" r="2" fill="#fff" stroke="#c5786f" stroke-width="0.85"/>
<circle cx="444.22" cy="459.46" r="2" fill="#fff" stroke="#c5786f" stroke-width="0.85"/>
<circle cx="446.24" cy="459.54" r="2" fill="#fff" stroke="#c5786f" stroke-width="0.85"/>
<circle cx="448.27" cy="459.62" r="2" fill="#fff" stroke="#c5786f" stroke-width="0.85"/>
<circle cx="450.3" cy="459.69" r="2" fill="#fff" stroke="#c5786f" stroke-width="0.85"/>
<circle cx="371.2" cy="437.45" r="2" fill="#fff" stroke="#a3a3a3" stroke-width="0.85"/>
<circle cx="373.23" cy="433.15" r="2" fill="#fff" stroke="#a3a3a3" stroke-width="0.85"/>
<circle cx="375.26" cy="436.19" r="2" fill="#fff" stroke="#a3a3a3" stroke-width="0.85"/>
<circle cx="377.28" cy="438.82" r="2" fill="#fff" stroke="#a3a3a3" stroke-width="0.85"/>
<circle cx="379.31" cy="441.09" r="2" fill="#fff" stroke="#a3a3a3" stroke-width="0.85"/>
<circle cx="381.34" cy="443.05" r="2" fill="#fff" stroke="#a3a3a3" stroke-width="0.85"/>
<circle cx="383.37" cy="444.76" r="2" fill="#fff" stroke="#a3a3a3" stroke-width="0.85"/>
<circle cx="385.4" cy="446.24" r="2" fill="#fff" stroke="#a3a3a3" stroke-width="0.85"/>
<circle cx="387.43" cy="447.54" r="2" fill="#fff" stroke="#a3a3a3" stroke-width="0.85"/>
<circle cx="389.45" cy="448.67" r="2" fill="#fff" stroke="#a3a3a3" stroke-width="0.85"/>
<circle cx="391.48" cy="449.67" r="2" fill="#fff" stroke="#a3a3a3" stroke-width="0.85"/>
<circle cx="393.51" cy="450.55" r="2" fill="#fff" stroke="#a3a3a3" stroke-width="0.85"/>
<circle cx="395.54" cy="451.32" r="2" fill="#fff" stroke="#a3a3a3" stroke-width="0.85"/>
<circle cx="397.57" cy="452.01" r="2" fill="#fff" stroke="#a3a3a3" stroke-width="0.85"/>
<circle cx="399.59" cy="452.62" r="2" fill="#fff" stroke="#a3a3a3" stroke-width="0.85"/>
<circle cx="401.62" cy="453.17" r="2" fill="#fff" stroke="#a3a3a3" stroke-width="0.85"/>
<circle cx="403.65" cy="453.66" r="2" fill="#fff" stroke="#a3a3a3" stroke-width="0.85"/>
<circle cx="405.68" cy="454.1" r="2" fill="#fff" stroke="#a3a3a3" stroke-width="0.85"/>
<circle cx="407.71" cy="454.5" r="2" fill="#fff" stroke="#a3a3a3" stroke-width="0.85"/>
<circle cx="409.74" cy="454.86" r="2" fill="#fff" stroke="#a3a3a3" stroke-width="0.85"/>
<circle cx="411.76" cy="455.18" r="2" fill="#fff" stroke="#a3a3a3" stroke-width="0.85"/>
<circle cx="413.79" cy="455.48" r="2" fill="#fff" stroke="#a3a3a3" stroke-width="0.85"/>
<circle cx="415.82" cy="455.76" r="2" fill="#fff" stroke="#a3a3a3" stroke-width="0.85"/>
<circle cx="417.85" cy="456.01" r="2" fill="#fff" stroke="#a3a3a3" stroke-width="0.85"/>
<circle cx="419.88" cy="456.24" r="2" fill="#fff" stroke="#a3a3a3" stroke-width="0.85"/>
<circle cx="421.91" cy="456.45" r="2" fill="#fff" stroke="#a3a3a3" stroke-width="0.85"/>
<circle cx="423.93" cy="456.65" r="2" fill="#fff" stroke="#a3a3a3" stroke-width="0.85"/>
<circle cx="425.96" cy="456.84" r="2" fill="#fff" stroke="#a3a3a3" stroke-width="0.85"/>
<circle cx="427.99" cy="457.01" r="2" fill="#fff" stroke="#a3a3a3" stroke-width="0.85"/>
<circle cx="430.02" cy="457.17" r="2" fill="#fff" stroke="#a3a3a3" stroke-width="0.85"/>
<circle cx="432.05" cy="457.32" r="2" fill="#fff" stroke="#a3a3a3" stroke-width="0.85"/>
<circle cx="434.07" cy="457.46" r="2" fill="#fff" stroke="#a3a3a3" stroke-width="0.85"/>
<circle cx="436.1" cy="457.6" r="2" fill="#fff" stroke="#a3a3a3" stroke-width="0.85"/>
<circle cx="438.13" cy="457.72" r="2" fill="#fff" stroke="#a3a3a3" stroke-width="0.85"/>
<circle cx="440.16" cy="457.84" r="2" fill="#fff" stroke="#a3a3a3" stroke-width="0.85"/>
<circle cx="442.19" cy="457.95" r="2" fill="#fff" stroke="#a3a3a3" stroke-width="0.85"/>
<circle cx="444.22" cy="458.05" r="2" fill="#fff" stroke="#a3a3a3" stroke-width="0.85"/>
<circle cx="446.24" cy="458.15" r="2" fill="#fff" stroke="#a3a3a3" stroke-width="0.85"/>
<circle cx="448.27" cy="458.25" r="2" fill="#fff" stroke="#a3a3a3" stroke-width="0.85"/>
<circle cx="450.3" cy="458.34" r="2" fill="#fff" stroke="#a3a3a3" stroke-width="0.85"/>
<circle cx="467.4" cy="412.58" r="2" fill="#fff" stroke="#c5786f" stroke-width="0.85"/>
<circle cx="467.4" cy="404.6" r="2" fill="#fff" stroke="#a3a3a3" stroke-width="0.85"/>
<circle cx="477.4" cy="422.1" r="2" fill="#fff" stroke="#c5786f" stroke-width="0.85"/>
<circle cx="477.4" cy="422.1" r="2" fill="#fff" stroke="#a3a3a3" stroke-width="0.85"/>
<circle cx="487" cy="430.08" r="2" fill="#fff" stroke="#c5786f" stroke-width="0.85"/>
<circle cx="487" cy="430.08" r="2" fill="#fff" stroke="#a3a3a3" stroke-width="0.85"/>
<circle cx="496.6" cy="433.76" r="2" fill="#fff" stroke="#c5786f" stroke-width="0.85"/>
<circle cx="496.6" cy="433.76" r="2" fill="#fff" stroke="#a3a3a3" stroke-width="0.85"/>
<circle cx="507.4" cy="435.3" r="2" fill="#fff" stroke="#c5786f" stroke-width="0.85"/>
<circle cx="507.4" cy="435.3" r="2" fill="#fff" stroke="#a3a3a3" stroke-width="0.85"/>
<text x="535.2" y="368.6" font-size="11.5" style="fill:#111;stroke:#111" font-weight="bold">l</text>
<line x1="599.8" y1="367.6" x2="599.8" y2="466.3" stroke="#2b2b2b" stroke-width="1.3" />
<line x1="594.3" y1="465.7" x2="599.8" y2="465.7" stroke="#2b2b2b" stroke-width="1" />
<text x="592.3" y="469.37" font-size="10.2" text-anchor="end">0</text>
<line x1="594.3" y1="441.3" x2="599.8" y2="441.3" stroke="#2b2b2b" stroke-width="1" />
<text x="592.3" y="444.97" font-size="10.2" text-anchor="end">1</text>
<line x1="594.3" y1="416.9" x2="599.8" y2="416.9" stroke="#2b2b2b" stroke-width="1" />
<text x="592.3" y="420.57" font-size="10.2" text-anchor="end">2</text>
<line x1="594.3" y1="392.5" x2="599.8" y2="392.5" stroke="#2b2b2b" stroke-width="1" />
<text x="592.3" y="396.17" font-size="10.2" text-anchor="end">3</text>
<line x1="594.3" y1="368.1" x2="599.8" y2="368.1" stroke="#2b2b2b" stroke-width="1" />
<text x="592.3" y="371.77" font-size="10.2" text-anchor="end">4</text>
<rect x="604.3" y="450.33" width="24.5" height="15.37" fill="#fff" stroke="none" stroke-width="0"/>
<rect x="631.9" y="443.74" width="24.5" height="21.96" fill="#fff" stroke="none" stroke-width="0"/>
<circle cx="614.44" cy="416.9" r="1.95" fill="none" stroke="#bdbdbd" stroke-width="0.8"/>
<circle cx="618.66" cy="420.56" r="1.95" fill="none" stroke="#bdbdbd" stroke-width="0.8"/>
<circle cx="614.44" cy="431.54" r="1.95" fill="none" stroke="#bdbdbd" stroke-width="0.8"/>
<circle cx="614.44" cy="438.86" r="1.95" fill="none" stroke="#bdbdbd" stroke-width="0.8"/>
<circle cx="618.66" cy="444.96" r="1.95" fill="none" stroke="#bdbdbd" stroke-width="0.8"/>
<circle cx="606.02" cy="446.18" r="1.95" fill="none" stroke="#bdbdbd" stroke-width="0.8"/>
<circle cx="610.23" cy="446.67" r="1.95" fill="none" stroke="#bdbdbd" stroke-width="0.8"/>
<circle cx="614.44" cy="447.4" r="1.95" fill="none" stroke="#bdbdbd" stroke-width="0.8"/>
<circle cx="618.66" cy="448.13" r="1.95" fill="none" stroke="#bdbdbd" stroke-width="0.8"/>
<circle cx="622.87" cy="448.62" r="1.95" fill="none" stroke="#bdbdbd" stroke-width="0.8"/>
<circle cx="627.08" cy="449.11" r="1.95" fill="none" stroke="#bdbdbd" stroke-width="0.8"/>
<circle cx="606.02" cy="449.84" r="1.95" fill="none" stroke="#bdbdbd" stroke-width="0.8"/>
<circle cx="610.23" cy="450.57" r="1.95" fill="none" stroke="#bdbdbd" stroke-width="0.8"/>
<circle cx="614.44" cy="451.06" r="1.95" fill="none" stroke="#bdbdbd" stroke-width="0.8"/>
<circle cx="618.66" cy="451.55" r="1.95" fill="none" stroke="#bdbdbd" stroke-width="0.8"/>
<circle cx="622.87" cy="452.28" r="1.95" fill="none" stroke="#bdbdbd" stroke-width="0.8"/>
<circle cx="627.08" cy="453.01" r="1.95" fill="none" stroke="#bdbdbd" stroke-width="0.8"/>
<circle cx="606.02" cy="453.5" r="1.95" fill="none" stroke="#bdbdbd" stroke-width="0.8"/>
<circle cx="610.23" cy="453.99" r="1.95" fill="none" stroke="#bdbdbd" stroke-width="0.8"/>
<circle cx="614.44" cy="454.72" r="1.95" fill="none" stroke="#bdbdbd" stroke-width="0.8"/>
<circle cx="618.66" cy="455.45" r="1.95" fill="none" stroke="#bdbdbd" stroke-width="0.8"/>
<circle cx="622.87" cy="455.94" r="1.95" fill="none" stroke="#bdbdbd" stroke-width="0.8"/>
<circle cx="627.08" cy="456.43" r="1.95" fill="none" stroke="#bdbdbd" stroke-width="0.8"/>
<circle cx="606.02" cy="457.16" r="1.95" fill="none" stroke="#bdbdbd" stroke-width="0.8"/>
<circle cx="610.23" cy="457.89" r="1.95" fill="none" stroke="#bdbdbd" stroke-width="0.8"/>
<circle cx="614.44" cy="458.38" r="1.95" fill="none" stroke="#bdbdbd" stroke-width="0.8"/>
<circle cx="618.66" cy="458.87" r="1.95" fill="none" stroke="#bdbdbd" stroke-width="0.8"/>
<circle cx="622.87" cy="459.6" r="1.95" fill="none" stroke="#bdbdbd" stroke-width="0.8"/>
<circle cx="627.08" cy="460.33" r="1.95" fill="none" stroke="#bdbdbd" stroke-width="0.8"/>
<circle cx="610.23" cy="460.82" r="1.95" fill="none" stroke="#bdbdbd" stroke-width="0.8"/>
<circle cx="614.44" cy="462.04" r="1.95" fill="none" stroke="#bdbdbd" stroke-width="0.8"/>
<circle cx="618.66" cy="462.77" r="1.95" fill="none" stroke="#bdbdbd" stroke-width="0.8"/>
<circle cx="622.87" cy="463.75" r="1.95" fill="none" stroke="#bdbdbd" stroke-width="0.8"/>
<circle cx="642.04" cy="392.5" r="1.95" fill="none" stroke="#d6a29c" stroke-width="0.8"/>
<circle cx="646.26" cy="394.94" r="1.95" fill="none" stroke="#d6a29c" stroke-width="0.8"/>
<circle cx="642.04" cy="408.36" r="1.95" fill="none" stroke="#d6a29c" stroke-width="0.8"/>
<circle cx="646.26" cy="414.46" r="1.95" fill="none" stroke="#d6a29c" stroke-width="0.8"/>
<circle cx="642.04" cy="423" r="1.95" fill="none" stroke="#d6a29c" stroke-width="0.8"/>
<circle cx="646.26" cy="426.66" r="1.95" fill="none" stroke="#d6a29c" stroke-width="0.8"/>
<circle cx="637.83" cy="436.42" r="1.95" fill="none" stroke="#d6a29c" stroke-width="0.8"/>
<circle cx="642.04" cy="438.86" r="1.95" fill="none" stroke="#d6a29c" stroke-width="0.8"/>
<circle cx="646.26" cy="441.3" r="1.95" fill="none" stroke="#d6a29c" stroke-width="0.8"/>
<circle cx="650.47" cy="442.52" r="1.95" fill="none" stroke="#d6a29c" stroke-width="0.8"/>
<circle cx="633.62" cy="443.74" r="1.95" fill="none" stroke="#d6a29c" stroke-width="0.8"/>
<circle cx="637.83" cy="444.96" r="1.95" fill="none" stroke="#d6a29c" stroke-width="0.8"/>
<circle cx="642.04" cy="446.18" r="1.95" fill="none" stroke="#d6a29c" stroke-width="0.8"/>
<circle cx="646.26" cy="447.4" r="1.95" fill="none" stroke="#d6a29c" stroke-width="0.8"/>
<circle cx="650.47" cy="448.62" r="1.95" fill="none" stroke="#d6a29c" stroke-width="0.8"/>
<circle cx="654.68" cy="449.84" r="1.95" fill="none" stroke="#d6a29c" stroke-width="0.8"/>
<circle cx="633.62" cy="451.06" r="1.95" fill="none" stroke="#d6a29c" stroke-width="0.8"/>
<circle cx="637.83" cy="451.79" r="1.95" fill="none" stroke="#d6a29c" stroke-width="0.8"/>
<circle cx="642.04" cy="452.28" r="1.95" fill="none" stroke="#d6a29c" stroke-width="0.8"/>
<circle cx="646.26" cy="453.01" r="1.95" fill="none" stroke="#d6a29c" stroke-width="0.8"/>
<circle cx="650.47" cy="453.5" r="1.95" fill="none" stroke="#d6a29c" stroke-width="0.8"/>
<circle cx="654.68" cy="454.23" r="1.95" fill="none" stroke="#d6a29c" stroke-width="0.8"/>
<circle cx="633.62" cy="454.72" r="1.95" fill="none" stroke="#d6a29c" stroke-width="0.8"/>
<circle cx="637.83" cy="455.45" r="1.95" fill="none" stroke="#d6a29c" stroke-width="0.8"/>
<circle cx="642.04" cy="455.94" r="1.95" fill="none" stroke="#d6a29c" stroke-width="0.8"/>
<circle cx="646.26" cy="456.43" r="1.95" fill="none" stroke="#d6a29c" stroke-width="0.8"/>
<circle cx="650.47" cy="457.16" r="1.95" fill="none" stroke="#d6a29c" stroke-width="0.8"/>
<circle cx="654.68" cy="457.65" r="1.95" fill="none" stroke="#d6a29c" stroke-width="0.8"/>
<circle cx="633.62" cy="458.38" r="1.95" fill="none" stroke="#d6a29c" stroke-width="0.8"/>
<circle cx="637.83" cy="458.87" r="1.95" fill="none" stroke="#d6a29c" stroke-width="0.8"/>
<circle cx="642.04" cy="459.6" r="1.95" fill="none" stroke="#d6a29c" stroke-width="0.8"/>
<circle cx="646.26" cy="460.33" r="1.95" fill="none" stroke="#d6a29c" stroke-width="0.8"/>
<circle cx="650.47" cy="460.82" r="1.95" fill="none" stroke="#d6a29c" stroke-width="0.8"/>
<circle cx="654.68" cy="461.31" r="1.95" fill="none" stroke="#d6a29c" stroke-width="0.8"/>
<path d="M604.3,465.7V450.33H628.8V465.7" fill="none" stroke="#1c1c1c" stroke-width="1.5"/>
<line x1="616.55" y1="452.04" x2="616.55" y2="448.62" stroke="#2b2b2b" stroke-width="1.2" />
<line x1="610.05" y1="448.62" x2="623.05" y2="448.62" stroke="#2b2b2b" stroke-width="1.2" />
<line x1="610.05" y1="452.04" x2="623.05" y2="452.04" stroke="#2b2b2b" stroke-width="1.2" />
<line x1="616.55" y1="465.7" x2="616.55" y2="469.3" stroke="#2b2b2b" stroke-width="1" />
<path d="M631.9,465.7V443.74H656.4V465.7" fill="none" stroke="#1c1c1c" stroke-width="1.5"/>
<line x1="644.15" y1="446.91" x2="644.15" y2="440.57" stroke="#2b2b2b" stroke-width="1.2" />
<line x1="637.65" y1="440.57" x2="650.65" y2="440.57" stroke="#2b2b2b" stroke-width="1.2" />
<line x1="637.65" y1="446.91" x2="650.65" y2="446.91" stroke="#2b2b2b" stroke-width="1.2" />
<line x1="644.15" y1="465.7" x2="644.15" y2="469.3" stroke="#2b2b2b" stroke-width="1" />
<line x1="594.3" y1="465.7" x2="661.1" y2="465.7" stroke="#2b2b2b" stroke-width="1.3" />
<line x1="606.7" y1="368.6" x2="647.2" y2="368.6" stroke="#2b2b2b" stroke-width="1.1" />
<text x="626.95" y="364.9" font-size="8.8" text-anchor="middle">P=0.187</text>
<text x="597.7" y="477.88" font-size="9.4" style="fill:#929292;stroke:#929292">n</text>
<text x="616.9" y="477.88" font-size="9.4" text-anchor="middle" style="fill:#929292;stroke:#929292">33</text>
<text x="644.1" y="477.88" font-size="9.4" text-anchor="middle" style="fill:#929292;stroke:#929292">34</text>
<text x="630.9" y="489.85" font-size="10.4" text-anchor="middle">WT R799Q</text>
<text x="564.78" y="418.5" font-size="10.5" text-anchor="middle" transform="rotate(-90 564.78 418.5)">Apparent replenishment</text>
<text x="576.38" y="417.5" font-size="10.5" text-anchor="middle" transform="rotate(-90 576.38 417.5)">rate constant (s<tspan font-size="6.5" dy="-3.6">-1</tspan><tspan dy="3.6">)</tspan></text>
<text x="1" y="536" font-size="11.5" style="fill:#111;stroke:#111" font-weight="bold">m</text>
<path d="M21,564.07 L21.64,563.2 L22.28,564.65 L22.92,564.63 L23.57,563.44 L24.21,562.84 L24.85,563.78 L25.49,564 L26.13,562.47 L26.77,561.41 L27.42,562.04 L28.06,561.69 L28.7,561.83 L29.34,561.62 L29.98,560.39 L30.62,561.01 L31.26,560.09 L31.91,561.06 L32.55,561.7 L33.19,562.14 L33.83,561.7 L34.47,562.93 L35.11,562.29 L35.75,562.36 L36.4,561.61 L37.04,561.18 L37.68,562.68 L38.32,562.32 L38.96,560.57 L39.6,562.91 L40.25,560.99 L40.89,561.69 L41.53,562.38 L42.17,561.48 L42.81,562.15 L43.45,561.34 L44.09,562.95 L44.74,562.02 L45.38,562.37 L46.02,562.86 L46.66,562.11 L47.3,562.09 L47.94,562.09 L48.58,562.36 L49.23,560.75 L49.87,559.87 L50.51,560.82 L51.15,559.27 L51.79,559.85 L52.43,559.65 L53.08,560.56 L53.72,560.49 L54.36,559.71 L55,561.6 L55.64,559.31 L56.28,560.96 L56.92,560.14 L57.57,559.87 L58.21,560.49 L58.85,560.85 L59.49,562.19 L60.13,561.37 L60.77,560.34 L61.42,561.29 L62.06,560.29 L62.7,560.8 L63.34,560.7 L63.98,560.74 L64.62,559.98 L65.26,560.85 L65.91,559.48 L66.55,560.89 L67.19,561.44 L67.83,560 L68.47,559.51 L69.11,561.6 L69.75,561.51 L70.4,561.16 L71.04,560.21 L71.68,560.47 L72.32,560.58 L72.96,559.4 L73.6,559.85 L74.25,559.97 L74.89,558.29 L75.53,559.34 L76.17,559.67 L76.81,558.97 L77.45,558.92 L78.09,558.57 L78.74,557.73 L79.38,558.48 L80.02,559.58 L80.66,560.62 L81.3,560.87 L81.94,561.14 L82.58,560.83 L83.23,560.54 L83.87,561.09 L84.51,562.22 L85.15,560.94 L85.79,561.66 L86.43,560.52 L87.08,560.71 L87.72,562.23 L88.36,561.63 L89,562.02 L89.64,561.05 L90.28,561.71 L90.92,561.03 L91.57,561.69 L92.21,559.52 L92.85,559.23 L93.49,559.9 L94.13,558.89 L94.77,560.31 L95.42,559.71 L96.06,559.44 L96.7,560.78 L97.34,560.37 L97.98,561.58 L98.62,560.69 L99.26,560.64 L99.91,561.52 L100.55,561.35 L101.19,560.76 L101.83,561.43 L102.47,560.77 L103.11,563 L103.75,563.61 L104.4,562.04 L105.04,562.27 L105.68,563.04 L106.32,562.72 L106.96,563.46 L107.6,563.14 L108.25,562.76 L108.89,562.35 L109.53,563.23 L110.17,564.11 L110.81,563.41 L111.45,563.53 L112.09,564.27 L112.74,562.58 L113.38,562.68 L114.02,561.86 L114.66,561.69 L115.3,561.96 L115.94,562.07 L116.58,562.02 L117.23,562.35 L117.87,561.75 L118.51,560.86 L119.15,561.45 L119.79,561.56 L120.43,560.97 L121.08,561.18 L121.72,561.15 L122.36,562.13 L123,561.55 L123,566.89 L122.36,566.14 L121.72,566.36 L121.08,566.21 L120.43,565.52 L119.79,565.48 L119.15,566.16 L118.51,565.75 L117.87,566.69 L117.23,566.59 L116.58,566.95 L115.94,566.09 L115.3,565.88 L114.66,566.43 L114.02,566.43 L113.38,566.46 L112.74,567.34 L112.09,567.45 L111.45,567.52 L110.81,568.03 L110.17,568.23 L109.53,567.87 L108.89,567.1 L108.25,567.62 L107.6,567.41 L106.96,567.44 L106.32,567.94 L105.68,566.34 L105.04,566.43 L104.4,567.95 L103.75,566.76 L103.11,566.46 L102.47,566.05 L101.83,565.47 L101.19,565.34 L100.55,565.36 L99.91,563.86 L99.26,564.84 L98.62,565.46 L97.98,564.86 L97.34,565.88 L96.7,564.75 L96.06,564.26 L95.42,563.31 L94.77,563.94 L94.13,564.35 L93.49,564.42 L92.85,565.8 L92.21,563.66 L91.57,565.53 L90.92,565.6 L90.28,565.22 L89.64,566.44 L89,566.73 L88.36,566.18 L87.72,565.61 L87.08,565.92 L86.43,566.52 L85.79,566.19 L85.15,565.89 L84.51,566.11 L83.87,565.7 L83.23,565.66 L82.58,565.27 L81.94,565.8 L81.3,564.94 L80.66,563.61 L80.02,563.61 L79.38,564.69 L78.74,563.68 L78.09,563.26 L77.45,563.99 L76.81,563.54 L76.17,564 L75.53,563.72 L74.89,564.11 L74.25,563.7 L73.6,564.83 L72.96,563.68 L72.32,565.3 L71.68,566.13 L71.04,564.56 L70.4,565.22 L69.75,565.53 L69.11,565.23 L68.47,565.92 L67.83,566.28 L67.19,565.55 L66.55,565.75 L65.91,565.94 L65.26,566 L64.62,564.87 L63.98,566.12 L63.34,565.5 L62.7,565.09 L62.06,564.17 L61.42,565.6 L60.77,564.96 L60.13,565.36 L59.49,566.5 L58.85,565.2 L58.21,565.41 L57.57,565.4 L56.92,565.75 L56.28,564.42 L55.64,563.75 L55,563.81 L54.36,564.9 L53.72,565.63 L53.08,563.19 L52.43,563.28 L51.79,564.68 L51.15,564.7 L50.51,565.52 L49.87,563.16 L49.23,564.67 L48.58,566 L47.94,565.88 L47.3,565.77 L46.66,566.26 L46.02,567.21 L45.38,567.29 L44.74,565.82 L44.09,566.25 L43.45,566.42 L42.81,567.34 L42.17,565.72 L41.53,565.67 L40.89,565.71 L40.25,566.2 L39.6,565.6 L38.96,566.05 L38.32,566.11 L37.68,566.38 L37.04,566.27 L36.4,566.54 L35.75,565.79 L35.11,566.26 L34.47,566.83 L33.83,566.65 L33.19,566.17 L32.55,565.48 L31.91,565.41 L31.26,565.41 L30.62,564.55 L29.98,565.47 L29.34,565.54 L28.7,566.3 L28.06,566.38 L27.42,567.08 L26.77,567.31 L26.13,567.15 L25.49,568.18 L24.85,568.54 L24.21,568.13 L23.57,567.71 L22.92,569 L22.28,567.92 L21.64,568.21 L21,567.39Z" fill="#9c9c9c" stroke="#9c9c9c" stroke-width="0.5"/>
<line x1="93.49" y1="563.42" x2="93.49" y2="567.73" stroke="#9c9c9c" stroke-width="0.9"/>
<line x1="106.32" y1="566.94" x2="106.32" y2="572.16" stroke="#9c9c9c" stroke-width="0.9"/>
<line x1="78.74" y1="562.68" x2="78.74" y2="566.06" stroke="#9c9c9c" stroke-width="0.9"/>
<line x1="74.89" y1="563.11" x2="74.89" y2="567.32" stroke="#9c9c9c" stroke-width="0.9"/>
<line x1="82.58" y1="564.27" x2="82.58" y2="570.94" stroke="#9c9c9c" stroke-width="0.9"/>
<line x1="78.74" y1="562.68" x2="78.74" y2="569.53" stroke="#9c9c9c" stroke-width="0.9"/>
<line x1="55.64" y1="562.75" x2="55.64" y2="569.55" stroke="#9c9c9c" stroke-width="0.9"/>
<line x1="66.55" y1="564.75" x2="66.55" y2="570.61" stroke="#9c9c9c" stroke-width="0.9"/>
<line x1="41.53" y1="564.67" x2="41.53" y2="568.92" stroke="#9c9c9c" stroke-width="0.9"/>
<path d="M21,580.64 L21.64,580.5 L22.28,580.27 L22.92,580.43 L23.57,580.69 L24.21,579.71 L24.85,579.82 L25.49,581.16 L26.13,581.84 L26.77,580.72 L27.42,580.19 L28.06,581.2 L28.7,579.9 L29.34,580.8 L29.98,581.69 L30.62,580.83 L31.26,580.83 L31.91,580.19 L32.55,579.05 L33.19,580.06 L33.83,578.79 L34.47,578.69 L35.11,579.09 L35.75,578.1 L36.4,579.2 L37.04,578.81 L37.68,578.26 L38.32,579.22 L38.96,578.17 L39.6,578.39 L40.25,579.04 L40.89,578.19 L41.53,580.99 L42.17,579.52 L42.81,579.65 L43.45,578.5 L44.09,579.07 L44.74,579.49 L45.38,578.41 L46.02,579.98 L46.66,579.78 L47.3,580.11 L47.94,580.16 L48.58,580.61 L49.23,581.09 L49.87,580.87 L50.51,580.64 L51.15,579.55 L51.79,579.6 L52.43,578.92 L53.08,579.64 L53.72,579.3 L54.36,578.99 L55,578.16 L55.64,576.92 L56.28,578.36 L56.92,577.78 L57.57,577.47 L58.21,577.71 L58.85,576.61 L59.49,578.05 L60.13,578.04 L60.77,576.6 L61.42,577.87 L62.06,576.86 L62.7,579.21 L63.34,578.48 L63.98,578.19 L64.62,577.22 L65.26,577.59 L65.91,579.31 L66.55,578.41 L67.19,578.28 L67.83,578.59 L68.47,578.76 L69.11,578.5 L69.75,577.98 L70.4,578.84 L71.04,578.89 L71.68,579.26 L72.32,578.29 L72.96,579.9 L73.6,578.74 L74.25,578.61 L74.89,578.92 L75.53,578.61 L76.17,577.34 L76.81,578.52 L77.45,577.25 L78.09,578.79 L78.74,577.42 L79.38,579.08 L80.02,576.91 L80.66,577.25 L81.3,577.03 L81.94,575.51 L82.58,575.92 L83.23,576.17 L83.87,575.88 L84.51,576.32 L85.15,577 L85.79,576.5 L86.43,577.08 L87.08,575.91 L87.72,576.83 L88.36,576.64 L89,576.87 L89.64,577.48 L90.28,577.51 L90.92,577.84 L91.57,577.33 L92.21,577.37 L92.85,576.87 L93.49,578.04 L94.13,576.99 L94.77,578.36 L95.42,577.92 L96.06,578.02 L96.7,577.41 L97.34,577.73 L97.98,578.6 L98.62,577.25 L99.26,578.32 L99.91,577.28 L100.55,579.63 L101.19,577.91 L101.83,577.91 L102.47,578.11 L103.11,578.19 L103.75,576.7 L104.4,577.73 L105.04,576.87 L105.68,576.69 L106.32,577.55 L106.96,577.27 L107.6,577.14 L108.25,577.23 L108.89,577.24 L109.53,576.42 L110.17,577.76 L110.81,577.97 L111.45,577.43 L112.09,577.95 L112.74,577.77 L113.38,579.04 L114.02,578.16 L114.66,579.47 L115.3,578.51 L115.94,579.73 L116.58,579.01 L117.23,579 L117.87,579.21 L118.51,578.77 L119.15,579.08 L119.79,579.88 L120.43,579.64 L121.08,578.34 L121.72,579.76 L122.36,578.79 L123,578.79 L123,584.19 L122.36,582.73 L121.72,584.38 L121.08,582.73 L120.43,583.42 L119.79,583.08 L119.15,584.26 L118.51,584.16 L117.87,583.24 L117.23,583.07 L116.58,583.75 L115.94,582.59 L115.3,582.09 L114.66,582.73 L114.02,583.17 L113.38,582.77 L112.74,582.19 L112.09,582.4 L111.45,581.96 L110.81,581.6 L110.17,582.17 L109.53,580.71 L108.89,580.21 L108.25,580.85 L107.6,581.44 L106.96,581.6 L106.32,580.98 L105.68,581.49 L105.04,582.91 L104.4,581.31 L103.75,582.3 L103.11,582.99 L102.47,582.79 L101.83,582.27 L101.19,582.41 L100.55,583.76 L99.91,582.34 L99.26,582.2 L98.62,582.76 L97.98,582.71 L97.34,583.02 L96.7,581.16 L96.06,582.96 L95.42,582.61 L94.77,582.42 L94.13,581.14 L93.49,581.65 L92.85,582.5 L92.21,581.27 L91.57,581.6 L90.92,581.85 L90.28,582.85 L89.64,581.91 L89,581.8 L88.36,581.36 L87.72,581.49 L87.08,581.41 L86.43,580.3 L85.79,580.66 L85.15,579.32 L84.51,580.97 L83.87,579.5 L83.23,581.25 L82.58,581.45 L81.94,581.47 L81.3,581.63 L80.66,581.28 L80.02,580.87 L79.38,582.33 L78.74,582.77 L78.09,582.39 L77.45,582.23 L76.81,581.97 L76.17,582.73 L75.53,583.22 L74.89,582.71 L74.25,582.14 L73.6,583.5 L72.96,582.9 L72.32,582.61 L71.68,583.66 L71.04,582.83 L70.4,582.78 L69.75,582.32 L69.11,583 L68.47,583.12 L67.83,582.24 L67.19,581.84 L66.55,583.31 L65.91,583.69 L65.26,583.66 L64.62,583.12 L63.98,582.61 L63.34,583.09 L62.7,583.61 L62.06,581.79 L61.42,582.32 L60.77,581.18 L60.13,582.55 L59.49,581.59 L58.85,581.82 L58.21,582.83 L57.57,582.08 L56.92,581.26 L56.28,583.33 L55.64,583.53 L55,582.63 L54.36,582.85 L53.72,583.9 L53.08,583.8 L52.43,583.42 L51.79,583.71 L51.15,583.79 L50.51,583.42 L49.87,584.79 L49.23,585.56 L48.58,585.25 L47.94,584.12 L47.3,585.18 L46.66,583.24 L46.02,585.14 L45.38,584.34 L44.74,583.89 L44.09,582.88 L43.45,583.02 L42.81,583.79 L42.17,583.36 L41.53,584.28 L40.89,583.53 L40.25,585.2 L39.6,583.83 L38.96,584.3 L38.32,583.83 L37.68,583.29 L37.04,584.44 L36.4,584.33 L35.75,581.87 L35.11,582.38 L34.47,583.11 L33.83,584.67 L33.19,583.96 L32.55,584.24 L31.91,584.05 L31.26,585.28 L30.62,585.6 L29.98,585.21 L29.34,584.58 L28.7,584.86 L28.06,584.27 L27.42,584.6 L26.77,584.89 L26.13,584.66 L25.49,584.79 L24.85,584.1 L24.21,585.21 L23.57,584.49 L22.92,585.54 L22.28,584.84 L21.64,584.01 L21,585.53Z" fill="#9c9c9c" stroke="#9c9c9c" stroke-width="0.5"/>
<line x1="54.36" y1="581.85" x2="54.36" y2="588.6" stroke="#9c9c9c" stroke-width="0.9"/>
<line x1="103.11" y1="581.99" x2="103.11" y2="585.39" stroke="#9c9c9c" stroke-width="0.9"/>
<line x1="34.47" y1="582.11" x2="34.47" y2="588.91" stroke="#9c9c9c" stroke-width="0.9"/>
<line x1="96.7" y1="580.16" x2="96.7" y2="585.52" stroke="#9c9c9c" stroke-width="0.9"/>
<line x1="42.17" y1="582.36" x2="42.17" y2="588.55" stroke="#9c9c9c" stroke-width="0.9"/>
<line x1="91.57" y1="580.6" x2="91.57" y2="584.12" stroke="#9c9c9c" stroke-width="0.9"/>
<line x1="37.68" y1="582.29" x2="37.68" y2="588.57" stroke="#9c9c9c" stroke-width="0.9"/>
<line x1="96.7" y1="580.16" x2="96.7" y2="583.63" stroke="#9c9c9c" stroke-width="0.9"/>
<line x1="66.55" y1="582.31" x2="66.55" y2="587.37" stroke="#9c9c9c" stroke-width="0.9"/>
<path d="M21,597.17 L21.64,596.77 L22.28,596.77 L22.92,597.34 L23.57,595.89 L24.21,595.44 L24.85,595.07 L25.49,594.65 L26.13,594.87 L26.77,594.94 L27.42,594.84 L28.06,595.32 L28.7,594.71 L29.34,595.71 L29.98,595.24 L30.62,597.16 L31.26,596.15 L31.91,595.08 L32.55,595.08 L33.19,596.3 L33.83,595.52 L34.47,596.2 L35.11,595.96 L35.75,595.78 L36.4,595.25 L37.04,595.04 L37.68,595.75 L38.32,596.2 L38.96,595.88 L39.6,594.7 L40.25,595.49 L40.89,594.85 L41.53,593.7 L42.17,594.31 L42.81,594.04 L43.45,593.34 L44.09,594.02 L44.74,594.24 L45.38,594.39 L46.02,594.13 L46.66,592.41 L47.3,592.75 L47.94,593.68 L48.58,593.47 L49.23,593.79 L49.87,595.92 L50.51,594.02 L51.15,594.42 L51.79,594.57 L52.43,594.96 L53.08,594.39 L53.72,595.23 L54.36,594.66 L55,595.23 L55.64,595.04 L56.28,595.39 L56.92,596.84 L57.57,594.34 L58.21,596.07 L58.85,594.84 L59.49,595.65 L60.13,596.81 L60.77,596.44 L61.42,595.83 L62.06,595.95 L62.7,596.77 L63.34,595.87 L63.98,596.45 L64.62,595.82 L65.26,595.53 L65.91,597.09 L66.55,595.83 L67.19,594.19 L67.83,594.93 L68.47,594.75 L69.11,595.58 L69.75,594.82 L70.4,595.23 L71.04,595.53 L71.68,596.07 L72.32,595.11 L72.96,595.77 L73.6,595.54 L74.25,595.77 L74.89,597.54 L75.53,597.15 L76.17,596.11 L76.81,597.52 L77.45,598.46 L78.09,597.69 L78.74,596.36 L79.38,597.02 L80.02,598.3 L80.66,597.23 L81.3,597.84 L81.94,598.23 L82.58,597.11 L83.23,597.45 L83.87,595.45 L84.51,596.79 L85.15,597.63 L85.79,596.99 L86.43,598.65 L87.08,596.75 L87.72,596.89 L88.36,596.98 L89,597.3 L89.64,595.74 L90.28,597.05 L90.92,596.25 L91.57,595.8 L92.21,596.36 L92.85,596.27 L93.49,595.45 L94.13,595.95 L94.77,595.47 L95.42,595.98 L96.06,596.29 L96.7,596.8 L97.34,595.38 L97.98,597.21 L98.62,594.89 L99.26,595.86 L99.91,596.52 L100.55,596.09 L101.19,595.3 L101.83,595.59 L102.47,595.62 L103.11,595.43 L103.75,596.59 L104.4,596.38 L105.04,595.64 L105.68,596.79 L106.32,596.07 L106.96,596.42 L107.6,596.12 L108.25,594.95 L108.89,594.99 L109.53,595.5 L110.17,595.51 L110.81,594.71 L111.45,594.19 L112.09,595.02 L112.74,593.73 L113.38,594.25 L114.02,593.6 L114.66,593.56 L115.3,594.5 L115.94,594.24 L116.58,594.06 L117.23,594.61 L117.87,593.9 L118.51,594.29 L119.15,593.86 L119.79,594.17 L120.43,594.27 L121.08,594.47 L121.72,594.75 L122.36,594.26 L123,596.1 L123,599.36 L122.36,598.19 L121.72,598.22 L121.08,598.73 L120.43,599.42 L119.79,600.23 L119.15,598.63 L118.51,598.63 L117.87,598.14 L117.23,599.21 L116.58,598.79 L115.94,597.24 L115.3,596.86 L114.66,597.92 L114.02,597.77 L113.38,598 L112.74,598.94 L112.09,599.02 L111.45,598.39 L110.81,599.05 L110.17,599.67 L109.53,599.03 L108.89,599.75 L108.25,601.02 L107.6,599.42 L106.96,600 L106.32,599.67 L105.68,600.59 L105.04,599.98 L104.4,600.25 L103.75,600.79 L103.11,599.59 L102.47,600.89 L101.83,600.08 L101.19,599.44 L100.55,600.01 L99.91,600 L99.26,600.57 L98.62,600.86 L97.98,599.55 L97.34,600.47 L96.7,599.01 L96.06,600.28 L95.42,600.54 L94.77,600.07 L94.13,599.29 L93.49,599.39 L92.85,601.52 L92.21,600.53 L91.57,601.69 L90.92,601.08 L90.28,600.59 L89.64,599.77 L89,600.13 L88.36,600.25 L87.72,602.19 L87.08,602.42 L86.43,601.49 L85.79,602.96 L85.15,602.57 L84.51,602.39 L83.87,601.65 L83.23,602.94 L82.58,603.31 L81.94,602.2 L81.3,602.68 L80.66,602.12 L80.02,602.87 L79.38,601.26 L78.74,601.87 L78.09,602.24 L77.45,600.66 L76.81,600.69 L76.17,601.69 L75.53,601.61 L74.89,600.96 L74.25,600.47 L73.6,599.59 L72.96,600.74 L72.32,599.96 L71.68,599.97 L71.04,599.63 L70.4,599.34 L69.75,598.74 L69.11,600.21 L68.47,599.48 L67.83,600.03 L67.19,598.78 L66.55,599.57 L65.91,600.91 L65.26,601.42 L64.62,599.4 L63.98,601.01 L63.34,600.17 L62.7,600.42 L62.06,601.35 L61.42,602 L60.77,601 L60.13,600.65 L59.49,599.88 L58.85,599.89 L58.21,598.78 L57.57,599.5 L56.92,599.35 L56.28,599.25 L55.64,601.04 L55,599.88 L54.36,600.05 L53.72,598.72 L53.08,600.27 L52.43,599.54 L51.79,599.26 L51.15,598.44 L50.51,598.09 L49.87,597.54 L49.23,597.94 L48.58,597.57 L47.94,597.9 L47.3,597.48 L46.66,598.05 L46.02,598.14 L45.38,598.08 L44.74,599.22 L44.09,598.52 L43.45,597.93 L42.81,598.6 L42.17,598.44 L41.53,598.62 L40.89,598.42 L40.25,599.78 L39.6,599.75 L38.96,600.66 L38.32,600.97 L37.68,600.61 L37.04,600.22 L36.4,599.73 L35.75,599.38 L35.11,599.2 L34.47,600.31 L33.83,599.78 L33.19,600.1 L32.55,600.27 L31.91,600.14 L31.26,599.68 L30.62,599.59 L29.98,600.04 L29.34,599.05 L28.7,598.61 L28.06,599.13 L27.42,599.66 L26.77,598.73 L26.13,599.36 L25.49,599 L24.85,599.99 L24.21,600.67 L23.57,600.81 L22.92,601.08 L22.28,601.37 L21.64,600.19 L21,600.39Z" fill="#9c9c9c" stroke="#9c9c9c" stroke-width="0.5"/>
<line x1="98.62" y1="599.86" x2="98.62" y2="604.37" stroke="#9c9c9c" stroke-width="0.9"/>
<line x1="47.3" y1="596.48" x2="47.3" y2="600.76" stroke="#9c9c9c" stroke-width="0.9"/>
<line x1="77.45" y1="599.66" x2="77.45" y2="603.97" stroke="#9c9c9c" stroke-width="0.9"/>
<line x1="50.51" y1="597.09" x2="50.51" y2="601.02" stroke="#9c9c9c" stroke-width="0.9"/>
<line x1="30.62" y1="598.59" x2="30.62" y2="603.97" stroke="#9c9c9c" stroke-width="0.9"/>
<line x1="65.91" y1="599.91" x2="65.91" y2="604.33" stroke="#9c9c9c" stroke-width="0.9"/>
<line x1="92.21" y1="599.53" x2="92.21" y2="604.45" stroke="#9c9c9c" stroke-width="0.9"/>
<line x1="93.49" y1="598.39" x2="93.49" y2="604.33" stroke="#9c9c9c" stroke-width="0.9"/>
<line x1="93.49" y1="598.39" x2="93.49" y2="604.37" stroke="#9c9c9c" stroke-width="0.9"/>
<path d="M21,625.63 L21.62,626.69 L22.24,625.8 L22.86,625.7 L23.48,625.48 L24.1,625.47 L24.72,624.79 L25.34,624.42 L25.96,624.38 L26.58,624.83 L27.2,624.7 L27.82,625.68 L28.44,627 L29.06,625.24 L29.68,623.82 L30.3,625.32 L30.92,624.12 L31.54,625.21 L32.16,624.78 L32.78,623.87 L33.4,625.16 L34.02,624.78 L34.64,624.88 L35.26,624.78 L35.88,626.87 L36.5,625.35 L37.12,625.4 L37.74,625.34 L38.36,624.9 L38.98,625.45 L39.6,625.37 L40.22,626.55 L40.84,625.04 L41.46,626.49 L42.08,625.28 L42.7,625.06 L43.32,626.19 L43.94,625.62 L44.56,625.64 L45.18,625.74 L45.81,625.2 L46.43,625.66 L47.05,625.7 L47.67,625.79 L48.29,625.11 L48.91,625.1 L49.53,624.69 L50.15,624.53 L50.77,625.42 L51.39,625.34 L52.01,625.04 L52.63,625.07 L53.25,624.85 L53.87,625.88 L54.49,625.41 L55.11,624.93 L55.73,624.19 L56.35,624.42 L56.97,625.46 L57.59,625.61 L58.21,625.19 L58.83,625.23 L59.45,624.62 L60.07,623.54 L60.69,624.83 L61.31,623.78 L61.93,623.87 L62.55,625.03 L63.17,625.42 L63.79,625.8 L64.41,625.53 L65.03,626.08 L65.65,625.14 L66.27,624.46 L66.89,625.8 L67.51,625.19 L68.13,624.14 L68.75,624.21 L69.37,625.82 L69.99,625.43 L70.61,625.07 L71.23,625.65 L71.85,625.88 L72.47,625 L73.09,625.29 L73.71,624.71 L74.33,625.51 L74.95,624.98 L75.57,626.3 L76.19,626.85 L76.81,625.92 L77.43,625.54 L78.05,625.89 L78.67,626.02 L79.29,625.3 L79.91,625.28 L80.53,625.43 L81.15,625.93 L81.77,625.06 L82.39,624.83 L83.01,624.2 L83.63,626.37 L84.25,625.73 L84.87,626.25 L85.49,625.4 L86.11,625.3 L86.73,624.71 L87.35,625.19 L87.97,624.66 L88.59,625.7 L89.21,625.45 L89.83,624.89 L90.45,626.38 L91.07,624.61 L91.69,625.83 L92.31,624.94 L92.93,624.89 L93.55,625.55 L94.17,625.81 L94.79,626.79 L95.42,626.75 L96.04,626.8 L96.66,625.79 L97.28,625.9 L97.9,624.92 L98.52,626.67 L99.14,626.68 L99.76,626.11 L100.38,626.65 L101,625.81 L101.62,626.28 L102.24,627.2 L102.86,626.48 L103.48,626.67 L104.1,627.15 L104.72,626.49 L105.34,626.76 L105.96,627.09 L106.58,626.97 L107.2,626.53 L107.82,627.01 L108.44,626.46 L109.06,625.84 L109.68,626.51 L110.3,626.64 L110.92,626.67 L111.54,624.39 L112.16,625.12 L112.78,624.77 L113.4,625.97 L114.02,624.93 L114.64,624.58 L115.26,625.68 L115.88,626.59 L116.5,626.19 L117.12,624.47 L117.74,625.29 L118.36,625.62 L118.98,625.13 L119.6,625.57 L119.6,631.62 L118.98,631.48 L118.36,629.95 L117.74,631.11 L117.12,630.53 L116.5,630.8 L115.88,631.36 L115.26,631.05 L114.64,631.24 L114.02,631.48 L113.4,631.48 L112.78,630.54 L112.16,631.43 L111.54,631.37 L110.92,631.52 L110.3,631.42 L109.68,630.96 L109.06,630.98 L108.44,632.25 L107.82,632.37 L107.2,631.43 L106.58,631.73 L105.96,631.56 L105.34,632.31 L104.72,631.97 L104.1,632.41 L103.48,632.42 L102.86,633.29 L102.24,633.06 L101.62,632.33 L101,632.66 L100.38,631.36 L99.76,630.59 L99.14,631.58 L98.52,631.65 L97.9,631.16 L97.28,631.76 L96.66,631.79 L96.04,630.86 L95.42,631.36 L94.79,631.6 L94.17,630.24 L93.55,631.6 L92.93,631 L92.31,631.06 L91.69,630.06 L91.07,631.51 L90.45,629.73 L89.83,631.04 L89.21,631.18 L88.59,631.18 L87.97,630.48 L87.35,630.24 L86.73,631.02 L86.11,630.36 L85.49,629.7 L84.87,629.24 L84.25,630.7 L83.63,631.51 L83.01,630.02 L82.39,631.02 L81.77,631.16 L81.15,630.02 L80.53,630.95 L79.91,631.76 L79.29,631.33 L78.67,631.22 L78.05,631.87 L77.43,631.9 L76.81,632.25 L76.19,631.82 L75.57,631.44 L74.95,631.7 L74.33,631.24 L73.71,631.48 L73.09,629.61 L72.47,630.48 L71.85,630.87 L71.23,631.62 L70.61,630.85 L69.99,630.03 L69.37,629.57 L68.75,631.16 L68.13,630.77 L67.51,630.52 L66.89,630.5 L66.27,630.67 L65.65,630.77 L65.03,631.27 L64.41,631.29 L63.79,630.98 L63.17,631.1 L62.55,630.26 L61.93,629.63 L61.31,630.15 L60.69,630.65 L60.07,629.73 L59.45,630 L58.83,629.76 L58.21,630 L57.59,629.38 L56.97,631.09 L56.35,630.18 L55.73,631.01 L55.11,630.32 L54.49,631.08 L53.87,630.63 L53.25,630.33 L52.63,629.91 L52.01,631.79 L51.39,630.9 L50.77,630.44 L50.15,630.5 L49.53,631.33 L48.91,631.21 L48.29,630.48 L47.67,630.51 L47.05,632.04 L46.43,631.07 L45.81,630.67 L45.18,630.26 L44.56,630.79 L43.94,631.59 L43.32,632.1 L42.7,631.01 L42.08,631.01 L41.46,632.02 L40.84,631.35 L40.22,630.95 L39.6,630.75 L38.98,630.56 L38.36,631.19 L37.74,631.33 L37.12,630.86 L36.5,630.94 L35.88,630.44 L35.26,630.93 L34.64,631.53 L34.02,629.79 L33.4,629.88 L32.78,630.17 L32.16,630.14 L31.54,629.29 L30.92,630.08 L30.3,630.47 L29.68,631.04 L29.06,631.44 L28.44,630.82 L27.82,630.56 L27.2,631.4 L26.58,630.75 L25.96,631.7 L25.34,630.42 L24.72,630.42 L24.1,631.02 L23.48,631.23 L22.86,631.66 L22.24,630.99 L21.62,631.9 L21,632.83Z" fill="#c471c4" stroke="#c471c4" stroke-width="0.5"/>
<line x1="74.33" y1="630.24" x2="74.33" y2="632.86" stroke="#c471c4" stroke-width="0.9"/>
<line x1="76.19" y1="630.82" x2="76.19" y2="636.27" stroke="#c471c4" stroke-width="0.9"/>
<line x1="45.81" y1="629.67" x2="45.81" y2="634.02" stroke="#c471c4" stroke-width="0.9"/>
<line x1="88.59" y1="630.18" x2="88.59" y2="635.68" stroke="#c471c4" stroke-width="0.9"/>
<line x1="62.55" y1="629.26" x2="62.55" y2="634.04" stroke="#c471c4" stroke-width="0.9"/>
<line x1="112.16" y1="630.43" x2="112.16" y2="634.05" stroke="#c471c4" stroke-width="0.9"/>
<line x1="85.49" y1="628.7" x2="85.49" y2="632.56" stroke="#c471c4" stroke-width="0.9"/>
<line x1="91.07" y1="630.51" x2="91.07" y2="633.83" stroke="#c471c4" stroke-width="0.9"/>
<line x1="59.45" y1="629" x2="59.45" y2="632.65" stroke="#c471c4" stroke-width="0.9"/>
<line x1="87.97" y1="629.48" x2="87.97" y2="632.82" stroke="#c471c4" stroke-width="0.9"/>
<line x1="63.79" y1="629.98" x2="63.79" y2="633.11" stroke="#c471c4" stroke-width="0.9"/>
<line x1="115.88" y1="630.36" x2="115.88" y2="635.44" stroke="#c471c4" stroke-width="0.9"/>
<path d="M21,638.11 L21.62,637.41 L22.24,637.59 L22.86,636.99 L23.48,638.4 L24.1,637.77 L24.72,637.93 L25.34,636.14 L25.96,636.6 L26.58,637.09 L27.2,637.84 L27.82,637.01 L28.44,636.84 L29.06,636.69 L29.68,637.15 L30.3,637.4 L30.92,638.62 L31.54,638.48 L32.16,637.82 L32.78,638.95 L33.4,639.6 L34.02,638.47 L34.64,637.86 L35.26,638.79 L35.88,637.97 L36.5,638.98 L37.12,638.05 L37.74,638.67 L38.36,638.83 L38.98,639.39 L39.6,638.98 L40.22,639.15 L40.84,639.34 L41.46,637.36 L42.08,639.13 L42.7,638.05 L43.32,638.09 L43.94,638.68 L44.56,638.23 L45.18,637.79 L45.81,636.84 L46.43,637.57 L47.05,637.63 L47.67,636.83 L48.29,638.24 L48.91,637.99 L49.53,637.23 L50.15,636.67 L50.77,636.19 L51.39,637.23 L52.01,636.49 L52.63,638.07 L53.25,636.4 L53.87,637.77 L54.49,637.2 L55.11,637.64 L55.73,637.19 L56.35,637.44 L56.97,637.12 L57.59,638.39 L58.21,637.77 L58.83,639.15 L59.45,637.69 L60.07,639.23 L60.69,638.22 L61.31,638.28 L61.93,637.92 L62.55,637.6 L63.17,637.69 L63.79,638.73 L64.41,637.84 L65.03,638.97 L65.65,639.56 L66.27,638.55 L66.89,639.5 L67.51,638.71 L68.13,639.29 L68.75,639.51 L69.37,638.9 L69.99,639.37 L70.61,640.14 L71.23,638.39 L71.85,639.11 L72.47,637.98 L73.09,638.98 L73.71,638.1 L74.33,638.29 L74.95,639.66 L75.57,638.87 L76.19,638 L76.81,638.15 L77.43,638.11 L78.05,638.77 L78.67,637.87 L79.29,638.22 L79.91,637.2 L80.53,638.27 L81.15,638.36 L81.77,637.7 L82.39,637.71 L83.01,637.51 L83.63,638.19 L84.25,637.68 L84.87,638.16 L85.49,639.17 L86.11,638.51 L86.73,639.74 L87.35,639.13 L87.97,639.25 L88.59,639.88 L89.21,640.18 L89.83,640.26 L90.45,638.82 L91.07,639.54 L91.69,639.06 L92.31,639.21 L92.93,639.05 L93.55,639.39 L94.17,639.93 L94.79,639.65 L95.42,639.52 L96.04,639.52 L96.66,639.41 L97.28,638.42 L97.9,639.8 L98.52,638.57 L99.14,639.42 L99.76,638.6 L100.38,637.76 L101,639.48 L101.62,639.31 L102.24,639.38 L102.86,638.57 L103.48,638.78 L104.1,637.71 L104.72,639.37 L105.34,637.64 L105.96,637.97 L106.58,639.06 L107.2,638.58 L107.82,639.69 L108.44,638.81 L109.06,639.66 L109.68,640.8 L110.3,639.44 L110.92,639.77 L111.54,638.52 L112.16,639.07 L112.78,639.57 L113.4,639.03 L114.02,639.72 L114.64,639.17 L115.26,639.98 L115.88,639.4 L116.5,640.39 L117.12,639.56 L117.74,639.33 L118.36,641.29 L118.98,639.54 L119.6,640.24 L119.6,645.63 L118.98,644.74 L118.36,645.25 L117.74,645.37 L117.12,646.29 L116.5,644.79 L115.88,645.17 L115.26,644.29 L114.64,645.84 L114.02,644.34 L113.4,644.79 L112.78,645.38 L112.16,644.81 L111.54,645.54 L110.92,645.68 L110.3,645.26 L109.68,645.12 L109.06,644.77 L108.44,644.81 L107.82,645.39 L107.2,643.72 L106.58,644.31 L105.96,645.02 L105.34,644.79 L104.72,645.36 L104.1,644.2 L103.48,645.24 L102.86,645.02 L102.24,644.35 L101.62,644.98 L101,644.51 L100.38,643.62 L99.76,644.09 L99.14,643.93 L98.52,645.66 L97.9,644.23 L97.28,644.79 L96.66,644.92 L96.04,644.84 L95.42,645.89 L94.79,644.56 L94.17,644.6 L93.55,646.25 L92.93,644.97 L92.31,645.59 L91.69,645.39 L91.07,644.22 L90.45,644.69 L89.83,645.94 L89.21,644.89 L88.59,644.79 L87.97,645.02 L87.35,644.72 L86.73,645.13 L86.11,645.96 L85.49,644.84 L84.87,643.32 L84.25,644.37 L83.63,644.1 L83.01,643.23 L82.39,643.4 L81.77,644.04 L81.15,643.88 L80.53,644.49 L79.91,643.61 L79.29,644.29 L78.67,644.87 L78.05,643.93 L77.43,643.29 L76.81,643.61 L76.19,643.98 L75.57,643.08 L74.95,643.63 L74.33,644.18 L73.71,642.9 L73.09,644.6 L72.47,644.68 L71.85,644.65 L71.23,644.33 L70.61,643.95 L69.99,644.56 L69.37,645.98 L68.75,642.84 L68.13,645.24 L67.51,645.09 L66.89,645.6 L66.27,644.3 L65.65,643.87 L65.03,644.84 L64.41,644.67 L63.79,644.65 L63.17,644.61 L62.55,645.62 L61.93,642.99 L61.31,644.17 L60.69,644.1 L60.07,643.76 L59.45,644.07 L58.83,643.74 L58.21,644.49 L57.59,643.17 L56.97,644.63 L56.35,643.66 L55.73,643.33 L55.11,643.4 L54.49,642.05 L53.87,642.92 L53.25,643.58 L52.63,643.65 L52.01,641.96 L51.39,643.03 L50.77,642.81 L50.15,642.6 L49.53,641.7 L48.91,643.21 L48.29,643.79 L47.67,642.9 L47.05,644.37 L46.43,644.07 L45.81,642.98 L45.18,643.43 L44.56,643.46 L43.94,644.5 L43.32,644.57 L42.7,643.69 L42.08,643.93 L41.46,644.77 L40.84,643.6 L40.22,644.13 L39.6,644.24 L38.98,644.45 L38.36,644.85 L37.74,643.69 L37.12,644.2 L36.5,644.07 L35.88,644.45 L35.26,643.11 L34.64,643.88 L34.02,644.49 L33.4,644.03 L32.78,645.08 L32.16,644.67 L31.54,643.77 L30.92,643.58 L30.3,643.98 L29.68,643.35 L29.06,640.94 L28.44,642.9 L27.82,643.08 L27.2,643.29 L26.58,643.07 L25.96,643.54 L25.34,642.47 L24.72,643.06 L24.1,642.31 L23.48,642.58 L22.86,643.25 L22.24,643.2 L21.62,642.98 L21,643.24Z" fill="#c471c4" stroke="#c471c4" stroke-width="0.5"/>
<line x1="50.77" y1="641.81" x2="50.77" y2="644.57" stroke="#c471c4" stroke-width="0.9"/>
<line x1="78.05" y1="642.93" x2="78.05" y2="648.32" stroke="#c471c4" stroke-width="0.9"/>
<line x1="37.12" y1="643.2" x2="37.12" y2="647.56" stroke="#c471c4" stroke-width="0.9"/>
<line x1="37.12" y1="643.2" x2="37.12" y2="647.93" stroke="#c471c4" stroke-width="0.9"/>
<line x1="115.88" y1="644.17" x2="115.88" y2="649.2" stroke="#c471c4" stroke-width="0.9"/>
<line x1="32.78" y1="644.08" x2="32.78" y2="649.56" stroke="#c471c4" stroke-width="0.9"/>
<line x1="115.88" y1="644.17" x2="115.88" y2="648.83" stroke="#c471c4" stroke-width="0.9"/>
<line x1="47.67" y1="641.9" x2="47.67" y2="646.81" stroke="#c471c4" stroke-width="0.9"/>
<line x1="43.94" y1="643.5" x2="43.94" y2="646.83" stroke="#c471c4" stroke-width="0.9"/>
<line x1="102.24" y1="643.35" x2="102.24" y2="647.62" stroke="#c471c4" stroke-width="0.9"/>
<line x1="91.69" y1="644.39" x2="91.69" y2="647.86" stroke="#c471c4" stroke-width="0.9"/>
<line x1="104.1" y1="643.2" x2="104.1" y2="648.44" stroke="#c471c4" stroke-width="0.9"/>
<path d="M21,651.98 L21.62,652.23 L22.24,652.55 L22.86,652.11 L23.48,652.51 L24.1,652.05 L24.72,651.2 L25.34,653.58 L25.96,653.47 L26.58,652.62 L27.2,652.71 L27.82,651.9 L28.44,651.75 L29.06,652.12 L29.68,652.36 L30.3,651.51 L30.92,652.01 L31.54,652.47 L32.16,652.69 L32.78,653.54 L33.4,652.7 L34.02,653.99 L34.64,654.08 L35.26,654.34 L35.88,653.93 L36.5,653.5 L37.12,652.43 L37.74,652.47 L38.36,653.15 L38.98,653.71 L39.6,653.47 L40.22,652.65 L40.84,652.54 L41.46,654.37 L42.08,653.38 L42.7,652.99 L43.32,652.58 L43.94,654.14 L44.56,654.25 L45.18,654.33 L45.81,654.82 L46.43,652.95 L47.05,654.3 L47.67,654.02 L48.29,653.32 L48.91,653.34 L49.53,653.1 L50.15,653.63 L50.77,652.77 L51.39,652.72 L52.01,653.72 L52.63,652.41 L53.25,652.5 L53.87,652.95 L54.49,652.57 L55.11,651.9 L55.73,652.43 L56.35,652.73 L56.97,652.25 L57.59,652.14 L58.21,652.41 L58.83,651.96 L59.45,653.41 L60.07,652.69 L60.69,653.92 L61.31,652.42 L61.93,653.1 L62.55,652.67 L63.17,654.6 L63.79,654.38 L64.41,654.82 L65.03,655.06 L65.65,653.92 L66.27,653.85 L66.89,654.81 L67.51,653.21 L68.13,654.28 L68.75,654.8 L69.37,654.4 L69.99,653.77 L70.61,653.64 L71.23,654.38 L71.85,654.29 L72.47,653.21 L73.09,654.81 L73.71,653.56 L74.33,654.85 L74.95,652.69 L75.57,654.31 L76.19,653.39 L76.81,653.85 L77.43,654.13 L78.05,653.58 L78.67,653.59 L79.29,653.1 L79.91,654.53 L80.53,653.32 L81.15,654.54 L81.77,653.88 L82.39,653.7 L83.01,652.77 L83.63,653.29 L84.25,652.96 L84.87,653.86 L85.49,652.88 L86.11,653.5 L86.73,653.54 L87.35,653.89 L87.97,653.95 L88.59,653.76 L89.21,652.21 L89.83,653.2 L90.45,653.59 L91.07,654.08 L91.69,654.3 L92.31,653.9 L92.93,653.36 L93.55,654.68 L94.17,654.02 L94.79,653.84 L95.42,654.2 L96.04,654.62 L96.66,655.11 L97.28,654.25 L97.9,654.44 L98.52,654.8 L99.14,654.49 L99.76,653.29 L100.38,654.85 L101,654.52 L101.62,654.98 L102.24,653.82 L102.86,654.2 L103.48,653.62 L104.1,653.69 L104.72,653.15 L105.34,652.91 L105.96,653.17 L106.58,654.06 L107.2,652.75 L107.82,653.61 L108.44,653.33 L109.06,652.95 L109.68,652.87 L110.3,653.34 L110.92,652.93 L111.54,653.45 L112.16,651.94 L112.78,652.57 L113.4,651.66 L114.02,651.86 L114.64,652.1 L115.26,652.01 L115.88,651.68 L116.5,653.17 L117.12,652.17 L117.74,653.87 L118.36,652.46 L118.98,652.26 L119.6,653.8 L119.6,658.98 L118.98,658.53 L118.36,658.08 L117.74,657.83 L117.12,658 L116.5,658.39 L115.88,658.49 L115.26,657.62 L114.64,657.74 L114.02,658.86 L113.4,657.56 L112.78,658.38 L112.16,658.86 L111.54,658.28 L110.92,658.27 L110.3,659.18 L109.68,658.37 L109.06,657.85 L108.44,659.24 L107.82,658.48 L107.2,658.64 L106.58,659.27 L105.96,657.75 L105.34,659.01 L104.72,659.24 L104.1,659.37 L103.48,659.73 L102.86,660.16 L102.24,659.28 L101.62,660.23 L101,661.61 L100.38,659.97 L99.76,659.83 L99.14,660.84 L98.52,660.55 L97.9,659.26 L97.28,659.71 L96.66,660.44 L96.04,660.01 L95.42,659.24 L94.79,660.23 L94.17,660.12 L93.55,660.73 L92.93,659.34 L92.31,658.42 L91.69,660.48 L91.07,659.36 L90.45,658.76 L89.83,658.66 L89.21,658.64 L88.59,659.04 L87.97,658.7 L87.35,658.7 L86.73,659.25 L86.11,659.09 L85.49,658.87 L84.87,659.06 L84.25,657.71 L83.63,658.42 L83.01,659.4 L82.39,659.18 L81.77,657.92 L81.15,659.38 L80.53,659.66 L79.91,659.75 L79.29,659.25 L78.67,659.11 L78.05,659.65 L77.43,659.36 L76.81,659.18 L76.19,660.3 L75.57,659.59 L74.95,660.4 L74.33,658.79 L73.71,660.7 L73.09,660.16 L72.47,660.16 L71.85,659.87 L71.23,660.41 L70.61,659.31 L69.99,659.75 L69.37,660.62 L68.75,660 L68.13,658.44 L67.51,659.84 L66.89,660.2 L66.27,659.02 L65.65,660.49 L65.03,660.41 L64.41,659.6 L63.79,659.76 L63.17,658.99 L62.55,658.64 L61.93,658.37 L61.31,659.38 L60.69,659.34 L60.07,659.05 L59.45,658.32 L58.83,658.87 L58.21,658.62 L57.59,658.01 L56.97,657.78 L56.35,659.14 L55.73,658.49 L55.11,658.52 L54.49,658.41 L53.87,659.34 L53.25,658.05 L52.63,659.38 L52.01,658.52 L51.39,658.33 L50.77,659.51 L50.15,658.77 L49.53,658.33 L48.91,659.02 L48.29,658.91 L47.67,659.03 L47.05,659.61 L46.43,659.95 L45.81,659.79 L45.18,659.17 L44.56,660.1 L43.94,659.09 L43.32,659.82 L42.7,659.68 L42.08,659.3 L41.46,659.71 L40.84,658.81 L40.22,658.79 L39.6,658.43 L38.98,659.16 L38.36,657.62 L37.74,659.87 L37.12,658.55 L36.5,658.86 L35.88,658.99 L35.26,659.81 L34.64,660.2 L34.02,658.89 L33.4,658.28 L32.78,658.42 L32.16,658.37 L31.54,658.3 L30.92,658.39 L30.3,657.69 L29.68,658.67 L29.06,657.51 L28.44,658.45 L27.82,657.97 L27.2,657.55 L26.58,658.07 L25.96,658.68 L25.34,658.79 L24.72,657.79 L24.1,657.82 L23.48,657.13 L22.86,658.92 L22.24,657.34 L21.62,657.13 L21,658.21Z" fill="#c471c4" stroke="#c471c4" stroke-width="0.5"/>
<line x1="110.92" y1="657.27" x2="110.92" y2="661.64" stroke="#c471c4" stroke-width="0.9"/>
<line x1="40.84" y1="657.81" x2="40.84" y2="662.76" stroke="#c471c4" stroke-width="0.9"/>
<line x1="106.58" y1="658.27" x2="106.58" y2="663" stroke="#c471c4" stroke-width="0.9"/>
<line x1="32.16" y1="657.37" x2="32.16" y2="661.77" stroke="#c471c4" stroke-width="0.9"/>
<line x1="86.73" y1="658.25" x2="86.73" y2="662.81" stroke="#c471c4" stroke-width="0.9"/>
<line x1="68.75" y1="659" x2="68.75" y2="664.15" stroke="#c471c4" stroke-width="0.9"/>
<line x1="106.58" y1="658.27" x2="106.58" y2="662.58" stroke="#c471c4" stroke-width="0.9"/>
<line x1="76.19" y1="659.3" x2="76.19" y2="662.94" stroke="#c471c4" stroke-width="0.9"/>
<line x1="75.57" y1="658.59" x2="75.57" y2="661.15" stroke="#c471c4" stroke-width="0.9"/>
<line x1="109.06" y1="656.85" x2="109.06" y2="661.05" stroke="#c471c4" stroke-width="0.9"/>
<line x1="87.97" y1="657.7" x2="87.97" y2="661.04" stroke="#c471c4" stroke-width="0.9"/>
<line x1="88.59" y1="658.04" x2="88.59" y2="662.83" stroke="#c471c4" stroke-width="0.9"/>
<path d="M114.4,608.4H124.4V603.6" fill="none" stroke="#2b2b2b" stroke-width="1.1"/>
<text x="131.6" y="608.9" font-size="9.2">20 pA</text>
<text x="101.6" y="619.5" font-size="9.2">200 ms</text>
<path d="M116.4,665.6H126.4V661.6" fill="none" stroke="#2b2b2b" stroke-width="1.1"/>
<text x="131.6" y="667.3" font-size="9.2">20 pA</text>
<text x="99.6" y="678.1" font-size="9.2">200 ms</text>
<text x="157.7" y="535.7" font-size="11.5" style="fill:#111;stroke:#111" font-weight="bold">n</text>
<line x1="203.3" y1="568.4" x2="203.3" y2="664.9" stroke="#2b2b2b" stroke-width="1.3" />
<line x1="197.8" y1="664.3" x2="203.3" y2="664.3" stroke="#2b2b2b" stroke-width="1" />
<text x="195.8" y="667.97" font-size="10.2" text-anchor="end">0</text>
<line x1="197.8" y1="640.7" x2="203.3" y2="640.7" stroke="#2b2b2b" stroke-width="1" />
<text x="195.8" y="644.37" font-size="10.2" text-anchor="end">5</text>
<line x1="197.8" y1="617.1" x2="203.3" y2="617.1" stroke="#2b2b2b" stroke-width="1" />
<text x="195.8" y="620.77" font-size="10.2" text-anchor="end">10</text>
<line x1="197.8" y1="593.5" x2="203.3" y2="593.5" stroke="#2b2b2b" stroke-width="1" />
<text x="195.8" y="597.17" font-size="10.2" text-anchor="end">15</text>
<line x1="197.8" y1="569.9" x2="203.3" y2="569.9" stroke="#2b2b2b" stroke-width="1" />
<text x="195.8" y="573.57" font-size="10.2" text-anchor="end">20</text>
<rect x="208.7" y="644.81" width="25" height="19.49" fill="#fff" stroke="none" stroke-width="0"/>
<rect x="236.8" y="645.28" width="24.9" height="19.02" fill="#fff" stroke="none" stroke-width="0"/>
<circle cx="221.2" cy="592.08" r="1.95" fill="none" stroke="#bdbdbd" stroke-width="0.8"/>
<circle cx="219.09" cy="622.76" r="1.95" fill="none" stroke="#bdbdbd" stroke-width="0.8"/>
<circle cx="223.31" cy="629.37" r="1.95" fill="none" stroke="#bdbdbd" stroke-width="0.8"/>
<circle cx="216.99" cy="638.34" r="1.95" fill="none" stroke="#bdbdbd" stroke-width="0.8"/>
<circle cx="221.2" cy="640.7" r="1.95" fill="none" stroke="#bdbdbd" stroke-width="0.8"/>
<circle cx="225.41" cy="644.48" r="1.95" fill="none" stroke="#bdbdbd" stroke-width="0.8"/>
<circle cx="212.78" cy="646.36" r="1.95" fill="none" stroke="#bdbdbd" stroke-width="0.8"/>
<circle cx="216.99" cy="647.78" r="1.95" fill="none" stroke="#bdbdbd" stroke-width="0.8"/>
<circle cx="221.2" cy="649.2" r="1.95" fill="none" stroke="#bdbdbd" stroke-width="0.8"/>
<circle cx="225.41" cy="651.08" r="1.95" fill="none" stroke="#bdbdbd" stroke-width="0.8"/>
<circle cx="229.62" cy="652.5" r="1.95" fill="none" stroke="#bdbdbd" stroke-width="0.8"/>
<circle cx="216.99" cy="654.86" r="1.95" fill="none" stroke="#bdbdbd" stroke-width="0.8"/>
<circle cx="221.2" cy="657.22" r="1.95" fill="none" stroke="#bdbdbd" stroke-width="0.8"/>
<circle cx="225.41" cy="659.58" r="1.95" fill="none" stroke="#bdbdbd" stroke-width="0.8"/>
<circle cx="221.2" cy="661.94" r="1.95" fill="none" stroke="#bdbdbd" stroke-width="0.8"/>
<circle cx="251.36" cy="602" r="1.95" fill="none" stroke="#dcb0de" stroke-width="0.8"/>
<circle cx="247.14" cy="614.74" r="1.95" fill="none" stroke="#dcb0de" stroke-width="0.8"/>
<circle cx="245.04" cy="633.62" r="1.95" fill="none" stroke="#dcb0de" stroke-width="0.8"/>
<circle cx="249.25" cy="636.92" r="1.95" fill="none" stroke="#dcb0de" stroke-width="0.8"/>
<circle cx="253.46" cy="639.76" r="1.95" fill="none" stroke="#dcb0de" stroke-width="0.8"/>
<circle cx="240.83" cy="641.64" r="1.95" fill="none" stroke="#dcb0de" stroke-width="0.8"/>
<circle cx="245.04" cy="643.06" r="1.95" fill="none" stroke="#dcb0de" stroke-width="0.8"/>
<circle cx="249.25" cy="644.48" r="1.95" fill="none" stroke="#dcb0de" stroke-width="0.8"/>
<circle cx="253.46" cy="646.36" r="1.95" fill="none" stroke="#dcb0de" stroke-width="0.8"/>
<circle cx="257.67" cy="647.78" r="1.95" fill="none" stroke="#dcb0de" stroke-width="0.8"/>
<circle cx="242.93" cy="650.14" r="1.95" fill="none" stroke="#dcb0de" stroke-width="0.8"/>
<circle cx="247.14" cy="652.03" r="1.95" fill="none" stroke="#dcb0de" stroke-width="0.8"/>
<circle cx="251.36" cy="653.92" r="1.95" fill="none" stroke="#dcb0de" stroke-width="0.8"/>
<circle cx="255.57" cy="655.8" r="1.95" fill="none" stroke="#dcb0de" stroke-width="0.8"/>
<circle cx="245.04" cy="657.69" r="1.95" fill="none" stroke="#dcb0de" stroke-width="0.8"/>
<circle cx="249.25" cy="659.58" r="1.95" fill="none" stroke="#dcb0de" stroke-width="0.8"/>
<circle cx="253.46" cy="661.47" r="1.95" fill="none" stroke="#dcb0de" stroke-width="0.8"/>
<path d="M208.7,664.3V644.81H233.7V664.3" fill="none" stroke="#1c1c1c" stroke-width="1.5"/>
<line x1="221.2" y1="649.29" x2="221.2" y2="640.09" stroke="#2b2b2b" stroke-width="1.2" />
<line x1="214.7" y1="640.09" x2="227.7" y2="640.09" stroke="#2b2b2b" stroke-width="1.2" />
<line x1="214.7" y1="649.29" x2="227.7" y2="649.29" stroke="#2b2b2b" stroke-width="1.2" />
<line x1="221.2" y1="664.3" x2="221.2" y2="667.9" stroke="#2b2b2b" stroke-width="1" />
<path d="M236.8,664.3V645.28H261.7V664.3" fill="none" stroke="#1c1c1c" stroke-width="1.5"/>
<line x1="249.25" y1="649.29" x2="249.25" y2="641.22" stroke="#2b2b2b" stroke-width="1.2" />
<line x1="242.75" y1="641.22" x2="255.75" y2="641.22" stroke="#2b2b2b" stroke-width="1.2" />
<line x1="242.75" y1="649.29" x2="255.75" y2="649.29" stroke="#2b2b2b" stroke-width="1.2" />
<line x1="249.25" y1="664.3" x2="249.25" y2="667.9" stroke="#2b2b2b" stroke-width="1" />
<line x1="197.8" y1="664.3" x2="267" y2="664.3" stroke="#2b2b2b" stroke-width="1.3" />
<line x1="213.3" y1="568.8" x2="253.5" y2="568.8" stroke="#2b2b2b" stroke-width="1.1" />
<text x="233.4" y="565.1" font-size="8.8" text-anchor="middle">P=0.9703</text>
<text x="205.5" y="680.08" font-size="9.4" style="fill:#929292;stroke:#929292">n</text>
<text x="223.5" y="680.08" font-size="9.4" text-anchor="middle" style="fill:#929292;stroke:#929292">15</text>
<text x="250.1" y="680.08" font-size="9.4" text-anchor="middle" style="fill:#929292;stroke:#929292">17</text>
<text x="242.5" y="692.95" font-size="10.4" text-anchor="middle">WT N1013S</text>
<text x="176.57" y="615.7" font-size="10.2" text-anchor="middle" transform="rotate(-90 176.57 615.7)">mEPSC&#160; Frequency (Hz)</text>
<text x="292.9" y="535.5" font-size="11.5" style="fill:#111;stroke:#111" font-weight="bold">o</text>
<line x1="326.5" y1="570.9" x2="326.5" y2="665.4" stroke="#2b2b2b" stroke-width="1.3" />
<line x1="321" y1="664.8" x2="326.5" y2="664.8" stroke="#2b2b2b" stroke-width="1" />
<text x="319" y="668.47" font-size="10.2" text-anchor="end">0</text>
<line x1="321" y1="641.6" x2="326.5" y2="641.6" stroke="#2b2b2b" stroke-width="1" />
<text x="319" y="645.27" font-size="10.2" text-anchor="end">10</text>
<line x1="321" y1="618.4" x2="326.5" y2="618.4" stroke="#2b2b2b" stroke-width="1" />
<text x="319" y="622.07" font-size="10.2" text-anchor="end">20</text>
<line x1="321" y1="595.2" x2="326.5" y2="595.2" stroke="#2b2b2b" stroke-width="1" />
<text x="319" y="598.87" font-size="10.2" text-anchor="end">30</text>
<line x1="321" y1="572" x2="326.5" y2="572" stroke="#2b2b2b" stroke-width="1" />
<text x="319" y="575.67" font-size="10.2" text-anchor="end">40</text>
<rect x="331.3" y="626.06" width="24.5" height="38.74" fill="#fff" stroke="none" stroke-width="0"/>
<rect x="359.3" y="628.61" width="24.3" height="36.19" fill="#fff" stroke="none" stroke-width="0"/>
<circle cx="341.44" cy="610.28" r="1.95" fill="none" stroke="#bdbdbd" stroke-width="0.8"/>
<circle cx="345.66" cy="614.92" r="1.95" fill="none" stroke="#bdbdbd" stroke-width="0.8"/>
<circle cx="337.23" cy="618.4" r="1.95" fill="none" stroke="#bdbdbd" stroke-width="0.8"/>
<circle cx="341.44" cy="619.56" r="1.95" fill="none" stroke="#bdbdbd" stroke-width="0.8"/>
<circle cx="345.66" cy="623.04" r="1.95" fill="none" stroke="#bdbdbd" stroke-width="0.8"/>
<circle cx="349.87" cy="624.2" r="1.95" fill="none" stroke="#bdbdbd" stroke-width="0.8"/>
<circle cx="335.13" cy="625.36" r="1.95" fill="none" stroke="#bdbdbd" stroke-width="0.8"/>
<circle cx="339.34" cy="626.52" r="1.95" fill="none" stroke="#bdbdbd" stroke-width="0.8"/>
<circle cx="343.55" cy="627.68" r="1.95" fill="none" stroke="#bdbdbd" stroke-width="0.8"/>
<circle cx="347.76" cy="630" r="1.95" fill="none" stroke="#bdbdbd" stroke-width="0.8"/>
<circle cx="351.97" cy="631.16" r="1.95" fill="none" stroke="#bdbdbd" stroke-width="0.8"/>
<circle cx="337.23" cy="633.48" r="1.95" fill="none" stroke="#bdbdbd" stroke-width="0.8"/>
<circle cx="341.44" cy="634.64" r="1.95" fill="none" stroke="#bdbdbd" stroke-width="0.8"/>
<circle cx="345.66" cy="635.8" r="1.95" fill="none" stroke="#bdbdbd" stroke-width="0.8"/>
<circle cx="349.87" cy="638.12" r="1.95" fill="none" stroke="#bdbdbd" stroke-width="0.8"/>
<circle cx="369.34" cy="596.36" r="1.95" fill="none" stroke="#dcb0de" stroke-width="0.8"/>
<circle cx="369.34" cy="611.44" r="1.95" fill="none" stroke="#dcb0de" stroke-width="0.8"/>
<circle cx="373.56" cy="613.76" r="1.95" fill="none" stroke="#dcb0de" stroke-width="0.8"/>
<circle cx="365.13" cy="623.04" r="1.95" fill="none" stroke="#dcb0de" stroke-width="0.8"/>
<circle cx="369.34" cy="625.36" r="1.95" fill="none" stroke="#dcb0de" stroke-width="0.8"/>
<circle cx="373.56" cy="627.68" r="1.95" fill="none" stroke="#dcb0de" stroke-width="0.8"/>
<circle cx="377.77" cy="628.84" r="1.95" fill="none" stroke="#dcb0de" stroke-width="0.8"/>
<circle cx="360.92" cy="630" r="1.95" fill="none" stroke="#dcb0de" stroke-width="0.8"/>
<circle cx="365.13" cy="631.16" r="1.95" fill="none" stroke="#dcb0de" stroke-width="0.8"/>
<circle cx="369.34" cy="632.32" r="1.95" fill="none" stroke="#dcb0de" stroke-width="0.8"/>
<circle cx="373.56" cy="633.48" r="1.95" fill="none" stroke="#dcb0de" stroke-width="0.8"/>
<circle cx="377.77" cy="634.64" r="1.95" fill="none" stroke="#dcb0de" stroke-width="0.8"/>
<circle cx="381.98" cy="635.8" r="1.95" fill="none" stroke="#dcb0de" stroke-width="0.8"/>
<circle cx="365.13" cy="636.96" r="1.95" fill="none" stroke="#dcb0de" stroke-width="0.8"/>
<circle cx="369.34" cy="639.28" r="1.95" fill="none" stroke="#dcb0de" stroke-width="0.8"/>
<circle cx="373.56" cy="641.6" r="1.95" fill="none" stroke="#dcb0de" stroke-width="0.8"/>
<circle cx="377.77" cy="642.76" r="1.95" fill="none" stroke="#dcb0de" stroke-width="0.8"/>
<path d="M331.3,664.8V626.06H355.8V664.8" fill="none" stroke="#1c1c1c" stroke-width="1.5"/>
<line x1="343.55" y1="628.14" x2="343.55" y2="623.97" stroke="#2b2b2b" stroke-width="1.2" />
<line x1="337.05" y1="623.97" x2="350.05" y2="623.97" stroke="#2b2b2b" stroke-width="1.2" />
<line x1="337.05" y1="628.14" x2="350.05" y2="628.14" stroke="#2b2b2b" stroke-width="1.2" />
<line x1="343.55" y1="664.8" x2="343.55" y2="668.4" stroke="#2b2b2b" stroke-width="1" />
<path d="M359.3,664.8V628.61H383.6V664.8" fill="none" stroke="#1c1c1c" stroke-width="1.5"/>
<line x1="371.45" y1="631.39" x2="371.45" y2="625.82" stroke="#2b2b2b" stroke-width="1.2" />
<line x1="364.95" y1="625.82" x2="377.95" y2="625.82" stroke="#2b2b2b" stroke-width="1.2" />
<line x1="364.95" y1="631.39" x2="377.95" y2="631.39" stroke="#2b2b2b" stroke-width="1.2" />
<line x1="371.45" y1="664.8" x2="371.45" y2="668.4" stroke="#2b2b2b" stroke-width="1" />
<line x1="321" y1="664.8" x2="388.1" y2="664.8" stroke="#2b2b2b" stroke-width="1.3" />
<line x1="336.4" y1="568.9" x2="376.9" y2="568.9" stroke="#2b2b2b" stroke-width="1.1" />
<text x="356.65" y="565.2" font-size="8.8" text-anchor="middle">P=0.216</text>
<text x="327.6" y="680.58" font-size="9.4" style="fill:#929292;stroke:#929292">n</text>
<text x="344" y="680.58" font-size="9.4" text-anchor="middle" style="fill:#929292;stroke:#929292">15</text>
<text x="370.6" y="680.58" font-size="9.4" text-anchor="middle" style="fill:#929292;stroke:#929292">17</text>
<text x="363" y="693.55" font-size="10.4" text-anchor="middle">WT N1013S</text>
<text x="299.67" y="615.9" font-size="10.2" text-anchor="middle" transform="rotate(-90 299.67 615.9)">mEPSC amplitude (pA)</text>
<text x="424.5" y="535.8" font-size="11.5" style="fill:#111;stroke:#111" font-weight="bold">p</text>
<polyline points="439.9,565.3 447.6,565.3" fill="none" stroke="#666" stroke-width="0.9" stroke-linejoin="round" stroke-dasharray="1.6 0.7"/>
<polyline points="450.4,565.3 450.56,569.61 450.73,575.92 450.89,583.29 451.05,591.45 451.22,600.25 451.38,609.59 451.55,619.42 451.71,629.68 451.87,640.33 452.04,651.35 452.2,662.7 452.2,662.7 452.86,644.98 453.52,631.34 454.17,620.77 454.83,612.49 455.49,605.95 456.15,600.72 456.81,596.48 457.47,593.02 458.12,590.14 458.78,587.72 459.44,585.66 460.1,583.88 460.76,582.32 461.42,580.96 462.07,579.74 462.73,578.64 463.39,577.66 464.05,576.76 464.71,575.94 465.36,575.19 466.02,574.5 466.68,573.87 467.34,573.28 468,572.73 468.66,572.22 469.31,571.76 469.97,571.32 470.63,570.91 471.29,570.53 471.95,570.18 472.61,569.85 473.26,569.55 473.92,569.26 474.58,569 475.24,568.75 475.9,568.52 476.55,568.3 477.21,568.1 477.87,567.91 478.53,567.74 479.19,567.57 479.85,567.42 480.5,567.28 481.16,567.15 481.82,567.02 482.48,566.91 483.14,566.8 483.79,566.7 484.45,566.61 485.11,566.52 485.77,566.44 486.43,566.36 487.09,566.29 487.74,566.22 488.4,566.16 489.06,566.1 489.72,566.05 490.38,566 491.04,565.95 491.69,565.91 492.35,565.87 493.01,565.83 493.67,565.8 494.33,565.76 494.98,565.73 495.64,565.7 496.3,565.68 496.96,565.65 497.62,565.63 498.28,565.6 498.93,565.58 499.59,565.57 500.25,565.55 500.91,565.53 501.57,565.52 502.23,565.5 502.88,565.49 503.54,565.48 504.2,565.46" fill="none" stroke="#1a1a1a" stroke-width="0.9" stroke-linejoin="round" />
<polyline points="481,578.3 489,578.3" fill="none" stroke="#c471c4" stroke-width="1.3" stroke-linejoin="round" />
<polyline points="490.7,578.3 490.89,581.86 491.08,587.05 491.27,593.13 491.46,599.86 491.65,607.11 491.85,614.82 492.04,622.92 492.23,631.38 492.42,640.16 492.61,649.24 492.8,658.6 492.8,658.6 493.49,643.75 494.17,632.22 494.86,623.22 495.55,616.17 496.24,610.61 496.92,606.18 497.61,602.64 498.3,599.77 498.99,597.42 499.67,595.48 500.36,593.86 501.05,592.49 501.74,591.32 502.42,590.3 503.11,589.41 503.8,588.63 504.48,587.92 505.17,587.29 505.86,586.72 506.55,586.19 507.23,585.71 507.92,585.27 508.61,584.85 509.3,584.47 509.98,584.11 510.67,583.78 511.36,583.46 512.05,583.17 512.73,582.89 513.42,582.64 514.11,582.39 514.79,582.16 515.48,581.95 516.17,581.74 516.86,581.55 517.54,581.37 518.23,581.2 518.92,581.03 519.61,580.88 520.29,580.74 520.98,580.6 521.67,580.47 522.36,580.35 523.04,580.24 523.73,580.13 524.42,580.03 525.11,579.93 525.79,579.84 526.48,579.76 527.17,579.67 527.85,579.6 528.54,579.53 529.23,579.46 529.92,579.39 530.6,579.33 531.29,579.27 531.98,579.22 532.67,579.17 533.35,579.12 534.04,579.07 534.73,579.03 535.42,578.99 536.1,578.95 536.79,578.92 537.48,578.88 538.16,578.85 538.85,578.82 539.54,578.79 540.23,578.76 540.91,578.74 541.6,578.71 542.29,578.69 542.98,578.67 543.66,578.65 544.35,578.63 545.04,578.61 545.73,578.59 546.41,578.58 547.1,578.56" fill="none" stroke="#c471c4" stroke-width="1.3" stroke-linejoin="round" />
<text x="471.2" y="556" font-size="10.6">UNC13A<tspan font-size="6.2" dy="-4.2">WT</tspan></text>
<text x="507.5" y="575" font-size="10.6">UNC13A<tspan font-size="6.2" dy="-4.2">N1013S</tspan></text>
<path d="M522.6,655.3H531.3V632.6" fill="none" stroke="#2b2b2b" stroke-width="1.1"/>
<text x="536.5" y="648.6" font-size="8.5">1 nA</text>
<text x="509.8" y="668.3" font-size="8.5">10 ms</text>
<text x="573.2" y="535.5" font-size="11.5" style="fill:#111;stroke:#111" font-weight="bold">q</text>
<line x1="617.6" y1="570.3" x2="617.6" y2="666.5" stroke="#2b2b2b" stroke-width="1.3" />
<line x1="612.1" y1="665.9" x2="617.6" y2="665.9" stroke="#2b2b2b" stroke-width="1" />
<text x="610.1" y="669.57" font-size="10.2" text-anchor="end">0</text>
<line x1="612.1" y1="642.1" x2="617.6" y2="642.1" stroke="#2b2b2b" stroke-width="1" />
<text x="610.1" y="645.77" font-size="10.2" text-anchor="end">50</text>
<line x1="612.1" y1="618.3" x2="617.6" y2="618.3" stroke="#2b2b2b" stroke-width="1" />
<text x="610.1" y="621.97" font-size="10.2" text-anchor="end">100</text>
<line x1="612.1" y1="594.5" x2="617.6" y2="594.5" stroke="#2b2b2b" stroke-width="1" />
<text x="610.1" y="598.17" font-size="10.2" text-anchor="end">150</text>
<line x1="612.1" y1="570.7" x2="617.6" y2="570.7" stroke="#2b2b2b" stroke-width="1" />
<text x="610.1" y="574.37" font-size="10.2" text-anchor="end">200</text>
<rect x="622.7" y="648" width="24.9" height="17.9" fill="#fff" stroke="none" stroke-width="0"/>
<rect x="651.3" y="653.1" width="24.5" height="12.8" fill="#fff" stroke="none" stroke-width="0"/>
<circle cx="637.26" cy="593.07" r="1.95" fill="none" stroke="#bdbdbd" stroke-width="0.8"/>
<circle cx="635.15" cy="622.11" r="1.95" fill="none" stroke="#bdbdbd" stroke-width="0.8"/>
<circle cx="630.94" cy="631.15" r="1.95" fill="none" stroke="#bdbdbd" stroke-width="0.8"/>
<circle cx="635.15" cy="636.39" r="1.95" fill="none" stroke="#bdbdbd" stroke-width="0.8"/>
<circle cx="639.36" cy="637.34" r="1.95" fill="none" stroke="#bdbdbd" stroke-width="0.8"/>
<circle cx="630.94" cy="644.48" r="1.95" fill="none" stroke="#bdbdbd" stroke-width="0.8"/>
<circle cx="635.15" cy="647.81" r="1.95" fill="none" stroke="#bdbdbd" stroke-width="0.8"/>
<circle cx="639.36" cy="649.24" r="1.95" fill="none" stroke="#bdbdbd" stroke-width="0.8"/>
<circle cx="624.62" cy="651.62" r="1.95" fill="none" stroke="#bdbdbd" stroke-width="0.8"/>
<circle cx="628.83" cy="652.57" r="1.95" fill="none" stroke="#bdbdbd" stroke-width="0.8"/>
<circle cx="633.04" cy="654" r="1.95" fill="none" stroke="#bdbdbd" stroke-width="0.8"/>
<circle cx="637.26" cy="655.43" r="1.95" fill="none" stroke="#bdbdbd" stroke-width="0.8"/>
<circle cx="641.47" cy="656.38" r="1.95" fill="none" stroke="#bdbdbd" stroke-width="0.8"/>
<circle cx="645.68" cy="657.33" r="1.95" fill="none" stroke="#bdbdbd" stroke-width="0.8"/>
<circle cx="626.73" cy="658.76" r="1.95" fill="none" stroke="#bdbdbd" stroke-width="0.8"/>
<circle cx="630.94" cy="660.19" r="1.95" fill="none" stroke="#bdbdbd" stroke-width="0.8"/>
<circle cx="635.15" cy="661.14" r="1.95" fill="none" stroke="#bdbdbd" stroke-width="0.8"/>
<circle cx="639.36" cy="662.09" r="1.95" fill="none" stroke="#bdbdbd" stroke-width="0.8"/>
<circle cx="643.57" cy="663.52" r="1.95" fill="none" stroke="#bdbdbd" stroke-width="0.8"/>
<circle cx="657.23" cy="638.29" r="1.95" fill="none" stroke="#dcb0de" stroke-width="0.8"/>
<circle cx="661.44" cy="641.15" r="1.95" fill="none" stroke="#dcb0de" stroke-width="0.8"/>
<circle cx="665.66" cy="643.05" r="1.95" fill="none" stroke="#dcb0de" stroke-width="0.8"/>
<circle cx="669.87" cy="644.48" r="1.95" fill="none" stroke="#dcb0de" stroke-width="0.8"/>
<circle cx="653.02" cy="645.91" r="1.95" fill="none" stroke="#dcb0de" stroke-width="0.8"/>
<circle cx="657.23" cy="647.81" r="1.95" fill="none" stroke="#dcb0de" stroke-width="0.8"/>
<circle cx="661.44" cy="649.24" r="1.95" fill="none" stroke="#dcb0de" stroke-width="0.8"/>
<circle cx="665.66" cy="650.67" r="1.95" fill="none" stroke="#dcb0de" stroke-width="0.8"/>
<circle cx="669.87" cy="651.62" r="1.95" fill="none" stroke="#dcb0de" stroke-width="0.8"/>
<circle cx="674.08" cy="652.57" r="1.95" fill="none" stroke="#dcb0de" stroke-width="0.8"/>
<circle cx="653.02" cy="653.52" r="1.95" fill="none" stroke="#dcb0de" stroke-width="0.8"/>
<circle cx="657.23" cy="654.48" r="1.95" fill="none" stroke="#dcb0de" stroke-width="0.8"/>
<circle cx="661.44" cy="655.43" r="1.95" fill="none" stroke="#dcb0de" stroke-width="0.8"/>
<circle cx="665.66" cy="656.38" r="1.95" fill="none" stroke="#dcb0de" stroke-width="0.8"/>
<circle cx="669.87" cy="657.33" r="1.95" fill="none" stroke="#dcb0de" stroke-width="0.8"/>
<circle cx="674.08" cy="658.28" r="1.95" fill="none" stroke="#dcb0de" stroke-width="0.8"/>
<circle cx="655.13" cy="659.24" r="1.95" fill="none" stroke="#dcb0de" stroke-width="0.8"/>
<circle cx="659.34" cy="660.19" r="1.95" fill="none" stroke="#dcb0de" stroke-width="0.8"/>
<circle cx="663.55" cy="661.14" r="1.95" fill="none" stroke="#dcb0de" stroke-width="0.8"/>
<circle cx="667.76" cy="662.09" r="1.95" fill="none" stroke="#dcb0de" stroke-width="0.8"/>
<circle cx="671.97" cy="663.52" r="1.95" fill="none" stroke="#dcb0de" stroke-width="0.8"/>
<path d="M622.7,665.9V648H647.6V665.9" fill="none" stroke="#1c1c1c" stroke-width="1.5"/>
<line x1="635.15" y1="652" x2="635.15" y2="643.91" stroke="#2b2b2b" stroke-width="1.2" />
<line x1="628.65" y1="643.91" x2="641.65" y2="643.91" stroke="#2b2b2b" stroke-width="1.2" />
<line x1="628.65" y1="652" x2="641.65" y2="652" stroke="#2b2b2b" stroke-width="1.2" />
<line x1="635.15" y1="665.9" x2="635.15" y2="669.5" stroke="#2b2b2b" stroke-width="1" />
<path d="M651.3,665.9V653.1H675.8V665.9" fill="none" stroke="#1c1c1c" stroke-width="1.5"/>
<line x1="663.55" y1="654.52" x2="663.55" y2="651.67" stroke="#2b2b2b" stroke-width="1.2" />
<line x1="657.05" y1="651.67" x2="670.05" y2="651.67" stroke="#2b2b2b" stroke-width="1.2" />
<line x1="657.05" y1="654.52" x2="670.05" y2="654.52" stroke="#2b2b2b" stroke-width="1.2" />
<line x1="663.55" y1="665.9" x2="663.55" y2="669.5" stroke="#2b2b2b" stroke-width="1" />
<line x1="612.1" y1="665.9" x2="680.9" y2="665.9" stroke="#2b2b2b" stroke-width="1.3" />
<line x1="632.5" y1="569.3" x2="672.7" y2="569.3" stroke="#2b2b2b" stroke-width="1.1" />
<text x="652.6" y="565.6" font-size="8.8" text-anchor="middle">P=0.649</text>
<text x="620.2" y="680.58" font-size="9.4" style="fill:#929292;stroke:#929292">n</text>
<text x="636" y="680.58" font-size="9.4" text-anchor="middle" style="fill:#929292;stroke:#929292">19</text>
<text x="663.1" y="680.58" font-size="9.4" text-anchor="middle" style="fill:#929292;stroke:#929292">21</text>
<text x="655.9" y="693.15" font-size="10.4" text-anchor="middle">WT N1013S</text>
<text x="587.47" y="615.6" font-size="10.2" text-anchor="middle" transform="rotate(-90 587.47 615.6)">EPSC Charge (pC)</text>
<text x="1.2" y="718.7" font-size="11.5" style="fill:#111;stroke:#111" font-weight="bold">r</text>
<polyline points="22.2,777.97 22.32,778.44 22.43,778.2 22.55,778.77 22.66,778.31 22.78,778.56 22.89,777.64 23.01,777.51 23.12,778.18 23.24,777.58 23.35,778.13 23.47,778.75 23.58,778.76 23.7,778.16 23.81,777.88 23.93,778.33 24.04,777.01 24.16,777.89 24.28,779.03 24.39,778.57 24.51,778.27 24.62,777.45 24.74,777.8 24.85,777.97 24.97,778.26 25.08,778.47 25.2,778.15 25.31,778.67 25.43,777.87 25.54,777.14 25.66,778.98 25.77,777.02 25.89,777.75 26.01,778.75 26.12,777.87 26.24,777.77 26.35,778.01 26.47,779.13 26.58,778.45 26.7,777.63 26.81,777.73 26.93,777.71 27.04,777.09 27.16,778.1 27.27,777.77 27.39,778.07 27.5,777.99 27.62,777.72 27.73,778.63 27.85,779.19 27.97,777.98 28.08,779.11 28.2,777.32 28.31,778.16 28.43,779.06 28.54,779.83 28.66,779.86 28.77,782.61 28.89,783 29,784 29.12,782.7 29.23,784.86 29.35,785.76 29.46,788.02 29.58,789.11 29.69,789.86 29.81,789.59 29.93,792.82 30.04,792.47 30.16,794.74 30.27,795.23 30.39,796.58 30.5,797.74 30.62,798.43 30.73,798.65 30.85,800.72 30.96,801.69 31.08,803.35 31.19,802.9 31.31,805 31.42,805.69 31.54,808.53 31.66,808.23 31.77,808.4 31.89,810.47 32,812.5 32.12,813.5 32.23,813.82 32.35,814.8 32.46,815.63 32.58,818.01 32.69,819.21 32.81,820.52 32.92,819.33 33.04,822.24 33.15,823.6 33.27,825.99 33.38,826.13 33.5,826.97 33.62,828.5 33.73,829.71 33.85,831.91 33.96,831.26 34.08,830.94 34.19,833.43 34.31,835.9 34.42,836.27 34.54,834.54 34.65,834.01 34.77,833.15 34.88,830.71 35,830.02 35.11,826 35.23,827.07 35.35,824.17 35.46,822.85 35.58,824.47 35.69,818.89 35.81,820.53 35.92,822.92 36.04,819.06 36.15,818.09 36.27,818.65 36.38,817.61 36.5,813.67 36.61,813.48 36.73,812.23 36.84,813.23 36.96,812.85 37.07,810.44 37.19,809.82 37.31,808.46 37.42,807.9 37.54,808.61 37.65,807.04 37.77,809.46 37.88,807.38 38,807.45 38.11,808.08 38.23,803.23 38.34,806.59 38.46,805.18 38.57,802.97 38.69,802.43 38.8,803.8 38.92,801.85 39.03,801.77 39.15,798.34 39.27,798.44 39.38,801.01 39.5,795.69 39.61,796.18 39.73,796.69 39.84,796.18 39.96,792.92 40.07,795.7 40.19,795.6 40.3,796.08 40.42,793.91 40.53,794.28 40.65,793.86 40.76,795.52 40.88,792.56 41,791.86 41.11,791.43 41.23,792.54 41.34,793.04 41.46,790.33 41.57,794.72 41.69,791.25 41.8,791.95 41.92,791.93 42.03,789.47 42.15,790.48 42.26,789.98 42.38,788.92 42.49,789.72 42.61,787.67 42.72,787.53 42.84,788.67 42.96,788.37 43.07,789.64 43.19,786.27 43.3,785.53 43.42,787.39 43.53,787.67 43.65,787.18 43.76,787.1 43.88,788.68 43.99,786.98 44.11,784.88 44.22,786.84 44.34,786.78 44.45,786.18 44.57,788.85 44.68,787.98 44.8,785.48 44.92,784.65 45.03,784.81 45.15,784.37 45.26,782.99 45.38,785.59 45.49,783.45 45.61,785.33 45.72,783.66 45.84,783.86 45.95,782.66 46.07,783.16 46.18,784.84 46.3,783.88 46.41,785.01 46.53,787.81 46.65,782.27 46.76,784.9 46.88,785.48 46.99,781.76 47.11,783.82 47.22,783.44 47.34,783.97 47.45,785.77 47.57,784.03 47.68,782.7 47.8,782.7 47.91,782.08 48.03,783.53 48.14,784.92 48.26,782.62 48.37,784.09 48.49,780.76 48.61,782.4 48.72,782.02 48.84,782.65 48.95,782.31 49.07,782.71 49.18,780.21 49.3,782.72 49.41,782.2 49.53,783.64 49.64,781.12 49.76,783.07 49.87,783.62 49.99,782.48 50.1,781.98 50.22,782.48 50.34,782.12 50.45,783.5 50.57,783.15 50.68,781.82 50.8,779.63 50.91,780.51 51.03,782.12 51.14,781.64 51.26,780.82 51.37,777.71 51.49,780.09 51.6,784.04 51.72,780.18 51.83,782.37 51.95,780.12 52.06,779.02 52.18,780.05 52.3,782.25 52.41,781.29 52.53,781.48 52.64,780.38 52.76,781.28 52.87,781.4 52.99,780.98 53.1,780.23 53.22,778.86 53.33,781.98 53.45,781.33 53.56,780.7 53.68,778.9 53.79,782.61 53.91,779.25 54.02,781.59 54.14,781.16 54.26,778.87 54.37,780.7 54.49,783.35 54.6,780.5 54.72,779.06 54.83,780.13 54.95,780.37 55.06,781.3 55.18,781.42 55.29,779.79 55.41,779.5 55.52,781.29 55.64,782.34 55.75,778.65 55.87,780.44 55.99,781.7 56.1,778.56 56.22,780.23 56.33,781.97 56.45,781.01 56.56,779.43 56.68,781.63 56.79,782.7 56.91,781.41 57.02,781.77 57.14,780.82 57.25,780.38 57.37,778.13 57.48,780.81 57.6,781.94 57.71,778.39 57.83,778.94 57.95,779.25 58.06,780.31 58.18,779.59 58.29,780.78 58.41,780.09 58.52,778.86 58.64,781.21 58.75,780.01 58.87,780.8 58.98,776.59 59.1,779.56 59.21,778.7 59.33,779.72 59.44,781.81 59.56,780.44 59.67,780.29 59.79,779.17 59.91,780.5 60.02,781.94 60.14,781.75 60.25,778.49 60.37,780.52 60.48,780.91 60.6,781.58 60.71,779.2 60.83,778.41 60.94,780.5 61.06,779.71 61.17,779.92 61.29,778.09 61.4,779.78 61.52,780.48 61.64,780.67 61.75,777.92 61.87,779.04 61.98,780.48 62.1,779.62 62.21,779.65 62.33,780.91 62.44,778.25 62.56,779.28 62.67,781.23 62.79,778.86 62.9,778.97 63.02,780.62 63.13,778.2 63.25,779.07 63.36,780.26 63.48,779.79 63.6,779.33 63.71,779.48 63.83,779.15 63.94,781.31 64.06,778.79 64.17,779.27 64.29,780.95 64.4,779.36 64.52,780.3 64.63,778.05 64.75,778.39 64.86,782.48 64.98,780.6 65.09,778.91 65.21,779.03 65.33,780.01 65.44,780.78 65.56,777.24 65.67,779.07 65.79,780.54 65.9,778.83 66.02,782.11 66.13,780.57 66.25,778.91 66.36,780.26 66.48,780.42 66.59,780.56 66.71,778.85 66.82,779.35 66.94,778.27 67.05,779.11 67.17,778.26 67.29,778.26 67.4,781.84 67.52,780.78 67.63,779.4 67.75,778.54 67.86,778.3 67.98,779.24 68.09,779.97 68.21,780.3 68.32,780.42 68.44,780.12 68.55,779.77 68.67,780.57 68.78,780.15 68.9,780.04 69.01,778.28 69.13,779.57 69.25,779.76 69.36,779.45 69.48,780.2 69.59,780.08 69.71,779.72 69.82,778.3 69.94,779.96 70.05,777.78 70.17,779.04 70.28,780.63 70.4,779.76 70.51,780.19 70.63,778.99 70.74,781.06 70.86,780.16 70.98,778.2 71.09,780.69 71.21,780.24 71.32,778.18 71.44,779.47 71.55,778.03 71.67,778.43 71.78,777.73 71.9,778.79 72.01,780.11 72.13,779.18 72.24,780.47 72.36,779.4 72.47,779.69 72.59,779.19 72.7,778.43 72.82,777.97 72.94,777.99 73.05,778.82 73.17,779.37 73.28,778.78 73.4,779.87 73.51,779.25 73.63,779.17 73.74,779.28 73.86,779.83 73.97,780.15 74.09,779.6 74.2,779.82 74.32,780.84 74.43,777.3 74.55,779.73 74.66,779.75 74.78,778.53 74.9,778 75.01,780.21 75.13,780.12 75.24,778.37 75.36,778.16 75.47,780.33 75.59,779.01 75.7,778.83 75.82,780.65 75.93,780.04 76.05,778.75 76.16,777.68 76.28,777.67 76.39,779.06 76.51,777.83 76.63,779.72 76.74,780.39 76.86,780.41 76.97,780.33 77.09,780.12 77.2,779.15 77.32,778.68 77.43,779.06 77.55,778.98 77.66,778.05 77.78,779.24 77.89,780.74 78.01,779.75 78.12,779.04 78.24,779.04 78.35,780.49 78.47,778.26 78.59,779.32 78.7,780.44 78.82,778.01 78.93,778.29 79.05,779.14 79.16,778.66 79.28,779.93 79.39,778.09 79.51,779.48 79.62,779.89 79.74,779.18 79.85,777.74 79.97,778.91 80.08,780.2 80.2,779.78 80.32,779.68 80.43,777.96 80.55,780.18 80.66,777.15 80.78,778.15 80.89,780.62 81.01,778.79 81.12,779.1 81.24,779.97 81.35,778.19 81.47,778.65 81.58,780.19 81.7,780.39 81.81,779.24 81.93,778.57 82.04,780.13 82.16,778.22 82.28,777.36 82.39,779.32 82.51,779.13 82.62,779.58 82.74,781.42 82.85,776.72 82.97,778.7 83.08,777.76 83.2,778.38 83.31,777.27 83.43,777.88 83.54,777.53 83.66,777.51 83.77,780.11 83.89,779.8 84,779.59 84.12,779.55 84.24,780.41 84.35,777.13 84.47,778.55 84.58,778.29 84.7,780.22 84.81,779.58 84.93,778.7 85.04,780.08 85.16,778.78 85.27,780.34 85.39,778.98 85.5,779.63 85.62,778.64 85.73,779.87 85.85,779.1 85.97,779.77 86.08,780.11 86.2,781.89 86.31,778.99 86.43,778.78 86.54,778.74 86.66,778.26 86.77,779 86.89,778.63 87,778.7 87.12,779.38 87.23,777.84 87.35,778.89 87.46,778.82 87.58,777.55 87.69,778.46 87.81,777.7 87.93,778.35 88.04,778.25 88.16,778.75 88.27,778.5 88.39,778.52 88.5,779.85 88.62,779.62 88.73,777.19 88.85,778.64 88.96,779.77 89.08,779.18 89.19,776.8 89.31,777.41 89.42,777.99 89.54,775.72 89.65,778.91 89.77,779.64 89.89,778.52 90,777.19 90.12,779.43 90.23,778.72 90.35,779.05 90.46,778.32 90.58,777.12 90.69,776.65 90.81,778.84 90.92,777.81 91.04,778.35 91.15,779.72 91.27,778.77 91.38,776.44 91.5,780.2 91.62,779.19 91.73,778.09 91.85,778.54 91.96,777.21 92.08,778.5 92.19,778 92.31,779.68 92.42,778.06 92.54,776.92 92.65,779.48 92.77,779.17 92.88,778.52 93,778.81 93.11,777.06 93.23,780.17 93.34,778.15 93.46,777.92 93.58,778.43 93.69,777.19 93.81,778.21 93.92,778.96 94.04,777.87 94.15,778.79 94.27,776.53 94.38,778.41 94.5,780 94.61,778.91 94.73,778.41 94.84,778.97 94.96,779.39 95.07,778.49 95.19,779.05 95.31,779.34 95.42,780.29 95.54,778.29 95.65,779.1 95.77,778.44 95.88,778.77 96,776.71 96.11,779.06 96.23,779.41 96.34,777.55 96.46,777.47 96.57,778 96.69,778.71 96.8,778.34 96.92,779.13 97.03,778.21 97.15,779 97.27,777.18 97.38,778.68 97.5,778.45 97.61,778.98 97.73,778.57 97.84,778.27 97.96,779.86 98.07,777.29 98.19,779.75 98.3,780.14 98.42,776.98 98.53,778.87 98.65,780.4 98.76,778.18 98.88,778.33 98.99,778.26 99.11,778.36 99.23,777.53 99.34,778.45 99.46,779.3 99.57,778.12 99.69,778.79 99.8,779.29 99.92,779.35 100.03,778.05 100.15,779.14 100.26,778.16 100.38,779.45 100.49,778.23 100.61,778 100.72,778.37 100.84,778.24 100.96,777.25 101.07,778.39 101.19,779.48 101.3,777.99 101.42,777.43 101.53,779.57 101.65,778.55 101.76,777.03 101.88,777.2 101.99,779.34 102.11,777.79 102.22,776.92 102.34,778.49 102.45,778.28 102.57,779.19 102.68,778.86 102.8,779.19" fill="none" stroke="#a9a9a9" stroke-width="2.2" stroke-linejoin="round" />
<polyline points="51.8,807.79 51.92,807.55 52.04,807.66 52.16,808.34 52.28,807.12 52.4,808.23 52.51,807.07 52.63,807.92 52.75,807.49 52.87,808.56 52.99,807.85 53.11,808.01 53.23,807.78 53.35,807.89 53.47,807.94 53.59,807.25 53.7,807.07 53.82,807.39 53.94,807.79 54.06,807.62 54.18,807.3 54.3,807.7 54.42,807.11 54.54,808.16 54.66,807.42 54.78,808.09 54.89,807.33 55.01,807.31 55.13,806.65 55.25,807.98 55.37,808.13 55.49,807.51 55.61,808.18 55.73,808.02 55.85,807.12 55.97,807.23 56.08,808.25 56.2,807.9 56.32,808.08 56.44,808.32 56.56,807.92 56.68,806.9 56.8,807.55 56.92,807.52 57.04,808.46 57.16,809.81 57.28,809.23 57.39,809.95 57.51,810.47 57.63,809.8 57.75,811.16 57.87,812.12 57.99,812.1 58.11,813.87 58.23,813.04 58.35,813.64 58.47,815.8 58.58,816.08 58.7,816.54 58.82,816.87 58.94,818.04 59.06,818.46 59.18,818.82 59.3,819.97 59.42,819.7 59.54,820.97 59.66,821.7 59.77,821.87 59.89,822.6 60.01,824.14 60.13,824.31 60.25,823.97 60.37,825.86 60.49,826.69 60.61,826.75 60.73,826.64 60.85,827.86 60.97,828.8 61.08,830.9 61.2,829.71 61.32,830.87 61.44,831.09 61.56,832.23 61.68,831.78 61.8,833.21 61.92,833.86 62.04,835.85 62.16,834.78 62.27,834.9 62.39,836.3 62.51,836.49 62.63,838.65 62.75,839.26 62.87,839.15 62.99,840.08 63.11,840.93 63.23,841.72 63.35,843.3 63.46,842.43 63.58,843.44 63.7,844.72 63.82,845 63.94,846.91 64.06,846.87 64.18,846.47 64.3,848.08 64.42,848.04 64.54,849.78 64.65,851.15 64.77,850.99 64.89,850.75 65.01,851.91 65.13,850.89 65.25,851.3 65.37,851.81 65.49,849.76 65.61,849.91 65.73,844.45 65.85,847.85 65.96,844.75 66.08,845.38 66.2,842.31 66.32,843.88 66.44,840.38 66.56,841.43 66.68,840.76 66.8,839.24 66.92,839.22 67.04,836.47 67.15,839.41 67.27,838.78 67.39,834.58 67.51,834.71 67.63,835.66 67.75,832.32 67.87,831.94 67.99,831.8 68.11,832.04 68.23,831.48 68.34,832.19 68.46,830.49 68.58,829.97 68.7,830.31 68.82,827.5 68.94,828.28 69.06,825.31 69.18,828.58 69.3,824.48 69.42,825.59 69.54,824.64 69.65,827.72 69.77,824.93 69.89,825.42 70.01,822.08 70.13,825.04 70.25,823.95 70.37,821.09 70.49,822.15 70.61,824.08 70.73,820.12 70.84,821.19 70.96,823.42 71.08,821.26 71.2,821.37 71.32,822.85 71.44,818.55 71.56,819.64 71.68,819.16 71.8,817.47 71.92,815.85 72.03,818.56 72.15,817.58 72.27,818.86 72.39,818.99 72.51,819.13 72.63,816.83 72.75,818.47 72.87,817.74 72.99,813.28 73.11,815.63 73.22,815.31 73.34,818.26 73.46,814.91 73.58,814.04 73.7,815.82 73.82,814.44 73.94,811.74 74.06,813.79 74.18,815.58 74.3,812.98 74.42,811.98 74.53,812.08 74.65,812.11 74.77,813.77 74.89,813.6 75.01,812.38 75.13,812.94 75.25,813.06 75.37,812.12 75.49,809.92 75.61,810.06 75.72,811.94 75.84,811.06 75.96,813.47 76.08,810.1 76.2,810.31 76.32,812.43 76.44,810.55 76.56,809.51 76.68,811.29 76.8,810.75 76.91,809.76 77.03,807.86 77.15,808.77 77.27,811.5 77.39,809.03 77.51,809.16 77.63,809.05 77.75,809.33 77.87,810.58 77.99,808.69 78.11,810.75 78.22,810.52 78.34,807.94 78.46,807.79 78.58,806.69 78.7,809.01 78.82,809.48 78.94,809.28 79.06,807.91 79.18,808.51 79.3,808.01 79.41,808.27 79.53,806.78 79.65,808.59 79.77,807.24 79.89,808.53 80.01,807.93 80.13,806.48 80.25,808.67 80.37,807.84 80.49,805.93 80.6,807.87 80.72,806.96 80.84,807.39 80.96,806.36 81.08,808.04 81.2,805.45 81.32,807.03 81.44,805.08 81.56,807.19 81.68,807.8 81.79,806.89 81.91,804.53 82.03,807.69 82.15,805.23 82.27,804.85 82.39,806.11 82.51,806.68 82.63,805.19 82.75,806.37 82.87,807.32 82.99,806.64 83.1,806.12 83.22,805.6 83.34,805.73 83.46,806.47 83.58,804.58 83.7,806 83.82,807.15 83.94,807.68 84.06,803.79 84.18,804.84 84.29,804.62 84.41,808.92 84.53,805.19 84.65,803.25 84.77,806.63 84.89,806.72 85.01,807.04 85.13,805.14 85.25,806.17 85.37,805.65 85.48,805.25 85.6,805.59 85.72,804.81 85.84,806.6 85.96,804.92 86.08,805.47 86.2,805.62 86.32,804.89 86.44,805.26 86.56,805.5 86.67,805.13 86.79,805.54 86.91,804.1 87.03,806.24 87.15,805.06 87.27,806.09 87.39,805.24 87.51,804.25 87.63,805 87.75,805.47 87.87,804.24 87.98,803.77 88.1,804.69 88.22,805.82 88.34,806.29 88.46,806.65 88.58,806.31 88.7,804.86 88.82,804.94 88.94,805.03 89.06,806.04 89.17,803.65 89.29,806.17 89.41,804.94 89.53,803.94 89.65,803.83 89.77,803.6 89.89,804.86 90.01,806.54 90.13,806.49 90.25,804.12 90.36,803.21 90.48,805.45 90.6,804.62 90.72,805.05 90.84,805.98 90.96,803.83 91.08,805.01 91.2,803.85 91.32,804.06 91.44,805 91.56,806.62 91.67,806.55 91.79,804.73 91.91,804.9 92.03,805.8 92.15,805.64 92.27,803.9 92.39,804.13 92.51,804.65 92.63,804.44 92.75,803.85 92.86,805.06 92.98,804.14 93.1,803.84 93.22,804.84 93.34,804.86 93.46,805.98 93.58,805.77 93.7,805.04 93.82,804.23 93.94,804.69 94.05,804.84 94.17,803.68 94.29,805.05 94.41,805.17 94.53,802.19 94.65,803.27 94.77,804.2 94.89,804.14 95.01,805.62 95.13,805.34 95.24,804.3 95.36,804.6 95.48,803.97 95.6,804.52 95.72,805.76 95.84,804.14 95.96,803.9 96.08,804.12 96.2,804.52 96.32,802.82 96.44,803.66 96.55,803.79 96.67,804.42 96.79,803.91 96.91,804.73 97.03,804.74 97.15,803.45 97.27,803.7 97.39,804.98 97.51,805.95 97.63,804.76 97.74,803.69 97.86,803.42 97.98,805.4 98.1,803.71 98.22,804.12 98.34,805.43 98.46,803.31 98.58,803.19 98.7,803.65 98.82,804.09 98.93,805.61 99.05,804.85 99.17,803.02 99.29,804.57 99.41,803.02 99.53,805.58 99.65,804.04 99.77,805.35 99.89,803.35 100.01,804.05 100.13,804.79 100.24,802.83 100.36,803.41 100.48,804.4 100.6,805.03 100.72,803.97 100.84,804.91 100.96,805.06 101.08,804.49 101.2,805.33 101.32,802.91 101.43,803.58 101.55,804.32 101.67,803.64 101.79,802.86 101.91,804.18 102.03,804.5 102.15,803.68 102.27,803.54 102.39,803.6 102.51,804.12 102.62,805 102.74,803.92 102.86,804.07 102.98,805.02 103.1,804.22 103.22,804.1 103.34,806.01 103.46,803.57 103.58,805.08 103.7,804.44 103.81,804.03 103.93,804.28 104.05,802.78 104.17,805.25 104.29,804.19 104.41,804.79 104.53,804.29 104.65,804.43 104.77,804.13 104.89,801.74 105.01,803.9 105.12,804.26 105.24,803.83 105.36,803.14 105.48,804.48 105.6,804.12 105.72,804.82 105.84,803.51 105.96,802.57 106.08,802.82 106.2,802.69 106.31,804.11 106.43,803.33 106.55,802.1 106.67,803.99 106.79,804.35 106.91,804.62 107.03,803.78 107.15,804.33 107.27,803.19 107.39,804.46 107.5,804.62 107.62,805.07 107.74,804.05 107.86,802.93 107.98,801.86 108.1,803.76 108.22,803.15 108.34,804.07 108.46,803.57 108.58,803.23 108.69,804.98 108.81,804.27 108.93,803.33 109.05,804.07 109.17,804.1 109.29,804.52 109.41,803.06 109.53,804.21 109.65,803.13 109.77,804.66 109.89,804.4 110,803.7 110.12,803.15 110.24,803.15 110.36,804.22 110.48,804.28 110.6,803.36 110.72,803.91 110.84,802.74 110.96,804.71 111.08,803.51 111.19,802.89 111.31,803.37 111.43,803.56 111.55,803.74 111.67,805.25 111.79,804.4 111.91,804.27 112.03,804.02 112.15,802.03 112.27,803.82 112.38,802.73 112.5,803.44 112.62,804.21 112.74,802.36 112.86,803.4 112.98,802.95 113.1,802.55 113.22,803.6 113.34,803.19 113.46,802.06 113.58,803.92 113.69,801.9 113.81,804.84 113.93,803.74 114.05,803.5 114.17,803.93 114.29,802.85 114.41,802.54 114.53,804.13 114.65,801.91 114.77,803.77 114.88,802.95 115,803.87 115.12,803.07 115.24,803.44 115.36,802.64 115.48,803.6 115.6,804.17 115.72,803.41 115.84,802.76 115.96,804.46 116.07,802.46 116.19,805.08 116.31,802.79 116.43,803.33 116.55,803.15 116.67,804.21 116.79,803.42 116.91,803.05 117.03,804.62 117.15,803.43 117.26,802.52 117.38,802.42 117.5,803.74 117.62,803.22 117.74,803.51 117.86,803.29 117.98,803.79 118.1,803.33 118.22,802.3 118.34,803.51 118.46,803.41 118.57,804.18 118.69,802.72 118.81,804.11 118.93,802.89 119.05,803.58 119.17,804.56 119.29,802.3 119.41,804.24 119.53,802.8 119.65,802.8 119.76,802.17 119.88,800.26 120,803.37 120.12,801.78 120.24,804.74 120.36,803.68 120.48,802.86 120.6,803.15 120.72,802.69 120.84,804.77 120.95,803.54 121.07,803.44 121.19,803.72 121.31,803.95 121.43,803.96 121.55,803.11 121.67,802.88 121.79,804.08 121.91,804.75 122.03,804.93 122.15,802.55 122.26,801.71 122.38,802.58 122.5,802.77 122.62,803.97 122.74,803.43 122.86,802.47 122.98,801.63 123.1,803.98 123.22,801.77 123.34,804.1 123.45,802.73 123.57,804.64 123.69,803.09 123.81,803.94 123.93,803.74 124.05,801.07 124.17,801.92 124.29,802.16 124.41,804.01 124.53,801.73 124.64,803.7 124.76,804.24 124.88,802.9 125,803.78 125.12,802.43 125.24,803.34 125.36,801.91 125.48,804.05 125.6,802.33 125.72,803.75 125.83,802.17 125.95,804.01 126.07,802.7 126.19,803.89 126.31,803.52 126.43,803.05 126.55,802.73 126.67,803.96 126.79,801.34 126.91,804.64 127.03,803.65 127.14,804.64 127.26,804.35 127.38,802.86 127.5,802.23 127.62,803.68 127.74,802.32 127.86,802.65 127.98,802.68 128.1,803.16 128.22,803.24 128.33,802.83 128.45,803.87 128.57,804.25 128.69,802.17 128.81,804.1 128.93,803.39 129.05,802.58 129.17,802.96 129.29,803.91 129.41,803.4 129.52,802.69 129.64,802.82 129.76,802.61 129.88,802.24 130,804.08 130.12,802.94 130.24,802.92 130.36,803.04 130.48,802.77 130.6,802.61 130.72,802.65 130.83,803.38 130.95,804.37 131.07,802.41 131.19,802.64 131.31,803.01 131.43,803.6 131.55,803.39 131.67,802.8 131.79,801.87 131.91,803.46 132.02,803.29 132.14,802.74 132.26,803.68 132.38,803.41 132.5,803.46 132.62,803.68 132.74,801.22 132.86,803.74 132.98,802.52 133.1,802.79 133.21,801.65 133.33,803.39 133.45,802.3 133.57,803.38 133.69,802.12 133.81,802.41 133.93,803.14 134.05,801.48 134.17,802.14 134.29,803.19 134.4,803.74 134.52,803.8 134.64,802.81 134.76,804.25 134.88,804.51 135,803.5" fill="none" stroke="#c471c4" stroke-width="2" stroke-linejoin="round" />
<text x="50.9" y="774.7" font-size="10.6">UNC13A<tspan font-size="6.2" dy="-4.2">WT</tspan></text>
<text x="93.9" y="800.4" font-size="10.6">UNC13A<tspan font-size="6.2" dy="-4.2">N1013S</tspan></text>
<path d="M104.2,849.3H115.6V825.7" fill="none" stroke="#2b2b2b" stroke-width="1.15"/>
<text x="119.2" y="841.6" font-size="9.2">0.5 nA</text>
<text x="102.8" y="861" font-size="9.2">1 s</text>
<text x="158.2" y="718.8" font-size="11.5" style="fill:#111;stroke:#111" font-weight="bold">s</text>
<line x1="207.6" y1="755.6" x2="207.6" y2="851.8" stroke="#2b2b2b" stroke-width="1.3" />
<line x1="202.1" y1="851.2" x2="207.6" y2="851.2" stroke="#2b2b2b" stroke-width="1" />
<text x="200.1" y="854.87" font-size="10.2" text-anchor="end">0</text>
<line x1="202.1" y1="827.4" x2="207.6" y2="827.4" stroke="#2b2b2b" stroke-width="1" />
<text x="200.1" y="831.07" font-size="10.2" text-anchor="end">1</text>
<line x1="202.1" y1="803.6" x2="207.6" y2="803.6" stroke="#2b2b2b" stroke-width="1" />
<text x="200.1" y="807.27" font-size="10.2" text-anchor="end">2</text>
<line x1="202.1" y1="779.8" x2="207.6" y2="779.8" stroke="#2b2b2b" stroke-width="1" />
<text x="200.1" y="783.47" font-size="10.2" text-anchor="end">3</text>
<line x1="202.1" y1="756" x2="207.6" y2="756" stroke="#2b2b2b" stroke-width="1" />
<text x="200.1" y="759.67" font-size="10.2" text-anchor="end">4</text>
<rect x="212.3" y="833.83" width="25.2" height="17.37" fill="#fff" stroke="none" stroke-width="0"/>
<rect x="240.5" y="838.59" width="25" height="12.61" fill="#fff" stroke="none" stroke-width="0"/>
<circle cx="222.79" cy="770.28" r="1.95" fill="none" stroke="#bdbdbd" stroke-width="0.8"/>
<circle cx="222.79" cy="804.79" r="1.95" fill="none" stroke="#bdbdbd" stroke-width="0.8"/>
<circle cx="227.01" cy="805.98" r="1.95" fill="none" stroke="#bdbdbd" stroke-width="0.8"/>
<circle cx="214.37" cy="833.35" r="1.95" fill="none" stroke="#bdbdbd" stroke-width="0.8"/>
<circle cx="218.58" cy="834.54" r="1.95" fill="none" stroke="#bdbdbd" stroke-width="0.8"/>
<circle cx="222.79" cy="835.73" r="1.95" fill="none" stroke="#bdbdbd" stroke-width="0.8"/>
<circle cx="227.01" cy="836.92" r="1.95" fill="none" stroke="#bdbdbd" stroke-width="0.8"/>
<circle cx="231.22" cy="838.11" r="1.95" fill="none" stroke="#bdbdbd" stroke-width="0.8"/>
<circle cx="235.43" cy="839.3" r="1.95" fill="none" stroke="#bdbdbd" stroke-width="0.8"/>
<circle cx="214.37" cy="840.49" r="1.95" fill="none" stroke="#bdbdbd" stroke-width="0.8"/>
<circle cx="218.58" cy="841.68" r="1.95" fill="none" stroke="#bdbdbd" stroke-width="0.8"/>
<circle cx="222.79" cy="842.87" r="1.95" fill="none" stroke="#bdbdbd" stroke-width="0.8"/>
<circle cx="227.01" cy="844.06" r="1.95" fill="none" stroke="#bdbdbd" stroke-width="0.8"/>
<circle cx="231.22" cy="844.54" r="1.95" fill="none" stroke="#bdbdbd" stroke-width="0.8"/>
<circle cx="235.43" cy="845.25" r="1.95" fill="none" stroke="#bdbdbd" stroke-width="0.8"/>
<circle cx="218.58" cy="846.44" r="1.95" fill="none" stroke="#bdbdbd" stroke-width="0.8"/>
<circle cx="222.79" cy="847.63" r="1.95" fill="none" stroke="#bdbdbd" stroke-width="0.8"/>
<circle cx="227.01" cy="848.34" r="1.95" fill="none" stroke="#bdbdbd" stroke-width="0.8"/>
<circle cx="231.22" cy="848.82" r="1.95" fill="none" stroke="#bdbdbd" stroke-width="0.8"/>
<circle cx="244.58" cy="825.5" r="1.95" fill="none" stroke="#dcb0de" stroke-width="0.8"/>
<circle cx="248.79" cy="828.59" r="1.95" fill="none" stroke="#dcb0de" stroke-width="0.8"/>
<circle cx="253" cy="829.78" r="1.95" fill="none" stroke="#dcb0de" stroke-width="0.8"/>
<circle cx="257.21" cy="830.97" r="1.95" fill="none" stroke="#dcb0de" stroke-width="0.8"/>
<circle cx="261.42" cy="832.16" r="1.95" fill="none" stroke="#dcb0de" stroke-width="0.8"/>
<circle cx="242.47" cy="833.35" r="1.95" fill="none" stroke="#dcb0de" stroke-width="0.8"/>
<circle cx="246.68" cy="834.54" r="1.95" fill="none" stroke="#dcb0de" stroke-width="0.8"/>
<circle cx="250.89" cy="835.73" r="1.95" fill="none" stroke="#dcb0de" stroke-width="0.8"/>
<circle cx="255.11" cy="836.92" r="1.95" fill="none" stroke="#dcb0de" stroke-width="0.8"/>
<circle cx="259.32" cy="838.11" r="1.95" fill="none" stroke="#dcb0de" stroke-width="0.8"/>
<circle cx="263.53" cy="838.82" r="1.95" fill="none" stroke="#dcb0de" stroke-width="0.8"/>
<circle cx="242.47" cy="839.3" r="1.95" fill="none" stroke="#dcb0de" stroke-width="0.8"/>
<circle cx="246.68" cy="839.78" r="1.95" fill="none" stroke="#dcb0de" stroke-width="0.8"/>
<circle cx="250.89" cy="840.49" r="1.95" fill="none" stroke="#dcb0de" stroke-width="0.8"/>
<circle cx="255.11" cy="841.2" r="1.95" fill="none" stroke="#dcb0de" stroke-width="0.8"/>
<circle cx="259.32" cy="841.68" r="1.95" fill="none" stroke="#dcb0de" stroke-width="0.8"/>
<circle cx="263.53" cy="842.87" r="1.95" fill="none" stroke="#dcb0de" stroke-width="0.8"/>
<circle cx="246.68" cy="844.06" r="1.95" fill="none" stroke="#dcb0de" stroke-width="0.8"/>
<circle cx="250.89" cy="845.25" r="1.95" fill="none" stroke="#dcb0de" stroke-width="0.8"/>
<circle cx="255.11" cy="846.44" r="1.95" fill="none" stroke="#dcb0de" stroke-width="0.8"/>
<circle cx="259.32" cy="847.63" r="1.95" fill="none" stroke="#dcb0de" stroke-width="0.8"/>
<path d="M212.3,851.2V833.83H237.5V851.2" fill="none" stroke="#1c1c1c" stroke-width="1.5"/>
<line x1="224.9" y1="839.06" x2="224.9" y2="829.3" stroke="#2b2b2b" stroke-width="1.2" />
<line x1="218.4" y1="829.3" x2="231.4" y2="829.3" stroke="#2b2b2b" stroke-width="1.2" />
<line x1="218.4" y1="839.06" x2="231.4" y2="839.06" stroke="#2b2b2b" stroke-width="1.2" />
<line x1="224.9" y1="851.2" x2="224.9" y2="854.8" stroke="#2b2b2b" stroke-width="1" />
<path d="M240.5,851.2V838.59H265.5V851.2" fill="none" stroke="#1c1c1c" stroke-width="1.5"/>
<line x1="253" y1="839.78" x2="253" y2="837.4" stroke="#2b2b2b" stroke-width="1.2" />
<line x1="246.5" y1="837.4" x2="259.5" y2="837.4" stroke="#2b2b2b" stroke-width="1.2" />
<line x1="246.5" y1="839.78" x2="259.5" y2="839.78" stroke="#2b2b2b" stroke-width="1.2" />
<line x1="253" y1="851.2" x2="253" y2="854.8" stroke="#2b2b2b" stroke-width="1" />
<line x1="202.1" y1="851.2" x2="271.6" y2="851.2" stroke="#2b2b2b" stroke-width="1.3" />
<line x1="219.2" y1="753.8" x2="259.9" y2="753.8" stroke="#2b2b2b" stroke-width="1.1" />
<text x="239.55" y="750.1" font-size="8.8" text-anchor="middle">P=0.83</text>
<text x="207.6" y="866.88" font-size="9.4" style="fill:#929292;stroke:#929292">n</text>
<text x="223.6" y="866.88" font-size="9.4" text-anchor="middle" style="fill:#929292;stroke:#929292">19</text>
<text x="251.8" y="866.88" font-size="9.4" text-anchor="middle" style="fill:#929292;stroke:#929292">21</text>
<text x="243" y="879.55" font-size="10.4" text-anchor="middle">WT N1013S</text>
<text x="185.37" y="799.4" font-size="10.2" text-anchor="middle" transform="rotate(-90 185.37 799.4)">Pool Size (nC)</text>
<text x="298.4" y="720" font-size="11.5" style="fill:#111;stroke:#111" font-weight="bold">t</text>
<line x1="327.6" y1="756.8" x2="327.6" y2="852.2" stroke="#2b2b2b" stroke-width="1.3" />
<line x1="322.1" y1="851.6" x2="327.6" y2="851.6" stroke="#2b2b2b" stroke-width="1" />
<text x="320.1" y="855.27" font-size="10.2" text-anchor="end">0</text>
<line x1="322.1" y1="820.1" x2="327.6" y2="820.1" stroke="#2b2b2b" stroke-width="1" />
<text x="320.1" y="823.77" font-size="10.2" text-anchor="end">5</text>
<line x1="322.1" y1="788.6" x2="327.6" y2="788.6" stroke="#2b2b2b" stroke-width="1" />
<text x="320.1" y="792.27" font-size="10.2" text-anchor="end">10</text>
<line x1="322.1" y1="757.1" x2="327.6" y2="757.1" stroke="#2b2b2b" stroke-width="1" />
<text x="320.1" y="760.77" font-size="10.2" text-anchor="end">15</text>
<rect x="332.5" y="818.84" width="24.8" height="32.76" fill="#fff" stroke="none" stroke-width="0"/>
<rect x="360.7" y="821.99" width="25" height="29.61" fill="#fff" stroke="none" stroke-width="0"/>
<circle cx="347.01" cy="782.3" r="1.95" fill="none" stroke="#bdbdbd" stroke-width="0.8"/>
<circle cx="342.79" cy="796.16" r="1.95" fill="none" stroke="#bdbdbd" stroke-width="0.8"/>
<circle cx="347.01" cy="797.42" r="1.95" fill="none" stroke="#bdbdbd" stroke-width="0.8"/>
<circle cx="342.79" cy="804.35" r="1.95" fill="none" stroke="#bdbdbd" stroke-width="0.8"/>
<circle cx="347.01" cy="810.65" r="1.95" fill="none" stroke="#bdbdbd" stroke-width="0.8"/>
<circle cx="338.58" cy="816.95" r="1.95" fill="none" stroke="#bdbdbd" stroke-width="0.8"/>
<circle cx="342.79" cy="820.1" r="1.95" fill="none" stroke="#bdbdbd" stroke-width="0.8"/>
<circle cx="347.01" cy="821.36" r="1.95" fill="none" stroke="#bdbdbd" stroke-width="0.8"/>
<circle cx="351.22" cy="822.62" r="1.95" fill="none" stroke="#bdbdbd" stroke-width="0.8"/>
<circle cx="336.48" cy="823.88" r="1.95" fill="none" stroke="#bdbdbd" stroke-width="0.8"/>
<circle cx="340.69" cy="825.14" r="1.95" fill="none" stroke="#bdbdbd" stroke-width="0.8"/>
<circle cx="344.9" cy="826.4" r="1.95" fill="none" stroke="#bdbdbd" stroke-width="0.8"/>
<circle cx="349.11" cy="827.66" r="1.95" fill="none" stroke="#bdbdbd" stroke-width="0.8"/>
<circle cx="353.32" cy="829.55" r="1.95" fill="none" stroke="#bdbdbd" stroke-width="0.8"/>
<circle cx="340.69" cy="831.44" r="1.95" fill="none" stroke="#bdbdbd" stroke-width="0.8"/>
<circle cx="344.9" cy="833.96" r="1.95" fill="none" stroke="#bdbdbd" stroke-width="0.8"/>
<circle cx="349.11" cy="835.85" r="1.95" fill="none" stroke="#bdbdbd" stroke-width="0.8"/>
<circle cx="342.79" cy="839" r="1.95" fill="none" stroke="#bdbdbd" stroke-width="0.8"/>
<circle cx="347.01" cy="842.15" r="1.95" fill="none" stroke="#bdbdbd" stroke-width="0.8"/>
<circle cx="373.2" cy="791.75" r="1.95" fill="none" stroke="#dcb0de" stroke-width="0.8"/>
<circle cx="371.09" cy="805.61" r="1.95" fill="none" stroke="#dcb0de" stroke-width="0.8"/>
<circle cx="362.67" cy="815.06" r="1.95" fill="none" stroke="#dcb0de" stroke-width="0.8"/>
<circle cx="366.88" cy="816.95" r="1.95" fill="none" stroke="#dcb0de" stroke-width="0.8"/>
<circle cx="371.09" cy="818.84" r="1.95" fill="none" stroke="#dcb0de" stroke-width="0.8"/>
<circle cx="375.31" cy="820.1" r="1.95" fill="none" stroke="#dcb0de" stroke-width="0.8"/>
<circle cx="379.52" cy="820.73" r="1.95" fill="none" stroke="#dcb0de" stroke-width="0.8"/>
<circle cx="383.73" cy="821.36" r="1.95" fill="none" stroke="#dcb0de" stroke-width="0.8"/>
<circle cx="362.67" cy="821.99" r="1.95" fill="none" stroke="#dcb0de" stroke-width="0.8"/>
<circle cx="366.88" cy="822.62" r="1.95" fill="none" stroke="#dcb0de" stroke-width="0.8"/>
<circle cx="371.09" cy="823.25" r="1.95" fill="none" stroke="#dcb0de" stroke-width="0.8"/>
<circle cx="375.31" cy="823.88" r="1.95" fill="none" stroke="#dcb0de" stroke-width="0.8"/>
<circle cx="379.52" cy="825.14" r="1.95" fill="none" stroke="#dcb0de" stroke-width="0.8"/>
<circle cx="383.73" cy="826.4" r="1.95" fill="none" stroke="#dcb0de" stroke-width="0.8"/>
<circle cx="362.67" cy="827.66" r="1.95" fill="none" stroke="#dcb0de" stroke-width="0.8"/>
<circle cx="366.88" cy="828.92" r="1.95" fill="none" stroke="#dcb0de" stroke-width="0.8"/>
<circle cx="371.09" cy="830.18" r="1.95" fill="none" stroke="#dcb0de" stroke-width="0.8"/>
<circle cx="375.31" cy="831.44" r="1.95" fill="none" stroke="#dcb0de" stroke-width="0.8"/>
<circle cx="379.52" cy="832.7" r="1.95" fill="none" stroke="#dcb0de" stroke-width="0.8"/>
<circle cx="383.73" cy="833.96" r="1.95" fill="none" stroke="#dcb0de" stroke-width="0.8"/>
<circle cx="375.31" cy="842.15" r="1.95" fill="none" stroke="#dcb0de" stroke-width="0.8"/>
<path d="M332.5,851.6V818.84H357.3V851.6" fill="none" stroke="#1c1c1c" stroke-width="1.5"/>
<line x1="344.9" y1="822.18" x2="344.9" y2="815.5" stroke="#2b2b2b" stroke-width="1.2" />
<line x1="338.4" y1="815.5" x2="351.4" y2="815.5" stroke="#2b2b2b" stroke-width="1.2" />
<line x1="338.4" y1="822.18" x2="351.4" y2="822.18" stroke="#2b2b2b" stroke-width="1.2" />
<line x1="344.9" y1="851.6" x2="344.9" y2="855.2" stroke="#2b2b2b" stroke-width="1" />
<path d="M360.7,851.6V821.99H385.7V851.6" fill="none" stroke="#1c1c1c" stroke-width="1.5"/>
<line x1="373.2" y1="823.88" x2="373.2" y2="820.1" stroke="#2b2b2b" stroke-width="1.2" />
<line x1="366.7" y1="820.1" x2="379.7" y2="820.1" stroke="#2b2b2b" stroke-width="1.2" />
<line x1="366.7" y1="823.88" x2="379.7" y2="823.88" stroke="#2b2b2b" stroke-width="1.2" />
<line x1="373.2" y1="851.6" x2="373.2" y2="855.2" stroke="#2b2b2b" stroke-width="1" />
<line x1="322.1" y1="851.6" x2="390.4" y2="851.6" stroke="#2b2b2b" stroke-width="1.3" />
<line x1="340.3" y1="754.2" x2="380.6" y2="754.2" stroke="#2b2b2b" stroke-width="1.1" />
<text x="360.45" y="750.5" font-size="8.8" text-anchor="middle">P=0.963</text>
<text x="328.6" y="866.88" font-size="9.4" style="fill:#929292;stroke:#929292">n</text>
<text x="345.4" y="866.88" font-size="9.4" text-anchor="middle" style="fill:#929292;stroke:#929292">19</text>
<text x="373.6" y="866.88" font-size="9.4" text-anchor="middle" style="fill:#929292;stroke:#929292">21</text>
<text x="364.6" y="879.55" font-size="10.4" text-anchor="middle">WT N1013S</text>
<text x="305.17" y="801" font-size="10.2" text-anchor="middle" transform="rotate(-90 305.17 801)">pvr (%)</text>
<line x1="297.01" y1="817.23" x2="297.01" y2="812.33" stroke="#1e1e1e" stroke-width="0.9" />
<text x="416.1" y="718.1" font-size="11.5" style="fill:#111;stroke:#111" font-weight="bold">u</text>
<line x1="448.8" y1="762.8" x2="448.8" y2="851.6" stroke="#2b2b2b" stroke-width="1.25" />
<line x1="443.3" y1="851" x2="448.8" y2="851" stroke="#2b2b2b" stroke-width="1" />
<text x="441.3" y="854.67" font-size="10.2" text-anchor="end">0</text>
<line x1="443.3" y1="824" x2="448.8" y2="824" stroke="#2b2b2b" stroke-width="1" />
<text x="441.3" y="827.67" font-size="10.2" text-anchor="end">1</text>
<line x1="443.3" y1="797" x2="448.8" y2="797" stroke="#2b2b2b" stroke-width="1" />
<text x="441.3" y="800.67" font-size="10.2" text-anchor="end">2</text>
<line x1="443.3" y1="770" x2="448.8" y2="770" stroke="#2b2b2b" stroke-width="1" />
<text x="441.3" y="773.67" font-size="10.2" text-anchor="end">3</text>
<line x1="443.3" y1="851" x2="583" y2="851" stroke="#2b2b2b" stroke-width="1.1" />
<line x1="448.8" y1="851" x2="448.8" y2="855.6" stroke="#2b2b2b" stroke-width="1" />
<text x="448.8" y="868.97" font-size="10.2" text-anchor="middle">0</text>
<line x1="478.8" y1="851" x2="478.8" y2="855.6" stroke="#2b2b2b" stroke-width="1" />
<text x="478.8" y="868.97" font-size="10.2" text-anchor="middle">20</text>
<line x1="508.8" y1="851" x2="508.8" y2="855.6" stroke="#2b2b2b" stroke-width="1" />
<text x="508.8" y="868.97" font-size="10.2" text-anchor="middle">40</text>
<line x1="538.8" y1="851" x2="538.8" y2="855.6" stroke="#2b2b2b" stroke-width="1" />
<text x="538.8" y="868.97" font-size="10.2" text-anchor="middle">60</text>
<line x1="568.8" y1="851" x2="568.8" y2="855.6" stroke="#2b2b2b" stroke-width="1" />
<text x="568.8" y="868.97" font-size="10.2" text-anchor="middle">80</text>
<text x="517.2" y="881.9" font-size="10.2" text-anchor="middle">Time (s)</text>
<text x="428.47" y="803.2" font-size="10.2" text-anchor="middle" transform="rotate(-90 428.47 803.2)">Potentiation</text>
<line x1="493.8" y1="824" x2="583.8" y2="824" stroke="#777" stroke-width="1" stroke-dasharray="1 2.6"/>
<line x1="493.8" y1="761.5" x2="583.9" y2="761.5" stroke="#333" stroke-width="1.9" />
<text x="541" y="757.5" font-size="10.2" text-anchor="middle">PDBu</text>
<circle cx="449.5" cy="721.9" r="2.2" fill="#fff" stroke="#a3a3a3" stroke-width="0.85"/>
<text x="457.3" y="725.26" font-size="9.6">WT (n=14)</text>
<circle cx="449.5" cy="737.1" r="2.2" fill="#fff" stroke="#c078c4" stroke-width="0.85"/>
<text x="457.3" y="740.46" font-size="9.6">N1013S (n=16)</text>
<polyline points="448.8,824 463.8,823.46 478.8,824 493.8,825.35 508.8,796.46 523.8,788.9 538.8,785.66 553.8,785.66 568.8,786.74 583.8,788.36" fill="none" stroke="#a3a3a3" stroke-width="1" stroke-linejoin="round" />
<polyline points="448.8,824 463.8,823.19 478.8,824 493.8,824.81 508.8,782.15 523.8,775.94 538.8,774.86 553.8,776.21 568.8,780.26 583.8,784.04" fill="none" stroke="#c078c4" stroke-width="1" stroke-linejoin="round" />
<path d="M448.8,823.19V824.81M446.6,823.19H451M446.6,824.81H451" stroke="#a3a3a3" stroke-width="0.8" fill="none"/>
<path d="M463.8,822.65V824.27M461.6,822.65H466M461.6,824.27H466" stroke="#a3a3a3" stroke-width="0.8" fill="none"/>
<path d="M478.8,823.19V824.81M476.6,823.19H481M476.6,824.81H481" stroke="#a3a3a3" stroke-width="0.8" fill="none"/>
<path d="M493.8,824.54V826.16M491.6,824.54H496M491.6,826.16H496" stroke="#a3a3a3" stroke-width="0.8" fill="none"/>
<path d="M508.8,793.76V799.16M506.6,793.76H511M506.6,799.16H511" stroke="#a3a3a3" stroke-width="0.8" fill="none"/>
<path d="M523.8,784.04V793.76M521.6,784.04H526M521.6,793.76H526" stroke="#a3a3a3" stroke-width="0.8" fill="none"/>
<path d="M538.8,780.26V791.06M536.6,780.26H541M536.6,791.06H541" stroke="#a3a3a3" stroke-width="0.8" fill="none"/>
<path d="M553.8,780.26V791.06M551.6,780.26H556M551.6,791.06H556" stroke="#a3a3a3" stroke-width="0.8" fill="none"/>
<path d="M568.8,780.8V792.68M566.6,780.8H571M566.6,792.68H571" stroke="#a3a3a3" stroke-width="0.8" fill="none"/>
<path d="M583.8,781.61V795.11M581.6,781.61H586M581.6,795.11H586" stroke="#a3a3a3" stroke-width="0.8" fill="none"/>
<path d="M448.8,823.19V824.81M446.6,823.19H451M446.6,824.81H451" stroke="#c078c4" stroke-width="0.8" fill="none"/>
<path d="M463.8,822.38V824M461.6,822.38H466M461.6,824H466" stroke="#c078c4" stroke-width="0.8" fill="none"/>
<path d="M478.8,823.19V824.81M476.6,823.19H481M476.6,824.81H481" stroke="#c078c4" stroke-width="0.8" fill="none"/>
<path d="M493.8,824V825.62M491.6,824H496M491.6,825.62H496" stroke="#c078c4" stroke-width="0.8" fill="none"/>
<path d="M508.8,773.24V791.06M506.6,773.24H511M506.6,791.06H511" stroke="#c078c4" stroke-width="0.8" fill="none"/>
<path d="M523.8,767.03V784.85M521.6,767.03H526M521.6,784.85H526" stroke="#c078c4" stroke-width="0.8" fill="none"/>
<path d="M538.8,766.22V783.5M536.6,766.22H541M536.6,783.5H541" stroke="#c078c4" stroke-width="0.8" fill="none"/>
<path d="M553.8,768.65V783.77M551.6,768.65H556M551.6,783.77H556" stroke="#c078c4" stroke-width="0.8" fill="none"/>
<path d="M568.8,774.32V786.2M566.6,774.32H571M566.6,786.2H571" stroke="#c078c4" stroke-width="0.8" fill="none"/>
<path d="M583.8,778.64V789.44M581.6,778.64H586M581.6,789.44H586" stroke="#c078c4" stroke-width="0.8" fill="none"/>
<circle cx="448.8" cy="824" r="2.6" fill="#fff" stroke="#a3a3a3" stroke-width="0.95"/>
<circle cx="463.8" cy="823.46" r="2.6" fill="#fff" stroke="#a3a3a3" stroke-width="0.95"/>
<circle cx="478.8" cy="824" r="2.6" fill="#fff" stroke="#a3a3a3" stroke-width="0.95"/>
<circle cx="493.8" cy="825.35" r="2.6" fill="#fff" stroke="#a3a3a3" stroke-width="0.95"/>
<circle cx="508.8" cy="796.46" r="2.6" fill="#fff" stroke="#a3a3a3" stroke-width="0.95"/>
<circle cx="523.8" cy="788.9" r="2.6" fill="#fff" stroke="#a3a3a3" stroke-width="0.95"/>
<circle cx="538.8" cy="785.66" r="2.6" fill="#fff" stroke="#a3a3a3" stroke-width="0.95"/>
<circle cx="553.8" cy="785.66" r="2.6" fill="#fff" stroke="#a3a3a3" stroke-width="0.95"/>
<circle cx="568.8" cy="786.74" r="2.6" fill="#fff" stroke="#a3a3a3" stroke-width="0.95"/>
<circle cx="583.8" cy="788.36" r="2.6" fill="#fff" stroke="#a3a3a3" stroke-width="0.95"/>
<circle cx="448.8" cy="824" r="2.6" fill="#fff" stroke="#c078c4" stroke-width="0.95"/>
<circle cx="463.8" cy="823.19" r="2.6" fill="#fff" stroke="#c078c4" stroke-width="0.95"/>
<circle cx="478.8" cy="824" r="2.6" fill="#fff" stroke="#c078c4" stroke-width="0.95"/>
<circle cx="493.8" cy="824.81" r="2.6" fill="#fff" stroke="#c078c4" stroke-width="0.95"/>
<circle cx="508.8" cy="782.15" r="2.6" fill="#fff" stroke="#c078c4" stroke-width="0.95"/>
<circle cx="523.8" cy="775.94" r="2.6" fill="#fff" stroke="#c078c4" stroke-width="0.95"/>
<circle cx="538.8" cy="774.86" r="2.6" fill="#fff" stroke="#c078c4" stroke-width="0.95"/>
<circle cx="553.8" cy="776.21" r="2.6" fill="#fff" stroke="#c078c4" stroke-width="0.95"/>
<circle cx="568.8" cy="780.26" r="2.6" fill="#fff" stroke="#c078c4" stroke-width="0.95"/>
<circle cx="583.8" cy="784.04" r="2.6" fill="#fff" stroke="#c078c4" stroke-width="0.95"/>
<text x="1.5" y="913.2" font-size="11.5" style="fill:#111;stroke:#111" font-weight="bold">v</text>
<line x1="56.1" y1="945.3" x2="56.1" y2="1022.4" stroke="#2b2b2b" stroke-width="1.25" />
<line x1="50.6" y1="1021.8" x2="56.1" y2="1021.8" stroke="#2b2b2b" stroke-width="1" />
<text x="48.6" y="1025.47" font-size="10.2" text-anchor="end">0</text>
<line x1="50.6" y1="1006.6" x2="56.1" y2="1006.6" stroke="#2b2b2b" stroke-width="1" />
<text x="48.6" y="1010.27" font-size="10.2" text-anchor="end">0.5</text>
<line x1="50.6" y1="991.4" x2="56.1" y2="991.4" stroke="#2b2b2b" stroke-width="1" />
<text x="48.6" y="995.07" font-size="10.2" text-anchor="end">1</text>
<line x1="50.6" y1="976.2" x2="56.1" y2="976.2" stroke="#2b2b2b" stroke-width="1" />
<text x="48.6" y="979.87" font-size="10.2" text-anchor="end">1.5</text>
<line x1="50.6" y1="961" x2="56.1" y2="961" stroke="#2b2b2b" stroke-width="1" />
<text x="48.6" y="964.67" font-size="10.2" text-anchor="end">2</text>
<line x1="50.6" y1="945.8" x2="56.1" y2="945.8" stroke="#2b2b2b" stroke-width="1" />
<text x="48.6" y="949.47" font-size="10.2" text-anchor="end">2.5</text>
<line x1="50.6" y1="1021.8" x2="56.1" y2="1021.8" stroke="#2b2b2b" stroke-width="1.1" />
<line x1="56.1" y1="1021.8" x2="89" y2="1021.8" stroke="#2b2b2b" stroke-width="1.25" />
<line x1="89" y1="1016.6" x2="89" y2="1026.8" stroke="#2b2b2b" stroke-width="1.1" />
<line x1="56.1" y1="1021.8" x2="56.1" y2="1026.4" stroke="#2b2b2b" stroke-width="1" />
<text x="56.1" y="1039.47" font-size="10.2" text-anchor="middle">0</text>
<line x1="71.1" y1="1021.8" x2="71.1" y2="1026.4" stroke="#2b2b2b" stroke-width="1" />
<text x="71.1" y="1039.47" font-size="10.2" text-anchor="middle">5</text>
<line x1="86.1" y1="1021.8" x2="86.1" y2="1026.4" stroke="#2b2b2b" stroke-width="1" />
<text x="86.1" y="1039.47" font-size="10.2" text-anchor="middle">10</text>
<line x1="105.4" y1="1021.8" x2="184.3" y2="1021.8" stroke="#2b2b2b" stroke-width="1.25" />
<line x1="105.4" y1="1016.6" x2="105.4" y2="1026.8" stroke="#2b2b2b" stroke-width="1.1" />
<line x1="184.3" y1="1016.6" x2="184.3" y2="1026.8" stroke="#2b2b2b" stroke-width="1.1" />
<line x1="107.9" y1="1021.8" x2="107.9" y2="1026.4" stroke="#2b2b2b" stroke-width="1" />
<text x="107.9" y="1039.47" font-size="10.2" text-anchor="middle">20</text>
<line x1="120.6" y1="1021.8" x2="120.6" y2="1026.4" stroke="#2b2b2b" stroke-width="1" />
<line x1="133.4" y1="1021.8" x2="133.4" y2="1026.4" stroke="#2b2b2b" stroke-width="1" />
<text x="133.4" y="1039.47" font-size="10.2" text-anchor="middle">21</text>
<line x1="146.2" y1="1021.8" x2="146.2" y2="1026.4" stroke="#2b2b2b" stroke-width="1" />
<line x1="159" y1="1021.8" x2="159" y2="1026.4" stroke="#2b2b2b" stroke-width="1" />
<text x="159" y="1039.47" font-size="10.2" text-anchor="middle">22</text>
<line x1="171.7" y1="1021.8" x2="171.7" y2="1026.4" stroke="#2b2b2b" stroke-width="1" />
<line x1="184.3" y1="1021.8" x2="184.3" y2="1026.4" stroke="#2b2b2b" stroke-width="1" />
<text x="184.3" y="1039.47" font-size="10.2" text-anchor="middle">23</text>
<line x1="200.4" y1="1021.8" x2="246.9" y2="1021.8" stroke="#2b2b2b" stroke-width="1.25" />
<line x1="200.4" y1="1016.6" x2="200.4" y2="1026.8" stroke="#2b2b2b" stroke-width="1.1" />
<line x1="204.2" y1="1021.8" x2="204.2" y2="1026.4" stroke="#2b2b2b" stroke-width="1" />
<text x="204.2" y="1039.47" font-size="10.2" text-anchor="middle">30</text>
<line x1="214.1" y1="1021.8" x2="214.1" y2="1026.4" stroke="#2b2b2b" stroke-width="1" />
<line x1="224" y1="1021.8" x2="224" y2="1026.4" stroke="#2b2b2b" stroke-width="1" />
<text x="224" y="1039.47" font-size="10.2" text-anchor="middle">50</text>
<line x1="235.5" y1="1021.8" x2="235.5" y2="1026.4" stroke="#2b2b2b" stroke-width="1" />
<line x1="246.9" y1="1021.8" x2="246.9" y2="1026.4" stroke="#2b2b2b" stroke-width="1" />
<text x="246.9" y="1039.47" font-size="10.2" text-anchor="middle">70</text>
<text x="144.5" y="1051.1" font-size="10.2" text-anchor="middle">Time (s)</text>
<text x="14.77" y="983.1" font-size="10.2" text-anchor="middle" transform="rotate(-90 14.77 983.1)">Normalized</text>
<text x="26.47" y="983.1" font-size="10.2" text-anchor="middle" transform="rotate(-90 26.47 983.1)">eEPSC amplitude</text>
<line x1="56.1" y1="991.4" x2="248" y2="991.4" stroke="#444" stroke-width="1" stroke-dasharray="1 2.9"/>
<line x1="104.5" y1="973.1" x2="183.6" y2="973.1" stroke="#444" stroke-width="1" />
<text x="144.05" y="971.11" font-size="9.2" text-anchor="middle">10 Hz</text>
<circle cx="67.1" cy="936.3" r="2.2" fill="#fff" stroke="#a3a3a3" stroke-width="0.85"/>
<text x="74.9" y="939.66" font-size="9.6">WT (n=19)</text>
<circle cx="67.1" cy="951.2" r="2.2" fill="#fff" stroke="#c078c4" stroke-width="0.85"/>
<text x="74.9" y="954.56" font-size="9.6">N1013S (n=18)</text>
<path d="M107.9,991.7V994.74M106.4,991.7H109.4M106.4,994.74H109.4" stroke="#c078c4" stroke-width="0.7" fill="none"/>
<path d="M110.53,981.97V985.01M109.03,981.97H112.03M109.03,985.01H112.03" stroke="#c078c4" stroke-width="0.7" fill="none"/>
<path d="M113.17,982.87V985.91M111.67,982.87H114.67M111.67,985.91H114.67" stroke="#c078c4" stroke-width="0.7" fill="none"/>
<path d="M115.8,982.77V985.81M114.3,982.77H117.3M114.3,985.81H117.3" stroke="#c078c4" stroke-width="0.7" fill="none"/>
<path d="M118.44,982.65V985.69M116.94,982.65H119.94M116.94,985.69H119.94" stroke="#c078c4" stroke-width="0.7" fill="none"/>
<path d="M121.07,983.44V986.48M119.57,983.44H122.57M119.57,986.48H122.57" stroke="#c078c4" stroke-width="0.7" fill="none"/>
<path d="M123.71,983.23V986.27M122.21,983.23H125.21M122.21,986.27H125.21" stroke="#c078c4" stroke-width="0.7" fill="none"/>
<path d="M126.34,983.03V986.07M124.84,983.03H127.84M124.84,986.07H127.84" stroke="#c078c4" stroke-width="0.7" fill="none"/>
<path d="M128.98,983.75V986.79M127.48,983.75H130.48M127.48,986.79H130.48" stroke="#c078c4" stroke-width="0.7" fill="none"/>
<path d="M131.61,983.47V986.51M130.11,983.47H133.11M130.11,986.51H133.11" stroke="#c078c4" stroke-width="0.7" fill="none"/>
<path d="M134.24,983.24V986.28M132.74,983.24H135.74M132.74,986.28H135.74" stroke="#c078c4" stroke-width="0.7" fill="none"/>
<path d="M136.88,983.92V986.96M135.38,983.92H138.38M135.38,986.96H138.38" stroke="#c078c4" stroke-width="0.7" fill="none"/>
<path d="M139.51,983.61V986.65M138.01,983.61H141.01M138.01,986.65H141.01" stroke="#c078c4" stroke-width="0.7" fill="none"/>
<path d="M142.15,983.36V986.4M140.65,983.36H143.65M140.65,986.4H143.65" stroke="#c078c4" stroke-width="0.7" fill="none"/>
<path d="M144.78,984.02V987.06M143.28,984.02H146.28M143.28,987.06H146.28" stroke="#c078c4" stroke-width="0.7" fill="none"/>
<path d="M147.42,983.68V986.72M145.92,983.68H148.92M145.92,986.72H148.92" stroke="#c078c4" stroke-width="0.7" fill="none"/>
<path d="M150.05,983.43V986.47M148.55,983.43H151.55M148.55,986.47H151.55" stroke="#c078c4" stroke-width="0.7" fill="none"/>
<path d="M152.69,984.07V987.11M151.19,984.07H154.19M151.19,987.11H154.19" stroke="#c078c4" stroke-width="0.7" fill="none"/>
<path d="M155.32,983.71V986.75M153.82,983.71H156.82M153.82,986.75H156.82" stroke="#c078c4" stroke-width="0.7" fill="none"/>
<path d="M157.96,983.46V986.5M156.46,983.46H159.46M156.46,986.5H159.46" stroke="#c078c4" stroke-width="0.7" fill="none"/>
<path d="M160.59,984.1V987.14M159.09,984.1H162.09M159.09,987.14H162.09" stroke="#c078c4" stroke-width="0.7" fill="none"/>
<path d="M163.22,983.73V986.77M161.72,983.73H164.72M161.72,986.77H164.72" stroke="#c078c4" stroke-width="0.7" fill="none"/>
<path d="M165.86,983.49V986.53M164.36,983.49H167.36M164.36,986.53H167.36" stroke="#c078c4" stroke-width="0.7" fill="none"/>
<path d="M168.49,984.12V987.16M166.99,984.12H169.99M166.99,987.16H169.99" stroke="#c078c4" stroke-width="0.7" fill="none"/>
<path d="M171.13,983.74V986.78M169.63,983.74H172.63M169.63,986.78H172.63" stroke="#c078c4" stroke-width="0.7" fill="none"/>
<path d="M173.76,983.5V986.54M172.26,983.5H175.26M172.26,986.54H175.26" stroke="#c078c4" stroke-width="0.7" fill="none"/>
<path d="M176.4,984.13V987.17M174.9,984.13H177.9M174.9,987.17H177.9" stroke="#c078c4" stroke-width="0.7" fill="none"/>
<path d="M179.03,983.74V986.78M177.53,983.74H180.53M177.53,986.78H180.53" stroke="#c078c4" stroke-width="0.7" fill="none"/>
<path d="M181.67,983.51V986.55M180.17,983.51H183.17M180.17,986.55H183.17" stroke="#c078c4" stroke-width="0.7" fill="none"/>
<path d="M184.3,984.14V987.18M182.8,984.14H185.8M182.8,987.18H185.8" stroke="#c078c4" stroke-width="0.7" fill="none"/>
<path d="M107.9,992.62V995.05M106.4,992.62H109.4M106.4,995.05H109.4" stroke="#a3a3a3" stroke-width="0.7" fill="none"/>
<path d="M110.53,986.25V988.68M109.03,986.25H112.03M109.03,988.68H112.03" stroke="#a3a3a3" stroke-width="0.7" fill="none"/>
<path d="M113.17,987.11V989.54M111.67,987.11H114.67M111.67,989.54H114.67" stroke="#a3a3a3" stroke-width="0.7" fill="none"/>
<path d="M115.8,987.4V989.84M114.3,987.4H117.3M114.3,989.84H117.3" stroke="#a3a3a3" stroke-width="0.7" fill="none"/>
<path d="M118.44,987.2V989.63M116.94,987.2H119.94M116.94,989.63H119.94" stroke="#a3a3a3" stroke-width="0.7" fill="none"/>
<path d="M121.07,987.73V990.16M119.57,987.73H122.57M119.57,990.16H122.57" stroke="#a3a3a3" stroke-width="0.7" fill="none"/>
<path d="M123.71,988.16V990.59M122.21,988.16H125.21M122.21,990.59H125.21" stroke="#a3a3a3" stroke-width="0.7" fill="none"/>
<path d="M126.34,987.82V990.25M124.84,987.82H127.84M124.84,990.25H127.84" stroke="#a3a3a3" stroke-width="0.7" fill="none"/>
<path d="M128.98,987.99V990.42M127.48,987.99H130.48M127.48,990.42H130.48" stroke="#a3a3a3" stroke-width="0.7" fill="none"/>
<path d="M131.61,988.53V990.97M130.11,988.53H133.11M130.11,990.97H133.11" stroke="#a3a3a3" stroke-width="0.7" fill="none"/>
<path d="M134.24,988.27V990.7M132.74,988.27H135.74M132.74,990.7H135.74" stroke="#a3a3a3" stroke-width="0.7" fill="none"/>
<path d="M136.88,988.11V990.54M135.38,988.11H138.38M135.38,990.54H138.38" stroke="#a3a3a3" stroke-width="0.7" fill="none"/>
<path d="M139.51,988.65V991.08M138.01,988.65H141.01M138.01,991.08H141.01" stroke="#a3a3a3" stroke-width="0.7" fill="none"/>
<path d="M142.15,988.6V991.03M140.65,988.6H143.65M140.65,991.03H143.65" stroke="#a3a3a3" stroke-width="0.7" fill="none"/>
<path d="M144.78,988.2V990.64M143.28,988.2H146.28M143.28,990.64H146.28" stroke="#a3a3a3" stroke-width="0.7" fill="none"/>
<path d="M147.42,988.6V991.03M145.92,988.6H148.92M145.92,991.03H148.92" stroke="#a3a3a3" stroke-width="0.7" fill="none"/>
<path d="M150.05,988.82V991.25M148.55,988.82H151.55M148.55,991.25H151.55" stroke="#a3a3a3" stroke-width="0.7" fill="none"/>
<path d="M152.69,988.34V990.77M151.19,988.34H154.19M151.19,990.77H154.19" stroke="#a3a3a3" stroke-width="0.7" fill="none"/>
<path d="M155.32,988.49V990.92M153.82,988.49H156.82M153.82,990.92H156.82" stroke="#a3a3a3" stroke-width="0.7" fill="none"/>
<path d="M157.96,988.91V991.34M156.46,988.91H159.46M156.46,991.34H159.46" stroke="#a3a3a3" stroke-width="0.7" fill="none"/>
<path d="M160.59,988.53V990.96M159.09,988.53H162.09M159.09,990.96H162.09" stroke="#a3a3a3" stroke-width="0.7" fill="none"/>
<path d="M163.22,988.38V990.81M161.72,988.38H164.72M161.72,990.81H164.72" stroke="#a3a3a3" stroke-width="0.7" fill="none"/>
<path d="M165.86,988.88V991.31M164.36,988.88H167.36M164.36,991.31H167.36" stroke="#a3a3a3" stroke-width="0.7" fill="none"/>
<path d="M168.49,988.72V991.15M166.99,988.72H169.99M166.99,991.15H169.99" stroke="#a3a3a3" stroke-width="0.7" fill="none"/>
<path d="M171.13,988.34V990.77M169.63,988.34H172.63M169.63,990.77H172.63" stroke="#a3a3a3" stroke-width="0.7" fill="none"/>
<path d="M173.76,988.76V991.19M172.26,988.76H175.26M172.26,991.19H175.26" stroke="#a3a3a3" stroke-width="0.7" fill="none"/>
<path d="M176.4,988.88V991.31M174.9,988.88H177.9M174.9,991.31H177.9" stroke="#a3a3a3" stroke-width="0.7" fill="none"/>
<path d="M179.03,988.39V990.82M177.53,988.39H180.53M177.53,990.82H180.53" stroke="#a3a3a3" stroke-width="0.7" fill="none"/>
<path d="M181.67,988.59V991.02M180.17,988.59H183.17M180.17,991.02H183.17" stroke="#a3a3a3" stroke-width="0.7" fill="none"/>
<path d="M184.3,988.96V991.39M182.8,988.96H185.8M182.8,991.39H185.8" stroke="#a3a3a3" stroke-width="0.7" fill="none"/>
<path d="M202.9,977.42V981.06M201.4,977.42H204.4M201.4,981.06H204.4" stroke="#c078c4" stroke-width="0.7" fill="none"/>
<path d="M202.9,977.42V981.06M201.4,977.42H204.4M201.4,981.06H204.4" stroke="#a3a3a3" stroke-width="0.7" fill="none"/>
<path d="M212.4,985.93V989.58M210.9,985.93H213.9M210.9,989.58H213.9" stroke="#c078c4" stroke-width="0.7" fill="none"/>
<path d="M212.4,985.93V989.58M210.9,985.93H213.9M210.9,989.58H213.9" stroke="#a3a3a3" stroke-width="0.7" fill="none"/>
<path d="M222.3,988.66V992.31M220.8,988.66H223.8M220.8,992.31H223.8" stroke="#c078c4" stroke-width="0.7" fill="none"/>
<path d="M222.3,988.66V992.31M220.8,988.66H223.8M220.8,992.31H223.8" stroke="#a3a3a3" stroke-width="0.7" fill="none"/>
<path d="M232.2,990.49V994.14M230.7,990.49H233.7M230.7,994.14H233.7" stroke="#c078c4" stroke-width="0.7" fill="none"/>
<path d="M232.2,990.49V994.14M230.7,990.49H233.7M230.7,994.14H233.7" stroke="#a3a3a3" stroke-width="0.7" fill="none"/>
<path d="M242.1,991.1V994.74M240.6,991.1H243.6M240.6,994.74H243.6" stroke="#c078c4" stroke-width="0.7" fill="none"/>
<path d="M242.1,991.1V994.74M240.6,991.1H243.6M240.6,994.74H243.6" stroke="#a3a3a3" stroke-width="0.7" fill="none"/>
<circle cx="56.1" cy="991.4" r="2.05" fill="#fff" stroke="#c078c4" stroke-width="0.85"/>
<circle cx="56.1" cy="991.4" r="2.05" fill="#fff" stroke="#a3a3a3" stroke-width="0.85"/>
<circle cx="86.1" cy="991.4" r="2.05" fill="#fff" stroke="#c078c4" stroke-width="0.85"/>
<circle cx="86.1" cy="991.4" r="2.05" fill="#fff" stroke="#a3a3a3" stroke-width="0.85"/>
<circle cx="107.9" cy="993.22" r="2.05" fill="#fff" stroke="#c078c4" stroke-width="0.85"/>
<circle cx="110.53" cy="983.49" r="2.05" fill="#fff" stroke="#c078c4" stroke-width="0.85"/>
<circle cx="113.17" cy="984.39" r="2.05" fill="#fff" stroke="#c078c4" stroke-width="0.85"/>
<circle cx="115.8" cy="984.29" r="2.05" fill="#fff" stroke="#c078c4" stroke-width="0.85"/>
<circle cx="118.44" cy="984.17" r="2.05" fill="#fff" stroke="#c078c4" stroke-width="0.85"/>
<circle cx="121.07" cy="984.96" r="2.05" fill="#fff" stroke="#c078c4" stroke-width="0.85"/>
<circle cx="123.71" cy="984.75" r="2.05" fill="#fff" stroke="#c078c4" stroke-width="0.85"/>
<circle cx="126.34" cy="984.55" r="2.05" fill="#fff" stroke="#c078c4" stroke-width="0.85"/>
<circle cx="128.98" cy="985.27" r="2.05" fill="#fff" stroke="#c078c4" stroke-width="0.85"/>
<circle cx="131.61" cy="984.99" r="2.05" fill="#fff" stroke="#c078c4" stroke-width="0.85"/>
<circle cx="134.24" cy="984.76" r="2.05" fill="#fff" stroke="#c078c4" stroke-width="0.85"/>
<circle cx="136.88" cy="985.44" r="2.05" fill="#fff" stroke="#c078c4" stroke-width="0.85"/>
<circle cx="139.51" cy="985.13" r="2.05" fill="#fff" stroke="#c078c4" stroke-width="0.85"/>
<circle cx="142.15" cy="984.88" r="2.05" fill="#fff" stroke="#c078c4" stroke-width="0.85"/>
<circle cx="144.78" cy="985.54" r="2.05" fill="#fff" stroke="#c078c4" stroke-width="0.85"/>
<circle cx="147.42" cy="985.2" r="2.05" fill="#fff" stroke="#c078c4" stroke-width="0.85"/>
<circle cx="150.05" cy="984.95" r="2.05" fill="#fff" stroke="#c078c4" stroke-width="0.85"/>
<circle cx="152.69" cy="985.59" r="2.05" fill="#fff" stroke="#c078c4" stroke-width="0.85"/>
<circle cx="155.32" cy="985.23" r="2.05" fill="#fff" stroke="#c078c4" stroke-width="0.85"/>
<circle cx="157.96" cy="984.98" r="2.05" fill="#fff" stroke="#c078c4" stroke-width="0.85"/>
<circle cx="160.59" cy="985.62" r="2.05" fill="#fff" stroke="#c078c4" stroke-width="0.85"/>
<circle cx="163.22" cy="985.25" r="2.05" fill="#fff" stroke="#c078c4" stroke-width="0.85"/>
<circle cx="165.86" cy="985.01" r="2.05" fill="#fff" stroke="#c078c4" stroke-width="0.85"/>
<circle cx="168.49" cy="985.64" r="2.05" fill="#fff" stroke="#c078c4" stroke-width="0.85"/>
<circle cx="171.13" cy="985.26" r="2.05" fill="#fff" stroke="#c078c4" stroke-width="0.85"/>
<circle cx="173.76" cy="985.02" r="2.05" fill="#fff" stroke="#c078c4" stroke-width="0.85"/>
<circle cx="176.4" cy="985.65" r="2.05" fill="#fff" stroke="#c078c4" stroke-width="0.85"/>
<circle cx="179.03" cy="985.26" r="2.05" fill="#fff" stroke="#c078c4" stroke-width="0.85"/>
<circle cx="181.67" cy="985.03" r="2.05" fill="#fff" stroke="#c078c4" stroke-width="0.85"/>
<circle cx="184.3" cy="985.66" r="2.05" fill="#fff" stroke="#c078c4" stroke-width="0.85"/>
<circle cx="107.9" cy="993.83" r="2.05" fill="#fff" stroke="#a3a3a3" stroke-width="0.85"/>
<circle cx="110.53" cy="987.46" r="2.05" fill="#fff" stroke="#a3a3a3" stroke-width="0.85"/>
<circle cx="113.17" cy="988.32" r="2.05" fill="#fff" stroke="#a3a3a3" stroke-width="0.85"/>
<circle cx="115.8" cy="988.62" r="2.05" fill="#fff" stroke="#a3a3a3" stroke-width="0.85"/>
<circle cx="118.44" cy="988.42" r="2.05" fill="#fff" stroke="#a3a3a3" stroke-width="0.85"/>
<circle cx="121.07" cy="988.95" r="2.05" fill="#fff" stroke="#a3a3a3" stroke-width="0.85"/>
<circle cx="123.71" cy="989.38" r="2.05" fill="#fff" stroke="#a3a3a3" stroke-width="0.85"/>
<circle cx="126.34" cy="989.04" r="2.05" fill="#fff" stroke="#a3a3a3" stroke-width="0.85"/>
<circle cx="128.98" cy="989.21" r="2.05" fill="#fff" stroke="#a3a3a3" stroke-width="0.85"/>
<circle cx="131.61" cy="989.75" r="2.05" fill="#fff" stroke="#a3a3a3" stroke-width="0.85"/>
<circle cx="134.24" cy="989.48" r="2.05" fill="#fff" stroke="#a3a3a3" stroke-width="0.85"/>
<circle cx="136.88" cy="989.32" r="2.05" fill="#fff" stroke="#a3a3a3" stroke-width="0.85"/>
<circle cx="139.51" cy="989.86" r="2.05" fill="#fff" stroke="#a3a3a3" stroke-width="0.85"/>
<circle cx="142.15" cy="989.81" r="2.05" fill="#fff" stroke="#a3a3a3" stroke-width="0.85"/>
<circle cx="144.78" cy="989.42" r="2.05" fill="#fff" stroke="#a3a3a3" stroke-width="0.85"/>
<circle cx="147.42" cy="989.82" r="2.05" fill="#fff" stroke="#a3a3a3" stroke-width="0.85"/>
<circle cx="150.05" cy="990.03" r="2.05" fill="#fff" stroke="#a3a3a3" stroke-width="0.85"/>
<circle cx="152.69" cy="989.56" r="2.05" fill="#fff" stroke="#a3a3a3" stroke-width="0.85"/>
<circle cx="155.32" cy="989.7" r="2.05" fill="#fff" stroke="#a3a3a3" stroke-width="0.85"/>
<circle cx="157.96" cy="990.13" r="2.05" fill="#fff" stroke="#a3a3a3" stroke-width="0.85"/>
<circle cx="160.59" cy="989.74" r="2.05" fill="#fff" stroke="#a3a3a3" stroke-width="0.85"/>
<circle cx="163.22" cy="989.6" r="2.05" fill="#fff" stroke="#a3a3a3" stroke-width="0.85"/>
<circle cx="165.86" cy="990.1" r="2.05" fill="#fff" stroke="#a3a3a3" stroke-width="0.85"/>
<circle cx="168.49" cy="989.94" r="2.05" fill="#fff" stroke="#a3a3a3" stroke-width="0.85"/>
<circle cx="171.13" cy="989.55" r="2.05" fill="#fff" stroke="#a3a3a3" stroke-width="0.85"/>
<circle cx="173.76" cy="989.97" r="2.05" fill="#fff" stroke="#a3a3a3" stroke-width="0.85"/>
<circle cx="176.4" cy="990.1" r="2.05" fill="#fff" stroke="#a3a3a3" stroke-width="0.85"/>
<circle cx="179.03" cy="989.61" r="2.05" fill="#fff" stroke="#a3a3a3" stroke-width="0.85"/>
<circle cx="181.67" cy="989.81" r="2.05" fill="#fff" stroke="#a3a3a3" stroke-width="0.85"/>
<circle cx="184.3" cy="990.17" r="2.05" fill="#fff" stroke="#a3a3a3" stroke-width="0.85"/>
<circle cx="202.9" cy="979.24" r="2.05" fill="#fff" stroke="#c078c4" stroke-width="0.85"/>
<circle cx="202.9" cy="979.24" r="2.05" fill="#fff" stroke="#a3a3a3" stroke-width="0.85"/>
<circle cx="212.4" cy="987.75" r="2.05" fill="#fff" stroke="#c078c4" stroke-width="0.85"/>
<circle cx="212.4" cy="987.75" r="2.05" fill="#fff" stroke="#a3a3a3" stroke-width="0.85"/>
<circle cx="222.3" cy="990.49" r="2.05" fill="#fff" stroke="#c078c4" stroke-width="0.85"/>
<circle cx="222.3" cy="990.49" r="2.05" fill="#fff" stroke="#a3a3a3" stroke-width="0.85"/>
<circle cx="232.2" cy="992.31" r="2.05" fill="#fff" stroke="#c078c4" stroke-width="0.85"/>
<circle cx="232.2" cy="992.31" r="2.05" fill="#fff" stroke="#a3a3a3" stroke-width="0.85"/>
<circle cx="242.1" cy="992.92" r="2.05" fill="#fff" stroke="#c078c4" stroke-width="0.85"/>
<circle cx="242.1" cy="992.92" r="2.05" fill="#fff" stroke="#a3a3a3" stroke-width="0.85"/>
<text x="271" y="913.2" font-size="11.5" style="fill:#111;stroke:#111" font-weight="bold">w</text>
<line x1="320.1" y1="944.5" x2="320.1" y2="1021.6" stroke="#2b2b2b" stroke-width="1.25" />
<line x1="314.6" y1="1021" x2="320.1" y2="1021" stroke="#2b2b2b" stroke-width="1" />
<text x="312.6" y="1024.67" font-size="10.2" text-anchor="end">0</text>
<line x1="314.6" y1="995.5" x2="320.1" y2="995.5" stroke="#2b2b2b" stroke-width="1" />
<text x="312.6" y="999.17" font-size="10.2" text-anchor="end">1</text>
<line x1="314.6" y1="970" x2="320.1" y2="970" stroke="#2b2b2b" stroke-width="1" />
<text x="312.6" y="973.67" font-size="10.2" text-anchor="end">2</text>
<line x1="314.6" y1="944.5" x2="320.1" y2="944.5" stroke="#2b2b2b" stroke-width="1" />
<text x="312.6" y="948.17" font-size="10.2" text-anchor="end">3</text>
<line x1="314.6" y1="1021" x2="320.1" y2="1021" stroke="#2b2b2b" stroke-width="1.1" />
<line x1="320.1" y1="1021" x2="353.6" y2="1021" stroke="#2b2b2b" stroke-width="1.25" />
<line x1="353.6" y1="1015.8" x2="353.6" y2="1026" stroke="#2b2b2b" stroke-width="1.1" />
<line x1="320.1" y1="1021" x2="320.1" y2="1025.6" stroke="#2b2b2b" stroke-width="1" />
<text x="320.1" y="1037.67" font-size="10.2" text-anchor="middle">0</text>
<line x1="336.7" y1="1021" x2="336.7" y2="1025.6" stroke="#2b2b2b" stroke-width="1" />
<text x="336.7" y="1037.67" font-size="10.2" text-anchor="middle">10</text>
<line x1="352.8" y1="1021" x2="352.8" y2="1025.6" stroke="#2b2b2b" stroke-width="1" />
<text x="352.8" y="1037.67" font-size="10.2" text-anchor="middle">20</text>
<line x1="369.4" y1="1021" x2="448.1" y2="1021" stroke="#2b2b2b" stroke-width="1.25" />
<line x1="369.4" y1="1015.8" x2="369.4" y2="1026" stroke="#2b2b2b" stroke-width="1.1" />
<line x1="448.1" y1="1015.8" x2="448.1" y2="1026" stroke="#2b2b2b" stroke-width="1.1" />
<line x1="369.4" y1="1021" x2="369.4" y2="1025.6" stroke="#2b2b2b" stroke-width="1" />
<text x="369.4" y="1037.67" font-size="10.2" text-anchor="middle">30</text>
<line x1="385.1" y1="1021" x2="385.1" y2="1025.6" stroke="#2b2b2b" stroke-width="1" />
<line x1="400.9" y1="1021" x2="400.9" y2="1025.6" stroke="#2b2b2b" stroke-width="1" />
<line x1="416.6" y1="1021" x2="416.6" y2="1025.6" stroke="#2b2b2b" stroke-width="1" />
<line x1="432.4" y1="1021" x2="432.4" y2="1025.6" stroke="#2b2b2b" stroke-width="1" />
<line x1="448.1" y1="1021" x2="448.1" y2="1025.6" stroke="#2b2b2b" stroke-width="1" />
<text x="448.1" y="1037.67" font-size="10.2" text-anchor="middle">31</text>
<line x1="464.7" y1="1021" x2="511.4" y2="1021" stroke="#2b2b2b" stroke-width="1.25" />
<line x1="464.7" y1="1015.8" x2="464.7" y2="1026" stroke="#2b2b2b" stroke-width="1.1" />
<line x1="472.9" y1="1021" x2="472.9" y2="1025.6" stroke="#2b2b2b" stroke-width="1" />
<text x="472.9" y="1037.67" font-size="10.2" text-anchor="middle">40</text>
<line x1="487.8" y1="1021" x2="487.8" y2="1025.6" stroke="#2b2b2b" stroke-width="1" />
<text x="487.8" y="1037.67" font-size="10.2" text-anchor="middle">60</text>
<line x1="502.7" y1="1021" x2="502.7" y2="1025.6" stroke="#2b2b2b" stroke-width="1" />
<text x="502.7" y="1037.67" font-size="10.2" text-anchor="middle">100</text>
<line x1="511.4" y1="1021" x2="511.4" y2="1025.6" stroke="#2b2b2b" stroke-width="1" />
<text x="405.7" y="1051.6" font-size="10.2" text-anchor="middle">Time (s)</text>
<text x="287.27" y="982.4" font-size="10.2" text-anchor="middle" transform="rotate(-90 287.27 982.4)">Normalized</text>
<text x="298.97" y="982.4" font-size="10.2" text-anchor="middle" transform="rotate(-90 298.97 982.4)">eEPSC amplitude</text>
<line x1="320.1" y1="995.5" x2="512" y2="995.5" stroke="#444" stroke-width="1" stroke-dasharray="1 2.9"/>
<line x1="368" y1="974" x2="447" y2="974" stroke="#8a8a8a" stroke-width="1.4" />
<text x="407.5" y="972.01" font-size="9.2" text-anchor="middle">40 Hz</text>
<circle cx="331.7" cy="936.3" r="2.2" fill="#fff" stroke="#a3a3a3" stroke-width="0.85"/>
<text x="339.5" y="939.66" font-size="9.6">WT (n=18)</text>
<circle cx="331.7" cy="951.8" r="2.2" fill="#fff" stroke="#c078c4" stroke-width="0.85"/>
<text x="339.5" y="955.16" font-size="9.6">N1013S (n=19)</text>
<path d="M369.4,994.23V996.77M367.9,994.23H370.9M367.9,996.77H370.9" stroke="#c078c4" stroke-width="0.7" fill="none"/>
<path d="M371.42,986.08V988.63M369.92,986.08H372.92M369.92,988.63H372.92" stroke="#c078c4" stroke-width="0.7" fill="none"/>
<path d="M373.44,988.5V991.05M371.94,988.5H374.94M371.94,991.05H374.94" stroke="#c078c4" stroke-width="0.7" fill="none"/>
<path d="M375.45,991.09V993.64M373.95,991.09H376.95M373.95,993.64H376.95" stroke="#c078c4" stroke-width="0.7" fill="none"/>
<path d="M377.47,992.97V995.52M375.97,992.97H378.97M375.97,995.52H378.97" stroke="#c078c4" stroke-width="0.7" fill="none"/>
<path d="M379.49,994.03V996.58M377.99,994.03H380.99M377.99,996.58H380.99" stroke="#c078c4" stroke-width="0.7" fill="none"/>
<path d="M381.51,995.1V997.65M380.01,995.1H383.01M380.01,997.65H383.01" stroke="#c078c4" stroke-width="0.7" fill="none"/>
<path d="M383.53,996.77V999.32M382.03,996.77H385.03M382.03,999.32H385.03" stroke="#c078c4" stroke-width="0.7" fill="none"/>
<path d="M385.54,998.55V1001.1M384.04,998.55H387.04M384.04,1001.1H387.04" stroke="#c078c4" stroke-width="0.7" fill="none"/>
<path d="M387.56,999.6V1002.15M386.06,999.6H389.06M386.06,1002.15H389.06" stroke="#c078c4" stroke-width="0.7" fill="none"/>
<path d="M389.58,999.98V1002.53M388.08,999.98H391.08M388.08,1002.53H391.08" stroke="#c078c4" stroke-width="0.7" fill="none"/>
<path d="M391.6,1000.58V1003.13M390.1,1000.58H393.1M390.1,1003.13H393.1" stroke="#c078c4" stroke-width="0.7" fill="none"/>
<path d="M393.62,1001.83V1004.38M392.12,1001.83H395.12M392.12,1004.38H395.12" stroke="#c078c4" stroke-width="0.7" fill="none"/>
<path d="M395.63,1003.09V1005.64M394.13,1003.09H397.13M394.13,1005.64H397.13" stroke="#c078c4" stroke-width="0.7" fill="none"/>
<path d="M397.65,1003.58V1006.13M396.15,1003.58H399.15M396.15,1006.13H399.15" stroke="#c078c4" stroke-width="0.7" fill="none"/>
<path d="M399.67,1003.56V1006.11M398.17,1003.56H401.17M398.17,1006.11H401.17" stroke="#c078c4" stroke-width="0.7" fill="none"/>
<path d="M401.69,1003.93V1006.48M400.19,1003.93H403.19M400.19,1006.48H403.19" stroke="#c078c4" stroke-width="0.7" fill="none"/>
<path d="M403.71,1004.95V1007.5M402.21,1004.95H405.21M402.21,1007.5H405.21" stroke="#c078c4" stroke-width="0.7" fill="none"/>
<path d="M405.72,1005.84V1008.39M404.22,1005.84H407.22M404.22,1008.39H407.22" stroke="#c078c4" stroke-width="0.7" fill="none"/>
<path d="M407.74,1005.95V1008.5M406.24,1005.95H409.24M406.24,1008.5H409.24" stroke="#c078c4" stroke-width="0.7" fill="none"/>
<path d="M409.76,1005.7V1008.25M408.26,1005.7H411.26M408.26,1008.25H411.26" stroke="#c078c4" stroke-width="0.7" fill="none"/>
<path d="M411.78,1006V1008.55M410.28,1006H413.28M410.28,1008.55H413.28" stroke="#c078c4" stroke-width="0.7" fill="none"/>
<path d="M413.79,1006.88V1009.43M412.29,1006.88H415.29M412.29,1009.43H415.29" stroke="#c078c4" stroke-width="0.7" fill="none"/>
<path d="M415.81,1007.49V1010.04M414.31,1007.49H417.31M414.31,1010.04H417.31" stroke="#c078c4" stroke-width="0.7" fill="none"/>
<path d="M417.83,1007.33V1009.88M416.33,1007.33H419.33M416.33,1009.88H419.33" stroke="#c078c4" stroke-width="0.7" fill="none"/>
<path d="M419.85,1006.99V1009.54M418.35,1006.99H421.35M418.35,1009.54H421.35" stroke="#c078c4" stroke-width="0.7" fill="none"/>
<path d="M421.87,1007.29V1009.84M420.37,1007.29H423.37M420.37,1009.84H423.37" stroke="#c078c4" stroke-width="0.7" fill="none"/>
<path d="M423.88,1008.08V1010.63M422.38,1008.08H425.38M422.38,1010.63H425.38" stroke="#c078c4" stroke-width="0.7" fill="none"/>
<path d="M425.9,1008.47V1011.02M424.4,1008.47H427.4M424.4,1011.02H427.4" stroke="#c078c4" stroke-width="0.7" fill="none"/>
<path d="M427.92,1008.13V1010.68M426.42,1008.13H429.42M426.42,1010.68H429.42" stroke="#c078c4" stroke-width="0.7" fill="none"/>
<path d="M429.94,1007.77V1010.32M428.44,1007.77H431.44M428.44,1010.32H431.44" stroke="#c078c4" stroke-width="0.7" fill="none"/>
<path d="M431.96,1008.12V1010.67M430.46,1008.12H433.46M430.46,1010.67H433.46" stroke="#c078c4" stroke-width="0.7" fill="none"/>
<path d="M433.97,1008.84V1011.39M432.47,1008.84H435.47M432.47,1011.39H435.47" stroke="#c078c4" stroke-width="0.7" fill="none"/>
<path d="M435.99,1009.04V1011.59M434.49,1009.04H437.49M434.49,1011.59H437.49" stroke="#c078c4" stroke-width="0.7" fill="none"/>
<path d="M438.01,1008.57V1011.12M436.51,1008.57H439.51M436.51,1011.12H439.51" stroke="#c078c4" stroke-width="0.7" fill="none"/>
<path d="M440.03,1008.25V1010.8M438.53,1008.25H441.53M438.53,1010.8H441.53" stroke="#c078c4" stroke-width="0.7" fill="none"/>
<path d="M442.05,1008.67V1011.22M440.55,1008.67H443.55M440.55,1011.22H443.55" stroke="#c078c4" stroke-width="0.7" fill="none"/>
<path d="M444.06,1009.32V1011.87M442.56,1009.32H445.56M442.56,1011.87H445.56" stroke="#c078c4" stroke-width="0.7" fill="none"/>
<path d="M446.08,1009.35V1011.9M444.58,1009.35H447.58M444.58,1011.9H447.58" stroke="#c078c4" stroke-width="0.7" fill="none"/>
<path d="M448.1,1008.8V1011.35M446.6,1008.8H449.6M446.6,1011.35H449.6" stroke="#c078c4" stroke-width="0.7" fill="none"/>
<path d="M369.4,995.25V997.28M367.9,995.25H370.9M367.9,997.28H370.9" stroke="#a3a3a3" stroke-width="0.7" fill="none"/>
<path d="M371.42,988.19V990.23M369.92,988.19H372.92M369.92,990.23H372.92" stroke="#a3a3a3" stroke-width="0.7" fill="none"/>
<path d="M373.44,990.7V992.74M371.94,990.7H374.94M371.94,992.74H374.94" stroke="#a3a3a3" stroke-width="0.7" fill="none"/>
<path d="M375.45,993.37V995.41M373.95,993.37H376.95M373.95,995.41H376.95" stroke="#a3a3a3" stroke-width="0.7" fill="none"/>
<path d="M377.47,995.87V997.91M375.97,995.87H378.97M375.97,997.91H378.97" stroke="#a3a3a3" stroke-width="0.7" fill="none"/>
<path d="M379.49,997.8V999.84M377.99,997.8H380.99M377.99,999.84H380.99" stroke="#a3a3a3" stroke-width="0.7" fill="none"/>
<path d="M381.51,999.08V1001.12M380.01,999.08H383.01M380.01,1001.12H383.01" stroke="#a3a3a3" stroke-width="0.7" fill="none"/>
<path d="M383.53,1000.07V1002.11M382.03,1000.07H385.03M382.03,1002.11H385.03" stroke="#a3a3a3" stroke-width="0.7" fill="none"/>
<path d="M385.54,1001.21V1003.25M384.04,1001.21H387.04M384.04,1003.25H387.04" stroke="#a3a3a3" stroke-width="0.7" fill="none"/>
<path d="M387.56,1002.67V1004.71M386.06,1002.67H389.06M386.06,1004.71H389.06" stroke="#a3a3a3" stroke-width="0.7" fill="none"/>
<path d="M389.58,1004.21V1006.25M388.08,1004.21H391.08M388.08,1006.25H391.08" stroke="#a3a3a3" stroke-width="0.7" fill="none"/>
<path d="M391.6,1005.38V1007.42M390.1,1005.38H393.1M390.1,1007.42H393.1" stroke="#a3a3a3" stroke-width="0.7" fill="none"/>
<path d="M393.62,1005.98V1008.02M392.12,1005.98H395.12M392.12,1008.02H395.12" stroke="#a3a3a3" stroke-width="0.7" fill="none"/>
<path d="M395.63,1006.24V1008.28M394.13,1006.24H397.13M394.13,1008.28H397.13" stroke="#a3a3a3" stroke-width="0.7" fill="none"/>
<path d="M397.65,1006.62V1008.66M396.15,1006.62H399.15M396.15,1008.66H399.15" stroke="#a3a3a3" stroke-width="0.7" fill="none"/>
<path d="M399.67,1007.4V1009.44M398.17,1007.4H401.17M398.17,1009.44H401.17" stroke="#a3a3a3" stroke-width="0.7" fill="none"/>
<path d="M401.69,1008.41V1010.45M400.19,1008.41H403.19M400.19,1010.45H403.19" stroke="#a3a3a3" stroke-width="0.7" fill="none"/>
<path d="M403.71,1009.24V1011.28M402.21,1009.24H405.21M402.21,1011.28H405.21" stroke="#a3a3a3" stroke-width="0.7" fill="none"/>
<path d="M405.72,1009.56V1011.6M404.22,1009.56H407.22M404.22,1011.6H407.22" stroke="#a3a3a3" stroke-width="0.7" fill="none"/>
<path d="M407.74,1009.49V1011.53M406.24,1009.49H409.24M406.24,1011.53H409.24" stroke="#a3a3a3" stroke-width="0.7" fill="none"/>
<path d="M409.76,1009.44V1011.48M408.26,1009.44H411.26M408.26,1011.48H411.26" stroke="#a3a3a3" stroke-width="0.7" fill="none"/>
<path d="M411.78,1009.79V1011.83M410.28,1009.79H413.28M410.28,1011.83H413.28" stroke="#a3a3a3" stroke-width="0.7" fill="none"/>
<path d="M413.79,1010.5V1012.54M412.29,1010.5H415.29M412.29,1012.54H415.29" stroke="#a3a3a3" stroke-width="0.7" fill="none"/>
<path d="M415.81,1011.17V1013.21M414.31,1011.17H417.31M414.31,1013.21H417.31" stroke="#a3a3a3" stroke-width="0.7" fill="none"/>
<path d="M417.83,1011.42V1013.46M416.33,1011.42H419.33M416.33,1013.46H419.33" stroke="#a3a3a3" stroke-width="0.7" fill="none"/>
<path d="M419.85,1011.22V1013.26M418.35,1011.22H421.35M418.35,1013.26H421.35" stroke="#a3a3a3" stroke-width="0.7" fill="none"/>
<path d="M421.87,1010.94V1012.98M420.37,1010.94H423.37M420.37,1012.98H423.37" stroke="#a3a3a3" stroke-width="0.7" fill="none"/>
<path d="M423.88,1011V1013.04M422.38,1011H425.38M422.38,1013.04H425.38" stroke="#a3a3a3" stroke-width="0.7" fill="none"/>
<path d="M425.9,1011.5V1013.54M424.4,1011.5H427.4M424.4,1013.54H427.4" stroke="#a3a3a3" stroke-width="0.7" fill="none"/>
<path d="M427.92,1012.1V1014.14M426.42,1012.1H429.42M426.42,1014.14H429.42" stroke="#a3a3a3" stroke-width="0.7" fill="none"/>
<path d="M429.94,1012.38V1014.42M428.44,1012.38H431.44M428.44,1014.42H431.44" stroke="#a3a3a3" stroke-width="0.7" fill="none"/>
<path d="M431.96,1012.18V1014.22M430.46,1012.18H433.46M430.46,1014.22H433.46" stroke="#a3a3a3" stroke-width="0.7" fill="none"/>
<path d="M433.97,1011.79V1013.83M432.47,1011.79H435.47M432.47,1013.83H435.47" stroke="#a3a3a3" stroke-width="0.7" fill="none"/>
<path d="M435.99,1011.64V1013.68M434.49,1011.64H437.49M434.49,1013.68H437.49" stroke="#a3a3a3" stroke-width="0.7" fill="none"/>
<path d="M438.01,1011.95V1013.99M436.51,1011.95H439.51M436.51,1013.99H439.51" stroke="#a3a3a3" stroke-width="0.7" fill="none"/>
<path d="M440.03,1012.5V1014.54M438.53,1012.5H441.53M438.53,1014.54H441.53" stroke="#a3a3a3" stroke-width="0.7" fill="none"/>
<path d="M442.05,1012.85V1014.89M440.55,1012.85H443.55M440.55,1014.89H443.55" stroke="#a3a3a3" stroke-width="0.7" fill="none"/>
<path d="M444.06,1012.72V1014.76M442.56,1012.72H445.56M442.56,1014.76H445.56" stroke="#a3a3a3" stroke-width="0.7" fill="none"/>
<path d="M446.08,1012.29V1014.33M444.58,1012.29H447.58M444.58,1014.33H447.58" stroke="#a3a3a3" stroke-width="0.7" fill="none"/>
<path d="M448.1,1011.99V1014.03M446.6,1011.99H449.6M446.6,1014.03H449.6" stroke="#a3a3a3" stroke-width="0.7" fill="none"/>
<path d="M464.7,960.82V964.9M463.2,960.82H466.2M463.2,964.9H466.2" stroke="#c078c4" stroke-width="0.7" fill="none"/>
<path d="M464.7,967.96V972.04M463.2,967.96H466.2M463.2,972.04H466.2" stroke="#a3a3a3" stroke-width="0.7" fill="none"/>
<path d="M472.9,978.92V983M471.4,978.92H474.4M471.4,983H474.4" stroke="#c078c4" stroke-width="0.7" fill="none"/>
<path d="M472.9,978.92V983M471.4,978.92H474.4M471.4,983H474.4" stroke="#a3a3a3" stroke-width="0.7" fill="none"/>
<path d="M481.1,987.09V991.16M479.6,987.09H482.6M479.6,991.16H482.6" stroke="#c078c4" stroke-width="0.7" fill="none"/>
<path d="M481.1,987.09V991.16M479.6,987.09H482.6M479.6,991.16H482.6" stroke="#a3a3a3" stroke-width="0.7" fill="none"/>
<path d="M489.1,990.14V994.23M487.6,990.14H490.6M487.6,994.23H490.6" stroke="#c078c4" stroke-width="0.7" fill="none"/>
<path d="M489.1,990.14V994.23M487.6,990.14H490.6M487.6,994.23H490.6" stroke="#a3a3a3" stroke-width="0.7" fill="none"/>
<path d="M497.3,991.42V995.5M495.8,991.42H498.8M495.8,995.5H498.8" stroke="#c078c4" stroke-width="0.7" fill="none"/>
<path d="M497.3,991.42V995.5M495.8,991.42H498.8M495.8,995.5H498.8" stroke="#a3a3a3" stroke-width="0.7" fill="none"/>
<path d="M505.7,992.95V997.03M504.2,992.95H507.2M504.2,997.03H507.2" stroke="#c078c4" stroke-width="0.7" fill="none"/>
<path d="M505.7,992.95V997.03M504.2,992.95H507.2M504.2,997.03H507.2" stroke="#a3a3a3" stroke-width="0.7" fill="none"/>
<circle cx="320.1" cy="994.48" r="2" fill="#fff" stroke="#c078c4" stroke-width="0.85"/>
<circle cx="320.1" cy="994.99" r="2" fill="#fff" stroke="#a3a3a3" stroke-width="0.85"/>
<circle cx="336.7" cy="995.5" r="2" fill="#fff" stroke="#a3a3a3" stroke-width="0.85"/>
<circle cx="352.8" cy="995.5" r="2" fill="#fff" stroke="#a3a3a3" stroke-width="0.85"/>
<circle cx="369.4" cy="995.5" r="2" fill="#fff" stroke="#c078c4" stroke-width="0.85"/>
<circle cx="371.42" cy="987.36" r="2" fill="#fff" stroke="#c078c4" stroke-width="0.85"/>
<circle cx="373.44" cy="989.77" r="2" fill="#fff" stroke="#c078c4" stroke-width="0.85"/>
<circle cx="375.45" cy="992.36" r="2" fill="#fff" stroke="#c078c4" stroke-width="0.85"/>
<circle cx="377.47" cy="994.25" r="2" fill="#fff" stroke="#c078c4" stroke-width="0.85"/>
<circle cx="379.49" cy="995.31" r="2" fill="#fff" stroke="#c078c4" stroke-width="0.85"/>
<circle cx="381.51" cy="996.37" r="2" fill="#fff" stroke="#c078c4" stroke-width="0.85"/>
<circle cx="383.53" cy="998.04" r="2" fill="#fff" stroke="#c078c4" stroke-width="0.85"/>
<circle cx="385.54" cy="999.83" r="2" fill="#fff" stroke="#c078c4" stroke-width="0.85"/>
<circle cx="387.56" cy="1000.88" r="2" fill="#fff" stroke="#c078c4" stroke-width="0.85"/>
<circle cx="389.58" cy="1001.25" r="2" fill="#fff" stroke="#c078c4" stroke-width="0.85"/>
<circle cx="391.6" cy="1001.85" r="2" fill="#fff" stroke="#c078c4" stroke-width="0.85"/>
<circle cx="393.62" cy="1003.11" r="2" fill="#fff" stroke="#c078c4" stroke-width="0.85"/>
<circle cx="395.63" cy="1004.36" r="2" fill="#fff" stroke="#c078c4" stroke-width="0.85"/>
<circle cx="397.65" cy="1004.85" r="2" fill="#fff" stroke="#c078c4" stroke-width="0.85"/>
<circle cx="399.67" cy="1004.83" r="2" fill="#fff" stroke="#c078c4" stroke-width="0.85"/>
<circle cx="401.69" cy="1005.21" r="2" fill="#fff" stroke="#c078c4" stroke-width="0.85"/>
<circle cx="403.71" cy="1006.22" r="2" fill="#fff" stroke="#c078c4" stroke-width="0.85"/>
<circle cx="405.72" cy="1007.11" r="2" fill="#fff" stroke="#c078c4" stroke-width="0.85"/>
<circle cx="407.74" cy="1007.22" r="2" fill="#fff" stroke="#c078c4" stroke-width="0.85"/>
<circle cx="409.76" cy="1006.98" r="2" fill="#fff" stroke="#c078c4" stroke-width="0.85"/>
<circle cx="411.78" cy="1007.27" r="2" fill="#fff" stroke="#c078c4" stroke-width="0.85"/>
<circle cx="413.79" cy="1008.15" r="2" fill="#fff" stroke="#c078c4" stroke-width="0.85"/>
<circle cx="415.81" cy="1008.77" r="2" fill="#fff" stroke="#c078c4" stroke-width="0.85"/>
<circle cx="417.83" cy="1008.61" r="2" fill="#fff" stroke="#c078c4" stroke-width="0.85"/>
<circle cx="419.85" cy="1008.27" r="2" fill="#fff" stroke="#c078c4" stroke-width="0.85"/>
<circle cx="421.87" cy="1008.57" r="2" fill="#fff" stroke="#c078c4" stroke-width="0.85"/>
<circle cx="423.88" cy="1009.36" r="2" fill="#fff" stroke="#c078c4" stroke-width="0.85"/>
<circle cx="425.9" cy="1009.75" r="2" fill="#fff" stroke="#c078c4" stroke-width="0.85"/>
<circle cx="427.92" cy="1009.4" r="2" fill="#fff" stroke="#c078c4" stroke-width="0.85"/>
<circle cx="429.94" cy="1009.05" r="2" fill="#fff" stroke="#c078c4" stroke-width="0.85"/>
<circle cx="431.96" cy="1009.39" r="2" fill="#fff" stroke="#c078c4" stroke-width="0.85"/>
<circle cx="433.97" cy="1010.12" r="2" fill="#fff" stroke="#c078c4" stroke-width="0.85"/>
<circle cx="435.99" cy="1010.31" r="2" fill="#fff" stroke="#c078c4" stroke-width="0.85"/>
<circle cx="438.01" cy="1009.84" r="2" fill="#fff" stroke="#c078c4" stroke-width="0.85"/>
<circle cx="440.03" cy="1009.52" r="2" fill="#fff" stroke="#c078c4" stroke-width="0.85"/>
<circle cx="442.05" cy="1009.94" r="2" fill="#fff" stroke="#c078c4" stroke-width="0.85"/>
<circle cx="444.06" cy="1010.6" r="2" fill="#fff" stroke="#c078c4" stroke-width="0.85"/>
<circle cx="446.08" cy="1010.62" r="2" fill="#fff" stroke="#c078c4" stroke-width="0.85"/>
<circle cx="448.1" cy="1010.07" r="2" fill="#fff" stroke="#c078c4" stroke-width="0.85"/>
<circle cx="369.4" cy="996.26" r="2" fill="#fff" stroke="#a3a3a3" stroke-width="0.85"/>
<circle cx="371.42" cy="989.21" r="2" fill="#fff" stroke="#a3a3a3" stroke-width="0.85"/>
<circle cx="373.44" cy="991.72" r="2" fill="#fff" stroke="#a3a3a3" stroke-width="0.85"/>
<circle cx="375.45" cy="994.39" r="2" fill="#fff" stroke="#a3a3a3" stroke-width="0.85"/>
<circle cx="377.47" cy="996.89" r="2" fill="#fff" stroke="#a3a3a3" stroke-width="0.85"/>
<circle cx="379.49" cy="998.82" r="2" fill="#fff" stroke="#a3a3a3" stroke-width="0.85"/>
<circle cx="381.51" cy="1000.1" r="2" fill="#fff" stroke="#a3a3a3" stroke-width="0.85"/>
<circle cx="383.53" cy="1001.09" r="2" fill="#fff" stroke="#a3a3a3" stroke-width="0.85"/>
<circle cx="385.54" cy="1002.23" r="2" fill="#fff" stroke="#a3a3a3" stroke-width="0.85"/>
<circle cx="387.56" cy="1003.69" r="2" fill="#fff" stroke="#a3a3a3" stroke-width="0.85"/>
<circle cx="389.58" cy="1005.23" r="2" fill="#fff" stroke="#a3a3a3" stroke-width="0.85"/>
<circle cx="391.6" cy="1006.4" r="2" fill="#fff" stroke="#a3a3a3" stroke-width="0.85"/>
<circle cx="393.62" cy="1007" r="2" fill="#fff" stroke="#a3a3a3" stroke-width="0.85"/>
<circle cx="395.63" cy="1007.26" r="2" fill="#fff" stroke="#a3a3a3" stroke-width="0.85"/>
<circle cx="397.65" cy="1007.64" r="2" fill="#fff" stroke="#a3a3a3" stroke-width="0.85"/>
<circle cx="399.67" cy="1008.42" r="2" fill="#fff" stroke="#a3a3a3" stroke-width="0.85"/>
<circle cx="401.69" cy="1009.43" r="2" fill="#fff" stroke="#a3a3a3" stroke-width="0.85"/>
<circle cx="403.71" cy="1010.26" r="2" fill="#fff" stroke="#a3a3a3" stroke-width="0.85"/>
<circle cx="405.72" cy="1010.58" r="2" fill="#fff" stroke="#a3a3a3" stroke-width="0.85"/>
<circle cx="407.74" cy="1010.51" r="2" fill="#fff" stroke="#a3a3a3" stroke-width="0.85"/>
<circle cx="409.76" cy="1010.46" r="2" fill="#fff" stroke="#a3a3a3" stroke-width="0.85"/>
<circle cx="411.78" cy="1010.81" r="2" fill="#fff" stroke="#a3a3a3" stroke-width="0.85"/>
<circle cx="413.79" cy="1011.52" r="2" fill="#fff" stroke="#a3a3a3" stroke-width="0.85"/>
<circle cx="415.81" cy="1012.19" r="2" fill="#fff" stroke="#a3a3a3" stroke-width="0.85"/>
<circle cx="417.83" cy="1012.44" r="2" fill="#fff" stroke="#a3a3a3" stroke-width="0.85"/>
<circle cx="419.85" cy="1012.24" r="2" fill="#fff" stroke="#a3a3a3" stroke-width="0.85"/>
<circle cx="421.87" cy="1011.96" r="2" fill="#fff" stroke="#a3a3a3" stroke-width="0.85"/>
<circle cx="423.88" cy="1012.02" r="2" fill="#fff" stroke="#a3a3a3" stroke-width="0.85"/>
<circle cx="425.9" cy="1012.52" r="2" fill="#fff" stroke="#a3a3a3" stroke-width="0.85"/>
<circle cx="427.92" cy="1013.12" r="2" fill="#fff" stroke="#a3a3a3" stroke-width="0.85"/>
<circle cx="429.94" cy="1013.4" r="2" fill="#fff" stroke="#a3a3a3" stroke-width="0.85"/>
<circle cx="431.96" cy="1013.2" r="2" fill="#fff" stroke="#a3a3a3" stroke-width="0.85"/>
<circle cx="433.97" cy="1012.81" r="2" fill="#fff" stroke="#a3a3a3" stroke-width="0.85"/>
<circle cx="435.99" cy="1012.66" r="2" fill="#fff" stroke="#a3a3a3" stroke-width="0.85"/>
<circle cx="438.01" cy="1012.97" r="2" fill="#fff" stroke="#a3a3a3" stroke-width="0.85"/>
<circle cx="440.03" cy="1013.52" r="2" fill="#fff" stroke="#a3a3a3" stroke-width="0.85"/>
<circle cx="442.05" cy="1013.87" r="2" fill="#fff" stroke="#a3a3a3" stroke-width="0.85"/>
<circle cx="444.06" cy="1013.74" r="2" fill="#fff" stroke="#a3a3a3" stroke-width="0.85"/>
<circle cx="446.08" cy="1013.31" r="2" fill="#fff" stroke="#a3a3a3" stroke-width="0.85"/>
<circle cx="448.1" cy="1013.01" r="2" fill="#fff" stroke="#a3a3a3" stroke-width="0.85"/>
<circle cx="464.7" cy="962.86" r="2" fill="#fff" stroke="#c078c4" stroke-width="0.85"/>
<circle cx="464.7" cy="970" r="2" fill="#fff" stroke="#a3a3a3" stroke-width="0.85"/>
<circle cx="472.9" cy="980.97" r="2" fill="#fff" stroke="#c078c4" stroke-width="0.85"/>
<circle cx="472.9" cy="980.97" r="2" fill="#fff" stroke="#a3a3a3" stroke-width="0.85"/>
<circle cx="481.1" cy="989.12" r="2" fill="#fff" stroke="#c078c4" stroke-width="0.85"/>
<circle cx="481.1" cy="989.12" r="2" fill="#fff" stroke="#a3a3a3" stroke-width="0.85"/>
<circle cx="489.1" cy="992.18" r="2" fill="#fff" stroke="#c078c4" stroke-width="0.85"/>
<circle cx="489.1" cy="992.18" r="2" fill="#fff" stroke="#a3a3a3" stroke-width="0.85"/>
<circle cx="497.3" cy="993.46" r="2" fill="#fff" stroke="#c078c4" stroke-width="0.85"/>
<circle cx="497.3" cy="993.46" r="2" fill="#fff" stroke="#a3a3a3" stroke-width="0.85"/>
<circle cx="505.7" cy="994.99" r="2" fill="#fff" stroke="#c078c4" stroke-width="0.85"/>
<circle cx="505.7" cy="994.99" r="2" fill="#fff" stroke="#a3a3a3" stroke-width="0.85"/>
<text x="533.2" y="912.9" font-size="11.5" style="fill:#111;stroke:#111" font-weight="bold">x</text>
<line x1="586.2" y1="925.9" x2="586.2" y2="1023.5" stroke="#2b2b2b" stroke-width="1.3" />
<line x1="580.7" y1="1022.9" x2="586.2" y2="1022.9" stroke="#2b2b2b" stroke-width="1" />
<text x="578.7" y="1026.57" font-size="10.2" text-anchor="end">0</text>
<line x1="580.7" y1="998.8" x2="586.2" y2="998.8" stroke="#2b2b2b" stroke-width="1" />
<text x="578.7" y="1002.47" font-size="10.2" text-anchor="end">1</text>
<line x1="580.7" y1="974.7" x2="586.2" y2="974.7" stroke="#2b2b2b" stroke-width="1" />
<text x="578.7" y="978.37" font-size="10.2" text-anchor="end">2</text>
<line x1="580.7" y1="950.6" x2="586.2" y2="950.6" stroke="#2b2b2b" stroke-width="1" />
<text x="578.7" y="954.27" font-size="10.2" text-anchor="end">3</text>
<line x1="580.7" y1="926.5" x2="586.2" y2="926.5" stroke="#2b2b2b" stroke-width="1" />
<text x="578.7" y="930.17" font-size="10.2" text-anchor="end">4</text>
<rect x="591.5" y="996.39" width="24.4" height="26.51" fill="#fff" stroke="none" stroke-width="0"/>
<rect x="618.7" y="987.95" width="24.6" height="34.95" fill="#fff" stroke="none" stroke-width="0"/>
<circle cx="605.81" cy="963.86" r="1.95" fill="none" stroke="#bdbdbd" stroke-width="0.8"/>
<circle cx="599.49" cy="981.45" r="1.95" fill="none" stroke="#bdbdbd" stroke-width="0.8"/>
<circle cx="603.7" cy="981.93" r="1.95" fill="none" stroke="#bdbdbd" stroke-width="0.8"/>
<circle cx="607.91" cy="983.13" r="1.95" fill="none" stroke="#bdbdbd" stroke-width="0.8"/>
<circle cx="597.38" cy="989.16" r="1.95" fill="none" stroke="#bdbdbd" stroke-width="0.8"/>
<circle cx="601.59" cy="990.37" r="1.95" fill="none" stroke="#bdbdbd" stroke-width="0.8"/>
<circle cx="605.81" cy="991.57" r="1.95" fill="none" stroke="#bdbdbd" stroke-width="0.8"/>
<circle cx="610.02" cy="993.98" r="1.95" fill="none" stroke="#bdbdbd" stroke-width="0.8"/>
<circle cx="597.38" cy="998.8" r="1.95" fill="none" stroke="#bdbdbd" stroke-width="0.8"/>
<circle cx="601.59" cy="1000" r="1.95" fill="none" stroke="#bdbdbd" stroke-width="0.8"/>
<circle cx="605.81" cy="1001.21" r="1.95" fill="none" stroke="#bdbdbd" stroke-width="0.8"/>
<circle cx="610.02" cy="1003.62" r="1.95" fill="none" stroke="#bdbdbd" stroke-width="0.8"/>
<circle cx="597.38" cy="1006.03" r="1.95" fill="none" stroke="#bdbdbd" stroke-width="0.8"/>
<circle cx="601.59" cy="1008.44" r="1.95" fill="none" stroke="#bdbdbd" stroke-width="0.8"/>
<circle cx="605.81" cy="1009.64" r="1.95" fill="none" stroke="#bdbdbd" stroke-width="0.8"/>
<circle cx="610.02" cy="1010.85" r="1.95" fill="none" stroke="#bdbdbd" stroke-width="0.8"/>
<circle cx="603.7" cy="1013.26" r="1.95" fill="none" stroke="#bdbdbd" stroke-width="0.8"/>
<circle cx="628.89" cy="939.75" r="1.95" fill="none" stroke="#dcb0de" stroke-width="0.8"/>
<circle cx="633.11" cy="944.57" r="1.95" fill="none" stroke="#dcb0de" stroke-width="0.8"/>
<circle cx="628.89" cy="969.88" r="1.95" fill="none" stroke="#dcb0de" stroke-width="0.8"/>
<circle cx="633.11" cy="974.7" r="1.95" fill="none" stroke="#dcb0de" stroke-width="0.8"/>
<circle cx="626.79" cy="977.11" r="1.95" fill="none" stroke="#dcb0de" stroke-width="0.8"/>
<circle cx="631" cy="978.31" r="1.95" fill="none" stroke="#dcb0de" stroke-width="0.8"/>
<circle cx="635.21" cy="979.52" r="1.95" fill="none" stroke="#dcb0de" stroke-width="0.8"/>
<circle cx="626.79" cy="984.34" r="1.95" fill="none" stroke="#dcb0de" stroke-width="0.8"/>
<circle cx="631" cy="986.75" r="1.95" fill="none" stroke="#dcb0de" stroke-width="0.8"/>
<circle cx="635.21" cy="989.16" r="1.95" fill="none" stroke="#dcb0de" stroke-width="0.8"/>
<circle cx="628.89" cy="991.57" r="1.95" fill="none" stroke="#dcb0de" stroke-width="0.8"/>
<circle cx="633.11" cy="993.98" r="1.95" fill="none" stroke="#dcb0de" stroke-width="0.8"/>
<circle cx="624.68" cy="998.8" r="1.95" fill="none" stroke="#dcb0de" stroke-width="0.8"/>
<circle cx="628.89" cy="1001.21" r="1.95" fill="none" stroke="#dcb0de" stroke-width="0.8"/>
<circle cx="633.11" cy="1002.41" r="1.95" fill="none" stroke="#dcb0de" stroke-width="0.8"/>
<circle cx="637.32" cy="1004.82" r="1.95" fill="none" stroke="#dcb0de" stroke-width="0.8"/>
<circle cx="626.79" cy="1008.44" r="1.95" fill="none" stroke="#dcb0de" stroke-width="0.8"/>
<circle cx="631" cy="1009.64" r="1.95" fill="none" stroke="#dcb0de" stroke-width="0.8"/>
<circle cx="635.21" cy="1013.26" r="1.95" fill="none" stroke="#dcb0de" stroke-width="0.8"/>
<path d="M591.5,1022.9V996.39H615.9V1022.9" fill="none" stroke="#1c1c1c" stroke-width="1.5"/>
<line x1="603.7" y1="1000" x2="603.7" y2="993.26" stroke="#2b2b2b" stroke-width="1.2" />
<line x1="597.2" y1="993.26" x2="610.2" y2="993.26" stroke="#2b2b2b" stroke-width="1.2" />
<line x1="597.2" y1="1000" x2="610.2" y2="1000" stroke="#2b2b2b" stroke-width="1.2" />
<line x1="603.7" y1="1022.9" x2="603.7" y2="1026.5" stroke="#2b2b2b" stroke-width="1" />
<path d="M618.7,1022.9V987.95H643.3V1022.9" fill="none" stroke="#1c1c1c" stroke-width="1.5"/>
<line x1="631" y1="992.77" x2="631" y2="983.13" stroke="#2b2b2b" stroke-width="1.2" />
<line x1="624.5" y1="983.13" x2="637.5" y2="983.13" stroke="#2b2b2b" stroke-width="1.2" />
<line x1="624.5" y1="992.77" x2="637.5" y2="992.77" stroke="#2b2b2b" stroke-width="1.2" />
<line x1="631" y1="1022.9" x2="631" y2="1026.5" stroke="#2b2b2b" stroke-width="1" />
<line x1="580.7" y1="1022.9" x2="647.6" y2="1022.9" stroke="#2b2b2b" stroke-width="1.3" />
<line x1="597.1" y1="918.7" x2="637.3" y2="918.7" stroke="#2b2b2b" stroke-width="1.1" />
<text x="617.2" y="915" font-size="8.8" text-anchor="middle">P=0.199</text>
<text x="588.6" y="1035.18" font-size="9.4" style="fill:#929292;stroke:#929292">n</text>
<text x="603.8" y="1035.18" font-size="9.4" text-anchor="middle" style="fill:#929292;stroke:#929292">17</text>
<text x="631.3" y="1035.18" font-size="9.4" text-anchor="middle" style="fill:#929292;stroke:#929292">19</text>
<text x="623.8" y="1048.35" font-size="10.4" text-anchor="middle">WT N1013S</text>
<text x="551.48" y="982.6" font-size="10.5" text-anchor="middle" transform="rotate(-90 551.48 982.6)">Apparent replenishment</text>
<text x="564.68" y="981" font-size="10.5" text-anchor="middle" transform="rotate(-90 564.68 981)">rate constant (s<tspan font-size="6.5" dy="-3.6">-1</tspan><tspan dy="3.6">)</tspan></text>
</svg>
</body></html>
